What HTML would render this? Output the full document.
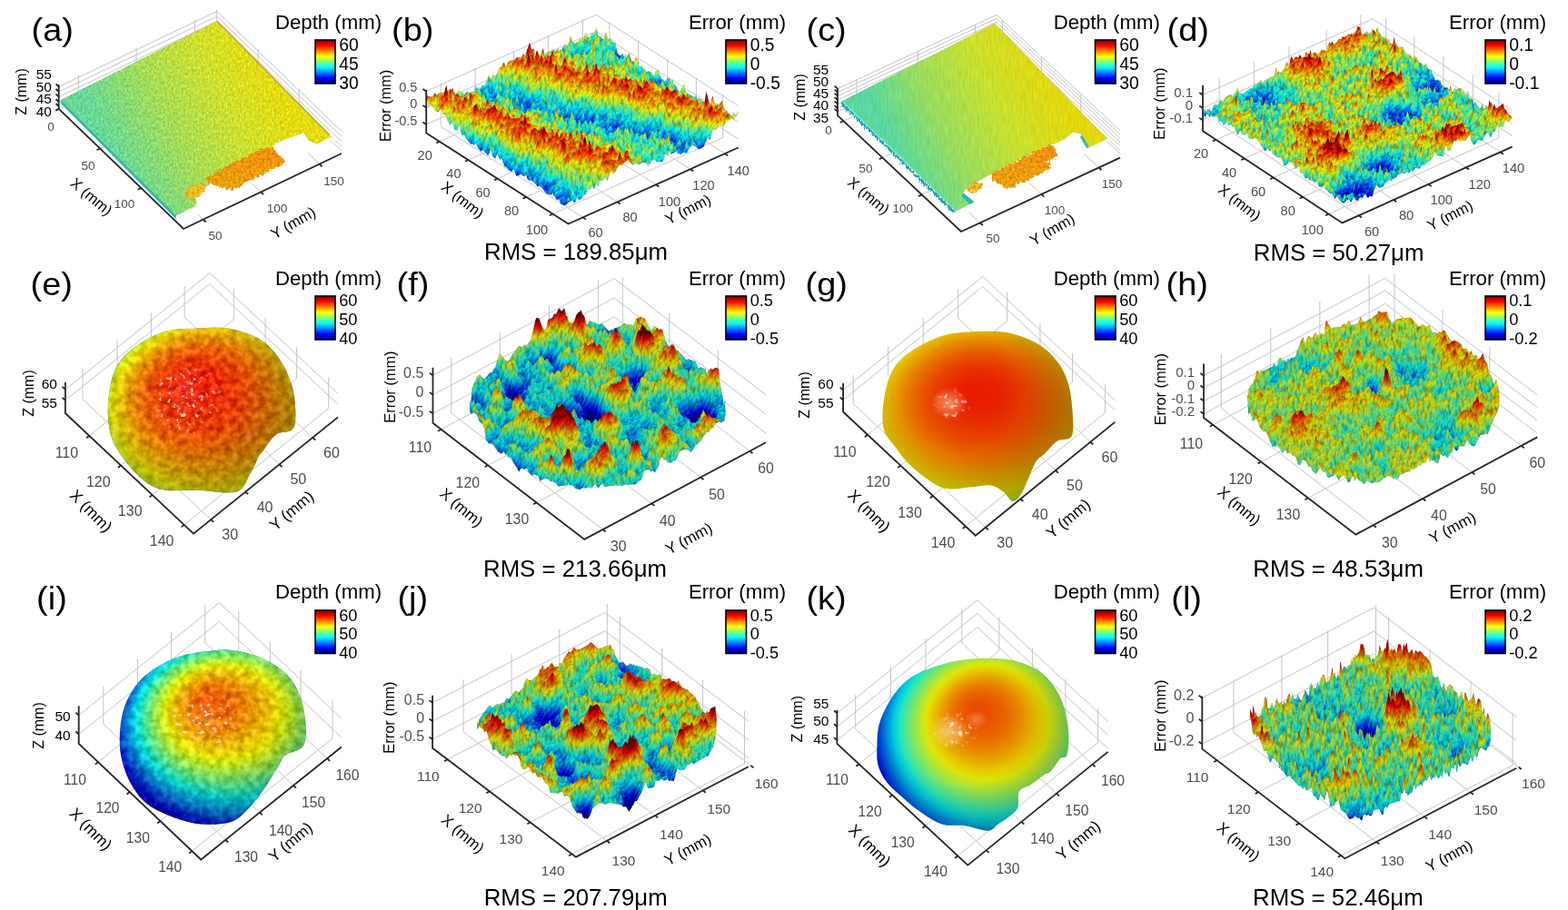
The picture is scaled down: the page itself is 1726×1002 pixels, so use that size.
<!DOCTYPE html><html><head><meta charset="utf-8"><style>html,body{margin:0;padding:0;background:#fff;overflow:hidden}svg{display:block}text{font-family:'Liberation Sans', Arial, Helvetica, sans-serif}</style></head><body>
<svg width="1726" height="1002" viewBox="0 0 1726 1002">
<defs><linearGradient id="jetv" x1="0" y1="1" x2="0" y2="0"><stop offset="0" stop-color="#000080"/><stop offset="0.125" stop-color="#0000ff"/><stop offset="0.375" stop-color="#00ffff"/><stop offset="0.625" stop-color="#ffff00"/><stop offset="0.875" stop-color="#ff0000"/><stop offset="1" stop-color="#800000"/></linearGradient><filter id="tx" x="0" y="0" width="1" height="1" color-interpolation-filters="sRGB"><feTurbulence type="fractalNoise" baseFrequency="0.35 0.12" numOctaves="2" seed="7"/><feColorMatrix type="matrix" values="1 0 0 0 0 1 0 0 0 0 1 0 0 0 0 0 0 0 0 1"/><feComponentTransfer result="n"><feFuncR type="linear" slope="0.9" intercept="0.5"/><feFuncG type="linear" slope="0.9" intercept="0.5"/><feFuncB type="linear" slope="0.9" intercept="0.5"/></feComponentTransfer><feComposite in="SourceGraphic" in2="n" operator="arithmetic" k1="1"/></filter><linearGradient id="gb" gradientUnits="userSpaceOnUse" x1="938.4" y1="274.0" x2="911.1" y2="213.2"><stop offset="0" stop-color="#000079"/><stop offset="0.125" stop-color="#0000f2"/><stop offset="0.375" stop-color="#00f2f2"/><stop offset="0.625" stop-color="#f2f200"/><stop offset="0.875" stop-color="#f20000"/><stop offset="1" stop-color="#790000"/></linearGradient><linearGradient id="gd" gradientUnits="userSpaceOnUse" x1="2648.0" y1="268.4" x2="2625.5" y2="218.1"><stop offset="0" stop-color="#000077"/><stop offset="0.125" stop-color="#0000ed"/><stop offset="0.375" stop-color="#00eded"/><stop offset="0.625" stop-color="#eded00"/><stop offset="0.875" stop-color="#ed0000"/><stop offset="1" stop-color="#770000"/></linearGradient><linearGradient id="gf" gradientUnits="userSpaceOnUse" x1="953.0" y1="907.2" x2="917.5" y2="840.7"><stop offset="0" stop-color="#00006e"/><stop offset="0.125" stop-color="#0000db"/><stop offset="0.375" stop-color="#00dbdb"/><stop offset="0.625" stop-color="#dbdb00"/><stop offset="0.875" stop-color="#db0000"/><stop offset="1" stop-color="#6e0000"/></linearGradient><linearGradient id="gh" gradientUnits="userSpaceOnUse" x1="2650.0" y1="905.6" x2="2613.3" y2="837.2"><stop offset="0" stop-color="#00006e"/><stop offset="0.125" stop-color="#0000db"/><stop offset="0.375" stop-color="#00dbdb"/><stop offset="0.625" stop-color="#dbdb00"/><stop offset="0.875" stop-color="#db0000"/><stop offset="1" stop-color="#6e0000"/></linearGradient><linearGradient id="gj" gradientUnits="userSpaceOnUse" x1="952.2" y1="1624.2" x2="918.9" y2="1560.6"><stop offset="0" stop-color="#00006e"/><stop offset="0.125" stop-color="#0000db"/><stop offset="0.375" stop-color="#00dbdb"/><stop offset="0.625" stop-color="#dbdb00"/><stop offset="0.875" stop-color="#db0000"/><stop offset="1" stop-color="#6e0000"/></linearGradient><linearGradient id="gl" gradientUnits="userSpaceOnUse" x1="2646.6" y1="1637.7" x2="2606.1" y2="1560.8"><stop offset="0" stop-color="#00006e"/><stop offset="0.125" stop-color="#0000db"/><stop offset="0.375" stop-color="#00dbdb"/><stop offset="0.625" stop-color="#dbdb00"/><stop offset="0.875" stop-color="#db0000"/><stop offset="1" stop-color="#6e0000"/></linearGradient><linearGradient id="pa" gradientUnits="userSpaceOnUse" x1="130" y1="175" x2="300" y2="87"><stop offset="0" stop-color="#68d898"/><stop offset="0.35" stop-color="#a4dc58"/><stop offset="0.7" stop-color="#cfe030"/><stop offset="1" stop-color="#e4dc10"/></linearGradient><linearGradient id="ob" x1="0" y1="0" x2="0" y2="1"><stop offset="0" stop-color="#f08a10"/><stop offset="1" stop-color="#e0a010"/></linearGradient><linearGradient id="pc" gradientUnits="userSpaceOnUse" x1="990" y1="173" x2="1157" y2="89"><stop offset="0" stop-color="#58d8a0"/><stop offset="0.3" stop-color="#98dc60"/><stop offset="0.65" stop-color="#c8e030"/><stop offset="1" stop-color="#e2d810"/></linearGradient><filter id="ptex" x="0" y="0" width="1" height="1" color-interpolation-filters="sRGB"><feTurbulence type="fractalNoise" baseFrequency="0.45 0.3" numOctaves="2" seed="4"/><feColorMatrix type="matrix" values="1 0 0 0 0 1 0 0 0 0 1 0 0 0 0 0 0 0 0 1" result="g"/><feComposite in="SourceGraphic" in2="g" operator="arithmetic" k2="1" k3="0.3" k4="-0.15" result="c"/><feComposite in="c" in2="SourceAlpha" operator="in"/></filter><filter id="ptex2" x="0" y="0" width="1" height="1" color-interpolation-filters="sRGB"><feTurbulence type="fractalNoise" baseFrequency="0.5 0.08" numOctaves="1" seed="5"/><feColorMatrix type="matrix" values="1 0 0 0 0 1 0 0 0 0 1 0 0 0 0 0 0 0 0 1" result="g"/><feComposite in="SourceGraphic" in2="g" operator="arithmetic" k2="1" k3="0.12" k4="-0.06" result="c"/><feComposite in="c" in2="SourceAlpha" operator="in"/></filter><filter id="dtex" x="0" y="0" width="1" height="1" color-interpolation-filters="sRGB"><feTurbulence type="fractalNoise" baseFrequency="0.13" numOctaves="2" seed="8"/><feColorMatrix type="matrix" values="1 0 0 0 0 1 0 0 0 0 1 0 0 0 0 0 0 0 0 1" result="g"/><feComposite in="SourceGraphic" in2="g" operator="arithmetic" k2="1" k3="0.5" k4="-0.25" result="c"/><feComposite in="c" in2="SourceAlpha" operator="in"/></filter><filter id="rough2" x="-5%" y="-20%" width="110%" height="140%"><feTurbulence type="fractalNoise" baseFrequency="0.6 0.2" numOctaves="2" seed="6" result="n"/><feDisplacementMap in="SourceGraphic" in2="n" scale="7" xChannelSelector="R" yChannelSelector="G"/></filter><filter id="rough" x="-10%" y="-10%" width="120%" height="120%"><feTurbulence type="fractalNoise" baseFrequency="0.35" numOctaves="2" seed="3" result="n"/><feDisplacementMap in="SourceGraphic" in2="n" scale="6" xChannelSelector="R" yChannelSelector="G" result="d"/><feColorMatrix in="n" type="matrix" values="0 0 0 1 0 0 0 0 1 0 0 0 0 1 0 0 0 0 0 1" result="g"/><feComposite in="d" in2="g" operator="arithmetic" k1="1.2" k2="0.45" result="m"/><feComposite in="m" in2="d" operator="in"/></filter><radialGradient id="spg"><stop offset="0" stop-color="#fff" stop-opacity="1"/><stop offset="0.6" stop-color="#fff" stop-opacity="0.7"/><stop offset="1" stop-color="#fff" stop-opacity="0"/></radialGradient><filter id="spec" x="0" y="0" width="1" height="1" color-interpolation-filters="sRGB"><feTurbulence type="fractalNoise" baseFrequency="0.2" numOctaves="2" seed="11"/><feColorMatrix type="matrix" values="0 0 0 0 1 0 0 0 0 0.97 0 0 0 0 0.9 5 0 0 0 -2.85"/><feComposite in2="SourceAlpha" operator="in"/></filter><radialGradient id="shde" gradientUnits="userSpaceOnUse" cx="200" cy="420" r="125"><stop offset="0" stop-color="#000" stop-opacity="0"/><stop offset="0.55" stop-color="#000" stop-opacity="0.03"/><stop offset="1" stop-color="#000" stop-opacity="0.28"/></radialGradient><radialGradient id="shdg" gradientUnits="userSpaceOnUse" cx="1055" cy="430" r="130"><stop offset="0" stop-color="#000" stop-opacity="0"/><stop offset="0.55" stop-color="#000" stop-opacity="0.03"/><stop offset="1" stop-color="#000" stop-opacity="0.28"/></radialGradient><radialGradient id="shdi" gradientUnits="userSpaceOnUse" cx="225" cy="770" r="135"><stop offset="0" stop-color="#000" stop-opacity="0"/><stop offset="0.55" stop-color="#000" stop-opacity="0.03"/><stop offset="1" stop-color="#000" stop-opacity="0.28"/></radialGradient><radialGradient id="shdk" gradientUnits="userSpaceOnUse" cx="1060" cy="790" r="135"><stop offset="0" stop-color="#000" stop-opacity="0"/><stop offset="0.55" stop-color="#000" stop-opacity="0.03"/><stop offset="1" stop-color="#000" stop-opacity="0.28"/></radialGradient><radialGradient id="hl"><stop offset="0" stop-color="#fff8e0" stop-opacity="0.9"/><stop offset="0.6" stop-color="#fff0c0" stop-opacity="0.45"/><stop offset="1" stop-color="#fff0c0" stop-opacity="0"/></radialGradient><radialGradient id="de" gradientUnits="userSpaceOnUse" gradientTransform="matrix(1 0 0 0.8541 0 0)" cx="242.4" cy="538.8" r="153.8" fx="208.6" fy="493.7"><stop offset="0.00" stop-color="#eb1700"/><stop offset="0.05" stop-color="#eb1900"/><stop offset="0.10" stop-color="#eb1d00"/><stop offset="0.15" stop-color="#eb2300"/><stop offset="0.20" stop-color="#eb2b00"/><stop offset="0.25" stop-color="#eb3600"/><stop offset="0.30" stop-color="#eb4200"/><stop offset="0.35" stop-color="#eb5000"/><stop offset="0.40" stop-color="#eb6000"/><stop offset="0.45" stop-color="#eb7200"/><stop offset="0.50" stop-color="#eb8600"/><stop offset="0.55" stop-color="#eb9c00"/><stop offset="0.60" stop-color="#ebb300"/><stop offset="0.65" stop-color="#ebcc00"/><stop offset="0.70" stop-color="#ebe700"/><stop offset="0.75" stop-color="#d2eb19"/><stop offset="0.80" stop-color="#b3eb37"/><stop offset="0.85" stop-color="#93eb57"/><stop offset="0.90" stop-color="#72eb79"/><stop offset="0.95" stop-color="#4feb9c"/><stop offset="1.00" stop-color="#2aebc1"/></radialGradient><radialGradient id="dg" gradientUnits="userSpaceOnUse" gradientTransform="matrix(1 0 0 0.7857 0 0)" cx="1086.8" cy="579.3" r="158.6" fx="1075.5" fy="549.4"><stop offset="0.00" stop-color="#eb1a00"/><stop offset="0.05" stop-color="#eb1b00"/><stop offset="0.10" stop-color="#eb1e00"/><stop offset="0.15" stop-color="#eb2200"/><stop offset="0.20" stop-color="#eb2900"/><stop offset="0.25" stop-color="#eb3100"/><stop offset="0.30" stop-color="#eb3b00"/><stop offset="0.35" stop-color="#eb4600"/><stop offset="0.40" stop-color="#eb5400"/><stop offset="0.45" stop-color="#eb6300"/><stop offset="0.50" stop-color="#eb7400"/><stop offset="0.55" stop-color="#eb8600"/><stop offset="0.60" stop-color="#eb9b00"/><stop offset="0.65" stop-color="#ebb100"/><stop offset="0.70" stop-color="#ebc900"/><stop offset="0.75" stop-color="#ebe200"/><stop offset="0.80" stop-color="#d7eb13"/><stop offset="0.85" stop-color="#baeb30"/><stop offset="0.90" stop-color="#9ceb4f"/><stop offset="0.95" stop-color="#7beb6f"/><stop offset="1.00" stop-color="#59eb92"/></radialGradient><radialGradient id="di" gradientUnits="userSpaceOnUse" gradientTransform="matrix(1 0 0 0.7974 0 0)" cx="277.0" cy="1013.0" r="178.5" fx="229.1" fy="967.2"><stop offset="0.00" stop-color="#eb5700"/><stop offset="0.05" stop-color="#eb5b00"/><stop offset="0.10" stop-color="#eb6700"/><stop offset="0.15" stop-color="#eb7800"/><stop offset="0.20" stop-color="#eb8e00"/><stop offset="0.25" stop-color="#eba800"/><stop offset="0.30" stop-color="#ebc700"/><stop offset="0.35" stop-color="#ebe900"/><stop offset="0.40" stop-color="#c6eb25"/><stop offset="0.45" stop-color="#9ceb4f"/><stop offset="0.50" stop-color="#6eeb7d"/><stop offset="0.55" stop-color="#3debae"/><stop offset="0.60" stop-color="#08ebe2"/><stop offset="0.65" stop-color="#00bbeb"/><stop offset="0.70" stop-color="#0080eb"/><stop offset="0.75" stop-color="#0041eb"/><stop offset="0.80" stop-color="#0000ea"/><stop offset="0.85" stop-color="#0000a6"/><stop offset="0.90" stop-color="#000075"/><stop offset="0.95" stop-color="#000075"/><stop offset="1.00" stop-color="#000075"/></radialGradient><radialGradient id="dk" gradientUnits="userSpaceOnUse" gradientTransform="matrix(1 0 0 0.9267 0 0)" cx="1103.8" cy="879.4" r="170.6" fx="1075.7" fy="843.3"><stop offset="0.00" stop-color="#eb4a00"/><stop offset="0.05" stop-color="#eb4d00"/><stop offset="0.10" stop-color="#eb5700"/><stop offset="0.15" stop-color="#eb6500"/><stop offset="0.20" stop-color="#eb7800"/><stop offset="0.25" stop-color="#eb9100"/><stop offset="0.30" stop-color="#ebad00"/><stop offset="0.35" stop-color="#ebce00"/><stop offset="0.40" stop-color="#e1eb09"/><stop offset="0.45" stop-color="#b8eb33"/><stop offset="0.50" stop-color="#89eb61"/><stop offset="0.55" stop-color="#57eb93"/><stop offset="0.60" stop-color="#21ebca"/><stop offset="0.65" stop-color="#00d1eb"/><stop offset="0.70" stop-color="#0093eb"/><stop offset="0.75" stop-color="#0051eb"/><stop offset="0.80" stop-color="#000aeb"/><stop offset="0.85" stop-color="#0000ab"/><stop offset="0.90" stop-color="#000075"/><stop offset="0.95" stop-color="#000075"/><stop offset="1.00" stop-color="#000075"/></radialGradient></defs>
<rect width="100%" height="100%" fill="#fff"/>
<path d="M64.7 119.9L238.7 36.9L238.7 10.2M110.0 163.5L284.0 80.5L284.0 53.8M155.3 207.1L329.3 124.1L329.3 97.4M223.6 241.7L86.3 109.6L86.3 82.9M287.3 211.3L150.0 79.2L150.0 52.5M351.6 180.6L214.3 48.5L214.3 21.8M64.7 117.1L238.7 34.1L376.0 166.2M64.7 112.3L238.7 29.3L376.0 161.4M64.7 106.7L238.7 23.7L376.0 155.8M64.7 101.1L238.7 18.1L376.0 150.2M64.7 95.5L238.7 12.5L376.0 144.6" fill="none" stroke="#c0c0c0" stroke-width="0.9"/>
<path d="M483.8 155.9L670.9 71.8L670.9 24.3M515.5 176.1L702.6 92.0L702.6 44.5M547.7 196.8L734.8 112.7L734.8 65.2M579.3 216.9L766.4 132.8L766.4 85.3M608.5 235.6L795.6 151.5L795.6 104.0M641.6 239.4L485.2 139.3L485.2 91.8M679.5 222.4L523.1 122.3L523.1 74.8M722.0 203.3L565.6 103.2L565.6 55.7M759.8 186.3L603.4 86.2L603.4 38.7M797.9 169.2L641.5 69.1L641.5 21.6M469.2 137.0L656.3 52.9L812.7 153.0M469.2 118.5L656.3 34.4L812.7 134.5M469.2 100.4L656.3 16.3L812.7 116.4" fill="none" stroke="#c0c0c0" stroke-width="0.9"/>
<path d="M928.5 133.3L1103.5 51.9L1103.5 21.9M971.4 173.6L1146.4 92.2L1146.4 62.2M1014.8 214.4L1189.8 133.0L1189.8 103.0M1078.8 245.3L942.8 117.5L942.8 87.5M1146.4 213.9L1010.4 86.1L1010.4 56.1M1209.5 184.5L1073.5 56.7L1073.5 26.7M922.0 122.9L1097.0 41.5L1233.0 169.3M922.0 119.3L1097.0 37.9L1233.0 165.7M922.0 114.5L1097.0 33.1L1233.0 160.9M922.0 110.1L1097.0 28.7L1233.0 156.5M922.0 105.7L1097.0 24.3L1233.0 152.1M922.0 101.7L1097.0 20.3L1233.0 148.1M922.0 97.7L1097.0 16.3L1233.0 144.1" fill="none" stroke="#c0c0c0" stroke-width="0.9"/>
<path d="M1338.6 153.9L1525.7 70.1L1525.7 19.7M1369.8 174.5L1556.9 90.7L1556.9 40.3M1401.8 195.5L1588.9 111.7L1588.9 61.3M1434.2 216.9L1621.3 133.1L1621.3 82.7M1462.7 235.6L1649.8 151.8L1649.8 101.4M1495.6 237.3L1342.1 136.2L1342.1 85.8M1533.9 220.1L1380.4 119.0L1380.4 68.6M1572.4 202.9L1418.9 101.8L1418.9 51.4M1613.6 184.4L1460.1 83.3L1460.1 32.9M1651.4 167.5L1497.9 66.4L1497.9 16.0M1324.0 132.2L1511.1 48.4L1664.6 149.5M1324.0 119.1L1511.1 35.3L1664.6 136.4M1324.0 104.5L1511.1 20.7L1664.6 121.8" fill="none" stroke="#c0c0c0" stroke-width="0.9"/>
<path d="M98.3 479.8L257.3 351.6L257.3 317.3M133.0 512.5L292.0 384.3L292.0 350.0M167.6 544.9L326.6 416.7L326.6 382.4M202.7 577.9L361.7 449.7L361.7 415.4M232.1 572.2L91.0 439.6L91.0 405.3M270.2 541.5L129.1 408.9L129.1 374.6M307.5 511.4L166.4 378.8L166.4 344.5M344.2 481.8L203.1 349.2L203.1 314.9M71.9 440.9L230.9 312.7L372.0 445.3M71.9 428.9L230.9 300.7L372.0 433.3" fill="none" stroke="#c0c0c0" stroke-width="0.9"/>
<path d="M485.6 472.8L685.3 366.2L685.3 305.2M537.1 512.3L736.8 405.7L736.8 344.7M590.6 553.4L790.3 446.8L790.3 385.8M663.5 583.1L496.7 455.0L496.7 394.0M717.2 554.5L550.4 426.4L550.4 365.4M771.3 525.6L604.5 397.5L604.5 336.5M825.4 496.7L658.6 368.6L658.6 307.6M476.5 455.4L676.2 348.8L843.0 476.9M476.5 434.7L676.2 328.1L843.0 456.2M476.5 413.3L676.2 306.7L843.0 434.8" fill="none" stroke="#c0c0c0" stroke-width="0.9"/>
<path d="M955.0 478.7L1108.6 353.6L1108.6 322.1M991.3 512.6L1144.9 387.5L1144.9 356.0M1026.9 545.8L1180.5 420.7L1180.5 389.2M1062.9 579.5L1216.5 454.4L1216.5 422.9M1084.9 580.7L939.2 444.5L939.2 413.0M1123.4 549.3L977.7 413.1L977.7 381.6M1161.9 518.0L1016.2 381.8L1016.2 350.3M1200.4 486.6L1054.7 350.4L1054.7 318.9M928.1 440.6L1081.7 315.5L1227.4 451.7M928.1 429.6L1081.7 304.5L1227.4 440.7" fill="none" stroke="#c0c0c0" stroke-width="0.9"/>
<path d="M1335.2 467.8L1535.0 360.6L1535.0 301.1M1388.2 508.5L1588.0 401.3L1588.0 341.8M1440.0 548.3L1639.8 441.1L1639.8 381.6M1511.7 578.2L1344.3 449.6L1344.3 390.1M1566.2 549.0L1398.8 420.4L1398.8 360.9M1620.2 520.0L1452.8 391.4L1452.8 331.9M1674.5 490.9L1507.1 362.3L1507.1 302.8M1325.0 455.8L1524.8 348.6L1692.2 477.2M1325.0 441.6L1524.8 334.4L1692.2 463.0M1325.0 427.3L1524.8 320.1L1692.2 448.7M1325.0 413.6L1524.8 306.4L1692.2 435.0" fill="none" stroke="#c0c0c0" stroke-width="0.9"/>
<path d="M108.0 839.1L262.7 715.1L262.7 673.5M142.7 872.0L297.4 748.0L297.4 706.4M176.4 904.0L331.1 780.0L331.1 738.4M211.3 937.1L366.0 813.1L366.0 771.5M248.3 924.8L113.8 797.2L113.8 755.6M285.9 894.7L151.4 767.1L151.4 725.5M323.0 864.9L188.5 737.3L188.5 695.7M360.2 835.1L225.7 707.5L225.7 665.9M86.7 808.5L241.4 684.5L375.9 812.1M86.7 787.7L241.4 663.7L375.9 791.3" fill="none" stroke="#c0c0c0" stroke-width="0.9"/>
<path d="M492.6 836.2L682.4 736.8L682.4 678.9M538.9 871.4L728.7 772.0L728.7 714.1M583.8 905.5L773.6 806.1L773.6 748.2M629.7 940.3L819.5 840.9L819.5 783.0M668.0 925.8L510.1 805.9L510.1 748.0M721.0 898.0L563.1 778.1L563.1 720.2M773.7 870.4L615.8 750.5L615.8 692.6M826.3 842.9L668.4 723.0L668.4 665.1M476.1 814.1L665.9 714.7L823.8 834.6M476.1 794.2L665.9 694.8L823.8 814.7M476.1 773.8L665.9 674.4L823.8 794.3" fill="none" stroke="#c0c0c0" stroke-width="0.9"/>
<path d="M945.5 841.3L1099.8 716.6L1099.8 679.4M982.1 875.3L1136.4 750.6L1136.4 713.4M1018.6 909.2L1172.9 784.5L1172.9 747.3M1054.2 942.3L1208.5 817.6L1208.5 780.4M1085.6 936.2L941.7 802.5L941.7 765.3M1124.4 904.8L980.5 771.1L980.5 733.9M1162.9 873.7L1019.0 740.0L1019.0 702.8M1202.7 841.6L1058.8 707.9L1058.8 670.7M921.4 815.2L1075.7 690.5L1219.6 824.2M921.4 800.3L1075.7 675.6L1219.6 809.3M921.4 785.4L1075.7 660.7L1219.6 794.4" fill="none" stroke="#c0c0c0" stroke-width="0.9"/>
<path d="M1339.7 837.2L1528.6 737.8L1528.6 680.0M1385.2 872.1L1574.1 772.7L1574.1 714.9M1430.1 906.6L1619.0 807.2L1619.0 749.4M1476.2 942.0L1665.1 842.6L1665.1 784.8M1515.0 927.0L1357.9 806.4L1357.9 748.6M1568.0 899.1L1410.9 778.5L1410.9 720.7M1618.7 872.4L1461.6 751.8L1461.6 694.0M1671.6 844.6L1514.5 724.0L1514.5 666.2M1323.3 819.4L1512.2 720.0L1669.3 840.6M1323.3 794.5L1512.2 695.1L1669.3 815.7M1323.3 768.5L1512.2 669.1L1669.3 789.7" fill="none" stroke="#c0c0c0" stroke-width="0.9"/>
<polygon points="67.0,110.0 194.0,237.5 194.0,241.5 67.0,114.0" fill="#2bb8a8"/><polygon points="67.0,110.0 238.7,23.0 364.6,150.5 194.0,237.5" fill="url(#pa)" filter="url(#ptex)"/><polyline points="238.7,23.0 362.6,148.5" fill="none" stroke="#c8a020" stroke-width="1.5"/><polygon points="193.0,239.0 201.0,234.6 212.0,230.4 216.6,223.4 215.0,216.4 222.0,209.4 240.0,196.0 262.0,186.0 282.0,176.0 300.0,163.0 303.0,158.0 318.0,152.0 330.0,148.0 334.0,146.0 340.0,155.0 350.0,159.0 364.0,151.0 368.0,153.0 200.0,245.0" fill="#fff"/><polygon points="226.0,196.0 243.0,187.0 264.0,176.0 286.0,165.0 299.0,162.0 306.0,169.0 310.0,175.0 314.0,178.0 309.0,183.0 300.0,186.0 290.0,192.0 280.0,197.0 270.0,200.0 262.0,207.0 254.0,209.0 245.0,207.0 236.0,203.0 228.0,201.0" fill="url(#ob)" filter="url(#rough)"/><polygon points="204.0,212.0 208.0,206.0 216.0,203.0 226.0,202.0 226.0,210.0 218.0,217.0 210.0,220.0 206.0,217.0" fill="#e8b820" filter="url(#rough)"/><polygon points="926.0,111.4 1053.0,234.0 1053.0,238.0 926.0,115.4" fill="#2a9cb4" filter="url(#rough2)"/><polygon points="926.0,111.4 1095.0,25.5 1219.0,152.8 1053.0,234.0" fill="url(#pc)" filter="url(#ptex2)"/><polyline points="927.5,111.7 1053.5,233.5" fill="none" stroke="#7ff0d8" stroke-width="1.2" opacity="0.8"/><polygon points="1046.0,236.0 1072.3,222.2 1060.4,212.6 1064.0,206.6 1090.0,192.3 1117.8,177.9 1153.8,160.0 1159.8,158.7 1171.7,153.4 1181.3,145.6 1186.0,146.8 1191.0,148.0 1199.3,162.3 1202.9,161.7 1218.4,152.8 1222.0,155.0 1050.0,242.0" fill="#fff"/><polygon points="1060.4,212.6 1072.3,222.2 1068.0,225.0 1058.0,216.0" fill="#30b8b0"/><polygon points="1191.0,148.0 1199.3,162.3 1196.0,163.0 1189.0,151.0" fill="#40b8a0"/><polygon points="1091.5,191.0 1117.8,177.9 1152.6,160.0 1159.8,161.1 1164.6,170.7 1153.8,177.9 1157.4,185.0 1147.8,189.9 1138.2,194.7 1131.0,199.5 1119.0,201.9 1116.6,206.6 1107.0,207.8 1099.9,201.9 1092.7,198.3" fill="url(#ob)" filter="url(#rough)"/><polygon points="1064.0,206.6 1073.5,199.5 1081.9,201.9 1080.7,206.6 1073.5,211.4 1066.3,211.4" fill="#e8b020" filter="url(#rough)"/><path d="M216.6 361.6C204.9 362.2 192.7 361.8 181.6 365.0C170.5 368.2 158.9 374.7 150.2 380.8C141.5 386.9 134.1 393.7 129.2 401.8C124.2 409.9 122.2 420.4 120.5 429.7C118.8 439.0 118.2 448.4 118.8 457.7C119.4 467.0 120.5 476.9 124.0 485.6C127.5 494.3 133.6 502.4 139.7 510.0C145.8 517.6 153.7 526.0 160.7 531.0C167.7 536.0 172.3 538.2 181.6 539.7C190.9 541.2 203.5 539.4 216.6 539.7C229.7 540.0 250.3 544.7 260.2 541.5C270.1 538.3 271.9 526.9 276.0 520.5C280.1 514.1 282.4 507.1 284.7 503.0C287.0 498.9 286.8 500.1 290.0 496.0C293.2 491.9 298.4 482.7 303.9 478.6C309.4 474.5 319.6 477.4 323.1 471.6C326.6 465.8 325.4 452.4 324.8 443.7C324.2 435.0 322.5 427.3 319.6 419.2C316.7 411.1 312.9 402.4 307.4 394.8C301.9 387.2 295.7 379.3 286.4 373.8C277.1 368.3 263.1 363.6 251.5 361.6C239.9 359.6 228.2 361.0 216.6 361.6Z" fill="url(#de)" filter="url(#dtex)"/><path d="M216.6 361.6C204.9 362.2 192.7 361.8 181.6 365.0C170.5 368.2 158.9 374.7 150.2 380.8C141.5 386.9 134.1 393.7 129.2 401.8C124.2 409.9 122.2 420.4 120.5 429.7C118.8 439.0 118.2 448.4 118.8 457.7C119.4 467.0 120.5 476.9 124.0 485.6C127.5 494.3 133.6 502.4 139.7 510.0C145.8 517.6 153.7 526.0 160.7 531.0C167.7 536.0 172.3 538.2 181.6 539.7C190.9 541.2 203.5 539.4 216.6 539.7C229.7 540.0 250.3 544.7 260.2 541.5C270.1 538.3 271.9 526.9 276.0 520.5C280.1 514.1 282.4 507.1 284.7 503.0C287.0 498.9 286.8 500.1 290.0 496.0C293.2 491.9 298.4 482.7 303.9 478.6C309.4 474.5 319.6 477.4 323.1 471.6C326.6 465.8 325.4 452.4 324.8 443.7C324.2 435.0 322.5 427.3 319.6 419.2C316.7 411.1 312.9 402.4 307.4 394.8C301.9 387.2 295.7 379.3 286.4 373.8C277.1 368.3 263.1 363.6 251.5 361.6C239.9 359.6 228.2 361.0 216.6 361.6Z" fill="url(#shde)"/><ellipse cx="205" cy="430" rx="25" ry="28" fill="url(#hl)" opacity="0.15"/><ellipse cx="205" cy="440" rx="45" ry="45" fill="url(#spg)" filter="url(#spec)" opacity="1"/><path d="M1080.0 365.0C1068.3 365.3 1053.8 365.4 1041.6 368.6C1029.4 371.8 1016.3 378.2 1006.7 384.3C997.1 390.4 989.5 396.6 984.0 405.3C978.5 414.0 975.4 425.6 973.5 436.7C971.6 447.8 970.5 462.3 972.5 471.6C974.5 480.9 981.2 486.2 985.7 492.6C990.2 499.0 993.9 504.2 999.7 510.0C1005.5 515.8 1013.7 522.8 1020.7 527.5C1027.7 532.2 1033.4 536.5 1041.6 538.0C1049.8 539.5 1061.4 536.8 1069.6 536.2C1077.8 535.6 1084.7 533.6 1090.5 534.5C1096.3 535.4 1100.4 538.6 1104.5 541.5C1108.6 544.4 1111.5 552.0 1115.0 552.0C1118.5 552.0 1121.4 548.5 1125.5 541.5C1129.6 534.5 1135.3 517.0 1139.4 510.0C1143.5 503.0 1145.9 503.7 1150.0 499.6C1154.1 495.5 1159.0 488.8 1163.9 485.6C1168.8 482.4 1176.8 485.6 1179.6 480.4C1182.4 475.2 1181.2 463.8 1180.6 454.2C1180.0 444.6 1178.8 432.0 1176.0 422.7C1173.2 413.4 1169.4 405.6 1163.9 398.3C1158.4 391.0 1151.7 384.2 1143.0 379.0C1134.3 373.8 1122.0 369.1 1111.5 366.8C1101.0 364.5 1091.7 364.7 1080.0 365.0Z" fill="url(#dg)"/><path d="M1080.0 365.0C1068.3 365.3 1053.8 365.4 1041.6 368.6C1029.4 371.8 1016.3 378.2 1006.7 384.3C997.1 390.4 989.5 396.6 984.0 405.3C978.5 414.0 975.4 425.6 973.5 436.7C971.6 447.8 970.5 462.3 972.5 471.6C974.5 480.9 981.2 486.2 985.7 492.6C990.2 499.0 993.9 504.2 999.7 510.0C1005.5 515.8 1013.7 522.8 1020.7 527.5C1027.7 532.2 1033.4 536.5 1041.6 538.0C1049.8 539.5 1061.4 536.8 1069.6 536.2C1077.8 535.6 1084.7 533.6 1090.5 534.5C1096.3 535.4 1100.4 538.6 1104.5 541.5C1108.6 544.4 1111.5 552.0 1115.0 552.0C1118.5 552.0 1121.4 548.5 1125.5 541.5C1129.6 534.5 1135.3 517.0 1139.4 510.0C1143.5 503.0 1145.9 503.7 1150.0 499.6C1154.1 495.5 1159.0 488.8 1163.9 485.6C1168.8 482.4 1176.8 485.6 1179.6 480.4C1182.4 475.2 1181.2 463.8 1180.6 454.2C1180.0 444.6 1178.8 432.0 1176.0 422.7C1173.2 413.4 1169.4 405.6 1163.9 398.3C1158.4 391.0 1151.7 384.2 1143.0 379.0C1134.3 373.8 1122.0 369.1 1111.5 366.8C1101.0 364.5 1091.7 364.7 1080.0 365.0Z" fill="url(#shdg)"/><ellipse cx="1045" cy="444" rx="20" ry="17" fill="url(#hl)" opacity="0.5"/><ellipse cx="1048" cy="446" rx="22" ry="20" fill="url(#spg)" filter="url(#spec)" opacity="0.9"/><path d="M238.5 715.9C228.9 716.7 213.2 718.3 202.4 721.3C191.6 724.3 181.9 728.9 173.5 734.0C165.1 739.1 157.8 744.8 151.8 752.0C145.8 759.2 140.6 768.3 137.3 777.3C134.0 786.3 132.5 796.6 131.9 806.2C131.3 815.9 131.6 825.6 133.7 835.2C135.8 844.8 139.8 855.6 144.6 864.0C149.4 872.4 154.8 879.8 162.6 885.8C170.4 891.8 181.8 896.6 191.5 900.2C201.2 903.8 210.2 906.5 220.5 907.4C230.8 908.3 244.6 908.0 253.0 905.6C261.4 903.2 265.0 898.7 271.0 893.0C277.0 887.3 283.0 879.7 289.0 871.3C295.0 862.9 303.0 849.0 307.2 842.4C311.4 835.8 309.9 835.1 314.4 831.5C318.9 827.9 330.7 827.3 334.3 820.7C337.9 814.1 336.9 801.4 336.0 791.8C335.1 782.2 332.5 771.3 328.9 762.9C325.3 754.5 321.0 747.5 314.4 741.2C307.8 734.9 298.1 729.1 289.1 725.0C280.1 720.9 268.6 718.1 260.2 716.6C251.8 715.1 248.1 715.1 238.5 715.9Z" fill="url(#di)" filter="url(#dtex)"/><path d="M238.5 715.9C228.9 716.7 213.2 718.3 202.4 721.3C191.6 724.3 181.9 728.9 173.5 734.0C165.1 739.1 157.8 744.8 151.8 752.0C145.8 759.2 140.6 768.3 137.3 777.3C134.0 786.3 132.5 796.6 131.9 806.2C131.3 815.9 131.6 825.6 133.7 835.2C135.8 844.8 139.8 855.6 144.6 864.0C149.4 872.4 154.8 879.8 162.6 885.8C170.4 891.8 181.8 896.6 191.5 900.2C201.2 903.8 210.2 906.5 220.5 907.4C230.8 908.3 244.6 908.0 253.0 905.6C261.4 903.2 265.0 898.7 271.0 893.0C277.0 887.3 283.0 879.7 289.0 871.3C295.0 862.9 303.0 849.0 307.2 842.4C311.4 835.8 309.9 835.1 314.4 831.5C318.9 827.9 330.7 827.3 334.3 820.7C337.9 814.1 336.9 801.4 336.0 791.8C335.1 782.2 332.5 771.3 328.9 762.9C325.3 754.5 321.0 747.5 314.4 741.2C307.8 734.9 298.1 729.1 289.1 725.0C280.1 720.9 268.6 718.1 260.2 716.6C251.8 715.1 248.1 715.1 238.5 715.9Z" fill="url(#shdi)"/><ellipse cx="225" cy="790" rx="22" ry="22" fill="url(#hl)" opacity="0.15"/><ellipse cx="225" cy="795" rx="45" ry="40" fill="url(#spg)" filter="url(#spec)" opacity="0.9"/><path d="M1076.8 724.9C1064.8 725.5 1052.7 727.1 1040.7 730.4C1028.7 733.7 1014.2 738.8 1004.6 744.8C995.0 750.8 988.9 758.1 982.9 766.5C976.9 774.9 971.3 786.4 968.4 795.4C965.5 804.4 965.8 812.9 965.5 820.7C965.2 828.5 964.9 835.8 966.6 842.4C968.3 849.0 971.7 855.1 975.6 860.5C979.5 865.9 984.1 869.5 990.1 874.9C996.1 880.3 1004.0 887.6 1011.8 893.0C1019.6 898.4 1028.7 904.7 1037.1 907.4C1045.5 910.1 1054.0 908.0 1062.4 909.2C1070.8 910.4 1081.7 915.0 1087.7 914.7C1093.7 914.4 1094.9 909.8 1098.5 907.4C1102.1 905.0 1105.8 903.2 1109.4 900.2C1113.0 897.2 1118.1 894.2 1120.2 889.4C1122.3 884.6 1119.6 875.5 1122.0 871.3C1124.4 867.1 1130.2 867.0 1134.7 864.0C1139.2 861.0 1145.5 855.6 1149.1 853.2C1152.7 850.8 1153.3 852.6 1156.3 849.6C1159.3 846.6 1164.2 838.2 1167.2 835.2C1170.2 832.2 1172.9 836.3 1174.4 831.5C1175.9 826.7 1176.8 815.2 1176.2 806.2C1175.6 797.2 1173.5 785.7 1170.8 777.3C1168.1 768.9 1164.8 762.2 1160.0 755.6C1155.2 749.0 1149.7 742.4 1141.9 737.6C1134.1 732.8 1123.8 728.8 1113.0 726.7C1102.2 724.6 1088.8 724.3 1076.8 724.9Z" fill="url(#dk)"/><path d="M1076.8 724.9C1064.8 725.5 1052.7 727.1 1040.7 730.4C1028.7 733.7 1014.2 738.8 1004.6 744.8C995.0 750.8 988.9 758.1 982.9 766.5C976.9 774.9 971.3 786.4 968.4 795.4C965.5 804.4 965.8 812.9 965.5 820.7C965.2 828.5 964.9 835.8 966.6 842.4C968.3 849.0 971.7 855.1 975.6 860.5C979.5 865.9 984.1 869.5 990.1 874.9C996.1 880.3 1004.0 887.6 1011.8 893.0C1019.6 898.4 1028.7 904.7 1037.1 907.4C1045.5 910.1 1054.0 908.0 1062.4 909.2C1070.8 910.4 1081.7 915.0 1087.7 914.7C1093.7 914.4 1094.9 909.8 1098.5 907.4C1102.1 905.0 1105.8 903.2 1109.4 900.2C1113.0 897.2 1118.1 894.2 1120.2 889.4C1122.3 884.6 1119.6 875.5 1122.0 871.3C1124.4 867.1 1130.2 867.0 1134.7 864.0C1139.2 861.0 1145.5 855.6 1149.1 853.2C1152.7 850.8 1153.3 852.6 1156.3 849.6C1159.3 846.6 1164.2 838.2 1167.2 835.2C1170.2 832.2 1172.9 836.3 1174.4 831.5C1175.9 826.7 1176.8 815.2 1176.2 806.2C1175.6 797.2 1173.5 785.7 1170.8 777.3C1168.1 768.9 1164.8 762.2 1160.0 755.6C1155.2 749.0 1149.7 742.4 1141.9 737.6C1134.1 732.8 1123.8 728.8 1113.0 726.7C1102.2 724.6 1088.8 724.3 1076.8 724.9Z" fill="url(#shdk)"/><ellipse cx="1045" cy="805" rx="22" ry="19" fill="url(#hl)" opacity="0.55"/><ellipse cx="1075" cy="792" rx="12" ry="10" fill="url(#hl)" opacity="0.3"/><ellipse cx="1050" cy="805" rx="28" ry="24" fill="url(#spg)" filter="url(#spec)" opacity="0.9"/><g filter="url(#tx)"><g transform="scale(0.5)" fill="url(#gb)" stroke="#201000" stroke-opacity="0.16" stroke-width="1.1" stroke-linejoin="round"><path transform="translate(0.0 0.0)" d="M938 209l5 3 5 1 5 0 4-8 5 5 5-5 5-1 4 1 5-6 5 1 5-3 4 8 5-2 5 8 4-12 5 3 5 2 5 6 4-4 5-1 5-2 5 4 4-17 5 5 5 1 5-9 4 3 5-11 5-13 5 10 4-12 5 4 5-6 4-12 5-2 5-11 5 10 4-10 5-3 5-1 5-1 4-5 5-1 5 1 5-9 4 5 5-14 5-15 4 15 5-2 5 18 5 4 4-7 5-1 5 4 5-10 4-1 5-2 5-4 5 6 4-4 5 3 5-4 5-10 4 0 5 3 5-23 4 12 5 5 5-2 5-1 4-6 5 2 5-5 5 3 4-3 5-10 5 0 5-13 5 25-5-9-5 7-4 1-5-3-5 2-5-10-4 14-5-2-5 3-5 9-4 8-5-3-5 3-5-4-4 5-5 6-5 4-4 1-5-10-5 9-5-1-4 3-5-4-5 15-5-5-4 0-5 2-5-2-5 7-4-6-5-10-5-3-4-3-5 21-5-3-5 7-4 4-5-9-5 5-5 10-4 1-5-1-5 9-5 7-4-13-5 19-5 9-5 2-4-11-5 15-5 12-4 6-5 3-5 4-5-9-4 12-5-12-5 7-5 2-4 3-5-9-5 12-5-2-4-4-5-5-5 5-5 7-4-11-5-6-5 11-4-2-5 4-5 3-5-1-4 7-5 5-5-3-5-1-4 16z"/><path transform="translate(5.2 3.3)" d="M938 230l5-15 5 0 5 4 4-5 5-7 5 1 5-4 4-3 5 1 5-10 5 6 4 11 5-8 5-4 4 5 5 4 5 2 5-12 4 9 5-3 5-2 5-7 4 12 5-12 5 9 5-4 4-3 5-6 5-12 5-15 4 11 5-2 5-9 4-19 5 13 5-7 5-9 4 1 5-1 5-11 5-4 4 9 5-4 5-7 5 3 4-22 5 4 5 3 4 10 5 6 5-8 5 3 4-3 5 1 5 5 5-15 4 4 5-3 5 1 5-9 4 9 5 0 5-4 5-6 4-5 5 3 5-2 4 3 5-8 5-9 5-3 4 2 5-14 5 10 5-2 4 3 5-1 5-7 5 9 5-1-5-1-5-5-4 7-5 3-5 6-5-10-4 2-5 10-5-3-5 7-4-6-5 16-5-2-5 2-4-10-5 9-5 11-4-8-5 1-5 3-5 7-4 5-5-5-5-6-5 13-4 0-5-21-5 15-5 2-4 5-5-5-5-5-4 7-5 2-5 8-5-4-4 1-5-1-5 7-5-4-4 4-5 11-5 9-5-4-4 9-5 9-5 1-5 7-4 7-5 1-5 9-4 0-5-4-5 4-5 6-4-1-5-10-5 13-5-2-4 10-5-7-5 5-5 1-4 2-5 3-5 4-5-14-4 6-5-20-5 13-4 4-5 1-5 5-5-7-4 7-5 10-5 6-5 1-4-6z"/><path transform="translate(10.4 6.7)" d="M938 221l5 5 5-1 5-5 4-10 5-7 5 7 5-5 4-1 5-4 5-13 5 20 4-6 5 13 5-3 4-4 5-1 5-1 5-5 4 7 5-10 5 2 5-13 4 9 5 2 5-7 5-3 4 4 5 0 5-9 5-1 4-7 5-7 5-1 4-9 5-9 5 4 5-9 4-11 5-4 5 3 5-6 4 1 5-2 5 4 5-7 4-2 5-7 5 5 4 5 5-5 5-2 5-15 4 20 5 1 5-13 5 5 4 6 5-5 5-8 5-2 4-1 5 8 5-11 5-10 4 11 5-2 5 2 4-16 5 6 5-7 5 3 4-11 5-1 5 10 5-6 4-4 5-6 5 5 5 0 5 7-5 4-5 0-4-13-5 16-5-6-5 7-4 6-5 4-5 3-5-2-4 1-5 8-5 3-5-3-4 3-5 2-5-9-4 7-5-3-5-1-5 12-4-6-5 0-5 6-5-5-4 3-5 5-5-3-5 5-4-5-5 0-5 8-4-1-5-4-5 8-5 6-4-3-5-10-5 9-5 2-4 15-5 10-5 1-5 4-4 9-5-7-5 8-5 11-4 6-5 4-5 2-4 5-5-3-5-6-5 7-4 3-5-6-5 2-5-3-4 10-5 1-5-5-5 6-4 3-5 6-5-5-5 2-4-5-5-6-5 7-4-20-5 22-5-30-5 23-4 5-5 2-5 17-5-2-4 4z"/><path transform="translate(15.6 10.0)" d="M938 226l5-3 5 2 5-17 4-2 5-5 5-23 5 30 4-22 5 20 5-7 5 6 4 5 5-2 5 5 4-6 5-3 5-6 5 5 4-1 5-11 5 3 5-1 4 6 5-3 5-7 5 6 4 3 5-5 5-3 5-3 4-6 5-11 5-8 4 7 5-9 5-4 5-1 4-10 5-15 5-2 5-9 4 10 5 3 5-6 5-8 4 4 5 1 5-8 4 0 5 5 5-5 5 3 4-5 5-3 5 5 5-6 4 0 5 6 5-13 5 2 4 3 5-7 5 9 5-2 4-3 5 3 5-3 4-8 5-1 5 2 5-3 4-4 5-6 5-7 5 6 4-16 5 13 5 0 5-4 5 4-5-2-5 6-4-12-5 3-5 7-5-2-4 14-5-2-5 6-5 7-4-3-5 9-5-2-5 3-4 3-5-3-5 1-4-1-5 6-5 2-5-11-4-3-5-3-5 13-5 4-4 6-5-10-5 11-5-3-4-2-5-7-5-12-4 21-5-8-5 19-5-10-4 9-5 4-5-2-5 10-4-4-5 7-5 11-5 0-4 13-5 1-5 5-5 2-4 4-5-7-5 3-4 11-5 9-5-3-5-2-4 14-5-4-5 7-5-8-4-5-5-6-5-1-5 8-4-1-5 11-5-7-5 1-4 4-5 4-5-2-4 5-5-13-5 11-5 1-4-3-5 1-5 8-5 1-4 13z"/><path transform="translate(20.9 13.3)" d="M938 230l5-13 5-2 5-7 4-2 5 4 5-1 5-11 4 12 5-5 5 2 5-3 4-4 5-1 5 7 4-11 5 1 5-8 5 1 4 6 5 5 5 8 5-7 4 4 5-15 5 3 5 3 4-9 5-11 5-3 5 7 4-4 5-2 5-5 4-1 5-13 5 0 5-11 4-7 5 4 5-10 5 1 4-3 5-9 5 10 5-19 4 8 5-22 5 13 4 7 5 2 5 3 5-11 4 10 5-6 5-4 5-13 4 3 5 3 5 11 5-2 4-6 5 1 5-1 5 3 4-4 5-2 5 2 4-9 5 3 5-7 5-6 4 2 5-15 5 3 5-7 4-3 5 12 5-6 5 1 5 3-5-17-5 18-4 2-5 2-5-4-5 0-4 14-5 4-5 13-5 1-4 2-5-2-5 4-5-9-4 1-5 11-5-4-4-3-5 6-5-14-5 14-4-2-5-1-5 3-5 0-4-1-5-5-5 10-5-6-4 3-5 5-5 1-4-9-5 9-5 1-5-1-4-17-5 21-5 14-5 5-4 6-5 10-5-17-5 15-4 16-5-8-5-9-5 22-4 13-5-22-5 11-4 22-5-2-5 4-5-4-4-2-5 10-5-11-5 2-4-5-5-8-5 7-5 1-4-2-5 5-5-9-5 12-4-3-5 1-5-7-4 6-5 11-5-3-5 4-4-11-5 10-5 7-5 9-4 7z"/><path transform="translate(26.1 16.7)" d="M938 229l5-7 5-9 5-7 4-10 5 11 5-4 5 3 4-11 5-6 5 7 5-1 4 3 5-12 5 9 4-5 5 1 5 0 5-7 4 8 5 5 5-2 5 10 4-9 5 2 5 4 5-4 4 1 5-21 5-11 5 22 4-13 5-22 5 9 4 8 5-16 5-15 5 17 4-10 5-6 5-6 5-13 4-21 5 17 5 1 5-1 4-9 5 9 5-2 4-4 5-4 5 7 5-10 4 5 5 1 5 0 5-3 4 1 5 1 5-13 5 14 4-6 5 3 5 4 5-11 4-1 5 9 5-5 4 3 5-2 5-1 5-13 4-4 5-14 5 0 5 4 4-2 5-2 5-18 5 16 5-2-5 12-5-3-4 3-5 7-5 0-5 6-4-3-5-6-5 10-5 5-4 10-5-16-5 15-5-2-4-6-5 12-5-11-4 17-5-24-5 20-5 8-4-11-5 8-5-4-5-9-4 3-5-13-5 14-5-3-4 9-5 5-5-15-4 12-5 6-5 10-5 1-4 5-5-15-5 15-5 18-4-6-5 0-5 6-5 13-4 5-5-5-5 6-5 3-4 3-5 6-5 9-4 1-5 4-5 0-5-2-4-1-5 5-5-4-5-11-4 11-5-5-5-10-5 9-4 6-5-6-5 9-5-7-4 3-5 6-5 2-4-4-5-4-5 15-5-7-4 12-5 2-5 4-5-15-4 8z"/><path transform="translate(31.3 20.0)" d="M938 215l5-8 5 14 5-3 4-2 5-12 5 6 5-15 4 5 5 4 5-2 5-6 4-3 5 7 5-10 4 7 5-7 5-8 5 10 4 5 5-11 5 11 5 4 4-5 5 0 5 2 5 1 4-4 5-2 5-8 5-6 4-3 5-3 5-6 4 5 5-5 5-13 5-6 4 0 5 6 5-18 5-15 4 15 5-5 5-1 5-11 4-5 5-13 5 16 4-5 5-10 5 4 5-14 4 13 5-3 5 9 5 4 4-8 5 11 5-8 5-20 4 24 5-17 5 11 5-12 4 6 5 2 5-15 4 15 5-9 5-5 5-10 4 5 5 4 5-6 5 0 4-7 5-3 5 3 5-12 5 12-5 1-5-5-4 10-5-2-5 6-5 8-4-2-5 3-5-28-5 28-4 2-5 10-5-9-5 5-4-4-5 10-5-10-4 14-5-3-5-3-5 4-4 3-5 4-5-20-5 18-4 3-5-7-5-2-5 15-4-9-5 6-5 2-4-9-5 14-5-2-5 3-4 0-5 10-5 3-5 16-4 4-5-10-5 9-5 13-4-4-5 10-5 1-5-8-4 12-5 2-5 5-4-1-5 6-5 0-5 6-4 3-5-2-5-2-5 4-4-2-5-9-5-7-5 10-4-9-5 0-5 16-5-1-4-11-5 10-5 1-4-7-5 9-5 4-5 4-4 5-5 11-5 2-5-2-4 1z"/><path transform="translate(36.5 23.4)" d="M938 227l5-1 5 2 5-3 4-11 5-4 5-4 5-4 4-9 5 7 5-1 5-10 4 11 5 1 5-16 4 0 5 9 5-10 5 7 4 9 5 2 5-4 5 2 4 2 5-3 5-6 5-1 4-5 5 1 5-5 5-2 4-12 5 8 5-1 4-10 5 4 5-13 5-9 4 10 5-4 5-16 5-3 4-10 5 0 5-3 5 2 4-14 5 8 5-1 4-7 5 10 5-15 5 2 4 6 5-2 5-18 5 20 4-4 5-3 5-4 5 3 4 3 5-14 5 10 5-10 4 3 5-4 5 9 4-10 5-2 5-28 5 28 4-3 5 2 5-8 5-6 4 2 5-11 5 6 5-1 5 0-5 19-5-4-4 5-5 7-5-14-5 8-4-4-5 3-5 6-5-8-4-3-5 8-5 5-5-2-4 10-5 0-5 2-4-6-5 4-5 2-5-1-4 4-5-9-5 14-5-6-4 10-5-3-5 3-5 5-4-5-5-6-5-5-4 6-5 15-5-3-5 2-4-1-5 12-5 3-5 8-4 6-5-3-5 6-5 13-4 4-5 6-5-2-5-4-4 5-5-9-5 16-4 3-5-3-5-7-5 6-4 11-5 6-5 1-5-1-4 1-5 0-5-3-5 1-4-10-5 13-5-15-5-9-4 14-5 1-5-6-4 14-5-5-5 2-5 13-4 8-5-1-5 6-5-1-4-1z"/><path transform="translate(41.7 26.7)" d="M938 223l5 1 5 1 5-6 4 1 5-8 5-13 5-2 4 5 5-14 5 5 5 0 4-14 5 9 5 14 4-13 5 11 5-1 5 3 4 0 5-1 5 1 5-1 4-6 5-11 5-6 5 7 4 3 5-4 5-15 5 9 4-5 5 4 5 2 4-6 5-4 5-13 5-6 4 3 5-6 5-8 5-3 4-12 5 0 5-1 5 3 4-15 5-7 5 6 4 6 5 4 5-4 5-3 4 3 5-10 5 6 5-14 4 9 5-4 5 1 5-3 4-3 5 6 5-2 5 0 4-10 5 2 5-5 4-8 5 3 5 7 5-5 4-3 5 4 5-8 5 14 4-7 5-6 5 5 5-19 5 27-5 1-5-3-4-9-5 2-5 3-5 7-4-5-5 6-5-3-5 7-4-7-5 2-5 5-5 6-4-1-5 1-5 3-4 1-5 0-5 6-5 0-4-3-5 5-5-3-5 1-4 9-5-6-5 3-5 6-4-4-5-25-5 20-4 3-5 9-5-1-5 3-4 4-5 6-5 3-5 4-4 4-5-9-5 15-5 13-4 13-5-2-5 1-5 0-4 0-5 9-5-8-4 8-5-2-5-2-5 4-4 3-5 12-5-1-5-11-4 11-5-8-5-6-5 8-4-7-5 7-5 8-5-1-4-11-5 11-5 2-4-1-5 5-5-3-5-2-4 8-5-8-5 23-5 6-4 1z"/><path transform="translate(46.9 30.0)" d="M938 234l5-1 5-6 5-23 4 8 5-8 5 2 5 3 4-5 5 0 5-1 5-11 4 11 5 1 5-8 4-7 5 7 5-8 5 6 4 8 5-11 5 11 5 1 4-12 5-3 5-4 5 2 4 2 5-8 5 8 5-9 4 0 5 0 5-2 4 3 5-13 5-14 5-14 4 9 5-4 5-4 5-3 4-7 5-3 5-3 5 1 4-9 5-3 5-20 4 25 5 4 5-6 5-3 4 6 5-9 5-1 5 3 4-5 5 3 5-1 5-5 4 0 5-1 5-3 5-1 4 1 5-6 5-5 4-2 5 7 5-7 5 2 4-5 5 5 5-7 5-3 4-2 5 8 5 4 5-2 5 7-5 1-5 2-4-4-5-1-5-5-5-1-4 8-5 3-5-5-5 5-4 9-5-2-5 0-5 0-4 3-5-3-5 0-4-15-5 25-5-5-5-8-4 15-5 0-5-5-5 4-4-3-5 4-5 1-5-1-4 3-5-8-5 9-4-4-5 19-5-6-5 6-4 6-5 4-5-17-5 18-4 10-5-2-5 13-5 8-4-2-5 4-5 17-5 0-4-1-5-1-5-4-4 1-5 7-5 2-5-2-4 1-5 7-5-3-5-2-4 2-5 0-5-1-5 3-4-3-5 5-5 2-5-2-4 6-5-4-5-10-4 15-5-7-5-6-5 19-4-5-5 8-5 10-5 2-4 13z"/><path transform="translate(52.1 33.4)" d="M938 241l5-13 5-2 5-10 4-8 5 4 5-18 5 6 4 7 5-15 5 9 5 5 4-6 5 2 5-3 4-4 5 3 5-4 5 2 4 0 5-2 5 2 5 3 4-7 5-1 5 1 5-1 4-7 5-1 5 4 5 1 4 1 5 0 5-17 4-4 5 2 5-8 5-13 4 2 5-10 5-18 5 16 4-3 5-7 5-5 5 6 4-19 5 4 5-9 4 8 5-3 5 1 5-1 4-4 5 3 5-4 5 5 4 0 5-15 5 8 5 5 4-25 5 15 5 0 5 3 4-3 5 0 5 0 4 2 5-9 5-5 5 5 4-3 5-8 5 1 5 4 4 1 5 5 5-2 5-1 5-3-5 11-5 0-4-7-5 4-5-14-5 13-4-14-5 21-5 0-5 1-4 0-5-2-5 3-5-6-4 12-5 4-5-8-4 8-5 5-5-5-5 0-4 6-5-3-5-12-5 16-4-19-5-3-5 17-5 3-4 2-5-6-5 13-4-1-5-2-5 14-5 5-4 5-5-10-5 2-5 11-4 9-5-3-5 5-5 2-4 17-5 8-5 4-5 2-4-2-5-3-5 6-4-2-5-1-5 5-5-17-4 14-5 5-5-5-5 6-4-10-5 8-5-3-5 9-4-12-5 3-5 14-5-12-4 10-5-5-5 6-4 3-5 1-5 8-5-6-4 4-5 10-5-4-5 12-4 0z"/><path transform="translate(57.3 36.7)" d="M938 231l5 0 5-12 5 4 4-10 5-4 5 6 5-8 4-1 5-3 5-7 5 6 4-10 5 12 5-15 4-2 5 12 5-10 5 4 4-8 5 9 5-5 5 5 4-5 5-14 5 17 5-5 4 1 5 2 5-7 5 4 4 2 5-2 5-4 4-8 5-17 5-2 5-5 4 3 5-10 5-10 5-3 4 11 5-5 5-6 5-14 4 3 5 1 5-13 4 6 5-2 5-3 5-17 4 3 5 19 5-16 5 11 4 4 5-7 5 1 5 5 4-5 5-8 5 7 5-3 4-12 5 6 5-3 4 2 5 0 5-1 5 0 4-21 5 14 5-13 5 14 4-4 5 7 5 0 5-11 5 13-5-11-5 11-4 4-5-3-5-20-5 5-4 7-5 1-5 10-5-12-4 13-5 2-5 14-5-27-4 22-5-8-5 6-4 4-5 3-5-17-5 17-4 0-5-7-5-9-5 15-4-4-5-1-5 3-5 0-4 6-5 2-5 3-4 8-5-5-5 4-5 15-4 0-5 5-5-3-5 8-4-2-5 4-5-1-5 10-4 13-5 5-5-4-5 19-4-3-5-22-5 17-4 5-5-1-5-15-5 5-4 2-5 10-5 3-5-10-4 9-5-2-5 3-5 0-4 3-5-11-5 5-5 10-4-3-5 2-5 0-4-3-5 12-5 2-5-3-4 11-5-2-5 1-5 13-4 13z"/><path transform="translate(62.6 40.0)" d="M938 245l5-13 5-14 5 0 4 2 5-11 5 3 5-2 4-12 5 3 5 0 5-2 4 3 5-10 5-5 4 11 5-3 5-1 5-2 4 2 5-9 5 10 5-3 4-10 5-2 5-5 5 15 4 1 5-5 5-17 5 22 4 3 5-19 5 4 4-6 5-13 5-9 5 0 4-4 5 3 5-8 5 2 4-4 5 0 5-15 5-4 4 5 5-8 5-4 4-1 5-6 5 0 5-3 4 1 5 4 5-15 5 9 4 7 5 0 5-17 5 17 4-4 5-3 5-6 5 7 4-21 5 27 5-14 4-2 5-13 5 12 5-10 4-1 5-7 5-5 5 19 4 4 5-4 5-11 5 11 5-3-5 6-5 2-4 0-5-5-5-5-5 6-4-11-5 14-5-1-5 14-4-10-5 9-5-3-5 4-4-1-5 7-5-12-4 18-5-8-5-6-5 5-4 7-5-1-5 2-5-5-4-1-5 0-5 2-5 3-4 2-5 2-5 5-4-23-5 27-5 9-5-1-4 2-5 9-5 0-5 10-4 8-5 3-5 5-5 3-4 9-5 6-5-2-5 5-4-7-5 8-5 1-4-5-5 4-5-16-5 7-4 8-5-7-5 11-5-5-4 1-5-15-5 18-5 6-4-18-5-3-5 19-5-3-4 2-5 4-5-14-4 5-5 14-5-1-5 16-4-7-5 12-5 1-5 2-4 14z"/><path transform="translate(67.8 43.4)" d="M938 242l5-14 5-2 5-1 4-12 5 7 5-16 5 1 4-15 5-5 5 15 5-4 4-2 5 3 5-20 4 4 5 18 5-6 5-18 4 15 5-1 5 5 5-11 4 7 5-8 5-7 5 16 4-4 5 5 5-1 5-8 4 6 5-5 5 3 4-7 5-9 5-2 5-6 4-3 5-7 5-10 5 0 4-9 5-2 5 1 5-9 4-27 5 23 5-5 4-2 5-2 5-3 5-2 4-1 5 2 5 5 5-2 4 1 5-7 5-5 5 5 4 8 5-17 5 12 5-7 4 1 5-4 5 3 4-9 5 10 5-14 5 1 4-14 5 11 5-6 5 5 4 5 5 0 5-2 5-6 5-6-5 19-5-9-4 9-5-11-5 11-5-6-4 8-5 2-5-6-5 12-4-5-5 5-5 4-5-2-4-8-5 9-5-2-4-2-5 3-5 2-5 8-4 3-5-6-5-6-5 13-4-1-5-6-5 1-5-7-4-4-5 11-5 14-4-8-5 11-5 4-5-2-4 7-5 11-5-3-5 11-4 12-5 2-5 2-5 5-4 0-5 11-5 8-5-5-4 3-5-1-5 0-4-8-5 10-5 7-5-16-4 7-5 0-5-17-5 22-4-15-5 5-5-5-5 11-4-2-5-6-5 13-5-6-4 11-5-6-5 1-4-4-5-8-5 20-5 9-4 10-5 0-5 5-5 4-4-7z"/><path transform="translate(73.0 46.7)" d="M938 226l5 7 5-4 5-5 4 0 5-10 5-9 5-20 4 8 5 4 5-1 5 6 4-11 5 6 5-13 4 6 5 2 5-11 5 5 4-5 5 15 5-22 5 17 4 0 5-7 5 16 5-7 4-10 5 8 5 0 5 0 4-2 5 4 5-7 4-11 5 0 5-5 5-2 4-2 5-12 5-11 5 3 4-11 5-7 5 2 5-5 4-10 5 7 5-13 4-11 5 4 5 7 5-1 4 6 5 1 5-13 5 6 4 6 5-3 5-8 5-2 4-3 5 2 5 2 5-9 4 8 5 1 5-3 4-5 5 5 5-12 5 6 4-3 5-7 5 6 5-12 4 12 5-9 5 9 5-19 5 25-5 0-5 0-4-21-5 11-5-1-5 14-4-6-5 0-5 1-5 8-4-5-5 4-5 5-5 1-4-6-5 4-5 3-4-5-5 10-5-9-5 6-4 2-5 6-5-18-5 13-4 5-5-13-5 8-5-5-4 15-5 1-5-6-4-1-5 0-5 16-5 1-4 13-5 10-5-1-5-5-4 24-5 7-5-1-5 0-4 3-5 1-5 5-5 4-4 2-5 1-5-16-4 24-5-16-5 8-5-8-4 0-5 9-5 0-5 1-4 6-5-8-5-4-5 15-4-13-5-3-5 6-5 1-4 8-5-4-5-4-4 6-5 4-5-12-5 32-4 0-5 7-5 3-5 0-4 14z"/><path transform="translate(78.2 50.0)" d="M938 247l5-14 5-1 5-2 4-7 5 0 5-32 5 12 4-5 5-5 5 4 5 4 4-8 5-1 5-6 4 3 5 13 5-15 5 3 4 9 5-6 5-1 5 0 4-9 5 0 5 8 5-8 4 15 5-23 5 16 5-1 4-2 5-5 5-4 4-1 5-3 5 0 5 0 4-6 5-24 5 5 5 1 4-10 5-13 5-2 5-15 4 0 5 1 5 6 4-2 5-14 5 5 5-8 4 13 5-5 5-13 5 18 4-6 5-2 5-6 5 9 4-10 5 5 5-3 5-4 4 5 5 0 5-5 4-4 5 5 5-9 5 0 4 0 5 6 5-14 5 1 4-11 5 20 5 1 5 0 5-3-5-1-5 0-4 3-5 1-5 5-5-7-4-5-5 13-5-13-5 19-4-8-5 8-5 5-5-3-4 7-5-8-5-9-4 6-5 11-5 1-5-6-4 4-5 0-5 3-5-3-4 0-5 0-5 1-5 3-4 2-5 1-5 8-4 5-5 2-5 8-5 1-4 7-5 9-5 4-5-2-4 20-5-19-5 5-5 13-4 2-5-1-5-6-5 18-4 4-5 3-5-3-4 6-5 2-5-9-5 3-4 1-5-1-5 0-5-11-4 14-5-3-5 0-5 0-4-3-5 1-5-7-5 6-4-4-5 8-5 5-4 0-5 3-5 13-5-7-4 9-5 5-5 14-5-5-4 13z"/><path transform="translate(83.4 53.4)" d="M938 243l5-13 5 5 5-14 4-5 5-9 5 6 5-13 4-3 5 0 5-4 5-8 4 3 5-5 5 7 4-1 5 3 5-1 5 1 4 3 5-14 5 11 5 0 4 1 5-1 5-3 5 8 4-2 5-5 5 3 5-3 4-4 5-18 5 5 4 2 5-2 5-13 5-5 4 19 5-20 5 2 5-4 4-9 5-7 5-1 5-8 4-2 5-5 5-8 4-1 5-3 5-2 5-1 4-1 5 0 5 4 5-3 4 0 5-4 5 5 5 0 4-11 5-7 5 10 5 8 4-7 5 3 5-5 4-8 5 8 5-19 5 13 4-13 5 4 5 8 5-5 4-1 5-3 5 0 5 1 5 11-5-4-5 2-4-8-5-15-5 18-5 2-4 6-5-3-5-3-5 5-4 5-5-11-5 14-5 0-4-1-5-7-5 17-4-1-5-3-5-16-5 15-4 5-5-21-5 11-5 7-4 4-5-4-5 6-5-2-4-4-5 7-5 7-4 3-5 4-5 14-5-4-4 14-5 5-5 11-5-3-4-11-5 13-5-6-5 18-4 4-5 1-5 4-5 3-4 0-5-4-5 4-4 7-5-5-5-3-5 6-4-6-5-2-5 5-5 2-4 2-5-8-5-5-5 9-4 0-5-3-5-10-5 5-4 2-5 2-5 7-4 8-5 6-5 1-5 6-4 1-5 11-5 10-5-4-4 18z"/><path transform="translate(88.6 56.7)" d="M938 248l5-18 5 4 5-10 4-11 5-2 5-6 5 0 4-6 5-8 5-7 5-2 4-2 5-5 5 10 4 3 5 0 5-9 5 5 4 8 5-3 5-1 5-5 4 2 5 6 5-6 5 3 4 5 5-7 5-4 5 4 4 0 5-3 5-4 4-1 5-4 5-18 5 6 4-13 5 11 5 2 5-10 4-6 5-13 5 4 5-14 4-4 5-3 5-7 4-7 5 4 5 2 5-7 4 5 5-4 5-7 5-11 4 20 5-4 5-15 5 16 4 3 5 1 5-17 5 7 4 1 5 0 5-14 4 11 5-5 5-5 5 3 4 3 5-6 5-2 5-19 4 16 5 8 5-2 5 4 5 9-5-6-5-2-4-5-5-7-5 18-5-15-4 4-5 7-5-4-5 3-4 4-5-6-5 12-5-2-4 5-5-18-5 5-4 16-5 0-5-3-5-6-4 4-5 6-5 3-5-3-4 3-5 8-5 2-5-16-4 25-5-2-5-5-4 10-5 4-5 4-5 7-4 11-5-3-5 9-5 3-4 1-5-4-5 13-5-6-4 14-5 3-5-9-5 14-4-8-5 3-5 2-4 4-5 1-5 4-5-9-4-5-5 0-5 6-5 0-4 11-5-5-5-2-5 0-4-11-5 14-5-9-5-13-4 12-5 6-5 5-4 12-5 4-5 4-5-2-4 1-5 0-5 23-5 12-4 4z"/><path transform="translate(93.8 60.1)" d="M938 252l5-4 5-12 5-23 4 0 5-2 5 3 5-4 4-4 5-12 5-5 5-6 4-12 5 13 5 9 4-14 5 11 5-1 5 3 4 5 5-11 5 0 5-6 4 0 5 5 5 9 5-4 4-1 5-4 5-2 5-3 4 8 5-14 5 9 4-3 5-15 5 7 5-13 4 3 5 0 5-3 5-10 4 4 5-11 5-7 5-4 4-4 5-10 5 4 4 3 5-25 5 15 5-2 4-7 5-4 5 4 5-3 4-6 5-4 5 6 5 3 4 0 5-17 5-4 5 18 4-5 5 1 5-11 4 6 5-4 5-3 5 4 4-8 5-3 5 15 5-18 4 7 5 5 5 2 5 6 5 3-5-1-5-1-4 0-5-11-5 0-5-6-4 13-5-3-5-2-5 11-4-13-5 7-5 9-5-2-4 0-5-1-5-5-4 12-5 6-5-11-5-16-4 25-5-2-5-3-5-2-4 10-5 5-5 2-5-1-4 2-5 7-5-4-4 7-5 5-5 11-5 3-4-1-5 7-5 11-5 7-4-8-5 10-5 7-5-1-4 4-5-1-5 6-5-6-4 3-5-2-5-3-4 8-5-2-5 13-5-11-4 4-5 4-5-5-5-16-4 23-5-5-5-4-5 12-4-3-5-7-5 0-5 7-4-6-5 9-5 2-4 1-5 18-5 1-5-3-4 5-5 6-5 5-5 15-4 8z"/><path transform="translate(99.1 63.4)" d="M938 252l5-8 5-14 5-6 4-5 5-5 5 3 5-1 4-18 5-2 5-1 5-9 4 5 5-6 5 0 4 7 5 3 5-12 5 4 4 4 5-23 5 17 5 5 4-4 5-4 5 11 5-13 4 2 5-8 5 3 5 2 4-3 5 6 5-6 4 1 5-5 5 2 5-7 4-10 5 8 5-8 5-10 4-7 5 1 5-3 5-11 4-5 5-8 5 5 4-8 5-2 5 2 5-2 4-6 5-9 5 2 5 3 4 2 5-25 5 16 5 11 4-6 5-12 5 5 5 1 4 0 5 1 5-8 4-7 5 12 5-10 5 2 4 3 5-13 5 6 5 0 4 10 5 1 5 1 5 1 5 4-5-2-5-4-4-21-5 1-5 28-5-29-4 23-5-15-5 15-5-3-4-3-5 10-5 7-5-8-4-6-5 1-5 12-4 2-5 1-5-8-5 0-4-6-5 9-5 8-5 1-4-16-5 17-5 0-5 9-4 6-5 4-5 2-4-4-5 1-5 18-5 1-4 5-5 8-5 9-5 1-4 10-5-6-5 1-5-11-4 24-5-9-5 12-5-6-4-7-5 6-5 1-4-1-5 17-5-5-5 9-4-12-5 5-5 3-5-2-4 8-5 1-5-4-5-7-4 2-5 4-5-17-5 6-4 6-5 1-5 5-4 11-5 5-5 1-5 9-4-13-5 16-5 2-5 9-4 14z"/><path transform="translate(104.3 66.7)" d="M938 251l5-14 5-9 5-2 4-16 5 13 5-9 5-1 4-5 5-11 5-5 5-1 4-6 5-7 5 18 4-4 5-2 5 7 5 4 4-1 5-8 5 2 5-3 4-5 5 12 5-9 5 5 4-17 5 1 5-1 5-6 4 7 5 6 5-12 4 9 5-24 5 11 5-1 4 6 5-10 5-1 5-9 4-8 5-5 5-1 5-18 4-1 5 4 5-2 4-4 5-7 5-8 5 0 4-17 5 16 5-1 5-8 4-9 5 6 5 0 5 8 4-1 5-3 5-11 5-2 4 6 5 8 5-6 4-10 5 3 5 3 5-16 4 16 5-23 5 29 5-29 4 0 5 21 5 4 5 2 5 7-5-8-5-7-4 0-5 8-5 3-5-4-4-7-5 12-5 3-5-3-4 3-5 4-5-3-5-5-4 4-5 4-5 2-4 6-5-10-5-1-5 5-4-14-5 17-5-11-5 14-4-5-5 9-5-2-5 5-4-2-5 12-5 8-4 2-5-1-5 0-5 12-4 4-5 1-5 12-5 9-4 0-5-10-5 2-5 15-4 5-5-10-5 17-5-10-4-3-5 5-5 2-4 3-5-5-5-4-5-1-4 8-5-2-5 5-5 4-4-3-5 0-5-3-5 14-4-17-5 5-5 5-5-4-4 0-5 3-5 13-4 10-5-2-5 7-5-8-4 14-5 9-5-4-5 17-4 0z"/><path transform="translate(109.5 70.1)" d="M938 244l5-1 5-16 5 3 4-8 5-14 5 8 5-7 4 2 5-10 5-13 5-3 4 0 5 4 5-5 4-6 5 18 5-14 5 3 4 0 5 3 5-4 5-5 4 2 5-8 5 1 5 4 4 5 5-3 5-2 5-5 4 3 5 10 5-17 4 9 5-5 5-14 5-2 4 10 5 0 5-9 5-13 4 0 5-5 5-11 5 0 4 1 5-2 5-8 4-13 5 3 5-5 5 2 4-9 5 5 5-15 5 12 4-17 5 14 5-5 5 0 4 11 5-6 5-2 5-4 4-5 5 6 5 3 4-4 5-4 5 4 5-3 4-12 5 7 5 4 5-3 4-8 5 0 5 7 5 8 5 6-5-7-5 5-4-6-5 4-5 1-5-8-4 10-5 0-5-8-5 12-4-18-5 0-5 15-5 4-4-5-5 4-5 5-4-5-5-8-5 11-5-4-4 6-5-6-5 3-5 3-4 4-5-2-5-1-5 9-4 10-5-2-5 9-4 2-5 6-5 9-5-7-4 12-5 8-5 9-5 1-4 2-5 6-5-5-5 6-4 5-5-10-5 16-5-10-4 4-5-6-5-5-4 8-5 8-5-7-5-5-4 12-5-1-5 7-5-3-4-3-5 7-5-5-5 3-4-1-5-3-5-3-5 2-4 11-5 2-5-10-4 12-5 10-5-11-5 15-4 10-5 3-5 15-5 4-4 6z"/><path transform="translate(114.7 73.4)" d="M938 253l5-6 5-4 5-15 4-4 5-9 5-15 5 11 4-10 5-12 5 10 5-2 4-12 5-1 5 3 4 3 5 1 5-3 5 4 4-6 5 3 5 3 5-7 4 1 5-12 5 5 5 7 4-8 5-9 5 6 5 6 4-4 5 10 5-16 4 10 5-6 5-5 5 5 4-6 5-2 5-2 5-8 4-8 5-12 5 7 5-9 4-6 5-2 5-9 4 1 5-9 5-9 5 0 4 3 5-4 5-3 5-4 4 7 5-6 5 4 5-11 4 8 5 5 5-5 5-4 4 5 5-4 5-15 4-1 5 19 5-12 5 8 4-1 5-9 5 8 5-1 4-4 5 6 5-5 5 6 5 3-5-4-5-1-4 3-5 4-5-3-5-1-4-15-5 13-5-3-5 4-4 6-5-2-5-4-5 7-4 1-5-2-5 5-4 0-5-8-5 12-5-7-4-1-5 12-5-11-5 4-4 2-5 4-5 12-5-3-4 6-5 2-5 9-4-2-5 2-5-10-5 32-4 2-5-13-5 17-5 11-4-5-5 4-5-6-5 14-4 3-5 1-5 0-5 4-4-7-5-1-5 6-4-4-5 2-5 2-5 4-4-6-5 2-5-6-5 0-4 13-5 2-5-1-5 0-4-5-5-1-5-7-5 17-4 4-5-1-5 6-4 7-5 11-5 5-5 4-4 1-5-7-5 9-5 15-4 7z"/><path transform="translate(119.9 76.7)" d="M938 255l5-7 5-15 5-9 4 7 5-1 5-4 5-5 4-12 5-6 5-6 5 1 4-4 5-17 5 7 4 1 5 5 5 0 5 1 4-2 5-13 5 0 5 6 4-2 5 5 5-3 5-2 4-2 5 4 5-6 5 1 4 7 5-4 5 0 4-1 5-3 5-14 5 6 4-5 5 6 5-11 5-17 4 13 5-3 5-32 5 11 4-2 5 2 5-9 4-2 5-7 5 4 5-13 4-3 5-2 5-4 5 11 4-13 5 2 5 7 5-12 4 8 5 0 5-5 5 1 4 0 5-7 5 3 4 3 5-7 5-3 5 3 4-13 5 15 5 1 5 3 4-4 5-3 5 1 5 3 5 5-5-5-5-7-4 3-5-8-5 10-5 5-4 4-5-2-5 3-5 2-4-2-5-7-5 7-5-1-4 4-5-9-5 0-4-1-5 15-5-2-5 6-4-9-5 1-5 8-5 5-4-2-5 2-5 4-5 8-4-4-5 8-5 12-4 6-5 4-5 9-5-5-4 4-5 4-5 8-5-16-4 25-5-12-5 9-5 13-4-2-5-8-5-8-5 14-4-9-5-10-5 15-4-6-5 7-5-9-5-2-4 7-5 9-5-5-5 3-4 0-5-12-5 12-5-2-4 3-5-1-5 6-5 3-4-2-5 12-5-8-4 5-5 11-5 11-5 11-4 3-5-1-5 19-5-8-4 6z"/><path transform="translate(125.1 80.1)" d="M938 249l5-6 5 8 5-19 4 1 5-3 5-11 5-11 4-11 5-5 5 7 5-11 4 1 5-2 5-7 4 2 5-3 5 2 5-12 4 12 5 0 5-3 5 5 4-9 5-7 5 2 5 9 4-7 5 6 5-15 5 10 4 9 5-14 5 7 4 9 5 2 5-13 5-9 4 12 5-25 5 16 5-8 4-4 5-4 5 5 5-9 4-4 5-6 5-12 4-8 5 4 5-8 5-4 4-2 5 2 5-5 5-8 4-1 5 9 5-6 5 2 4-15 5 1 5 0 5 8 4-3 5 0 5-6 4 7 5 2 5-2 5-3 4 2 5-4 5-5 5-10 4 8 5-3 5 7 5 5 5 4-5-2-5-11-4 3-5 3-5 2-5 2-4-3-5 6-5-3-5 1-4 7-5-6-5-8-5 10-4 3-5 0-5 1-4 4-5-7-5 8-5 4-4-19-5 27-5-10-5 7-4-14-5 25-5 1-5-2-4 6-5 7-5 9-4 4-5 0-5 6-5 9-4 0-5 4-5 1-5 4-4 10-5 4-5-7-5 3-4-2-5-12-5 9-5 11-4 5-5-7-5 2-4 1-5-4-5-6-5 13-4-10-5 5-5 1-5 5-4-13-5 14-5-6-5-6-4 7-5-5-5 6-5 3-4 4-5 4-5 8-4 6-5 5-5 6-5 4-4 3-5 9-5 12-5 1-4 3z"/><path transform="translate(130.3 83.4)" d="M938 252l5-3 5-1 5-12 4-9 5-3 5-4 5-6 4-5 5-6 5-8 5-4 4-4 5-3 5-6 4 5 5-7 5 6 5 6 4-14 5 13 5-5 5-1 4-5 5 9 5-12 5 5 4 5 5-1 5-2 5 7 4-5 5-11 5-9 4 12 5 2 5-3 5 7 4-4 5-10 5-4 5-1 4-4 5 0 5-9 5-6 4 0 5-5 5-8 4-7 5-6 5 2 5-1 4-25 5 14 5-7 5 10 4-27 5 18 5-3 5-8 4 7 5-4 5-1 5 0 4-3 5-10 5 8 4 5 5-6 5-1 5 3 4-6 5 3 5-2 5-2 4-3 5-3 5 10 5 3 5 3-5-1-5-2-4-2-5-3-5 5-5-14-4 22-5 1-5-6-5-5-4 12-5-2-5 5-5-3-4-9-5 9-5-5-4 4-5-5-5 2-5 0-4 15-5 1-5-3-5 0-4 9-5-3-5 7-5-8-4 20-5-1-5 19-4-11-5 12-5 0-5 13-4 3-5-5-5 8-5 2-4 10-5-6-5 7-5-1-4-3-5-3-5 6-5 5-4-14-5 12-5 5-4-8-5 3-5 8-5-1-4 1-5-8-5 5-5 2-4-16-5 4-5 7-5 1-4 0-5 4-5-3-5 13-4-1-5 2-5-1-4 12-5-6-5-1-5 27-4 6-5 2-5-6-5 16-4 8z"/><path transform="translate(135.5 86.8)" d="M938 253l5-7 5-16 5 6 4-2 5-6 5-27 5 1 4 6 5-12 5 1 5-2 4 1 5-13 5 3 4-4 5 0 5-1 5-7 4-4 5 16 5-3 5-4 4 8 5-1 5 1 5-8 4-3 5 7 5-4 5-12 4 14 5-6 5-6 4 4 5 2 5 2 5-7 4 6 5-10 5-2 5-8 4 5 5-3 5-13 5 0 4-12 5 11 5-19 4 1 5-20 5 8 5-7 4 3 5-9 5 0 5 3 4-1 5-15 5 0 5-2 4 5 5-4 5 5 5-9 4 8 5 4 5-6 4 3 5-12 5 5 5 6 4-1 5-23 5 15 5-5 4 3 5 2 5 2 5 1 5-1-5-14-5 1-4 14-5 12-5 0-5-9-4-6-5-8-5 20-5-3-4-4-5 6-5 0-5-1-4 1-5 0-5-6-4 2-5 2-5 6-5-11-4 3-5 13-5 3-5 3-4-4-5 10-5 5-5-5-4 8-5 13-5 2-4 12-5 9-5-12-5 9-4 7-5 7-5 5-5-4-4 9-5-4-5-1-5 0-4 5-5-4-5 4-5-27-4 18-5 14-5 9-4-2-5-5-5-2-5 2-4 1-5-4-5 15-5-8-4 1-5 4-5-6-5-8-4 2-5-1-5 12-5 2-4-2-5 5-5 11-4-12-5 14-5 7-5 7-4 13-5 3-5 6-5-13-4 3z"/><path transform="translate(140.8 90.1)" d="M938 233l5-3 5 13 5-6 4-3 5-13 5-7 5-7 4-15 5 13 5-11 5-5 4 2 5-2 5-12 4 0 5-1 5 8 5 6 4-4 5-1 5 8 5-16 4 5 5-1 5-2 5 2 4 4 5 3 5-10 5-13 4-18 5 27 5-4 4 4 5-5 5 0 5 1 4 4 5-9 5 4 5-5 4-8 5-6 5-9 5 11 4-8 5-12 5-2 4-14 5-7 5 5 5-5 4-10 5 4 5-3 5-3 4-13 5-3 5 11 5-6 4-2 5-2 5 6 5-1 4 0 5 1 5 0 4-6 5 4 5 3 5-20 4 8 5 6 5 9 5 0 4-12 5-14 5-1 5 14 5 8-5 4-5 5-4-1-5-8-5 14-5-7-4-8-5-6-5 2-5 6-4 9-5-5-5 6-5-7-4 3-5-5-5-9-4 15-5 1-5-2-5 7-4-17-5 19-5 4-5 2-4-6-5 11-5-7-5 19-4-1-5 12-5 5-4 6-5 6-5 7-5 8-4 2-5 1-5 5-5 1-4-2-5 0-5-5-5 10-4 2-5 4-5-8-5-1-4 3-5 5-5-2-4-3-5 8-5-5-5 3-4-10-5 12-5 0-5 3-4 2-5-11-5 4-5-5-4-17-5 27-5-1-5 1-4 3-5-1-5 5-4 12-5-5-5 9-5 14-4 8-5 4-5 10-5 2-4 2z"/><path transform="translate(146.0 93.4)" d="M938 250l5-2 5-2 5-10 4-5 5-7 5-14 5-9 4 4 5-11 5-5 5 1 4-3 5-1 5 1 4-27 5 17 5 5 5-4 4 11 5-2 5-4 5 1 4-13 5 11 5-4 5 5 4-7 5 3 5 2 5-5 4-3 5 1 5 7 4-3 5-2 5-10 5 5 4-1 5 3 5-1 5-5 4-1 5-2 5-8 5-8 4-5 5-6 5-5 4-12 5 1 5-19 5 7 4-11 5 6 5-2 5-4 4-19 5 17 5-7 5 2 4-1 5-15 5 9 5 5 4-3 5 7 5-6 4 5 5-10 5-5 5-2 4 6 5 8 5 7 5-14 4 8 5 1 5-5 5-5 5 8-5-5-5 10-4-4-5 9-5-6-5 0-4-12-5 13-5-3-5 1-4 2-5-1-5-5-5-5-4 4-5-6-5 3-4-2-5 11-5-10-5 12-4 7-5 3-5 2-5 0-4 3-5-1-5 10-5 14-4-8-5 13-5-1-4 14-5 0-5 4-5 12-4 5-5-19-5 21-5 12-4-9-5-4-5-18-5 13-4 16-5-5-5-5-5-19-4 17-5 6-5 7-4 6-5-11-5-4-5 13-4 5-5-4-5 1-5-5-4-2-5 0-5 3-5-6-4-1-5 15-5-5-5-4-4 7-5 5-5 0-4 10-5 7-5-2-5 14-4 8-5 8-5-3-5 6-4 10z"/><path transform="translate(151.2 96.8)" d="M938 251l5-10 5-6 5 3 4-8 5-8 5-14 5 2 4-7 5-10 5-1 5-4 4-7 5 4 5 5 4-15 5 1 5 6 5-3 4 0 5 2 5 5 5-1 4 4 5-6 5-12 5 4 4 10 5-5 5-7 5-6 4-17 5 19 5 5 4 4 5-15 5-13 5 18 4 4 5 9 5-13 5-20 4 19 5-5 5-12 5-5 4 1 5-14 5 1 4-13 5 7 5-13 5-10 4 0 5-2 5 0 5-2 4-3 5-8 5-11 5 10 4-11 5 2 5-3 5 6 4-4 5 4 5 6 4 0 5-2 5 0 5 3 4-13 5 11 5 1 5 6 4-9 5 4 5-10 5 4 5-5-5 8-5-4-4 11-5 3-5 3-5-1-4 1-5-1-5-9-5-12-4 19-5-15-5 5-5 0-4 1-5 4-5-2-4 1-5 3-5-2-5 4-4 8-5-2-5 2-5 14-4 4-5 2-5 5-5 5-4 4-5 1-5 12-4-3-5 14-5 10-5-3-4-1-5 15-5 3-5-1-4-12-5 7-5-5-5 7-4 1-5 1-5-4-5-2-4 6-5 2-5 2-4-25-5 21-5 1-5-6-4 20-5-14-5 0-5 10-4 0-5-1-5-6-5 3-4 3-5 5-5-14-5 6-4 4-5 2-5 3-4 12-5-2-5 8-5 7-4 7-5 11-5-1-5 10-4-10z"/><path transform="translate(156.4 100.1)" d="M938 236l5 10 5-10 5 1 4-11 5-7 5-7 5-8 4 2 5-12 5-3 5-2 4-4 5-6 5 13 4-4 5-3 5-3 5 6 4 1 5 0 5-10 5 0 4 14 5-21 5 7 5-1 4-22 5 26 5-2 5-2 4-6 5 2 5 4 4-1 5-1 5-7 5 5 4-7 5 12 5 1 5-3 4-15 5 1 5 3 5-10 4-14 5 3 5-12 4-1 5-4 5-6 5-4 4-2 5-4 5-14 5-2 4 2 5-8 5-4 5 2 4-3 5-1 5 2 5-4 4-1 5-1 5-5 4 16 5-19 5 12 5 8 4 2 5-1 5 1 5-3 4-3 5-11 5 4 5-9 5 2-5 13-5 4-4-2-5 0-5 2-5 2-4-2-5 5-5-2-5-6-4 3-5-9-5 10-5-8-4 8-5-2-5-2-4 8-5-7-5 2-5-4-4 15-5 4-5 0-5 13-4 1-5 1-5 8-5 6-4 12-5 3-5-5-4 14-5-6-5 13-5 11-4-9-5 6-5-6-5 5-4 3-5-11-5 10-5-10-4 0-5 2-5 18-5-19-4 12-5 7-5-1-4-2-5-7-5 9-5-5-4 17-5-17-5 1-5 12-4-11-5 16-5-7-5-4-4 1-5 8-5-1-5-6-4 9-5 9-5 3-4-15-5 20-5-8-5 19-4 18-5 0-5 2-5 3-4 3z"/><path transform="translate(161.6 103.4)" d="M938 246l5-3 5-3 5-2 4 0 5-18 5-19 5 8 4-20 5 15 5-3 5-9 4-9 5 6 5 1 4-8 5-1 5 4 5 6 4-15 5 10 5-11 5-1 4 17 5-17 5 4 5-9 4 8 5 2 5 1 5-7 4-12 5 18 5-17 4-2 5 0 5 10 5-11 4 11 5-2 5-5 5 6 4-6 5 8 5-10 5-14 4 7 5-14 5 5 4-4 5-11 5-6 5-8 4-1 5-1 5-13 5 0 4-4 5-15 5 4 5-2 4 7 5-8 5 2 5 2 4-8 5 8 5-10 4 9 5-3 5 5 5 3 4-5 5 1 5-1 5-2 4-1 5 3 5-4 5-13 5 19-5 1-5-2-4 0-5-7-5-1-5 20-4-9-5 1-5-8-5-12-4 14-5 5-5-15-5 21-4-2-5-14-5 15-4 2-5-5-5 8-5-21-4 21-5 3-5 0-5 15-4 6-5-5-5 19-5 1-4 9-5 8-5 2-4 0-5-8-5-1-5 18-4 2-5-2-5 3-5-1-4 9-5-8-5 10-5-4-4 2-5-5-5 9-5 0-4-4-5-3-5 8-4 1-5-2-5-5-5 17-4-3-5-9-5 1-5 0-4-4-5 11-5-1-5-7-4-2-5 9-5 5-5 10-4 0-5 6-5 4-4-27-5 29-5 4-5 3-4 10-5 9-5-4-5 16-4-8z"/><path transform="translate(166.8 106.8)" d="M938 241l5 8 5-16 5 3 4-8 5-10 5-3 5-4 4-29 5 27 5-4 5-6 4 0 5-10 5-5 4-9 5 2 5 6 5 2 4-11 5 4 5 0 5-2 4 9 5 4 5-17 5 5 4 2 5-1 5-8 5 3 4 4 5 0 5-9 4 5 5-3 5 5 5-11 4 8 5-8 5 1 5-3 4 2 5-2 5-18 5 1 4 8 5-1 5-1 4-8 5-9 5-1 5-19 4 5 5-6 5-15 5 0 4-3 5-21 5 21 5-8 4 5 5-2 5-15 5 14 4 2 5-22 5 16 4-5 5-14 5 12 5 8 4-1 5 9 5-20 5 1 4 7 5 0 5 1 5 0 5 5-5-19-5 8-4 5-5 9-5-9-5 10-4-5-5-3-5-9-5 0-4 1-5 7-5 5-5-5-4 10-5-2-5 3-4-6-5 12-5 1-5 2-4-4-5 15-5 0-5 11-4-5-5 15-5-3-5 10-4 2-5-1-5 13-4 2-5 2-5 3-5 9-4-3-5 0-5-10-5 12-4-11-5 2-5 11-5-9-4 8-5 5-5-7-5 5-4 11-5-10-5 7-4-2-5 0-5-5-5 4-4 3-5-1-5-3-5 8-4-3-5-9-5 9-5-3-4 8-5 3-5-11-5 15-4 14-5-10-5 12-4 2-5-2-5 12-5-3-4 21-5 5-5 1-5 8-4 4z"/><path transform="translate(172.0 110.1)" d="M938 255l5-5 5-7 5-1 4-5 5-21 5 3 5-12 4 2 5-2 5-12 5 10 4-14 5-15 5 11 4-3 5-8 5 3 5-9 4 9 5 3 5-8 5 3 4 1 5-4 5-3 5 5 4 0 5 2 5-7 5 10 4-11 5-6 5 8 4-6 5-7 5 9 5-11 4-3 5 12 5-12 5 10 4 0 5 3 5-9 5-3 4-2 5-2 5-13 4 1 5-2 5-10 5 3 4-15 5 5 5-12 5 1 4-15 5 3 5-1 5-1 4-12 5 6 5-3 5 1 4-9 5 5 5-5 4-7 5-1 5 0 5 9 4 3 5 4 5-9 5 9 4-9 5-5 5-8 5 19 5 8-5 2-5-5-4-13-5 9-5 2-5-11-4 12-5-6-5 3-5-3-4-2-5 3-5-5-5-8-4 9-5 9-5-1-4 1-5 7-5-2-5 10-4-9-5 16-5 10-5 10-4 2-5 6-5 0-5 3-4 9-5-17-5 21-4 6-5-1-5-3-5 6-4-6-5 2-5 7-5 8-4-5-5 1-5 10-5-5-4 1-5-2-5 10-5 6-4-2-5-2-5-6-4 3-5-3-5-2-5 0-4 7-5 4-5 2-5-8-4 3-5 2-5-1-5 3-4 2-5 2-5-10-5 22-4-9-5 14-5-6-4 15-5-5-5 8-5 13-4 7-5 3-5 1-5 6-4 8z"/><path transform="translate(177.3 113.4)" d="M938 254l5-8 5-6 5-1 4-3 5-8 5-12 5-8 4 5 5-15 5 6 5-15 4 10 5-22 5 10 4-2 5-3 5-2 5 1 4-2 5-3 5 7 5-1 4-4 5-7 5 0 5 2 4 3 5-3 5 6 5 2 4 2 5-6 5-10 4 2 5-2 5 6 5-10 4-1 5 5 5-8 5-7 4-2 5 6 5-6 5 3 4 1 5-6 5-21 4 17 5-9 5-3 5 0 4-6 5-3 5-9 5-10 4-16 5 9 5-10 5 1 4-6 5-1 5 1 5-9 4-9 5 8 5 5 4-3 5 2 5 3 5-3 4 6 5-12 5 11 5-2 4-9 5 13 5 5 5-2 5 8-5-13-5-8-4 9-5-12-5 11-5-4-4 11-5 0-5-16-5 12-4-2-5 8-5-10-5 5-4-7-5-1-5 8-4-6-5-4-5 23-5-10-4 19-5-14-5 26-5 6-4 4-5 15-5 2-5 1-4-4-5 10-5 1-4-14-5 23-5-7-5 7-4 1-5 2-5 4-5-1-4-10-5 7-5 11-5-10-4 9-5 5-5-7-5 16-4-10-5-1-5 7-4-5-5-2-5 2-5 6-4-15-5 10-5 0-5 1-4-3-5 6-5 6-5-8-4-14-5 20-5 7-5-2-4 13-5 10-5-5-4 8-5-7-5 3-5 5-4 2-5 17-5 1-5 4-4 16z"/><path transform="translate(182.5 116.8)" d="M938 257l5-16 5-4 5-1 4-18 5-1 5-5 5-3 4 7 5-8 5 5 5-10 4-13 5 1 5-7 4-19 5 14 5 8 5-6 4-6 5 3 5-1 5-1 4-9 5 15 5-6 5-3 4 3 5 5 5-7 5 1 4 10 5-16 5 7 4-6 5-8 5 9 5-10 4-7 5 10 5 1 5-4 4-2 5-2 5-7 5 7 4-22 5 14 5-1 4-10 5 4 5-1 5-3 4-14 5-4 5-6 5-26 4 14 5-20 5 11 5-23 4 4 5 5 5-7 5 1 4 7 5-5 5 10 4-8 5 2 5-12 5 16 4 0 5-11 5 4 5-11 4 12 5-9 5 8 5 12 5 0-5 2-5-4-4-7-5 11-5-9-5 9-4-15-5 7-5 7-5-4-4 8-5 0-5-16-5 5-4-1-5 1-5 6-4-4-5-10-5 25-5 2-4-10-5 18-5 19-5 5-4-10-5 10-5 15-5-12-4 21-5-5-5 2-4 11-5-7-5 7-5 5-4-6-5 0-5 3-5-9-4 5-5-3-5 20-5-1-4-5-5 6-5 2-5-13-4-2-5 6-5 5-4 2-5 3-5 3-5-14-4 14-5-2-5-3-5 1-4-13-5 21-5-7-5-9-4-11-5 21-5 13-5 8-4-10-5 23-5-13-4 16-5-9-5 14-5 9-4 0-5-9-5 19-5 3-4 13z"/><path transform="translate(187.7 120.1)" d="M938 256l5-13 5-3 5-19 4 8 5 1 5-9 5-14 4 9 5-16 5 13 5-23 4 10 5-8 5-13 4-21 5 11 5 9 5 7 4-21 5 13 5-1 5 3 4 2 5-14 5 14 5-4 4-2 5-2 5-5 5-6 4 2 5 13 5-2 4-6 5 4 5 2 5-21 4 4 5-5 5 9 5-3 4 0 5 6 5-6 5-6 4 7 5-11 5-2 4 5 5-21 5 12 5-15 4-10 5 10 5-5 5-19 4-18 5 10 5-2 5-25 4 10 5 4 5-6 5-1 4 1 5-5 5 16 4 0 5-8 5 4 5-7 4-7 5 14 5-9 5 10 4-11 5 7 5 4 5-2 5-1-5 3-5 7-4-2-5-3-5-5-5-11-4 11-5 7-5-4-5-1-4 3-5-8-5 4-5 1-4 2-5 4-5-3-4-2-5 10-5 0-5-3-4 12-5 8-5 5-5 15-4 8-5-4-5 6-5-2-4 13-5 11-5 0-4 3-5-5-5 4-5 4-4-8-5 4-5-6-5 1-4 4-5 0-5 6-5 7-4-6-5 3-5 1-5 1-4 6-5-6-5 7-4-17-5 11-5-3-5-3-4 2-5 4-5 9-5 6-4-10-5-5-5 10-5 0-4 8-5-2-5 8-5-15-4 23-5 1-5 10-4-11-5 17-5 12-5 0-4 8-5 3-5 2-5-10-4 11z"/><path transform="translate(192.9 123.5)" d="M938 248l5-11 5 9 5-1 4-3 5-9 5 1 5-12 4-17 5 11 5-10 5-1 4-23 5 15 5-8 4 2 5-8 5-1 5-9 4 5 5 10 5-6 5-9 4-4 5-2 5 3 5 3 4-11 5 17 5-7 5 5 4-5 5-1 5-1 4-3 5 6 5-7 5-6 4 0 5-5 5 0 5 6 4-4 5 8 5-4 5-4 4 5 5-3 5-1 4-10 5-13 5 2 5-6 4 4 5-8 5-15 5-5 4-9 5-11 5 3 5 0 4-10 5 2 5 2 5-3 4-2 5-1 5-4 4 8 5-3 5 1 5 4 4-7 5-11 5 11 5 4 4 3 5 3 5-8 5-2 5 10-5-23-5 8-4 17-5-3-5-1-5-4-4 4-5-10-5 12-5-12-4 0-5 8-5 0-5 2-4 2-5 10-5-7-4 0-5 9-5-11-5 12-4 12-5 5-5 2-5 11-4 1-5 6-5 9-5 0-4 14-5 0-5 6-4-7-5 7-5-11-5 4-4 8-5-5-5 2-5-7-4 1-5 1-5 12-5 5-4-1-5 0-5-9-5 12-4-8-5 10-5-4-4 3-5-1-5 0-5 1-4-1-5 4-5 0-5-1-4-12-5 9-5-1-5 7-4 4-5 4-5-9-5 19-4-1-5-14-5 21-4 5-5 11-5 9-5 4-4 0-5 8-5 7-5 8-4 4z"/><path transform="translate(198.1 126.8)" d="M938 259l5-4 5-9 5-6 4-8 5 0 5-4 5-9 4-11 5-6 5-20 5 14 4 1 5-19 5 9 4-4 5-4 5-7 5 1 4-9 5 12 5 1 5 0 4-4 5 1 5-1 5 0 4 1 5-4 5 5 5-10 4 8 5-13 5 10 4 0 5 1 5-5 5-12 4-1 5-2 5 8 5-3 4 6 5-8 5-4 5 10 4-6 5 7 5-6 4 0 5-14 5 0 5-9 4-6 5-1 5-11 5-2 4-6 5-11 5-12 5 11 4-9 5-1 5 8 5-10 4-2 5-2 5 0 4-8 5 0 5 11 5-12 4 11 5-4 5 3 5 2 4 2 5-16 5-9 5 24 5 1-5-1-5-2-4 3-5-10-5 9-5 4-4 2-5-10-5 4-5-14-4 10-5-3-5 11-5-4-4 12-5 4-5-11-4 10-5 4-5 2-5 2-4-2-5 9-5 14-5 4-4 0-5 10-5-2-5 1-4 10-5 1-5 4-4 4-5 8-5-1-5 1-4 0-5 5-5-6-5-1-4-3-5 12-5-2-5-6-4 8-5 6-5-5-5-5-4-4-5 8-5 1-4 3-5 2-5-2-5-11-4 17-5-16-5 12-5-11-4 11-5-4-5 7-5 5-4-6-5-1-5 19-5-3-4 2-5 15-5-7-4 12-5 4-5 4-5 14-4 1-5 0-5 4-5 9-4 6z"/><path transform="translate(203.3 130.1)" d="M938 254l5-5 5-9 5-4 4 0 5-1 5-14 5-4 4-4 5-12 5 7 5-15 4-3 5 4 5-19 4 1 5 6 5-5 5-7 4 4 5-11 5 10 5-11 4 16 5-17 5 11 5 2 4-2 5-3 5-1 5-8 4 4 5 5 5 5 4-7 5-7 5 6 5 2 4-13 5 4 5 1 5 6 4-5 5 0 5-1 5 1 4-8 5-4 5-4 4-1 5-11 5 0 5 2 4-10 5 0 5-5 5-13 4-9 5 2 5-2 5-2 4-4 5-10 5 11 5-4 4-13 5 4 5-10 4 3 5-10 5 14 5-4 4 10 5-3 5-3 5-9 4 10 5-3 5 1 5 2 5 3-5-2-5-3-4-4-5 7-5 10-5-6-4-1-5 6-5-14-5-3-4-9-5 8-5 7-5 5-4 10-5 0-5-1-4 1-5 1-5 6-5 11-4-5-5 12-5 7-5 4-4 1-5 1-5 10-5 5-4-1-5 14-5 3-4-7-5 2-5 6-5 8-4-5-5 10-5-8-5 4-4-8-5 6-5 3-5 1-4-5-5 5-5-8-5 6-4 7-5-10-5 11-4-10-5-11-5 23-5-4-4 6-5 0-5-4-5 2-4 1-5 6-5 1-5-5-4 7-5-1-5 12-5 2-4 4-5 8-5 2-4 7-5-8-5 6-5 10-4 18-5-6-5-9-5 19-4-1z"/><path transform="translate(208.5 133.5)" d="M938 248l5 2 5-19 5 9 4 5 5-18 5-9 5-6 4 8 5-7 5-2 5-8 4-4 5-2 5-12 4 1 5-7 5 5 5-1 4-6 5-1 5-2 5 4 4 0 5-6 5 4 5-23 4 11 5 10 5-11 5 10 4-7 5-6 5 8 4-6 5 6 5-1 5-3 4-6 5 8 5-4 5 8 4-10 5 5 5-8 5-6 4-2 5 6 5-2 4-14 5 0 5-4 5-10 4-1 5-1 5-4 5-8 4-11 5 5 5-11 5-6 4-2 5 0 5 1 5 0 4-10 5-6 5-7 4-7 5 9 5 2 5 15 4-7 5 2 5 5 5-9 4-8 5 5 5 3 5 2 5 5-5 1-5-5-4-2-5-6-5 16-5-3-4-11-5 2-5-1-5 0-4 1-5-2-5 1-5 17-4-5-5 14-5 9-4-14-5 1-5 10-5 0-4 3-5 12-5 6-5-9-4 17-5 9-5-1-5 10-4-4-5 11-5-2-4 2-5-1-5-4-5 13-4-1-5-6-5 3-5 6-4-6-5 7-5-3-5 2-4 1-5-2-5 1-5 1-4 10-5-22-5 19-4-21-5 25-5-1-5-8-4 5-5-17-5 16-5 2-4-6-5 4-5 3-5 16-4-10-5 6-5 15-5 4-4 1-5 9-5-8-4 18-5 0-5 1-5 15-4 1-5 4-5-1-5 4-4 2z"/><path transform="translate(213.7 136.8)" d="M938 250l5-2 5-4 5 0 4-3 5-1 5-15 5-1 4 0 5-18 5 8 5-9 4-2 5-3 5-15 4-6 5 10 5-17 5-2 4-4 5 6 5-2 5-16 4 17 5-5 5 8 5 1 4-25 5 21 5-19 5 22 4-10 5-1 5-1 4 1 5 0 5-2 5 3 4-8 5 7 5-6 5-3 4 6 5 1 5-13 5 4 4 1 5-2 5 2 4-12 5 5 5-11 5 2 4-9 5-17 5 9 5-6 4-13 5-2 5 0 5-10 4-1 5 14 5-10 5-13 4 5 5-17 5-1 4 2 5-1 5 0 5 1 4-2 5 11 5 3 5-16 4 6 5 2 5 5 5-1 5 0-5 9-5-7-4 3-5-8-5 7-5-12-4 10-5 3-5-17-5-1-4 4-5 7-5 6-5 5-4-2-5 10-5-3-4 13-5-9-5 2-5 20-4 2-5-7-5 15-5-3-4 18-5-6-5 9-5 11-4-9-5 11-5-11-4 15-5-13-5 6-5-11-4 9-5 4-5 4-5 4-4-1-5 10-5-12-5 12-4-14-5 7-5 6-5-2-4 11-5-5-5-1-4 2-5-4-5 7-5-3-4-2-5-3-5 8-5 1-4 0-5 0-5 6-5 5-4-12-5 17-5 7-5 6-4-5-5 19-5 0-4 3-5 5-5-4-5 6-4 9-5 8-5 10-5-3-4-13z"/><path transform="translate(219.0 140.1)" d="M938 240l5 13 5 3 5-10 4-8 5-9 5-6 5 4 4-6 5-2 5 0 5-19 4 5 5-6 5-7 4-17 5 12 5-5 5-6 4 0 5 0 5-1 5-8 4 3 5 2 5 3 5-7 4 4 5-2 5 1 5 5 4-11 5 2 5-6 4-7 5 14 5-12 5 12 4-10 5 1 5-4 5-4 4-4 5-9 5 11 5-7 4 14 5-15 5 11 4-11 5 9 5-11 5-9 4 6 5-18 5 3 5-16 4 7 5-1 5-20 5-2 4 9 5-13 5 2 5-9 4 2 5-5 5-6 4-7 5-4 5 1 5 17 4-4 5-9 5 12 5-7 4 8 5-3 5 7 5-9 5 12-5 2-5-12-4 7-5 1-5 0-5-10-4 0-5 3-5 0-5 3-4-3-5-2-5 12-5 7-4-2-5 9-5 4-4 0-5-2-5 6-5 10-4 8-5 4-5 3-5 4-4 6-5-2-5 6-5 10-4 0-5 1-5-1-4 1-5-7-5 6-5-1-4-7-5 7-5 4-5 4-4 8-5-1-5 2-5-5-4-8-5 12-5-4-5-16-4 27-5-2-5 4-4-8-5 2-5-15-5 18-4-4-5 3-5 6-5-8-4 9-5 11-5-17-5-6-4 23-5 1-5 6-5 5-4-1-5 14-5 1-4 14-5 3-5-6-5 16-4-3-5 10-5 6-5-12-4 9z"/><path transform="translate(224.2 143.5)" d="M938 251l5-9 5 12 5-6 4-10 5 3 5-16 5 5 4-2 5-14 5-1 5-14 4 1 5-5 5-6 4-1 5-24 5 7 5 17 4-12 5-9 5 9 5-7 4-2 5 4 5-18 5 15 4-2 5 7 5-3 5 2 4-27 5 16 5 4 4-12 5 8 5 5 5-2 4 0 5-7 5-4 5-4 4-7 5 7 5 1 5-6 4 6 5 0 5 1 4-1 5 0 5-11 5-5 4 2 5-6 5-5 5-2 4-5 5-8 5-9 5-6 4 2 5 0 5-4 5-10 4 3 5-7 5-12 4 2 5 3 5-4 5 1 4-3 5-1 5 11 5-1 4 0 5-7 5 12 5-2 5-1-5 2-5 3-4-4-5-4-5-1-5-5-4 6-5-1-5 0-5 1-4 1-5 6-5 0-5 2-4 13-5 1-5 4-4 11-5 0-5 5-5 10-4-2-5 7-5 6-5 3-4 7-5-17-5 21-5 3-4 0-5-3-5-12-4 6-5 2-5-9-5 13-4 2-5 0-5 0-5 16-4-6-5 4-5 1-5 2-4-3-5 7-5-8-5-6-4 11-5 2-5 3-4-8-5 3-5-9-5 8-4 5-5 3-5 4-5-13-4 16-5 3-5-4-5-14-4 15-5 2-5 12-5-1-4 6-5 6-5 4-4 3-5 14-5 2-5 10-4 2-5 6-5-7-5 9-4-1z"/><path transform="translate(229.4 146.8)" d="M938 247l5 2 5-9 5 7 4-6 5-2 5-10 5-2 4-15 5-2 5-4 5-6 4-6 5 1 5-12 4-3 5-14 5 14 5 4 4-4 5-15 5 13 5-4 4-3 5-5 5-8 5 9 4-3 5 8 5-4 5-1 4-11 5 5 5 9 4-7 5 3 5-2 5-1 4-4 5 6 5-17 5 0 4 1 5-2 5-13 5 9 4-2 5-6 5 12 4 3 5 0 5-3 5-21 4 17 5-7 5-3 5-6 4-7 5 2 5-10 5-5 4 0 5-11 5-4 5-1 4-13 5-2 5 0 4-6 5-2 5 0 5 0 4 1 5-7 5 6 5 1 4 4 5 4 5-4 5-1 5 6-5-5-5 2-4 4-5-3-5-3-5-6-4 5-5 3-5 4-5-2-4-10-5 4-5 19-5-6-4-1-5-1-5 10-4 18-5 4-5 4-5 11-4-3-5 3-5 10-5 5-4 0-5 5-5 4-5-4-4-3-5 15-5 1-4-4-5-5-5-17-5 17-4-5-5 6-5 3-5 5-4 5-5 4-5-6-5 3-4-3-5 5-5-3-5 9-4 2-5-4-5 5-4-2-5-8-5 8-5-5-4 3-5-8-5 13-5 0-4-2-5-1-5 3-5 14-4-13-5 14-5 11-5 3-4 1-5-2-5 12-4-6-5 11-5 6-5 5-4 4-5 10-5 7-5-12-4 8z"/><path transform="translate(234.6 150.1)" d="M938 248l5-8 5 12 5-7 4-10 5-4 5-6 5-5 4-11 5 6 5-12 5 2 4-1 5-3 5-12 4-14 5 14 5-14 5-3 4 1 5 2 5 0 5-13 4 8 5-3 5 4 5-7 4 8 5 2 5-5 5 3 4-1 5-9 5 3 4-5 5 3 5-3 5 6 4-4 5-5 5-5 5-3 4-6 5 5 5-17 5 17 4 5 5 4 5-1 4-15 5 3 5 4 5-4 4-5 5 0 5-6 5-10 4-2 5 3 5-11 5-4 4-4 5-18 5-11 5 2 4 1 5 6 5-19 4-4 5 9 5 3 5-5 4-2 5-5 5 6 5 3 4 3 5-4 5-2 5 5 5 4-5 6-5-6-4-5-5 7-5-9-5 1-4 2-5-8-5 2-5-9-4 13-5 0-5 19-5 5-4-17-5 24-5 7-4-15-5 15-5 15-5 4-4 5-5 0-5 6-5 2-4-2-5 19-5-4-5-10-4 14-5-9-5-7-4 13-5-10-5 0-5 0-4 11-5-4-5 6-5-3-4 12-5 5-5-9-5 10-4 2-5-5-5 5-5 1-4-9-5 8-5 0-4-8-5 3-5 11-5-8-4-1-5 5-5 3-5 1-4 1-5 5-5 4-5-5-4 10-5 2-5 7-5 9-4-4-5-1-5 12-4 6-5 4-5-3-5 15-4-14-5 14-5 4-5 7-4 1z"/><path transform="translate(239.8 153.5)" d="M938 250l5-1 5-7 5-4 4-14 5 14 5-15 5 3 4-4 5-6 5-12 5 1 4 4 5-9 5-8 4-1 5-10 5 5 5-4 4-5 5-1 5-1 5-3 4-5 5 1 5 8 5-12 4-2 5 8 5-1 5-7 4 8 5 0 5-5 4 5 5-3 5-9 5 9 4-5 5-12 5 3 5-6 4 4 5-11 5 0 5 0 4 10 5-13 5 7 4 9 5-14 5 10 5 4 4-19 5 1 5-1 5-6 4 0 5-5 5-4 5-15 4-15 5 15 5-7 5-24 4 16 5-5 5-18 4 0 5-13 5 9 5-2 4 8 5-2 5-1 5 9 4-7 5 5 5 6 5-6 5 12-5-8-5 6-4-6-5-12-5 7-5 0-4-3-5 0-5 8-5-4-4 2-5-4-5 16-5-2-4 1-5-2-5 16-4 4-5-4-5 16-5 9-4 7-5 10-5 5-5-12-4 12-5 2-5 5-5-7-4 6-5-3-5-1-4-6-5 13-5-1-5-1-4 4-5-9-5 8-5 6-4 7-5 6-5 1-5-11-4 4-5 3-5 2-5-13-4 13-5-5-5 6-4-3-5 3-5 1-5-4-4-2-5-22-5 22-5-8-4 21-5-4-5 6-5-1-4 12-5 7-5-5-5-1-4 12-5-5-5 21-4-5-5 10-5-3-5 12-4 2-5 12-5 6-5-4-4 3z"/><path transform="translate(245.0 156.8)" d="M938 253l5-3 5 4 5-6 4-12 5-2 5-12 5 3 4-10 5 5 5-21 5 5 4-13 5 2 5 5 4-7 5-12 5 1 5-6 4 3 5-20 5 8 5-22 4 22 5 2 5 4 5-2 4-2 5 3 5-7 5 6 4-13 5 13 5-3 4-2 5-4 5 10 5-1 4-5 5-7 5-6 5-8 4 9 5-4 5 0 5 2 4-14 5 7 5 1 4 3 5-6 5 6 5-4 4-3 5-11 5 12 5-5 4-10 5-7 5-9 5-16 4 4 5-4 5-16 5 2 4-1 5 2 5-16 4 4 5-2 5 4 5-8 4 0 5 3 5 0 5-7 4 12 5 6 5-6 5 8 5-1-5-2-5 2-4-6-5 6-5-4-5-8-4 3-5 0-5-1-5 5-4 2-5 14-5-9-5 9-4 13-5-6-5 8-4 0-5-12-5 23-5 1-4 7-5 17-5 2-5 2-4 2-5 1-5 3-5 0-4 7-5-17-5 2-4 8-5 8-5 0-5-5-4 2-5-2-5 4-5 9-4-18-5 13-5 5-5-19-4 17-5-5-5 4-5 0-4 1-5-1-5 8-4 0-5-1-5 7-5-8-4-15-5 22-5 0-5-3-4 7-5-3-5 6-5-3-4 12-5 2-5-10-5 8-4 23-5-5-5 9-4-4-5 1-5 18-5 3-4 3-5 19-5-2-5-5-4-4z"/><path transform="translate(250.2 160.2)" d="M938 243l5 4 5 5 5 2 4-20 5-2 5-3 5-18 4-2 5 5 5-9 5 5 4-23 5-9 5 11 4-2 5-12 5 3 5-6 4 3 5-7 5 3 5 0 4-22 5 15 5 8 5-7 4 1 5 0 5-8 5 0 4 0 5-1 5-4 4 5 5-16 5 19 5-5 4-13 5 17 5-8 5-4 4 2 5-2 5 5 5-1 4-7 5-8 5-2 4 17 5-7 5-1 5-2 4-1 5-2 5-2 5-2 4-17 5-7 5-1 5-23 4 12 5 0 5-9 5 6 4-12 5-9 5 9 4-14 5-2 5-5 5 0 4 1 5-3 5 8 5 4 4-6 5 6 5-2 5 2 5 7-5-9-5-8-4 3-5 1-5 1-5 1-4 0-5 1-5 9-5-1-4 3-5 8-5 6-5-10-4 7-5 3-5 2-4 12-5 5-5-1-5 13-4 14-5 3-5-16-5 5-4-3-5 6-5-5-5 15-4 8-5-21-5 7-4 3-5 7-5 7-5-3-4 0-5 0-5 7-5-3-4-4-5 23-5-6-5-3-4-11-5 9-5 9-5-4-4 3-5-6-5-1-4 4-5-4-5 1-5 5-4 3-5 2-5-4-5-5-4 12-5 0-5-9-5 16-4 11-5 5-5 1-5 8-4 4-5 1-5 5-4 3-5 9-5 9-5 9-4-4-5 4-5 9-5-3-4-3z"/><path transform="translate(255.5 163.5)" d="M938 250l5 3 5 3 5-9 4-4 5 4 5-9 5-9 4-9 5-3 5-5 5-1 4-4 5-8 5-1 4-5 5-11 5-17 5 10 4 0 5-12 5 5 5 3 4-2 5-2 5-5 5-1 4 3 5-3 5 1 5 6 4-3 5 4 5-9 4-10 5 12 5 2 5 7 4-23 5 4 5 2 5-6 4 0 5 0 5 3 5-7 4-7 5-3 5-7 4 21 5-8 5-16 5 6 4-6 5 3 5-5 5 16 4-3 5-14 5-13 5 1 4-5 5-12 5-3 5-2 4-7 5 9 5-5 4-8 5-3 5 1 5-9 4-1 5 0 5-1 5-1 4-1 5-3 5 8 5 9 5-3-5-23-5 21-4-8-5-5-5 8-5 6-4 5-5-16-5 21-5-6-4 10-5 1-5 1-5 14-4-7-5 9-5 10-4-3-5 12-5 6-5 5-4 9-5-10-5 11-5-7-4 5-5 7-5 3-5-7-4-2-5 4-5 1-4 4-5-9-5 11-5-4-4 7-5 5-5 1-5 1-4-7-5 13-5 0-5 3-4-13-5 3-5 9-5-8-4 5-5-1-5-6-4 5-5 4-5-11-5 5-4 13-5-10-5 0-5 4-4 5-5 6-5 0-5 16-4 2-5 3-5 0-5 7-4 4-5-1-5 11-4 1-5 14-5-1-5 6-4 3-5 9-5 8-5-7-4 2z"/><path transform="translate(260.7 166.8)" d="M938 254l5-2 5 7 5-8 4-9 5-3 5-6 5 1 4-14 5-1 5-11 5 1 4-5 5-6 5 0 4-3 5-2 5-16 5 0 4-6 5-5 5-4 5 0 4 10 5-13 5-5 5 11 4-5 5-4 5 6 5 1 4-5 5 7 5-8 4-3 5 12 5-2 5 0 4-13 5 7 5-1 5-1 4-5 5-7 5 4 5-11 4 9 5-5 5 0 4-4 5 2 5 7 5-4 4-6 5-5 5 7 5-11 4 10 5-9 5-5 5-6 4-13 5 4 5-10 5-9 4 7 5-14 5-1 4-2 5-9 5 6 5-21 4 16 5-5 5-6 5-8 4 5 5 8 5-21 5 23 5 8-5-15-5 9-4-2-5-10-5-19-5 35-4 2-5-1-5 3-5 0-4-5-5 11-5 6-5-2-4 6-5 13-5 0-4 6-5-9-5 27-5 8-4-11-5 0-5 14-5 5-4-2-5-10-5 16-5-5-4 3-5-12-5 15-4 2-5 1-5 0-5 6-4-2-5-10-5 9-5 0-4-8-5 25-5-4-5-3-4-6-5 0-5 8-5-1-4 4-5-12-5 12-4-4-5 6-5-4-5 4-4 2-5 0-5-1-5-19-4 28-5 1-5 12-5-3-4-2-5 12-5 2-5-4-4 16-5-8-5 12-4-5-5 12-5 1-5 7-4 4-5 1-5 5-5 6-4 8z"/><path transform="translate(265.9 170.2)" d="M938 256l5-8 5-6 5-5 4-1 5-4 5-7 5-1 4-12 5 5 5-12 5 8 4-16 5 4 5-2 4-12 5 1 5 4 5-12 4-2 5-27 5 19 5 1 4 0 5-2 5-4 5 4 4-6 5 4 5-12 5 12 4-4 5 0 5-7 4 0 5 6 5 3 5 4 4-25 5 8 5-1 5-8 4 10 5 2 5-7 5 0 4-1 5-1 5-16 4 13 5-4 5 6 5-16 4 10 5 2 5-5 5-14 4-1 5 12 5-8 5-28 4 10 5-6 5 0 5-14 4-5 5 2 5-6 4-11 5 5 5 0 5-3 4 1 5-2 5-36 5 20 4 10 5 2 5-9 5 15 5-1-5-9-5 14-4-5-5-9-5 8-5-18-4 17-5 8-5-5-5 0-4 13-5 9-5-15-5 16-4 12-5 3-5 1-4 12-5 6-5 0-5 10-4 4-5 3-5-9-5 14-4-1-5-4-5 8-5-10-4-13-5 6-5 7-4 4-5 10-5-8-5 4-4-2-5 6-5-1-5 1-4 0-5 14-5-19-5 16-4-2-5-5-5 5-5-1-4-6-5 9-5-6-4 6-5 1-5-4-5 13-4 2-5-8-5 0-5 3-4 7-5 11-5 2-5 7-4 3-5 2-5 8-5 6-4 1-5-6-5 0-4 12-5 6-5 4-5 3-4-7-5 8-5 9-5 9-4-1z"/><path transform="translate(271.1 173.5)" d="M938 252l5 2 5-10 5-8 4-9 5 8 5-3 5-5 4-5 5-12 5 0 5 6 4-1 5-6 5-8 4-2 5-3 5-7 5-2 4-11 5-7 5-3 5 0 4 8 5-2 5-13 5 3 4 0 5-6 5 6 5-9 4 6 5 0 5-4 4 5 5 2 5-16 5 19 4-15 5 1 5-1 5 1 4-6 5 2 5-5 5 9 4-10 5-4 5-7 4-6 5 13 5 10 5-8 4 4 5 1 5-14 5 8 4-2 5-4 5-11 5 1 4-7 5-11 5-2 5-2 4-12 5-16 5 15 4-9 5-13 5 0 5 5 4-8 5-17 5 18 5-8 4 9 5 4 5-14 5 10 5-14-5 7-5 6-4 6-5-7-5-1-5 3-4 5-5-1-5 4-5 5-4 0-5 6-5 12-5 4-4 5-5 1-5-2-4-1-5 15-5 8-5 10-4 9-5-6-5-1-5 10-4-10-5-4-5 8-5 0-4-12-5 16-5-4-4 16-5-5-5-12-5 21-4 3-5-6-5 6-5 0-4 1-5-13-5 4-5 1-4 13-5 0-5 9-5-6-4-10-5-4-5-1-4-7-5 15-5 0-5-1-4 7-5-2-5 7-5 12-4-8-5 12-5-2-5 5-4 7-5 5-5-9-5 14-4 6-5-9-5 12-4 4-5 12-5-5-5 11-4-1-5 4-5 5-5 5-4-12z"/><path transform="translate(276.3 176.8)" d="M938 239l5 13 5-5 5-5 4-4 5 1 5-11 5 5 4-12 5-4 5-13 5 10 4-6 5-15 5 10 4-5 5-7 5-5 5 2 4-12 5 8 5-12 5-7 4 2 5-7 5 1 5 0 4-15 5 7 5 1 5 4 4 10 5 5 5-8 4 0 5-13 5-1 5-4 4 13 5-1 5 0 5-6 4 6 5-4 5-20 5 12 4 5 5-16 5 4 4-16 5 12 5 0 5-8 4 4 5 10 5-10 5 1 4 6 5-9 5-10 5-8 4-15 5 1 5 2 5-1 4-5 5-4 5-12 4-6 5 0 5-5 5-4 4 1 5-5 5-3 5 1 4 7 5-6 5-6 5-7 5 20-5-11-5 16-4-11-5-1-5 9-5-3-4 0-5 5-5-1-5 14-4 4-5-2-5 5-5 5-4-2-5 15-5 5-4 10-5-6-5 7-5 16-4-1-5 1-5-1-5 2-4-1-5 3-5-11-5-1-4 6-5 3-5 6-4 2-5 0-5 7-5-7-4 2-5 5-5 8-5 3-4 1-5 4-5 0-5-10-4 7-5-10-5 0-5 10-4-11-5 11-5-12-4-12-5 21-5-3-5 0-4 4-5 14-5 9-5-5-4 11-5-1-5 1-5-3-4 10-5 2-5 11-5-12-4 13-5 9-5-11-4 9-5 8-5 9-5 5-4 3-5-7-5 6-5 1-4 8z"/><path transform="translate(281.5 180.2)" d="M938 250l5-9 5 0 5-6 4 7 5-4 5-5 5-8 4-8 5-9 5 11 5-9 4-13 5 12 5-11 4-2 5-10 5 3 5-1 4 1 5-11 5 5 5-9 4-15 5-3 5 0 5 3 4-21 5 12 5 12 5-11 4 11 5-10 5 0 4 10 5-7 5 10 5 0 4-4 5-1 5-3 5-8 4-5 5-2 5 7 5-7 4 0 5-2 5-6 4-3 5-7 5 2 5 11 4-3 5 1 5-2 5 1 4-1 5 1 5-16 5-7 4 6 5-10 5-5 5-15 4 2 5-5 5-5 4 2 5-4 5-14 5 1 4-6 5 1 5 2 5-9 4 2 5 10 5-15 5 11 5 6-5-5-5-5-4 4-5 6-5 2-5-5-4-7-5 9-5 7-5 0-4 15-5 6-5 8-5-24-4 13-5 19-5 3-4 5-5 5-5 1-5 9-4 1-5 3-5 9-5-4-4 1-5-15-5-2-5 15-4-1-5 2-5 3-4-6-5 17-5-11-5 7-4 0-5-6-5 8-5 8-4-2-5 4-5 0-5-4-4 7-5 4-5 0-5-11-4 6-5 5-5-12-4 1-5 16-5-9-5 9-4-10-5 1-5 14-5 12-4 0-5-6-5 3-5 6-4 11-5 1-5 13-5-4-4-4-5 5-5 10-4-6-5 5-5 11-5 6-4 8-5 2-5 3-5 2-4 2z"/><path transform="translate(286.7 183.5)" d="M938 255l5-2 5-2 5-3 4-2 5-8 5-6 5-11 4-5 5 6 5-11 5-4 4 4 5 4 5-13 4-2 5-10 5-6 5-3 4 6 5 0 5-13 5-13 4-1 5 10 5-10 5 10 4-16 5-1 5 11 5-4 4-6 5 11 5 0 4-4 5-7 5 4 5 0 4-4 5 2 5-8 5-8 4 6 5-1 5-6 5 11 4-18 5 7 5-4 4-1 5 1 5-16 5 3 4 15 5-1 5 4 5-9 4-3 5-1 5-9 5-1 4-5 5-5 5-3 5-20 4-12 5 24 5-8 4-7 5-14 5 0 5-7 4-9 5 7 5 4 5-1 4-6 5-4 5 5 5 5 5 9-5-5-5 2-4-2-5-9-5 3-5 11-4 2-5-20-5 10-5 21-4-2-5 11-5 9-5 5-4 6-5 2-5 1-4 6-5 1-5 12-5 4-4 0-5-14-5 10-5 10-4-12-5 6-5-24-5 22-4 0-5-16-5 27-4 2-5 6-5-14-5 2-4 7-5 1-5 10-5 1-4 8-5-2-5-10-5 7-4-1-5-1-5 8-5-11-4 5-5 2-5 1-4 3-5 0-5 0-5-1-4 3-5-2-5 3-5 3-4 11-5 5-5 8-5 0-4 8-5 7-5-9-5 6-4 5-5 4-5 2-4 10-5-4-5 15-5-4-4 13-5 0-5-4-5 3-4 3z"/><path transform="translate(291.9 186.9)" d="M938 250l5-2 5-3 5 4 4 0 5-13 5 4 5-16 4 5 5-10 5-2 5-4 4-5 5-6 5 9 4-7 5-8 5-1 5-7 4-6 5-11 5-2 5-4 4 3 5-3 5 1 5 0 4 0 5-3 5-2 5-1 4-6 5 12 5-8 4 0 5 2 5-7 5 10 4 2 5-8 5-1 5-10 4-1 5-7 5-2 5 14 4-6 5-2 5-27 4 16 5 0 5-22 5 24 4-6 5 12 5-10 5-11 4 15 5 0 5-4 5-12 4-2 5-5 5-1 5-2 4-6 5-5 5-9 4-11 5 1 5-21 5-9 4 20 5-2 5-11 5-3 4 9 5 2 5-3 5 6 5 3-5 5-5-14-4 3-5 1-5 3-5-4-4 0-5-2-5 14-5 9-4 10-5 12-5 3-5 1-4 4-5-6-5 20-4-15-5 20-5 6-5-4-4 8-5-5-5 5-5 2-4-3-5-1-5-8-5 12-4 3-5-4-5 6-4-3-5 9-5 0-5-6-4 8-5-2-5 9-5 2-4-3-5-7-5 0-5 5-4 4-5 4-5 2-5-24-4 0-5 15-5 5-4-1-5 1-5 3-5-3-4-1-5 9-5-5-5 3-4 19-5-9-5 13-5 4-4 3-5 4-5 12-5-7-4 2-5 3-5 17-4-5-5 10-5 2-5 2-4 7-5-1-5 8-5-5-4 12z"/><path transform="translate(297.2 190.2)" d="M938 258l5-11 5 4 5-7 4 0 5-6 5-2 5-2 4-10 5 5 5-17 5-3 4-2 5 7 5-12 4-4 5-3 5-4 5-13 4 9 5-19 5-4 5 6 4-9 5 1 5 3 5-3 4-1 5 1 5-6 5-14 4 0 5 24 5-2 4-4 5-4 5-5 5 0 4 7 5 3 5-2 5-9 4 2 5-8 5 6 5 0 4-9 5 3 5-7 4 5 5-4 5-11 5 8 4 1 5 3 5-2 5-6 4 6 5-8 5 4 5-6 4-21 5 16 5-20 5 6 4-4 5-1 5-3 4-12 5-10 5-9 5-14 4 2 5 0 5 4 5-3 4-1 5-3 5 14 5-5 5 11-5-6-5-5-4 3-5-4-5 3-5 5-4 10-5-6-5 3-5 9-4 7-5 5-5 7-5-2-4 10-5 8-5-2-4 14-5-15-5 12-5 4-4 7-5-4-5 7-5-4-4 1-5 3-5 3-5 2-4-7-5-2-5 7-4 2-5-1-5 3-5-2-4 7-5 6-5 0-5 5-4-2-5 0-5 6-5-13-4 11-5 2-5 3-5-15-4 5-5-3-5 4-4-5-5-14-5 27-5-9-4 7-5 1-5 7-5 8-4-4-5 11-5 7-5 9-4-5-5 2-5 7-5 5-4 4-5-4-5 12-4-2-5 10-5 5-5-6-4-12-5 25-5 6-5 3-4 2z"/><path transform="translate(302.4 193.5)" d="M938 257l5-2 5-3 5-6 4-25 5 11 5 7 5-5 4-10 5 2 5-12 5 4 4-4 5-5 5-7 4-2 5 5 5-9 5-7 4-11 5 4 5-8 5-7 4-2 5-6 5 9 5-27 4 13 5 6 5-4 5 3 4-5 5 15 5-3 4-2 5-11 5 12 5-5 4 0 5 2 5-5 5 0 4-6 5-7 5 2 5-3 4 0 5-2 5-6 4 2 5 7 5-3 5-3 4-2 5-1 5 4 5-7 4 4 5-7 5-4 5-12 4 15 5-14 5 2 5-8 4-10 5 2 5-7 4-5 5-7 5-9 5-3 4 6 5-10 5-5 5-3 4 4 5-3 5 5 5 6 5-7-5-4-5 9-4-8-5 1-5 6-5 7-4-4-5 7-5 0-5 11-4 5-5 15-5-1-5 10-4 2-5 1-5 0-4 10-5-6-5-2-5 10-4-2-5-11-5 20-5 5-4-2-5 5-5-21-5 13-4-2-5 2-5 4-4 4-5 1-5 9-5 0-4 0-5 2-5-4-5 15-4-11-5 8-5-3-5 2-4 3-5-1-5-9-5 8-4 0-5-9-5-7-4 13-5-1-5 3-5 10-4-2-5-4-5 11-5 1-4-5-5 22-5 6-5 0-4-3-5 10-5 7-5-10-4-4-5 9-5 11-4 2-5 11-5-1-5 4-4 1-5 4-5 6-5-2-4 9z"/><path transform="translate(307.6 196.9)" d="M938 253l5-9 5 2 5-6 4-4 5-2 5-4 5 2 4-11 5-2 5-11 5-9 4 4 5 9 5-6 4-10 5 3 5 0 5-6 4-22 5 5 5-1 5-11 4 4 5 2 5-10 5-3 4 1 5-13 5 7 5 9 4 0 5-9 5 10 4 1 5-3 5-2 5 3 4-8 5 11 5-15 5 4 4-2 5 0 5 0 5-9 4-1 5-4 5-4 4-2 5 1 5-12 5 21 4-5 5 2 5-5 5-20 4 11 5 2 5-11 5 3 4 5 5-9 5 0 5-1 4-2 5-10 5 1 4-15 5-5 5-11 5 0 4-8 5 4 5-6 5-7 4 0 5 8 5-9 5 4 5-9-5 13-5-10-4 11-5 6-5 1-5 5-4 7-5 0-5-1-5 7-4 2-5 0-5 22-5-5-4 8-5 11-5 4-4 2-5-1-5-6-5 0-4-3-5 10-5 9-5-1-4 1-5 4-5-7-5-18-4 17-5-18-5 13-4 15-5-6-5 18-5 2-4-1-5 0-5-4-5 1-4 1-5 12-5-11-5 3-4-12-5 17-5-3-5-2-4-7-5 0-5-9-4 12-5 4-5 6-5-1-4 4-5 10-5 6-5-6-4 9-5 12-5-9-5 4-4-2-5 20-5-6-5 11-4-6-5 7-5-1-4 12-5 1-5 9-5 2-4-6-5 13-5-5-5-1-4-8z"/></g></g><g filter="url(#tx)"><g transform="scale(0.5)" fill="url(#gd)" stroke="#201000" stroke-opacity="0.16" stroke-width="1.1" stroke-linejoin="round"><path transform="translate(0.0 0.0)" d="M2648 249l5-9 4 12 5-13 5 11 5-19 4-1 5 2 5-11 5 3 4-4 5-9 5 5 5-6 4 4 5-9 5-12 5 13 4 0 5 1 5-6 4-2 5-5 5 1 5-10 4 0 5-2 5-7 5 8 4-6 5-2 5-3 5-4 4 2 5-21 5 17 5-6 4-5 5-6 5-14 4 10 5-9 5-4 5-8 4 1 5 1 5 4 5 2 4-19 5 5 5 6 5-8 4-2 5 5 5-4 5 4 4-7 5 1 5-12 4-10 5 11 5-6 5 1 4-11 5-1 5 2 5-8 4-1 5-5 5 5 5-6 4 1 5-16 5 2 5 19 4 0 5-10 5 4 4 0 5-11 5 14-4-3-5 4-5 8-5-7-4 7-5-7-5 0-5 3-4-12-5 15-5-9-5 9-4 4-5-3-5-3-4 11-5-1-5 3-5 6-4-8-5 9-5 11-5 5-4 3-5-11-5 14-5-4-4 4-5 9-5-20-5 17-4-1-5 0-5 0-4-7-5 12-5 5-5-5-4-8-5 24-5 6-5-4-4 15-5-4-5-4-5 15-4 6-5-4-5-4-5 19-4-10-5 3-5 13-4 1-5 10-5-3-5-3-4 6-5 1-5-5-5 9-4-2-5-5-5 10-5 4-4-3-5-5-5 12-5-2-4 1-5 7-5 0-4 3-5 6-5 8-5 0-4 4-5-10-5 17z"/><path transform="translate(5.1 3.4)" d="M2648 253l5-18 4 10 5-3 5 0 5-9 4-5 5-3 5 0 5-7 4-1 5 2 5-13 5 6 4 3 5-4 5-10 5 5 4 1 5-8 5 5 4-1 5-7 5 4 5 3 4-10 5-2 5-12 5-3 4 10 5-19 5 3 5 5 4-6 5-16 5 5 5 3 4-14 5 4 5-6 4-24 5 8 5 5 5-5 4-12 5 7 5-1 5 1 4 1 5-18 5 21 5-9 4-5 5 4 5-13 5 11 4-3 5-5 5-11 4-9 5 8 5-6 5-3 4 1 5-11 5 3 5 3 4-4 5-9 5 9 5-15 4 11 5-2 5-1 5 8 4-8 5 8 5-8 4-4 5 3 5-12-4 16-5 4-5 4-5-5-4-1-5-5-5 4-5-7-4 4-5 1-5 4-5 10-4-7-5 9-5 3-4-1-5 1-5 4-5 5-4-3-5 9-5 0-5 4-4 1-5-5-5 5-5 8-4 1-5-8-5 16-5-3-4-2-5-1-5 0-4 12-5-5-5 2-5 2-4 2-5 7-5 3-5 5-4 0-5 13-5 7-5 5-4-10-5 3-5 13-5-1-4 9-5 3-5-2-4 4-5 12-5-2-5-8-4 16-5-3-5 5-5 2-4-6-5 0-5 7-5-8-4 6-5-3-5-5-5-1-4 7-5 8-5-2-4 16-5-3-5 13-5-8-4 4-5 11-5-8z"/><path transform="translate(10.2 6.7)" d="M2648 241l5 8 4-11 5-4 5 8 5-13 4 3 5-16 5 2 5-8 4-7 5 0 5 6 5 3 4-6 5 8 5-7 5 0 4 6 5-2 5-5 4 3 5-17 5 9 5 2 4-12 5-4 5 2 5-4 4-8 5 1 5-13 5-3 4 10 5-5 5-8 5-13 4 1 5-5 5-3 4-7 5-2 5-2 5-2 4 4 5-11 5 0 5 0 4 3 5 2 5-15 5 8 4-1 5-8 5-5 5 4 4 0 5-5 5 0 4-8 5 3 5-5 5-4 4-1 5 1 5-3 5-9 4 7 5-11 5-3 5-1 4-4 5 7 5-4 5 4 4 2 5 5 5-4 4-4 5-16 5 14-4 2-5-1-5 5-5 7-4 1-5-8-5-5-5 10-4 0-5 0-5 1-5 4-4 4-5 5-5-9-4 2-5 7-5 14-5-2-4 2-5-5-5 14-5-5-4 7-5 2-5 2-5 0-4 2-5 1-5 3-5 2-4-5-5-2-5 0-4-2-5 18-5 1-5-5-4 9-5-10-5 9-5 15-4 0-5 0-5 10-5 13-4-4-5 7-5 2-5 11-4-9-5 1-5 9-4-2-5 17-5-7-5 1-4 4-5-2-5 8-5 4-4-2-5 5-5 0-5-9-4 1-5-5-5 7-5-7-4 7-5 10-5 1-4 0-5 0-5 11-5 6-4 3-5-1-5-11z"/><path transform="translate(15.4 10.1)" d="M2648 231l5 12 4 1 5-3 5-6 5-11 4-1 5 1 5-1 5-10 4-7 5 7 5-8 5 6 4-1 5 9 5 0 5-5 4 2 5-4 5-9 4 3 5-4 5-1 5 7 4-17 5 2 5-9 5-1 4 9 5-11 5-2 5-7 4 4 5-13 5-10 5 0 4 0 5-16 5-8 4 10 5-9 5 4 5-1 4-17 5 2 5-1 5 3 4 5 5-2 5-3 5-1 4-2 5 0 5-2 5-2 4-7 5 5 5-14 4 4 5-1 5 2 5-14 4-7 5-2 5 9 5-5 4-4 5-4 5-1 5 0 4-1 5-9 5 4 5 9 4-2 5-6 5-5 4 1 5-2 5 10-4-7-5 8-5-10-5-7-4 22-5-3-5 2-5 7-4-2-5 4-5-12-5 11-4 10-5-9-5 10-4-1-5-4-5 8-5 3-4 13-5-1-5 7-5-1-4-5-5 5-5-6-5 5-4 10-5-4-5-12-5 8-4-4-5 0-5-9-4 20-5 11-5-12-5 10-4 6-5-1-5 1-5 9-4-6-5 19-5 10-5 3-4-6-5 19-5-9-5-4-4 13-5 8-5 5-4 0-5 6-5 4-5-15-4 13-5 9-5-7-5 10-4-14-5 16-5-10-5-7-4 8-5-1-5-11-5 9-4 4-5 6-5-4-4 1-5-4-5 21-5-2-4 9-5-1-5 2z"/><path transform="translate(20.5 13.5)" d="M2648 242l5-2 4 0 5-8 5 2 5-21 4 4 5-1 5 4 5-7 4-3 5-9 5 11 5 1 4-8 5 7 5 10 5-16 4 13 5-9 5 7 4-9 5-13 5 15 5-4 4-6 5-1 5-4 5-8 4-13 5 4 5 9 5-19 4 6 5-3 5-10 5-19 4 6 5-9 5-2 4 2 5-6 5-11 5 13 4-11 5-20 5 9 5 0 4 4 5-8 5 12 5 4 4-10 5-5 5 6 5-5 4 5 5 1 5-7 4 1 5-13 5-3 5-8 4 4 5 1 5-10 5 9 4-10 5-11 5 12 5-4 4 1 5-7 5-1 5 3 4-22 5 7 5 10 4-8 5 7 5 0-4 11-5-11-5 15-5 2-4-1-5 5-5-13-5 4-4 5-5 8-5-1-5-6-4 5-5-1-5-3-4 11-5-4-5 2-5 15-4 10-5-4-5 2-5-2-4 5-5-1-5 4-5-3-4-5-5 11-5-10-5-1-4-1-5 12-5-4-4-1-5 11-5 4-5-12-4 17-5 5-5 2-5-5-4 12-5 2-5 13-5-5-4 21-5 0-5-11-5 10-4-3-5 14-5-4-4 6-5 12-5 8-5-19-4 1-5 22-5-7-5-6-4 7-5-10-5 0-5 2-4 11-5-2-5-9-5 7-4 3-5-8-5 3-4 10-5 3-5 1-5 8-4 2-5 1-5 4z"/><path transform="translate(25.6 16.8)" d="M2648 239l5-5 4 0 5-2 5-9 5 0 4-3 5-10 5-3 5 8 4-3 5-8 5 10 5 2 4-11 5-2 5 0 5 10 4-7 5 5 5 8 4-22 5-1 5 19 5-8 4-12 5-6 5 4 5-14 4 2 5-9 5 11 5-1 4-20 5 5 5-13 5-2 4-12 5 5 5-3 4-4 5-17 5 12 5-4 4-11 5 1 5 3 5-11 4 1 5 1 5 9 5-10 4 4 5 4 5-4 5 1 4-5 5 2 5-2 4 4 5-10 5-15 5-2 4 4 5-12 5 3 5 2 4-5 5 6 5 1 5-9 4-4 5-4 5 12 5-4 4 1 5-2 5-16 4 11 5-10 5 10-4 2-5-2-5 8-5-6-4 1-5-1-5 1-5 12-4 4-5 7-5 3-5 1-4-2-5 3-5-8-4 1-5-2-5 5-5 8-4 6-5-4-5 13-5 0-4 3-5-14-5 12-5 0-4 1-5-8-5 7-5-15-4 11-5 8-5 1-4-6-5 9-5 4-5 2-4 11-5 3-5 5-5 5-4-5-5-1-5 11-5-1-4 12-5 6-5-2-5 6-4 9-5-8-5 12-4 3-5 0-5 12-5-2-4 6-5-15-5 5-5 1-4-1-5-15-5 17-5 1-4 0-5 6-5 4-5-4-4-24-5 30-5-5-4 4-5 3-5 2-5 5-4 8-5-6-5 2z"/><path transform="translate(30.7 20.2)" d="M2648 233l5-3 4 7 5-8 5-5 5-2 4-3 5-4 5 4 5-29 4 24 5 4 5-4 5-6 4 0 5-1 5-18 5 16 4 1 5-1 5-5 4 14 5-5 5 2 5-12 4 0 5-3 5-13 5 8 4-8 5-6 5 1 5-5 4-12 5 1 5-11 5 1 4 4 5-4 5-6 4-2 5-12 5-1 5-4 4-9 5 6 5-1 5-8 4-11 5 15 5-7 5 8 4-1 5 0 5-12 5 14 4-4 5 1 5-13 4 3 5-5 5-8 5-5 4 2 5-1 5 8 5-4 4 2 5 0 5-3 5-8 4-3 5-12 5-1 5 1 4-1 5 6 5-8 4 2 5-2 5 11-4-14-5 15-5 0-5-15-4 10-5-1-5 9-5 2-4 3-5 0-5 11-5 2-4-13-5 5-5 11-4 1-5 0-5 10-5-3-4 3-5 1-5-2-5 8-4-4-5 10-5-4-5-5-4 7-5 4-5-10-5 4-4-8-5 3-5 10-4 1-5 6-5 5-5-3-4 8-5 3-5 0-5 5-4 9-5 2-5 6-5 1-4 6-5-5-5 15-5-10-4 6-5 5-5 6-4 1-5 11-5 1-5-9-4 13-5 2-5-9-5 11-4 1-5 3-5 1-5-16-4 12-5 0-5 2-5 0-4-2-5 4-5 9-4-3-5-8-5 12-5-8-4-1-5 15-5 11z"/><path transform="translate(35.8 23.6)" d="M2648 243l5-11 4-15 5 1 5 8 5-12 4 7 5 4 5-9 5-5 4 3 5 0 5-2 5 0 4-12 5 16 5-1 5-3 4-1 5-12 5 10 4-2 5-13 5 9 5-1 4-11 5-2 5-5 5-5 4-6 5 10 5-15 5 5 4-6 5-1 5-6 5-2 4-9 5-6 5 1 4-3 5-8 5 2 5-4 4-6 5-2 5-9 5-3 4 8 5-4 5 10 5-4 4-7 5 5 5 3 5-9 4 4 5-9 5 3 4-1 5-3 5 3 5-11 4 1 5-1 5-12 5-4 4 13 5-2 5-11 5 0 4-3 5-2 5-9 5 1 4-10 5 15 5 0 4-15 5 13 5 10-4-19-5 15-5-4-5-2-4 5-5 3-5-12-5 9-4 22-5 4-5-4-5 9-4-3-5-3-5-6-4 14-5 5-5-7-5 8-4-5-5 8-5-3-5 6-4-8-5 14-5 3-5-7-4 5-5-17-5 12-5 8-4-7-5 4-5 4-4 6-5 1-5 2-5 2-4-7-5 11-5 8-5-2-4 10-5-5-5 16-5 0-4 5-5 3-5-2-5 0-4 7-5 5-5 2-4 11-5-2-5-3-5 10-4 5-5-4-5-1-5-8-4 4-5 4-5 6-5 5-4-16-5 6-5 11-5-5-4 7-5 1-5-6-4 3-5 1-5 3-5 4-4 9-5 4-5-1z"/><path transform="translate(40.9 27.0)" d="M2648 238l5 2 4-4 5-9 5-4 5-4 4 0 5-3 5 6 5-1 4-7 5 5 5-11 5-6 4 15 5-4 5-7 5-3 4-5 5 8 5 1 4 5 5-5 5-11 5 4 4 2 5-12 5-2 5-4 4-8 5 1 5 1 5-2 4-6 5 1 5-16 5 5 4-10 5 2 5-9 4-10 5 7 5-2 5-2 4-2 5-6 5-3 5-4 4 7 5-8 5-13 5 18 4-6 5 7 5-2 5-14 4 8 5-6 5 3 4-8 5 5 5-8 5 6 4-4 5-14 5 6 5 3 4 3 5-9 5 4 5-4 4-22 5-9 5 12 5-3 4-5 5 2 5 4 4-15 5 19 5-1-4-6-5 4-5 0-5-7-4-3-5 16-5 13-5 4-4 1-5 2-5-5-5 3-4-5-5 6-5 6-4 2-5-5-5 8-5 1-4 5-5 4-5-11-5 15-4-4-5 6-5-6-5 13-4 4-5-6-5 1-5-3-4-1-5 10-5-1-4-13-5 9-5 7-5 11-4 2-5-5-5-2-5 10-4 2-5 8-5 5-5 7-4 2-5 6-5-5-5 8-4-3-5 3-5 5-4 2-5-4-5 23-5-2-4-9-5-1-5-3-5 17-4-5-5 6-5 1-5 1-4-6-5-7-5 16-5-5-4 0-5 1-5 1-4-1-5 2-5 9-5 7-4-4-5 8-5 7z"/><path transform="translate(46.0 30.3)" d="M2648 244l5-8 4-7 5 4 5-7 5-9 4-2 5 1 5-1 5-1 4 0 5 5 5-16 5 7 4 6 5-1 5-1 5-7 4 6 5-17 5 3 4 1 5 9 5 2 5-23 4 4 5-2 5-5 5-3 4 2 5-8 5 6 5-6 4-2 5-8 5-4 5-8 4-3 5-9 5 2 4 4 5-1 5-12 5-6 4-9 5 13 5 1 5-10 4 1 5 3 5-1 5 6 4-4 5-13 5 6 5-6 4 4 5-15 5 10 4-3 5-6 5-1 5-8 4 6 5-2 5-6 5-6 4 5 5-3 5 5 5-2 4-2 5-3 5-14 5-15 4 2 5 8 5 0 4-4 5 6 5-6-4 3-5-2-5 2-5 9-4-4-5 7-5 5-5 12-4-9-5 17-5-6-5-3-4 8-5 5-5-1-4 0-5 0-5 10-5-11-4 7-5 5-5 1-5 5-4 4-5 1-5-2-5 7-4-1-5-5-5 7-5-9-4 0-5 11-5-2-4-6-5 5-5 7-5 6-4 0-5 8-5 2-5 3-4 0-5 8-5-12-5 13-4 3-5 8-5-1-5 5-4 5-5-5-5 6-4 8-5 1-5 10-5 4-4 0-5-7-5 6-5-11-4 0-5 9-5-2-5 10-4 2-5-9-5 2-5 0-4 5-5-5-5 12-4-2-5 2-5-6-5 15-4-3-5-4-5 5z"/><path transform="translate(51.2 33.7)" d="M2648 229l5-5 4 4 5 2 5-14 5 6 4-2 5 2 5-12 5 5 4-6 5 1 5-2 5 9 4-2 5-10 5 2 5-9 4-1 5 12 5-6 4 7 5 0 5-4 5-10 4-1 5-8 5-7 5 6 4-5 5-6 5 2 5-9 4-3 5-13 5 12 5-7 4 0 5-4 5-1 4-8 5 0 5-6 5-7 4-5 5 6 5 2 5-11 4 0 5 8 5-6 5 5 4 1 5-7 5 1 5 0 4-4 5-5 5-1 4-5 5-7 5 11 5-10 4 0 5 0 5 1 5-5 4-8 5 3 5 6 5-17 4 9 5-12 5-5 5-7 4 4 5-9 5-2 4 2 5-4 5 16-4 0-5-26-5 29-5-2-4-8-5 17-5 3-5 6-4 2-5-3-5 6-5 2-4 6-5 6-5-3-4-3-5 8-5 4-5-3-4-1-5 2-5-3-5 2-4 0-5 14-5-4-5 2-4 8-5-3-5 5-5 0-4-8-5 3-5 6-4-9-5 19-5-13-5 13-4 3-5 1-5-2-5 2-4-7-5 12-5 8-5 3-4 9-5 0-5-5-5 16-4 0-5-3-5 11-4-2-5-2-5 9-5-5-4 4-5-8-5 13-5 4-4-24-5 24-5-1-5 6-4-7-5 16-5-4-5 1-4-5-5 8-5-6-4 4-5-10-5 6-5 9-4 7-5 5-5 3z"/><path transform="translate(56.3 37.1)" d="M2648 238l5-3 4-5 5-7 5-10 5-5 4 10 5-4 5 5 5-7 4 5 5-1 5 4 5-16 4 7 5-6 5 0 5-23 4 24 5-4 5-14 4 8 5-3 5 5 5-9 4 2 5 2 5-11 5 3 4 0 5-16 5 5 5 0 4-9 5-3 5-8 5-12 4 6 5-1 5 2 4-1 5-3 5-13 5 12 4-19 5 10 5-6 5-3 4 8 5 0 5-5 5 2 4-7 5-2 5 3 5-14 4 1 5-2 5 3 4-2 5 1 5 3 5-4 4-8 5 3 5 3 5-6 4-6 5-2 5-6 5 2 4-1 5-7 5-2 5-17 4 8 5 2 5-29 4 26 5 0 5-2-4 1-5-6-5 0-5-1-4 16-5 10-5-1-5-7-4 1-5-8-5 24-5-14-4 19-5 10-5-1-4 1-5-2-5-1-5 1-4 11-5-2-5-7-5 9-4-3-5 13-5 4-5-3-4-3-5-6-5 16-5 4-4-10-5-4-5 13-4-7-5 4-5 12-5-4-4-2-5 8-5-2-5-1-4 6-5 7-5 13-5-11-4 3-5 10-5 0-5 12-4-8-5 13-5-8-4 6-5 3-5-1-5 6-4 9-5-1-5-15-5 12-4-2-5 5-5 1-5 3-4 1-5 6-5-10-5 17-4-21-5 7-5 3-4 0-5 8-5-8-5 14-4 8-5 3-5-6z"/><path transform="translate(61.4 40.4)" d="M2648 231l5 6 4-3 5-8 5-14 5 8 4-8 5-1 5-3 5-6 4 21 5-17 5 10 5-6 4-1 5-3 5-1 5-5 4 2 5-12 5 15 4 1 5-9 5-7 5 1 4-2 5-6 5 8 5-13 4 8 5-12 5 0 5-11 4-2 5 11 5-13 5-7 4-6 5 1 5 1 4-7 5 2 5 4 5-12 4-4 5 7 5-13 5 3 4 10 5-3 5-17 5 7 4 3 5 3 5-4 5-13 4 2 5-8 5 7 4 1 5-10 5-1 5 1 4 1 5 0 5 1 5-10 4-19 5 13 5-23 5 7 4 0 5 7 5 1 5-10 4-16 5 0 5 1 4 5 5-1 5 2-4 1-5 1-5-3-5 6-4 7-5 7-5-3-5 2-4 9-5-7-5 2-5 5-4 17-5-9-5 5-4-9-5 12-5-4-5 16-4-20-5 9-5-5-5 6-4 13-5-11-5 14-5 5-4 6-5 4-5-13-5 6-4 5-5-9-5 9-4 11-5 3-5 0-5 0-4-12-5 7-5-7-5 17-4 5-5 6-5-4-5-1-4 8-5 13-5-2-5 4-4-2-5 8-5 7-4-1-5-6-5-3-5 0-4-3-5 20-5-2-5-6-4 2-5 6-5 1-5 6-4 8-5 1-5-6-5-3-4 7-5-4-5 8-4 1-5-4-5 8-5-5-4 2-5-5-5 7z"/><path transform="translate(66.5 43.8)" d="M2648 224l5-7 4 5 5-3 5 6 5-8 4 4 5-1 5-8 5 4 4-7 5 3 5 6 5-1 4-8 5-6 5-2 5-5 4-2 5 6 5 2 4-20 5 3 5 0 5 3 4 6 5 1 5-7 5-8 4 2 5-4 5 2 5-13 4-8 5 1 5 4 5-6 4-5 5-17 5 7 4-7 5 11 5 1 5 0 4-3 5-11 5-9 5 9 4-5 5-6 5 12 5-3 4-6 5-5 5-14 5 11 4-14 5-5 5 5 4-9 5 20 5-17 5 5 4-12 5 9 5-5 5 9 4-17 5-5 5-2 5 7 4-10 5-1 5 3 5-7 4-7 5-7 5 4 4-1 5-2 5 13-4 5-5-5-5-2-5 3-4-16-5 19-5 7-5 2-4 7-5 3-5 0-5 1-4 10-5-3-5-3-4 8-5 6-5-5-5-13-4 17-5 4-5-11-5 10-4 5-5 4-5 2-5 0-4-16-5 18-5 0-5 7-4-5-5 6-5 2-4 4-5 11-5 3-5 0-4-12-5 6-5 1-5 13-4-1-5 2-5 11-5-5-4-1-5-1-5 20-5 0-4-5-5 9-5-4-4 6-5-24-5 18-5 4-4 8-5-1-5 1-5 1-4 4-5 0-5 6-5 7-4 2-5 3-5 1-5 3-4-2-5-1-5-4-4 7-5 2-5 6-5-2-4-1-5 1-5 7z"/><path transform="translate(71.6 47.2)" d="M2648 237l5-7 4-2 5 2 5 1 5-5 4-2 5-7 5 4 5 1 4 1 5-2 5-1 5-4 4-1 5-7 5-7 5 1 4-4 5-2 5 0 4 1 5-8 5-4 5-18 4 24 5-6 5 3 5-8 4 5 5 0 5-21 5 2 4 1 5 5 5-11 5-2 4 0 5-12 5-1 4-6 5 12 5 0 5-3 4-11 5-4 5-2 5-6 4 5 5-7 5 0 5-18 4 16 5 0 5-2 5-4 4-5 5-11 5 12 4-4 5-17 5 13 5 5 4-7 5-7 5 3 5 3 4-10 5-1 5 0 5-3 4-7 5-2 5-7 5-19 4 16 5-3 5 2 4 5 5-5 5 15-4-12-5 11-5-12-5 7-4 5-5-5-5 10-5 11-4-7-5-2-5-4-5 7-4 0-5 9-5-4-4 13-5-10-5 8-5-6-4 10-5 2-5-2-5 7-4 9-5 4-5 0-5 7-4 2-5-11-5 5-5 5-4-3-5 5-5-2-4-13-5 20-5-4-5 6-4 10-5-2-5 3-5 7-4-1-5-3-5 11-5-4-4 3-5 0-5 4-5 1-4 2-5 13-5-6-4-6-5-4-5 11-5 6-4 4-5 7-5 5-5 1-4 2-5-11-5 18-5-2-4 5-5 3-5-5-5 1-4 10-5-18-5 5-4 8-5 4-5-1-5-8-4 20-5-1-5 10z"/><path transform="translate(76.8 50.5)" d="M2648 245l5-10 4 1 5-20 5 8 5 1 4-4 5-9 5-5 5 19 4-10 5-1 5 5 5-3 4-5 5 1 5-18 5 12 4-2 5-1 5-6 4-7 5-4 5-6 5-10 4 4 5 6 5 6 5-13 4-3 5 0 5-4 5 0 4-3 5 4 5-11 5 3 4 0 5-6 5-3 4 2 5-10 5-7 5 5 4-20 5 13 5 2 5-5 4 3 5-5 5-5 5 10 4-1 5-7 5-1 5-3 4-9 5-7 5 2 4-2 5-10 5 6 5-8 4 10 5-14 5 5 5-9 4 0 5-8 5 4 5 3 4 7 5-11 5-10 5 5 4-5 5-7 5 12 4-12 5 13 5-5-4-1-5 8-5 1-5 2-4-2-5 11-5-20-5 17-4 8-5 0-5-7-5-1-4-2-5 11-5 9-4-3-5-9-5 18-5-10-4 13-5-3-5 3-5 9-4 2-5 8-5-4-5 2-4 3-5 5-5-6-5 14-4-8-5-2-5-1-4 13-5-2-5 1-5 9-4-7-5 1-5 3-5 12-4 5-5-10-5 7-5 3-4 1-5 0-5 3-5 6-4-6-5 15-5-8-4-1-5 10-5 0-5 2-4 9-5-12-5 6-5 8-4 10-5-3-5 10-5 3-4-1-5-4-5 10-5-5-4-5-5 0-5-11-4 8-5 6-5 13-5-14-4 10-5 6-5-3z"/><path transform="translate(81.9 53.9)" d="M2648 230l5 3 4-6 5-10 5 14 5-14 4-5 5-8 5 11 5 0 4 5 5 5 5-10 5 4 4 0 5-3 5-10 5 4 4-10 5-8 5-6 4 11 5-8 5-3 5 1 4-10 5 1 5 8 5-15 4 6 5-6 5-3 5 0 4-1 5-3 5-7 5 10 4-5 5-12 5-3 4-1 5 7 5-9 5-1 4 2 5-13 5 1 5 2 4 8 5-14 5 6 5-5 4-3 5-3 5 5 5-8 4-3 5-9 5-2 4 3 5-13 5 9 5-17 4 9 5 3 5-10 5-11 4 3 5 1 5 6 5 1 4-8 5-17 5 19 5-10 4 2 5-2 5-1 4-9 5 1 5 12-4-5-5 15-5-5-5 3-4 2-5-3-5 7-5-3-4-1-5 3-5 0-5 7-4-10-5 13-5 5-4-5-5-2-5 4-5 0-4 6-5 4-5 13-5-2-4-6-5 13-5-6-5 2-4 4-5 1-5 4-5 10-4 1-5-10-5 13-4 2-5-6-5-2-5 9-4-3-5 7-5 2-5 4-4 4-5 8-5 2-5 4-4-6-5 7-5-13-5 15-4-2-5-14-5 16-4-11-5 10-5-9-5 16-4 2-5 5-5 7-5 2-4 7-5-3-5 5-5 2-4-12-5 6-5 8-5 8-4-29-5 26-5-2-4-6-5 16-5 0-5 0-4 5-5-10-5 15z"/><path transform="translate(87.0 57.3)" d="M2648 237l5-15 4 10 5-5 5 0 5 0 4-16 5 6 5 1 5-26 4 29 5-7 5-8 5-7 4 13 5-2 5-5 5 2 4-6 5-3 5-6 4-5 5-2 5-17 5 10 4-10 5 11 5-16 5 14 4 1 5-14 5 13 5-7 4 6 5-5 5-1 5-8 4-5 5-4 5-1 4-7 5 3 5-9 5 2 4 6 5-2 5-14 5 10 4 0 5-10 5-4 5-1 4-4 5-2 5 5 5-12 4 6 5 1 5-12 4-4 5-6 5 0 5-4 4 2 5 5 5-6 5-12 4 10 5-7 5 0 5-3 4 1 5 3 5-7 5 3 4-2 5-3 5 5 4-15 5 5 5-6-4 11-5-11-5 19-5-4-4 9-5-3-5 1-5 4-4 1-5-1-5 1-5 1-4-2-5 6-5 4-4-4-5-2-5 14-5-16-4 18-5-10-5 16-5 7-4-4-5-3-5 4-5-1-4 10-5-4-5-2-5 10-4 9-5 0-5-13-4 12-5 8-5 3-5 2-4-9-5 3-5 7-5 9-4 3-5 0-5-11-5 12-4 11-5-12-5 9-5-8-4 9-5 2-5 0-4-6-5 5-5 7-5 9-4-1-5-8-5 11-5-8-4 10-5 3-5 3-5 1-4 5-5 11-5-4-5 5-4-5-5 1-5 7-4 0-5 4-5 0-5 1-4-7-5 10-5 4z"/><path transform="translate(92.1 60.7)" d="M2648 235l5-5 4-9 5 6 5 0 5-1 4-3 5-1 5-6 5-1 4 5 5-6 5 5 5-11 4-5 5-1 5-3 5-3 4-10 5 8 5-11 4 8 5 0 5-8 5-7 4-5 5 6 5-1 5-1 4-9 5 8 5-9 5 12 4-12 5-11 5 10 5 1 4-3 5-9 5-7 4-3 5 9 5-2 5-3 4-8 5-12 5 13 5 0 4-10 5-9 5 2 5 4 4-10 5 1 5-4 5 3 4 4 5-7 5-16 4 10 5-18 5 16 5-15 4 2 5 5 5-4 5-6 4 2 5-1 5-1 5 0 4 0 5-4 5-1 5 3 4-9 5 3 5-18 4 11 5-11 5 6-4 9-5 7-5-1-5 5-4-2-5-4-5-5-5 13-4 7-5-6-5 5-5-3-4-4-5 4-5 8-4-5-5 10-5-6-5-2-4 7-5 9-5 4-5-2-4 7-5-2-5-1-5-6-4 17-5 0-5 4-5 8-4 6-5-4-5 2-4 3-5 2-5 0-5-2-4 2-5-12-5 15-5 4-4 7-5 0-5 10-5-4-4-7-5 13-5-10-5 9-4-3-5-6-5-1-4 2-5 19-5-10-5 24-4 0-5-3-5-4-5 8-4-9-5 17-5 3-5 2-4-1-5 3-5-10-5 15-4 4-5-4-5 6-4 2-5-6-5 5-5 2-4-3-5 6-5-2z"/><path transform="translate(97.2 64.0)" d="M2648 228l5 2 4-7 5 4 5-2 5-5 4 6 5-2 5-6 5 4 4-4 5-15 5 10 5-3 4 1 5-2 5-3 5-17 4 9 5-8 5 4 4 3 5 0 5-25 5 11 4-19 5-2 5 0 5 7 4 3 5-9 5 10 5-13 4 7 5 4 5-10 5 0 4-7 5-4 5-15 4 12 5-2 5 1 5 1 4-2 5-3 5-3 5 5 4-6 5-8 5-4 5 0 4-17 5 6 5 1 5 2 4-7 5 2 5-4 4-9 5-7 5 2 5 6 4-10 5 5 5-8 5-4 4 4 5 2 5-4 5 6 4-7 5-13 5 5 5 4 4 2 5-5 5 1 4-7 5-9 5 12-4 1-5 4-5 4-5 0-4 8-5-16-5 15-5 4-4-13-5 12-5 2-5-3-4 4-5-3-5-13-4 19-5-2-5 5-5 2-4 5-5 7-5 3-5-3-4-3-5 13-5-4-5 7-4-6-5 11-5-4-5 13-4-2-5-4-5 10-4-7-5 3-5 1-5 9-4 1-5-2-5 1-5 4-4-4-5 15-5-2-5-7-4 0-5 13-5 4-5-11-4 6-5 3-5 3-4 1-5 0-5 8-5 5-4 1-5 2-5 4-5-2-4 1-5 0-5 1-5 7-4 10-5 6-5-2-5 1-4-3-5 12-5 2-4 2-5-14-5 9-5 6-4-9-5 8-5 8z"/><path transform="translate(102.3 67.4)" d="M2648 237l5-9 4-7 5 9 5-6 5-9 4 14 5-3 5-2 5-11 4 3 5-1 5 2 5-7 4-9 5-7 5-1 5 0 4-1 5 2 5-4 4-2 5-1 5-5 5-8 4 0 5-1 5-3 5-3 4-6 5 11 5-4 5-13 4-1 5 8 5 2 5-15 4 4 5-4 5-1 4 2 5-1 5-10 5 0 4-3 5 7 5-10 5 4 4 1 5-12 5 4 5-12 4 7 5-7 5 3 5-12 4 3 5 3 5-3 4-7 5-5 5-2 5-6 4 3 5-19 5 13 5 2 4-3 5 3 5-2 5-13 4 14 5-4 5-16 5 17 4-8 5 0 5-4 4-4 5-2 5 4-4 4-5-10-5 1-5 22-4-1-5 8-5-3-5 2-4 0-5 7-5-7-5 2-4-2-5 4-5 3-4-1-5-9-5-3-5-7-4 27-5 9-5-2-5-32-4 37-5 1-5 1-5 1-4 9-5 3-5 4-5-19-4 13-5 13-5-10-4 14-5-6-5 1-5 6-4-4-5 7-5-4-5 12-4-3-5 9-5 2-5-4-4 0-5 8-5 1-5-16-4 13-5-1-5 0-4 10-5-19-5 15-5 10-4 6-5-10-5-9-5 15-4 11-5 8-5-2-5 7-4-3-5 8-5 3-5 1-4-6-5 10-5-8-4 16-5 2-5-24-5 13-4 6-5 5-5 0z"/><path transform="translate(107.4 70.8)" d="M2648 233l5 0 4-6 5-5 5-13 5 24 4-2 5-16 5 8 5-10 4 6 5-1 5-3 5-8 4 3 5-7 5 1 5-7 4-11 5-15 5 9 4 10 5-6 5-10 5-15 4 19 5-10 5-1 5 2 4-13 5 16 5-1 5-8 4 0 5 4 5-2 5-9 4 3 5-13 5 5 4-7 5 4 5-7 5 0 4 6 5-14 5 10 5-13 4-13 5 19 5-4 5-3 4-9 5-1 5-2 5 0 4-37 5 32 5 2 4-10 5-26 5 7 5 2 4 10 5 0 5-2 5-4 4 2 5-2 5 7 5-7 4-1 5-1 5 3 5-9 4 2 5-22 5-1 4 9 5-3 5 8-4 6-5 3-5 9-5-8-4-4-5 12-5-7-5 3-4 5-5 1-5-9-5 8-4 4-5-7-5-3-4 8-5 5-5 3-5 0-4 12-5-3-5 0-5-5-4-1-5 17-5-8-5 7-4 1-5-3-5 18-5 3-4-2-5-1-5-8-4 16-5-6-5 3-5-3-4 5-5 8-5-6-5 11-4 11-5-12-5 5-5 4-4 4-5 3-5-5-5 5-4-7-5 14-5 1-4 6-5 0-5-2-5-8-4 16-5-2-5 2-5 8-4 4-5-5-5 14-5-3-4 1-5 8-5-14-5 3-4 6-5 8-5 2-4 6-5 5-5 0-5 1-4-6-5-6-5 8z"/><path transform="translate(112.6 74.1)" d="M2648 230l5-8 4 6 5 6 5-1 5 0 4-5 5-6 5-2 5-8 4-6 5-3 5 14 5-8 4-1 5 3 5-14 5 5 4-4 5-8 5-2 4 2 5-16 5 8 5 2 4 0 5-6 5-1 5-14 4 6 5-4 5 5 5-4 4-3 5-4 5-5 5 12 4-12 5-10 5 6 4-9 5-5 5 3 5-3 4 6 5-15 5 8 5 1 4 1 5-3 5-17 5 3 4-1 5-7 5 8 5-17 4 1 5 5 5 0 4 3 5-13 5 1 5-3 4-5 5-8 5 3 5 7 4-4 5-8 5 9 5-1 4-5 5-3 5 7 5-13 4 5 5 7 5-8 4-3 5-6 5-4-4 23-5-3-5 11-5-7-4-8-5 7-5 5-5-1-4-4-5 10-5-2-5-11-4 3-5 11-5-2-4-1-5 1-5 0-5 4-4-2-5 11-5-5-5-1-4-5-5 24-5-7-5 2-4 5-5 7-5 6-5 4-4-4-5 0-5 2-4 6-5-3-5-11-5 25-4-3-5 1-5-7-5 3-4 9-5 8-5 6-5-2-4 4-5-7-5 14-5-1-4-19-5 8-5 15-4-3-5 1-5-6-5 6-4 4-5 11-5-4-5 9-4-14-5 19-5-9-5 8-4-5-5 19-5 5-5-12-4 7-5 5-5 3-4 4-5 0-5 5-5-3-4 3-5-11-5 3z"/><path transform="translate(117.7 77.5)" d="M2648 226l5-3 4 11 5-3 5 3 5-5 4 0 5-4 5-3 5-5 4-7 5 12 5-5 5-19 4 5 5-8 5 9 5-19 4 14 5-9 5 4 4-11 5-4 5-6 5 5 4 0 5 3 5-15 5-8 4 19 5 1 5-14 5 7 4-4 5 2 5-7 5-7 4-9 5-3 5 7 4-1 5 3 5-25 5 11 4 3 5-6 5-2 5 0 4 4 5-4 5-6 5-7 4-5 5-2 5 7 5-25 4 6 5 1 5 5 4-11 5 2 5-4 5 0 4-1 5 1 5 2 5-11 4-3 5 11 5 2 5-10 4 4 5 0 5-4 5-8 4 9 5 7 5-12 4 3 5-22 5 15-4 13-5 1-5-4-5 5-4-5-5 2-5 11-5-1-4-10-5 5-5 7-5-13-4-5-5 15-5-7-4-8-5 0-5 1-5 5-4 1-5 13-5-5-5 5-4 1-5 14-5-12-5 16-4-1-5 3-5 11-5 4-4-14-5 7-5 6-4-8-5 6-5 7-5 7-4 9-5-5-5 9-5-9-4 3-5 11-5 5-5 5-4-3-5-6-5 8-5 0-4-3-5 4-5 3-4 8-5 5-5-2-5-1-4 4-5 3-5-5-5 7-4 3-5-4-5 7-5-13-4 20-5-1-5 5-5 5-4 7-5-1-5 11-4-6-5-3-5-21-5 22-4 4-5-7-5 6z"/><path transform="translate(122.8 80.9)" d="M2648 228l5-5 4 7 5-5 5-22 5 22 4 3 5 6 5-12 5 2 4-7 5-5 5-5 5 1 4-21 5 14 5-7 5 4 4-3 5-7 5 5 4-3 5-4 5 1 5 1 4-4 5-8 5-3 5-4 4 3 5 0 5-8 5 6 4 3 5-5 5-5 5-11 4-3 5 8 5-8 4 5 5-9 5-7 5-7 4-6 5 8 5-6 5-7 4 14 5-4 5-11 5-3 4 0 5-15 5 12 5-14 4-2 5-5 5 6 4-13 5-2 5-4 5-2 4 1 5 8 5 6 5-14 4 5 5 13 5-7 5-5 4 10 5 1 5-11 5-3 4 6 5-5 5 4 4-1 5-13 5 1-4 17-5-3-5-3-5 9-4 2-5 1-5 0-5-2-4 6-5-14-5 14-5-6-4 2-5-20-5 19-4-8-5 10-5-4-5 6-4-1-5 1-5-5-5 12-4-5-5 10-5 9-5 3-4 0-5 10-5 2-5 2-4 3-5-13-5 20-4-3-5 6-5-1-5 10-4 1-5-1-5-14-5 13-4 4-5-2-5 4-5 15-4 0-5-5-5 4-5 0-4-13-5 16-5-7-4 12-5-6-5 5-5-7-4 12-5-1-5 3-5 2-4 0-5-6-5 15-5-1-4 7-5-3-5 12-5-3-4 9-5 2-5-2-4 14-5-5-5-4-5 2-4 9-5 3-5-5z"/><path transform="translate(127.9 84.2)" d="M2648 233l5 5 4-3 5-9 5-2 5 4 4 5 5-14 5 2 5-2 4-9 5 3 5-12 5 3 4-7 5 1 5-15 5 6 4 0 5-2 5-4 4 2 5-12 5 7 5-5 4 6 5-13 5 8 5-16 4 13 5 0 5-5 5 6 4 0 5-15 5-4 5 2 4-4 5-14 5 15 4 0 5 0 5-10 5 1 4-6 5 3 5-20 5 13 4-3 5-2 5-3 5-9 4 0 5-3 5-9 5-10 4 5 5-12 5 5 4-1 5 1 5-6 5 4 4-10 5 7 5-18 5 20 4-2 5 6 5-14 5 13 4-5 5 2 5 0 5-1 4-2 5-9 5 3 4 3 5-17 5 14-4 3-5 4-5 6-5 4-4 0-5 2-5 0-5 2-4-4-5 2-5-8-5 0-4 6-5-4-5 1-4-16-5 14-5 6-5-6-4-6-5 14-5-1-5 1-4 8-5 9-5 6-5-7-4 15-5-4-5 6-5 2-4 1-5-8-5 16-4 1-5-3-5 3-5-3-4 15-5-2-5 4-5-4-4-1-5-2-5 7-5 6-4 3-5 14-5-5-5-1-4 5-5-14-5 4-4 16-5-1-5-2-5 2-4-5-5-6-5 19-5-4-4 2-5 11-5-3-5-11-4 16-5 1-5 3-5 13-4 4-5-3-5 10-4-7-5-2-5 7-5-4-4 5-5 15-5-5z"/><path transform="translate(133.0 87.6)" d="M2648 239l5 5 4-15 5-5 5 4 5-7 4 2 5 7 5-10 5 3 4-4 5-13 5-3 5-1 4-16 5 11 5 2 5-10 4-3 5 5 5-20 4 6 5 5 5-1 5 2 4 1 5-16 5-4 5 14 4-5 5 1 5 5 5-14 4-3 5-6 5-7 5 1 4 2 5 4 5-4 4 2 5-15 5 3 5-3 4 3 5-1 5-16 5 8 4-1 5-3 5-5 5 4 4-15 5 7 5-6 5-9 4-8 5-1 5 1 4-14 5 6 5 6 5-6 4-14 5 16 5-1 5 4 4-7 5 1 5 8 5-2 4 4 5-2 5 0 5-2 4 0 5-4 5-6 4-4 5-3 5 14-4 3-5 1-5 1-5-6-4 1-5-3-5 5-5 14-4-1-5-1-5-3-5 0-4 2-5 0-5-9-4-14-5 11-5 6-5 0-4-6-5-2-5 8-5 6-4 5-5-1-5 11-5 6-4 12-5-8-5-3-5-3-4 16-5 2-5 5-4-9-5 7-5-3-5 7-4 7-5 4-5-8-5 7-4-3-5 8-5 8-5-10-4 14-5-1-5 1-5 8-4-4-5 1-5-8-4 15-5-1-5-4-5-4-4 7-5-4-5 13-5-6-4 3-5 6-5-9-5 8-4 7-5 11-5-1-5 8-4-9-5 16-5-1-4-1-5 10-5-9-5 11-4 8-5-9-5 6z"/><path transform="translate(138.2 91.0)" d="M2648 238l5-6 4 9 5-8 5-11 5 8 4-9 5 1 5 1 5-16 4 9 5-8 5 1 5-11 4-7 5-9 5 10 5-6 4-3 5 5 5-12 4 3 5-6 5 3 5 5 4 1 5-15 5 8 5-1 4 3 5-8 5 0 5 1 4-15 5 10 5-7 5-8 4 3 5-8 5 9 4-4 5-7 5-7 5 3 4-7 5 9 5-5 5-2 4-17 5 4 5 3 5 8 4-12 5-6 5-11 5 1 4-5 5-6 5-9 4 2 5 6 5 1 5-6 4-11 5 14 5 9 5 0 4-2 5 0 5 2 5 2 4 1 5-15 5-5 5 4 4-1 5 6 5-2 4 0 5-3 5-1-4 10-5 3-5-3-5-4-4 20-5-7-5-6-5 10-4 6-5-4-5-10-5 7-4-9-5 9-5-3-4-6-5 7-5 0-5 2-4-4-5-3-5 6-5 5-4 2-5 1-5 16-5 3-4 1-5-13-5 13-5 0-4 6-5-2-5 5-4 5-5-6-5 7-5-16-4 22-5-3-5 5-5 8-4-22-5 17-5 10-5 1-4-3-5 12-5 4-5-2-4-7-5-2-5 0-4 7-5-4-5 5-5 2-4 4-5 1-5 5-5 0-4-1-5 7-5-7-5 2-4 10-5 8-5 3-5 8-4 0-5-4-5 4-4 13-5-2-5 2-5 2-4-3-5-4-5 6z"/><path transform="translate(143.3 94.4)" d="M2648 232l5-6 4 4 5 2 5-1 5-2 4 2 5-13 5-4 5 4 4-1 5-7 5-4 5-7 4-11 5-1 5 7 5-7 4 1 5 0 5-5 4-1 5-4 5-3 5-4 4 4 5-7 5 0 5 2 4 7 5 2 5-4 5-13 4 3 5 0 5-10 5-17 4 22 5-8 5-5 4 3 5-22 5 16 5-7 4 6 5-5 5-5 5 1 4-6 5 1 5-14 5 14 4-2 5-2 5-16 5-2 4-1 5-5 5-7 4 4 5 4 5-2 5 0 4-7 5 6 5 3 5-9 4 9 5-7 5 10 5 4 4-6 5-10 5 5 5 8 4-20 5 4 5 3 4-4 5-9 5 5-4 7-5 2-5 12-5-7-4 8-5-5-5 9-5 6-4 0-5-9-5 0-5-6-4 6-5 0-5-10-4 10-5-11-5 5-5 11-4 0-5 3-5 3-5 3-4 1-5 7-5-1-5-11-4 4-5 13-5-2-5 9-4-3-5 12-5-3-4 1-5 6-5-6-5 7-4-3-5 1-5-2-5 7-4-7-5 17-5-4-5 2-4 12-5 2-5 1-5-2-4 0-5-2-5-5-4 8-5-2-5 1-5-6-4 12-5-8-5 0-5 6-4 4-5-8-5 21-5 2-4-2-5 5-5 6-5 4-4 2-5-9-5 16-4 1-5-7-5 11-5 5-4-10-5 10-5-8z"/><path transform="translate(148.4 97.7)" d="M2648 222l5 8 4-10 5 9 5-4 5-11 4 7 5-1 5-16 5 9 4-2 5-5 5-5 5-5 4 2 5-2 5-21 5 7 4-3 5-6 5 0 4 8 5-12 5 6 5-1 4 2 5-8 5 5 5 1 4 1 5 2 5-2 5-1 4-13 5-2 5 5 5-17 4 7 5-8 5 3 4-1 5 3 5-7 5 6 4-6 5-2 5 4 5-12 4 3 5-9 5 2 5-13 4-4 5 11 5 1 5-7 4-2 5-2 5-3 4-3 5-1 5-11 5-4 4 11 5-10 5 10 5 0 4-6 5 6 5 0 5 9 4-1 5-5 5-9 5 4 4-7 5 7 5-13 4-1 5-7 5 15-4-7-5 10-5-4-5 4-4 8-5 0-5-6-5 9-4-8-5 3-5 1-5 1-4-3-5 4-5-2-4 9-5-9-5 6-5 3-4-2-5 11-5 0-5 8-4-6-5 12-5-2-5 2-4-3-5 4-5 0-5 0-4 5-5 4-5 0-4 5-5 9-5-8-5 1-4 11-5-5-5-1-5 5-4-2-5 4-5-2-5 0-4 3-5 6-5 3-5 7-4-4-5-9-5 0-4 6-5 2-5-9-5 7-4 2-5 3-5 8-5 1-4-5-5 8-5 2-5-3-4 1-5 12-5 0-5 19-4 6-5-5-5 3-4-1-5-6-5 5-5 1-4 7-5 2-5 6z"/><path transform="translate(153.5 101.1)" d="M2648 237l5-6 4-2 5-8 5-1 5-4 4 5 5 2 5-4 5 6 4-6 5-19 5-1 5-11 4-1 5 3 5-2 5-8 4 5 5-1 5-8 4-3 5-2 5-7 5 8 4-1 5-6 5-1 5 10 4 4 5-7 5-3 5-6 4-3 5-1 5 3 5-4 4 2 5-5 5 1 4 5 5-11 5-1 5 8 4-9 5-5 5 0 5-4 4-5 5 0 5 0 5-4 4 3 5-2 5 2 5-12 4 6 5-9 5 1 4-11 5 2 5-4 5-5 4 9 5-9 5 2 5-4 4 3 5-1 5-1 5-3 4 8 5-9 5 6 5 0 4-8 5-5 5 5 4-10 5 6 5 5-4 3-5 5-5 2-5 4-4-3-5-5-5 7-5-19-4 22-5-9-5-4-5-3-4 15-5-9-5 9-4-1-5 4-5-6-5-2-4 14-5 8-5-11-5-1-4 19-5 4-5 9-5-2-4-6-5 3-5-10-5 12-4-2-5 5-5-4-4 1-5 9-5 6-5 2-4-1-5 4-5-10-5 7-4 4-5-2-5 2-5 0-4 5-5-9-5 15-5-8-4 10-5-6-5-5-4 16-5-1-5-6-5 2-4 0-5 1-5 4-5 7-4-4-5-2-5 10-5 7-4 2-5 1-5 6-5 9-4 9-5 5-5 7-4-10-5 0-5 3-5 5-4-1-5 4-5 2z"/><path transform="translate(158.6 104.5)" d="M2648 237l5-2 4-4 5 1 5-6 5-2 4 0 5 9 5-6 5-5 4-9 5-9 5-6 5-1 4-2 5-7 5-11 5 3 4 4 5-7 5-4 4-1 5 0 5-2 5 6 4 1 5-16 5 5 5 6 4-10 5 7 5-14 5 9 4-5 5 0 5-3 5 3 4-4 5-8 5 11 4-5 5 1 5-1 5-7 4-8 5-1 5 4 5-5 4 2 5-12 5 10 5-3 4 6 5 1 5-8 5-5 4-18 5 1 5 11 4-8 5-14 5 2 5 6 4-4 5 1 5-9 5 9 4-15 5 3 5 4 5 9 4-23 5 20 5-8 5 6 4 3 5-4 5-2 4-5 5-4 5 1-4 5-5 3-5-7-5 12-4 3-5 2-5-7-5-12-4 9-5-8-5 4-5 3-4 16-5-4-5 3-4-5-5 4-5 5-5 0-4 7-5-5-5 13-5 1-4 10-5-6-5 11-5 13-4-4-5-4-5 0-5-7-4-1-5 0-5-3-4 10-5 1-5-6-5 0-4 17-5-9-5 1-5 2-4 2-5-8-5 13-5 13-4-4-5 1-5-2-5 6-4 7-5-6-5 4-4-5-5-2-5 0-5 2-4 3-5-3-5 9-5 0-4-1-5-7-5 16-5 7-4-8-5 15-5-6-5 12-4 2-5-2-5 8-4 1-5-7-5 13-5 3-4 0-5 10-5-1z"/><path transform="translate(163.7 107.8)" d="M2648 236l5 1 4-10 5 0 5-3 5-13 4 7 5-1 5-8 5 2 4-2 5-12 5 5 5-14 4 8 5-7 5-16 5 7 4 1 5 0 5-9 4 3 5-3 5-2 5-1 4 3 5 5 5-4 5 6 4-7 5-6 5 2 5-1 4 4 5-13 5-14 5 9 4-2 5-2 5-1 4 9 5-18 5 1 5 6 4-1 5-10 5 3 5 0 4 1 5 7 5 0 5 4 4 4 5-13 5-11 5 6 4-10 5-1 5-13 4 5 5-7 5 0 5-5 4-4 5 4 5-2 5 4 4-16 5-3 5-5 5 9 4-9 5 12 5 7 5-3 4-2 5-12 5 6 4-2 5-5 5 8-4-1-5 5-5-16-5 14-4 8-5 0-5-17-5 19-4-1-5 2-5 2-5-3-4 8-5-5-5-3-4 9-5-2-5 3-5-2-4-2-5 8-5 9-5 7-4 3-5 7-5 7-5-4-4 0-5-5-5 10-5-1-4 0-5 2-5-9-4 12-5 0-5-8-5-4-4 6-5 8-5-10-5-2-4 14-5 0-5 4-5 6-4-2-5 8-5 4-5 4-4-22-5 17-5 7-4-4-5-5-5 2-5 3-4-3-5 4-5-4-5 2-4-3-5 20-5-11-5-5-4 12-5 11-5 6-5 2-4 1-5-11-5 6-4 2-5 13-5 5-5 0-4 12-5-3-5 0z"/><path transform="translate(168.9 111.2)" d="M2648 233l5 0 4 3 5-12 5 0 5-5 4-13 5-2 5-6 5 11 4-1 5-3 5-5 5-11 4-12 5 5 5 11 5-21 4 4 5-2 5 4 4-4 5 3 5-3 5-2 4 4 5 5 5-7 5-17 4 22 5-4 5-5 5-7 4 1 5-5 5-4 5 0 4-14 5 2 5 9 4-7 5-6 5 3 5 9 4 0 5-13 5 10 5-3 4 1 5 1 5-10 5 5 4 0 5 4 5-7 5-7 4-3 5-7 5-9 4-9 5 3 5 2 5-4 4 3 5-9 5 3 5 5 4-8 5 3 5-2 5-2 4 1 5-20 5 18 5-1 4-7 5-14 5 15 4-4 5 0 5 6-4-5-5 2-5-2-5 8-4-2-5 2-5-2-5 8-4 5-5 2-5 4-5 0-4-2-5-4-5 3-4 5-5-1-5 7-5 5-4 6-5 0-5 6-5 4-4 8-5-9-5 18-5-16-4 16-5-3-5-13-5 13-4-3-5 5-5-17-4 21-5-4-5-1-5-1-4-1-5-2-5 3-5-3-4 11-5 6-5-2-5-7-4 8-5 1-5 2-5 8-4-1-5 12-5-6-4 5-5-2-5-10-5 0-4 1-5 1-5 7-5 4-4-9-5 24-5 0-5-11-4 6-5 3-5-3-5 12-4-6-5 9-5-9-4 22-5-15-5 20-5-3-4-1-5 4-5 6z"/><path transform="translate(174.0 114.6)" d="M2648 234l5-6 4-5 5 2 5 3 5-20 4 15 5-22 5 8 5-9 4 7 5-12 5 3 5-3 4-7 5 12 5 0 5-24 4 9 5-4 5-8 4 0 5-1 5 0 5 10 4 2 5-5 5 6 5-12 4 1 5-9 5-1 5-1 4-8 5 7 5 2 5-6 4-11 5 3 5-4 4 3 5 1 5 1 5 0 4 5 5-21 5 17 5-5 4 3 5-13 5 12 5 4 4-16 5 16 5-18 5 9 4-8 5-5 5-5 4 0 5-6 5-6 5-6 4 1 5-5 5-3 5 4 4 2 5 0 5-4 5-2 4-5 5-8 5 2 5-2 4 2 5-8 5 2 4-2 5 5 5 5-4 4-5 1-5 1-5-12-4 9-5 7-5 3-5-10-4 9-5 9-5-9-5 0-4 8-5 5-5-5-4 2-5 4-5-7-5-2-4 12-5 14-5 7-5-2-4-7-5 14-5-5-5 2-4 11-5-7-5 2-5 7-4-4-5-4-5-5-4 7-5 1-5 8-5-3-4 0-5 0-5-9-5 7-4 0-5 13-5 2-5-3-4-1-5 5-5 2-5 10-4-9-5 11-5 0-4-3-5-4-5 4-5-7-4 12-5-4-5-6-5 4-4 14-5 0-5 10-5 2-4-11-5 13-5 1-5-4-4 7-5 4-5 5-4 5-5-2-5 5-5 0-4 13-5 6-5 1z"/><path transform="translate(179.1 118.0)" d="M2648 244l5 0 4-6 5-14 5 1 5-5 4 2 5-6 5-4 5-4 4-7 5 4 5-2 5-12 4 11 5-2 5-10 5 0 4-14 5-4 5 6 4 4 5-12 5 7 5-4 4 4 5 3 5 0 5-12 4 10 5-10 5-2 5-5 4 1 5 2 5-2 5-12 4 0 5-7 5 8 4 1 5 0 5 3 5-8 4-1 5-7 5 5 5 4 4 4 5-7 5-2 5 7 4-12 5-1 5 5 5-14 4 7 5 2 5-8 4-13 5-13 5 3 5 7 4-4 5-3 5 6 5-5 4-8 5 0 5 9 5-9 4-9 5 10 5-4 5-6 4-9 5 12 5-1 4-1 5-4 5 0-4-5-5 8-5-2-5-11-4 27-5-11-5 9-5 0-4 7-5 3-5 0-5 4-4-3-5 2-5 4-4-3-5 3-5 4-5-1-4-5-5 21-5 0-5 0-4 4-5-1-5 6-5 6-4-7-5 13-5 3-5-2-4-5-5-1-5-2-4-2-5 6-5 3-5-5-4 8-5-3-5-1-5-4-4 8-5-5-5 13-5-4-4 3-5-3-5 2-5 10-4-6-5 8-5-11-4 11-5 9-5-10-5-5-4 7-5 5-5-14-5 20-4 4-5 2-5-8-5 10-4 4-5-14-5 19-5-3-4 13-5-3-5 4-4 3-5 13-5 6-5-5-4 1-5-2-5 3z"/><path transform="translate(184.2 121.3)" d="M2648 234l5-3 4 2 5-1 5 5 5-6 4-13 5-4 5-3 5 3 4-13 5 3 5-19 5 14 4-4 5-10 5 8 5-2 4-5 5-20 5 15 4-5 5-7 5 5 5 10 4-9 5-11 5 11 5-8 4 6 5-11 5-1 5 3 4-3 5 3 5-12 5 5 4-8 5 3 5 2 4 3 5-8 5 5 5-4 4-5 5 2 5 2 5 0 4 5 5 3 5-4 5-12 4 7 5-6 5-6 5 1 4-5 5 1 5 0 4-21 5 5 5 1 5-4 4-3 5 3 5-4 5-2 4 3 5-4 5 0 5-4 4-6 5 0 5-9 5 10 4-26 5 10 5 3 4-8 5 4 5-6-4 3-5-5-5 16-5 1-4 4-5 1-5 3-5 4-4 0-5 5-5-1-5 3-4 8-5-8-5 7-4-1-5-9-5 11-5 11-4 6-5 3-5-3-5 3-4 2-5-2-5 3-5 12-4-1-5-3-5 0-5 4-4-8-5-1-5 12-4-2-5-10-5 12-5-9-4 12-5 4-5-18-5 19-4-5-5-17-5 16-5 5-4-5-5 11-5 11-5-1-4-8-5 5-5 1-4-5-5 4-5 5-5 4-4 0-5-4-5 7-5 2-4 8-5 7-5-6-5 1-4-6-5-4-5 17-5 14-4 2-5 1-5-4-4 1-5 12-5-4-5 8-4-3-5 3-5-2z"/><path transform="translate(189.3 124.7)" d="M2648 228l5 3 4-3 5 3 5-8 5 4 4-12 5-1 5 4 5-1 4-2 5-15 5-16 5 4 4 5 5 0 5 6 5-7 4-8 5-2 5-7 4 4 5 0 5-4 5-5 4-4 5 5 5-1 5-5 4 8 5 0 5-10 5-12 4 6 5-5 5-16 5 17 4 5 5-19 5 17 4-3 5-12 5 9 5-12 4 10 5 2 5-12 5 0 4 9 5-4 5 0 5 3 4 0 5-11 5-3 5 1 4-1 5-3 5 3 4-3 5-6 5-11 5-11 4 9 5 1 5-7 5 8 4-8 5-4 5 2 5-5 4 0 5-4 5-3 5-1 4-4 5-1 5-16 4 5 5-3 5 1-4 5-5 4-5 2-5 5-4-21-5 23-5 4-5-1-4 2-5 7-5 9-5-1-4-1-5-7-5 3-4 2-5 8-5 1-5 3-4 10-5 6-5 3-5 3-4-6-5 8-5 4-5 3-4 6-5-7-5-2-5 11-4-8-5-2-5-6-4 16-5-14-5 10-5-1-4 6-5-7-5-12-5 18-4-3-5 0-5-2-5 3-4 9-5-4-5 10-5 0-4 12-5-7-5 3-4 4-5-6-5 4-5-5-4 9-5-4-5 3-5 8-4 1-5 2-5-2-5 5-4 4-5 4-5 0-5 9-4-14-5 15-5-2-4 12-5 3-5 3-5 2-4-10-5 10-5-2z"/><path transform="translate(194.4 128.1)" d="M2648 226l5 2 4-10 5 9 5-1 5-3 4-3 5-12 5 2 5-15 4 14 5-9 5 0 5-4 4-4 5-5 5 1 5-1 4-2 5-7 5-3 4 4 5-9 5 5 5-4 4 6 5-5 5-2 5 7 4-12 5 0 5-10 5 4 4-9 5-3 5 2 5 0 4 3 5-18 5 12 4 7 5-7 5 2 5-10 4 13 5-15 5 6 5 2 4 8 5-12 5 3 5 6 4-6 5-2 5-4 5-8 4 6 5-3 5-3 4-7 5-9 5-3 5-1 4-8 5-2 5-3 5 7 4 1 5 1 5-9 5-7 4-2 5 1 5-4 5-23 4 20 5-4 5-3 4-3 5-5 5 7-4-2-5 2-5 8-5 1-4-4-5 6-5 0-5-1-4 6-5 10-5 0-5 11-4 3-5-5-5 3-4-2-5 3-5-2-5 14-4 7-5 1-5-2-5-2-4 7-5 3-5-22-5 25-4 10-5-2-5-4-5 7-4 2-5 1-5 3-4-4-5-2-5 5-5 5-4-12-5-5-5 7-5-4-4-4-5 6-5-3-5 8-4 5-5 6-5-2-5 4-4 9-5 7-5-4-4 2-5-4-5-1-5 2-4-17-5 15-5 10-5 2-4 2-5-3-5 5-5-3-4 7-5-3-5 12-5 10-4-1-5 3-5-18-4 24-5 4-5-3-5 1-4-2-5 4-5 7z"/><path transform="translate(199.6 131.4)" d="M2648 230l5-7 4-4 5 2 5-1 5 3 4-4 5-24 5 18 5-3 4 1 5-11 5-11 5 3 4-7 5 3 5-5 5 3 4-2 5-3 5-9 4-15 5 16 5-1 5 1 4 4 5-2 5 4 5-7 4-10 5-3 5 1 5-5 4-6 5-7 5 3 5-7 4 5 5 4 5-7 4 5 5 11 5-4 5-5 4 2 5 4 5-3 5-1 4-2 5-7 5 4 5 1 4-9 5-25 5 21 5-2 4-7 5 2 5 2 4-1 5-7 5-14 5 2 4-3 5 2 5-3 5 5 4-4 5-11 5 1 5-10 4-6 5 1 5 0 5-7 4 4 5 0 5-9 4-1 5 2 5 15-4-11-5 6-5 5-5-1-4 8-5-3-5-7-5 4-4-1-5 7-5-2-5-9-4 30-5-2-5 3-4 1-5-7-5 14-5-11-4 7-5 11-5 8-5-6-4 6-5 7-5-1-5 1-4-8-5 14-5 5-5 1-4-15-5 10-5 8-4 0-5 5-5 3-5-11-4 2-5 4-5-11-5-10-4 11-5-3-5 3-5 2-4 15-5 0-5-9-5 19-4 5-5-16-5 11-4 4-5-13-5 14-5-4-4 12-5 0-5-7-5 1-4 6-5 4-5-20-5 11-4 12-5-3-5 6-5 6-4 15-5-10-5-2-4 6-5 9-5 9-5-1-4 1-5 4-5 6z"/><path transform="translate(204.7 134.8)" d="M2648 236l5-6 4-4 5-1 5 1 5-9 4-9 5-6 5 2 5 10 4-15 5-6 5-6 5 3 4-12 5-11 5 20 5-4 4-6 5-1 5 7 4-1 5-11 5 3 5-14 4 14 5-4 5-11 5 15 4-4 5-20 5 10 5 0 4-15 5-2 5-4 5 4 4-12 5 11 5 11 4-5 5-1 5 11 5-3 4-5 5 0 5-8 5-10 4 15 5-1 5-5 5-14 4 8 5-1 5 1 5-7 4-6 5 6 5-8 4-12 5-6 5 11 5-14 4 7 5-2 5-2 5 2 4-30 5 9 5 2 5-7 4 1 5-5 5 7 5 4 4-8 5 1 5-5 4-6 5 11 5-11-4 16-5 3-5 3-5-5-4 2-5-1-5 2-5 7-4-7-5 3-5 7-5 10-4-6-5 8-5-13-4 13-5-4-5 8-5 2-4-12-5 20-5 14-5-9-4 4-5-2-5-1-5 2-4 13-5-8-5-2-5 12-4 2-5 5-5-9-4 0-5 5-5 8-5-16-4 5-5 9-5-19-5 9-4 9-5-6-5 2-5 0-4 0-5 10-5 13-5 0-4 1-5 5-5-2-4 0-5 3-5-29-5 12-4 20-5 2-5-4-5-18-4 15-5 3-5-1-5 3-4 6-5 2-5 14-5 3-4 8-5 0-5 0-4 7-5 6-5-5-5 10-4-3-5-8-5 0z"/><path transform="translate(209.8 138.2)" d="M2648 218l5 0 4 7 5 4 5-10 5 5 4-6 5-7 5 0 5 0 4-8 5-3 5-14 5-2 4-6 5-3 5 1 5-3 4-15 5 18 5 4 4-3 5-20 5-11 5 28 4-2 5 0 5 2 5-5 4-1 5 0 5-13 5-10 4 0 5 0 5-2 5 6 4-9 5-9 5 19 4-10 5-4 5 15 5-7 4-6 5 0 5 10 5-5 4-2 5-12 5 2 5 8 4-13 5-2 5 1 5 2 4-4 5 9 5-14 4-20 5 12 5-2 5-8 4 4 5-13 5 12 5-7 4 6 5-10 5-8 5-2 4 7 5-7 5-2 5 1 4-2 5 5 5-3 4-3 5-16 5 27-4-2-5-17-5 19-5-4-4 1-5 6-5 7-5-9-4-4-5 5-5 3-5 2-4-2-5 14-5-7-4 4-5 15-5-15-5 6-4 14-5 0-5 1-5-5-4 10-5-9-5 11-5-10-4 6-5 7-5 7-5-7-4 6-5-1-5 3-4 10-5-5-5-8-5 5-4-2-5 7-5-1-5-4-4 11-5-15-5 18-5 3-4-1-5 4-5 7-5 4-4-2-5 5-5 5-4-5-5 6-5-12-5 3-4 9-5 2-5-3-5 0-4 1-5-4-5 8-5-19-4 21-5 7-5 0-5 9-4-5-5 1-5 17-4 0-5 11-5-11-5-12-4 21-5 4-5 9z"/><path transform="translate(214.9 141.5)" d="M2648 238l5-9 4-4 5-21 5 12 5 11 4-11 5-1 5-16 5-1 4 5 5-10 5 1 5-8 4-20 5 19 5-9 5 5 4-1 5 0 5 3 4-2 5-9 5-3 5 12 4-6 5 5 5-5 5-5 4 2 5-5 5-6 5-4 4 0 5-3 5-17 5 14 4-10 5 4 5 1 4-7 5 2 5-5 5 8 4 4 5-9 5-3 5 1 4-6 5 7 5-7 5-7 4-6 5 10 5-11 5 9 4-11 5 5 5 0 4 0 5-14 5-6 5 15 4-15 5-4 5 7 5-14 4 2 5-2 5-3 5-5 4 4 5 9 5-7 5-6 4-1 5 4 5-19 4 17 5 2 5-4-4-2-5 9-5 3-5-6-4 0-5 8-5 3-5-15-4 9-5-1-5 7-5 3-4-7-5 13-5 2-4 13-5-19-5 12-5 6-4-14-5 14-5 10-5-12-4-5-5 14-5-1-5-4-4 11-5 7-5 3-5 3-4-8-5 0-5-1-4 2-5-7-5 13-5-8-4 11-5 2-5 0-5 6-4-2-5 8-5-4-5 4-4 4-5 11-5-17-5-1-4 16-5 6-5 3-4-1-5 2-5-2-5 4-4 7-5-4-5-12-5 12-4-10-5-4-5 14-5-2-4 1-5-5-5 12-5 4-4 4-5-2-5 11-4 11-5-17-5 16-5 10-4 2-5 4-5 3z"/><path transform="translate(220.0 144.9)" d="M2648 235l5-3 4-4 5-2 5-10 5-16 4 16 5-10 5-12 5 3 4-4 5-4 5-12 5 5 4-1 5 2 5-14 5 4 4 10 5-12 5 11 4 5 5-7 5-4 5 2 4-3 5 1 5-2 5-6 4-16 5 1 5 16 5-10 4-4 5-4 5 3 5-7 4 2 5-7 5 1 4-2 5-11 5 8 5-14 4 8 5-2 5 1 5 0 4 8 5-3 5-3 5-8 4-11 5 4 5 2 5-14 4 5 5 12 5-10 4-14 5 14 5-7 5-12 4 20 5-13 5-2 5-13 4 7 5-3 5-8 5 1 4-8 5 14 5-2 5-8 4 0 5 6 5-3 4-9 5 1 5 16-4 1-5-21-5 14-5 2-4 0-5-1-5 6-5-4-4 4-5-4-5 3-5-6-4 25-5-9-5 18-4-13-5-1-5 12-5-3-4-2-5 9-5 9-5-8-4 5-5-3-5 8-5-4-4 2-5 2-5 12-5-15-4 15-5-3-5 3-4-10-5 16-5-6-5 2-4 2-5 1-5 5-5-5-4-1-5 8-5 2-5 7-4 6-5 5-5 0-5-5-4 10-5-4-5 3-4 3-5 7-5-3-5 6-4 2-5-2-5-3-5-2-4-3-5-3-5-3-5 14-4-2-5 7-5 2-5 4-4 5-5-5-5 19-4-2-5 6-5 6-5 0-4 9-5 6-5 1z"/><path transform="translate(225.1 148.3)" d="M2648 243l5-1 4-6 5-9 5 0 5-6 4-6 5 1 5-18 5 5 4-6 5-3 5-2 5-7 4 1 5-13 5 3 5 3 4 3 5 2 5 2 4 3 5-2 5-6 5 3 4-7 5-3 5-4 5 5 4-10 5 5 5-1 5-4 4-6 5-7 5-2 5-8 4 0 5 6 5-5 4-1 5-2 5-3 5 7 4-16 5 10 5-3 5 3 4-15 5 15 5-12 5-2 4-2 5 4 5-8 5 3 4-5 5 7 5-8 4-9 5 2 5 3 5-12 4 1 5 13 5-19 5 9 4-24 5 6 5-3 5 4 4-5 5 5 5-7 5 1 4 1 5-2 5-14 4 21 5-2 5 3-4-10-5 13-5-9-5-4-4 9-5 3-5-5-5 5-4 6-5 3-5-5-5 7-4 9-5-5-5 12-4-1-5-2-5-8-5 4-4-2-5 10-5-4-5 8-4 1-5 5-5-14-5 2-4 13-5-4-5 4-5 11-4 5-5-5-5-1-4 2-5 7-5 2-5 0-4-7-5 6-5 3-5 3-4 5-5 3-5-9-5 12-4-4-5 14-5-14-5 11-4 7-5-1-5 11-4-3-5 4-5-3-5 6-4-7-5 8-5-7-5-5-4-2-5 4-5-9-5 7-4 14-5 7-5 3-5 6-4-1-5 3-5 7-4-5-5-7-5 16-5 1-4-3-5 22-5-6z"/><path transform="translate(230.2 151.6)" d="M2648 234l5 5 4-21 5 2 5 0 5-16 4 6 5 6 5-7 5-3 4 1 5-6 5-3 5-7 4-14 5-8 5 10 5-4 4 2 5 5 5 7 4-9 5 8 5-6 5 3 4-4 5 3 5-11 5 1 4-7 5-11 5 14 5-14 4 4 5-12 5 8 5-2 4-5 5-3 5-4 4-5 5 7 5 0 5-2 4-7 5-2 5 1 5 5 4-5 5-11 5-4 5 4 4-13 5-2 5 14 5-5 4-1 5-8 5 4 4-10 5 2 5-4 5 8 4 2 5 1 5-12 5 5 4-9 5-7 5 4 5-3 4-6 5-4 5 5 5-3 4-9 5 4 5 8 4-12 5 10 5 8-4-5-5-6-5 6-5 4-4-1-5-6-5 8-5 0-4 4-5-3-5-8-5 14-4 2-5 12-5-5-4 9-5-8-5 4-5-12-4 4-5 3-5 10-5 0-4 2-5 7-5-5-5 0-4 13-5 7-5-5-5 6-4 5-5 0-5-3-4 1-5-3-5 10-5-1-4-5-5 8-5 1-5 8-4-11-5 12-5 4-5-1-4 7-5 0-5-3-5 9-4-2-5 5-5 6-4 10-5-5-5-1-5-4-4 6-5 6-5-16-5 3-4-9-5 1-5 14-5 10-4-11-5 15-5 5-5-1-4-10-5 14-5 4-4-5-5 9-5 10-5 4-4 1-5-9-5 17z"/><path transform="translate(235.4 155.0)" d="M2648 241l5-17 4 8 5-1 5-3 5-10 4-9 5 5 5-4 5-14 4 9 5 1 5-4 5-16 4 11 5-9 5-15 5 0 4 9 5-3 5 15 4-5 5-6 5 4 5 1 4 5 5-10 5-6 5-5 4 2 5-9 5 2 5 1 4-7 5 1 5-4 5-12 4 10 5-7 5-1 4-8 5 5 5 0 5-9 4 3 5-1 5 3 5 0 4-5 5-7 5 6 5-8 4-12 5 0 5 5 5-7 4-2 5-1 5-9 4-3 5-4 5 12 5-4 4 8 5-9 5 4 5-12 4-1 5-14 5 8 5 2 4-3 5 0 5-8 5 6 4 1 5-4 5-6 4 5 5 6 5-3-4 7-5-5-5-3-5 7-4 2-5 1-5 0-5 3-4 7-5-17-5 11-5 3-4 4-5 11-5 6-4-15-5 11-5-5-5 2-4 6-5-5-5 3-5 4-4 7-5 3-5-8-5 1-4 5-5 0-5 7-5 8-4-9-5 8-5 5-4-4-5 1-5 3-5 1-4-7-5 8-5 7-5-9-4 6-5 22-5-5-5-7-4 8-5 9-5 0-5 3-4-2-5 7-5 7-4 1-5 5-5-8-5 11-4-18-5 11-5 0-5 0-4-5-5 7-5 1-5 5-4-3-5 14-5-4-5 2-4-11-5 8-5 5-4 5-5 5-5-3-5 7-4 15-5 0-5-3z"/><path transform="translate(240.5 158.4)" d="M2648 237l5 3 4 0 5-15 5-8 5 3 4-4 5-5 5-5 5-9 4 12 5-2 5 4 5-14 4 3 5-5 5-1 5-7 4 5 5 0 5 0 4-11 5 18 5-12 5 8 4-4 5-2 5-7 5-6 4 2 5-4 5 1 5-9 4-8 5 7 5 5 5-22 4-6 5 9 5-7 4-8 5 7 5-1 5-3 4-2 5 5 5-5 5-8 4 9 5-8 5-7 5 0 4-5 5-1 5 7 5-3 4-6 5-4 5-3 4 5 5-6 5-3 5 6 4-11 5 15 5-6 5-11 4-4 5-3 5-11 5 17 4-7 5-3 5 0 5-1 4-2 5-7 5 3 4 5 5-8 5 9-4-13-5 13-5-9-5 12-4-1-5-3-5 8-5-1-4 10-5-11-5 0-5 6-4 10-5 1-5 1-4-3-5 10-5-6-5 5-4 2-5 8-5 1-5 0-4 5-5-5-5-6-5 6-4 12-5 1-5 6-5-7-4 2-5-1-5-2-4 3-5-5-5 17-5 1-4 7-5 0-5-11-5 8-4 4-5 10-5 0-5 5-4-6-5 8-5 0-5 7-4 3-5 6-5 5-4-2-5-5-5-7-5 19-4-14-5 11-5-3-5 11-4-9-5 11-5-11-5 15-4-1-5 0-5 2-5-8-4 8-5-12-5 8-4 14-5 9-5 2-5 0-4 5-5-5-5 8z"/><path transform="translate(245.6 161.8)" d="M2648 238l5-7 4 5 5-5 5 0 5-2 4-9 5-14 5-8 5 12 4-8 5 8 5-2 5 0 4 1 5-15 5 10 5-10 4 9 5-11 5 3 4-11 5 13 5-18 5 7 4 5 5 1 5-5 5-5 4-4 5-6 5 0 5-9 4 6 5-5 5 1 5-10 4-4 5-8 5 11 4 0 5-8 5 0 5-17 4 5 5-3 5 2 5 0 4-2 5 7 5-6 5 0 4-12 5-6 5 6 5 5 4-5 5 0 5-1 4-8 5-2 5-6 5 7 4-10 5 3 5-2 5 0 4-10 5-6 5-1 5 12 4-10 5 1 5-8 5 3 4 1 5-12 5 9 4-13 5 13 5-9-4 11-5 1-5-3-5 11-4-4-5 0-5-6-5 4-4 6-5 3-5 7-5 1-4-17-5 20-5 2-4-2-5-6-5 15-5-5-4 1-5 1-5 2-5 9-4 7-5 3-5-21-5 10-4 8-5 2-5 2-5 4-4-1-5-12-5 18-4 1-5 5-5 4-5 0-4 1-5 7-5-2-5 3-4 11-5 3-5 0-5 6-4-3-5 12-5-3-5-2-4 11-5 1-5-3-4 11-5-1-5 4-5-2-4-4-5-3-5 6-5 1-4-10-5 9-5-1-5 20-4-6-5 7-5-9-5-2-4 2-5 0-5 0-4 5-5 4-5 5-5 9-4-9-5 4-5 2z"/><path transform="translate(250.7 165.1)" d="M2648 230l5-1 4-4 5 8 5-8 5-6 4-3 5-5 5 0 5 0 4-3 5 3 5 9 5-7 4 6 5-20 5 1 5-9 4 9 5 0 5-7 4 3 5 5 5 1 5-3 4 1 5-11 5 2 5 0 4-12 5 3 5 3 5-12 4 3 5-6 5 0 5-3 4-11 5-3 5 2 4-7 5-1 5-1 5-3 4-5 5-2 5-17 5 12 4 1 5-4 5-3 5-1 4-8 5-10 5 21 5-3 4-8 5-8 5-3 4 0 5-2 5 5 5-14 4 6 5 2 5-2 5-20 4 16 5 0 5-7 5-3 4-6 5-5 5 7 5-1 4 5 5-11 5 3 4-2 5-10 5 11-4-5-5 10-5 3-5-5-4 8-5-4-5 3-5 3-4 2-5 12-5-14-5 14-4-9-5 7-5 0-4 1-5-5-5 7-5-10-4 22-5 2-5 0-5 4-4-5-5-2-5 11-5-9-4-2-5 5-5 12-5-2-4-4-5 9-5 6-4 1-5 4-5 1-5 9-4 6-5 0-5 0-5 0-4-2-5 5-5-6-5 24-4-4-5 14-5 3-5 3-4 3-5 8-5-17-4 19-5-5-5-9-5 12-4-2-5 1-5-3-5 8-4-15-5 10-5-5-5 14-4 11-5-1-5-11-5 8-4-5-5-1-5 5-4 9-5-6-5 6-5-7-4 10-5 8-5 1z"/><path transform="translate(255.8 168.5)" d="M2648 241l5-1 4-8 5-11 5 8 5-7 4 7 5-9 5-5 5 1 4 5 5-8 5 11 5 1 4-11 5-14 5 5 5-10 4 14 5-7 5 3 4-1 5 1 5-11 5 9 4 4 5-18 5 17 5-8 4-3 5-3 5-3 5-14 4 4 5-24 5 6 5-5 4 2 5 0 5 0 4 0 5-6 5-9 5-1 4-4 5-1 5-7 5-8 4 3 5 2 5-11 5-5 4 2 5 8 5-10 5 2 4 5 5-4 5-1 4-1 5-22 5 10 5-7 4 5 5-1 5 0 5-7 4 9 5-14 5 13 5-11 4-3 5-2 5-3 5 4 4-8 5 5 5-3 4-10 5 4 5 4-4 4-5-6-5 1-5 4-4 12-5-6-5 7-5-12-4 12-5 14-5-12-5 11-4-1-5-7-5 4-4-13-5 18-5-2-5 2-4 15-5-14-5 16-5-1-4 1-5-4-5-3-5 15-4 2-5 1-5-3-5 10-4-8-5 6-5 8-4 2-5-8-5 0-5 14-4 7-5-11-5 5-5 19-4-1-5 1-5 3-5 8-4-3-5 7-5 3-5 13-4 4-5-6-5 3-4-4-5 13-5 5-5-6-4 0-5 1-5-5-5-3-4 1-5 9-5 5-5 5-4-5-5 8-5-7-5-4-4 8-5 8-5-11-4 4-5 5-5 5-5-5-4-1-5 9-5 3z"/><path transform="translate(260.9 171.9)" d="M2648 239l5-3 4-9 5 1 5 5 5-6 4-4 5-5 5 12 5-8 4-8 5 4 5 7 5-8 4 5 5-5 5-5 5-10 4 0 5 3 5 4 4 0 5-1 5 7 5-5 4-13 5 4 5-4 5 7 4-5 5-12 5-3 5-7 4 3 5-9 5-2 5-1 4 1 5-19 5-5 4 11 5-7 5-14 5 0 4 8 5-2 5-9 5-5 4 8 5-10 5 3 5-1 4-2 5-16 5 4 5 4 4-1 5 1 5-16 4 14 5-15 5-2 5 2 4-18 5 13 5-4 5 7 4 1 5-11 5 11 5-13 4-13 5 13 5-7 5 6 4-13 5-3 5-2 4 7 5-4 5-1-4-14-5 18-5 8-5-5-4 3-5 9-5 1-5-2-4 2-5 5-5 5-5 2-4 4-5 1-5-7-4-4-5 3-5 4-5 5-4 6-5 0-5-13-5 18-4 1-5-3-5 7-5-4-4 6-5-3-5 11-5-6-4 5-5 6-5-11-4 8-5 5-5 8-5 7-4 2-5-1-5-7-5 21-4 8-5 2-5-1-5-2-4 2-5 16-5 3-5 8-4-9-5 8-5-3-4 14-5-15-5 7-5-3-4 3-5-11-5 11-5-1-4-13-5 15-5 9-5 8-4-1-5 3-5 3-5 2-4-1-5 3-5-4-4-6-5 5-5 5-5 5-4-15-5 8-5 3z"/><path transform="translate(266.1 175.2)" d="M2648 231l5-3 4-8 5 14 5-4 5-5 4-5 5 6 5 4 5-3 4 1 5-2 5-4 5-2 4 1 5-8 5-9 5-15 4 13 5 1 5-11 4 11 5-3 5 3 5-7 4 15 5-14 5 3 5-8 4 9 5-8 5-3 5-17 4-1 5 2 5 1 5-2 4-8 5-21 5 7 4 1 5-2 5-7 5-8 4-5 5-8 5 11 5-6 4-5 5 6 5-11 5 3 4-6 5 3 5-6 5 3 4-2 5-17 5 13 4-1 5-5 5-5 5-4 4-3 5 4 5 7 5-2 4-3 5-2 5-5 5-5 4-3 5 3 5-1 5-9 4-3 5 5 5-8 4-18 5 14 5 0-4 8-5-4-5-21-5 33-4 3-5 3-5-7-5 11-4 4-5 8-5-1-5 8-4 1-5-5-5 3-4-3-5-2-5-1-5 4-4 2-5-7-5-3-5 10-4 2-5-1-5 9-5 1-4-5-5 10-5 8-5-1-4-4-5 0-5-3-4 16-5 8-5-12-5 15-4 1-5 15-5-16-5 11-4 12-5-5-5 12-5-12-4 17-5 0-5 6-5 9-4-8-5 7-5 4-4 2-5 5-5-6-5-9-4 11-5-3-5-2-5-5-4 18-5 2-5 3-5-8-4 22-5-19-5 21-5 0-4-8-5 7-5-17-4 19-5 2-5 2-5 2-4-3-5-5-5 8z"/><path transform="translate(271.2 178.6)" d="M2648 237l5-8 4 5 5 4 5-2 5-2 4-3 5-18 5 17 5-7 4 8 5 0 5-21 5 19 4-22 5 7 5-2 5-2 4-18 5 5 5 2 4 2 5-11 5 10 5 6 4-5 5-2 5-4 5-7 4 8 5-9 5-7 5 0 4-16 5 12 5-12 5 5 4-13 5-11 5 17 4-15 5-1 5-15 5 11 4-7 5-16 5 2 5 1 4 3 5 1 5-7 5-11 4 6 5-2 5-8 5 1 4-2 5-10 5 3 4 7 5-2 5-4 5 1 4 1 5 4 5-3 5 5 4-1 5-8 5 0 5-7 4-4 5-11 5 6 5-3 4-2 5-33 5 21 4 4 5-8 5 1-4 7-5 2-5 2-5 0-4 7-5 3-5 0-5 9-4-3-5 9-5-3-5 6-4 9-5 1-5-16-4 11-5 0-5-3-5 3-4-5-5 2-5 4-5-4-4-5-5 13-5 0-5 11-4-2-5 3-5 5-5 9-4-4-5 6-5 3-4-1-5 2-5 2-5 9-4 5-5 0-5 7-5-3-4 0-5 16-5 1-5 5-4-3-5 4-5 11-5 4-4 6-5 6-5-6-4 0-5-21-5 27-5-5-4 1-5-1-5-6-5 11-4 3-5-9-5 14-5 10-4 11-5-6-5-3-5 13-4-3-5 1-5 3-4 0-5 4-5 2-5-3-4-3-5 3-5-4z"/><path transform="translate(276.3 182.0)" d="M2648 239l5 4 4-3 5 3 5 3 5-2 4-4 5 0 5-3 5-1 4 3 5-13 5 3 5 6 4-11 5-10 5-14 5 9 4-3 5-12 5 7 4 1 5-1 5 5 5-27 4 21 5 0 5 6 5-6 4-7 5-3 5-11 5-4 4 3 5-5 5-1 5-16 4 0 5 3 5-7 4 0 5-5 5-10 5-1 4-2 5 1 5-4 5-5 4 3 5-8 5-5 5-4 4 3 5-12 5 1 5-13 4 5 5 4 5-4 4-2 5 5 5-4 5 4 4 0 5-11 5 16 5-1 4-9 5-6 5 2 5-8 4 3 5-9 5 0 5-3 4-7 5 0 5-2 4-3 5-6 5-3-4 4-5 5-5-12-5 18-4 7-5 0-5 14-5 2-4-6-5 13-5 4-5 1-4 7-5 0-5-4-4 2-5-6-5-7-5-1-4 3-5 0-5 2-5 4-4 2-5 7-5-2-5-11-4 20-5-8-5 11-5 11-4-11-5 15-5 3-4 1-5 7-5-3-5 8-4 11-5-4-5 7-5-2-4 1-5 7-5 2-5 8-4-12-5 20-5-11-5 17-4-3-5 7-5-4-4 10-5-12-5 3-5 1-4 10-5-6-5 9-5 7-4-2-5 2-5 9-5 6-4-8-5 19-5-20-5 28-4-4-5-1-5 2-4 1-5-2-5 9-5-9-4 8-5-9-5-11z"/><path transform="translate(281.4 185.3)" d="M2648 231l5 11 4 9 5-8 5 8 5-8 4 2 5-1 5-2 5 1 4 4 5-29 5 20 5-18 4 8 5-7 5-8 5-2 4 2 5-7 5-9 4 6 5-10 5-2 5-2 4 12 5-10 5 4 5-7 4 3 5-17 5 11 5-20 4 12 5-9 5-1 5-7 4-1 5 2 5-7 4 4 5-11 5-8 5 3 4-7 5-1 5-3 5-15 4 10 5-10 5-11 5 8 4-20 5 11 5 2 5-7 4-3 5-3 5-2 4 0 5-4 5 1 5 8 4 6 5-2 5 4 5 0 4-7 5-1 5-4 5-14 4 7 5-3 5-13 5 0 4-8 5-17 5 11 4-4 5-4 5-3-4 13-5 0-5 16-5-4-4 7-5 4-5 8-5-14-4 20-5 2-5-2-5 1-4 9-5 3-5 2-4-9-5-4-5 1-5-11-4 10-5 2-5 4-5 3-4-10-5 15-5-3-5-11-4 22-5 5-5 4-5-15-4 26-5 2-5 5-4 2-5-1-5 12-5-1-4-8-5 9-5 11-5-6-4 10-5 4-5-14-5-8-4 24-5 11-5 7-5-1-4 8-5-11-5 5-4 8-5 0-5-6-5-4-4 5-5-6-5 4-5 18-4 2-5 7-5-1-5 6-4 5-5 5-5 7-5-8-4 10-5-15-5 21-4-15-5 12-5 0-5-9-4 5-5-7-5-14z"/><path transform="translate(286.5 188.7)" d="M2648 223l5 14 4 7 5-5 5 9 5 0 4-12 5 15 5-21 5 15 4-10 5 8 5-7 5-5 4-6 5-6 5 2 5-7 4-2 5-19 5-4 4 7 5-5 5 3 5 6 4 1 5-9 5-4 5 10 4-8 5 2 5-7 5-12 4-23 5 8 5 14 5-4 4-10 5 6 5-12 4-8 5 8 5 1 5-12 4 1 5-2 5-5 5-2 4-27 5 16 5-5 5-4 4-22 5 11 5 3 5-16 4 11 5-3 5-4 4-2 5-10 5 11 5-1 4 4 5 9 5-2 5-3 4-9 5-1 5 2 5-3 4-19 5 13 5-8 5-3 4-7 5 4 5-16 4 0 5-13 5 15-4 4-5 5-5 7-5-12-4 21-5 6-5 3-5-9-4 18-5 0-5 2-5-3-4 12-5-8-5 4-4-1-5 3-5 2-5-3-4-4-5-1-5-14-5 15-4 7-5-7-5 4-5 8-4-11-5 21-5 5-5-1-4-2-5 9-5 4-4 0-5 14-5 5-5-1-4-19-5 24-5 8-5 2-4-1-5 5-5 0-5 1-4-1-5 9-5 3-5 1-4 4-5-4-5 6-4 15-5-26-5 20-5-2-4 0-5 2-5 5-5 3-4 9-5 0-5 13-5-5-4 9-5 1-5 5-5 9-4-6-5-1-5 1-4 2-5-1-5 2-5-1-4 3-5-8-5-5z"/><path transform="translate(291.6 192.1)" d="M2648 233l5 5 4 8 5-3 5 1 5-2 4 1 5-2 5-1 5 0 4 7 5-9 5-6 5 0 4-9 5 5 5-13 5 0 4-9 5-3 5-5 4-2 5 0 5 2 5-20 4 25 5-14 5-7 5 5 4-5 5 0 5-3 5-9 4 1 5-2 5 1 5-5 4 0 5-1 5-8 4-24 5 18 5 1 5-4 4-14 5 0 5-5 5-8 4 2 5 1 5-5 5-21 4 11 5-8 5-5 5 8 4-8 5-14 5 13 4 2 5 4 5 3 5-2 4-3 5 0 5-3 5 8 4-12 5 2 5-1 5 0 4-18 5 8 5-2 5-6 4-21 5 11 5-6 4-5 5-4 5 9-4-8-5 14-5 8-5-2-4 13-5-5-5 8-5-6-4 14-5-1-5 0-5 3-4 7-5 4-5 2-4-2-5-3-5-1-5-3-4 6-5-7-5 0-5 4-4-8-5 10-5-7-5 16-4 2-5 6-5 5-5 1-4 14-5 1-5-2-4 9-5-1-5 3-5 2-4 7-5 1-5 1-5 10-4-2-5 2-5 1-5-3-4 14-5 5-5-4-5 6-4-1-5 9-5-6-4 1-5-3-5-4-5 1-4 19-5 0-5-4-5 10-4 2-5 7-5 7-5-4-4 8-5 3-5-3-5 3-4 3-5 4-5-11-4 5-5 3-5 9-5 3-4-3-5-13-5 5z"/><path transform="translate(296.8 195.5)" d="M2648 236l5-4 4 12 5 3 5-2 5-10 4-3 5-4 5 11 5-4 4-3 5-3 5 3 5-3 4-8 5 4 5-7 5-7 4-2 5-10 5 4 4 0 5-20 5 0 5 3 4 4 5-2 5 6 5-8 4 1 5-6 5 3 5-4 4-15 5 4 5-1 5-2 4 2 5-10 5-1 4-1 5-7 5-2 5-3 4 1 5-9 5 2 5-2 4-13 5-1 5-5 5-6 4-2 5-16 5 7 5-11 4 8 5-3 5 0 4 7 5-6 5 3 5 1 4 3 5 2 5-2 5-4 4-8 5-2 5-1 5 2 4-14 5 6 5-8 5 5 4-13 5 2 5-8 4-14 5 8 5 6-4 9-5-5-5 14-5 3-4 3-5-4-5 6-5 4-4 1-5 4-5 5-5 5-4-13-5 14-5 0-4-1-5 11-5-7-5-14-4 11-5-15-5 10-5-6-4 16-5-2-5 3-5 1-4 7-5 6-5-1-5 15-4 9-5-1-5-1-4-11-5 11-5 0-5 5-4 2-5 12-5 2-5-4-4 10-5 1-5 5-5-13-4 13-5-1-5-1-5 8-4-11-5 14-5-2-4 13-5-1-5-4-5 4-4 10-5-6-5-1-5 16-4-12-5 15-5 7-5 6-4 8-5-8-5-2-5 8-4 1-5 7-5-6-4-5-5 4-5-7-5 6-4 13-5-1-5-5z"/><path transform="translate(301.9 198.8)" d="M2648 240l5 5 4 2 5-14 5-5 5 7 4-4 5 5 5 6 5-7 4-1 5-8 5 2 5 8 4-8 5-6 5-7 5-16 4 12 5-15 5 0 4 6 5-9 5-4 5 4 4 1 5-13 5 2 5-14 4 11 5-8 5 1 5 1 4-13 5 13 5-5 5-1 4-10 5 4 5-2 4-13 5-1 5-5 5 0 4-11 5 11 5 1 5 1 4-9 5-16 5 2 5-6 4-7 5-1 5-3 5 2 4-16 5 5 5-9 4 15 5-12 5 15 5 7 4-11 5 1 5 0 5-14 4 13 5-5 5-5 5-4 4-2 5-3 5-6 5 4 4-3 5-3 5-14 4 4 5-8 5 5-4 7-5 4-5-5-5 14-4 2-5-2-5-1-5 13-4 0-5 13-5-10-5 1-4 7-5 9-5-2-4 0-5 8-5 3-5-9-4-13-5 8-5 5-5-1-4 4-5-7-5 5-5-1-4 12-5 10-5-2-5-12-4 27-5-2-5 1-4-9-5 2-5 9-5 8-4 1-5 4-5 6-5-2-4 8-5 0-5-9-5 16-4-3-5 6-5-2-5 1-4 1-5 1-5 4-4-8-5 8-5 13-5-5-4 6-5 2-5 9-5 1-4 2-5-7-5 9-5 17-4-1-5 0-5-9-5 10-4 4-5-13-5 14-4-6-5 4-5 10-5-9-4-3-5-7-5 15z"/></g></g><g filter="url(#tx)"><g transform="scale(0.5)" fill="url(#gf)" stroke="#201000" stroke-opacity="0.16" stroke-width="1.1" stroke-linejoin="round"><path transform="translate(5.6 4.3)" d="M1072 817l2-1 1 2 2 0 2-5 2-5 2-2 2-2 2-6 2-8 2-7 2-6 2-3 2 3 2 2 2 2 2 2 2 4 2 2 2 1 2 2 2-1 2-1 1-2 2-4 2-3 2-4 2-3 2-2 2-3 2-3 2-3 2-3 2-2 2-1 2 1 2 1 2 1 2-2 2-3 2 0 2 2 2 0 2-2 1-4 2-2 2-1 2-3 2-8 2-9 2-9 2-9 2-9 2-5 2-1 2 1 2 1 2 4 2 6 2 5 2 5 2 3 2 1 2 0 2-3 2-6 1-9 2-4 2-1 2-1 2 0 2-2 2-3 2-5 2 0 2 0 2-2 2-5 2-4 2-1 28 37-3 2-2-3-3-1-2 2-3-9-2-20-3-7-2 4-3 3-2 0-3 2-2 12-3 7-2 2-3 4-2 5-3 1-2 1-3 6-3 7-2 2-3 0-2-2-3-2-2-1-3-5-2-5-3-5-2 1-3 15-2 12-3 10-2 4-3 5-2 3-3 3-2 3-3 2-2 3-3-1-3-4-2-4-3 5-2 3-3 0-2-1-3-2-2-1-3 3-2 4-3 2-2 3-3 2-2 4-3 6-2 4-3-1-2-1-3-3-2 0-3 5-3 1-2 3-3 7-2 5-3 2-2 2-3 2-2 2-3-2-2 0-3 6-2 3-3-1-2 6-3 5-2 2-3 0-2 0z"/><path transform="translate(11.1 8.5)" d="M1049 833l3 0 2 0 3-2 2-5 3-6 2 0 3-2 2-6 3 0 2 2 3-2 2-2 3-2 2-2 3-5 2-7 3-3 2-1 3-5 2 0 3 3 3 1 2 1 3-4 2-6 3-4 2-2 3-3 2-2 3-4 2-3 3 1 2 2 3 1 2-1 3-2 2-5 3 3 2 5 3 1 2-3 3-2 3-3 2-3 3-3 2-5 3-4 2-10 3-12 2-15 3-1 2 5 3 5 2 5 3 1 2 2 3 2 2 0 3-2 2-7 3-6 2-1 3-1 3-5 2-4 3-2 2-7 3-12 2-2 3 0 2-3 3-4 2 7 3 20 2 9 3-2 2 1 3 3 2-2 22 12-3-7-3-7-3 3-3 1-3 0-3-5-3-2-3 5-3 2-3-4-3-14-2-2-3 5-3 4-3 2-3 0-3 8-3 12-3 6-3 4-3 2-3 1-3 6-2 0-3-7-3-5-3 10-3 2-3 2-3 4-3 3-3 10-3 5-3-1-3 0-3 10-2 4-3-5-3 2-3 5-3 2-3-2-3-4-3 5-3 2-3-8-3-4-3 4-2 4-3 7-3 6-3 7-3 4-3-4-3-9-3 2-3-1-3 5-3 2-3 6-2 5-3 7-3 2-3 1-3-1-3 1-3 4-3 0-3-4-3 5-3 4-3 4-2 0-3-2-3-2-3-5-3-2-3 2-3 3z"/><path transform="translate(16.7 12.8)" d="M1033 817l3-3 3-2 3 2 3 5 3 2 3 2 3 0 3-4 3-5 3-4 3 4 2 0 3-4 3-1 3 1 3-1 3-2 3-7 3-5 3-6 3-2 3-5 3 1 2-2 3 9 3 4 3-4 3-7 3-6 3-7 3-4 3-4 3 4 3 8 3-2 2-5 3 4 3 2 3-2 3-5 3-2 3 5 3-4 3-10 3 0 3 0 3-4 3-10 2-3 3-4 3-2 3-3 3-9 3 4 3 8 3 0 3-6 3-2 3-1 3-4 2-6 3-12 3-8 3 0 3-2 3-4 3-5 3 2 3 14 3 4 3-2 3-5 2 2 3 5 3 0 3-2 3-2 3 7 3 6 18-16-4 13-3 9-3 3-3-3-3-4-4-4-3-5-3-1-3-13-4 4-3 10-3 0-3-4-3 1-4 1-3 4-3 9-3 6-4 5-3-2-3 4-3 11-4 1-3 0-3 7-3 0-3-3-4-1-3 4-3 2-3 2-4 14-3 8-3-2-3-12-3-4-4 15-3 3-3 7-3 5-4 5-3-3-3-5-3 7-3-1-4-6-3 5-3 0-3 3-4 7-3 0-3-9-3-10-3 4-4 3-3 0-3 5-3 4-4-5-3 4-3 14-3 15-4 4-3-3-3-4-3 4-3 3-4 1-3 0-3-2-3-4-4 4-3 0-3-2-3 2-3 7-4 2-3 2-3-3z"/><path transform="translate(22.2 17.1)" d="M1021 827l4 3 3-2 3-3 3-6 3-2 4 2 3 0 3-4 3 4 4 1 3 1 3-2 3-2 3-4 4 4 3 3 3-4 3-15 4-14 3-4 3 5 3-4 3-5 4 0 3-3 3-4 3 10 4 9 3 0 3-7 3-3 4 0 3-5 3 6 3 1 3-7 4 5 3 3 3-5 3-5 4-7 3-3 3-15 3 4 3 12 4 2 3-8 3-14 3-2 4-3 3-3 3 1 3 3 3 0 4-7 3 0 3-1 3-11 4-5 3 3 3-6 3-5 3-9 4-4 3-1 3-1 3 4 4 0 3-10 3-4 3 13 4 1 3 5 3 4 3 4 3 3 4-3 3-9 3-13 16 9-4-3-3-2-4 9-3 7-4 7-3 2-4-6-3-6-4-2-3-6-4-9-3 1-4 1-3-1-4 7-3 7-4 6-3 7-3 4-4 3-3 5-4 1-3 1-4 4-3 8-4 4-3 8-4 4-3 4-4 5-3 9-4 6-3 1-4-1-3-9-4-4-3 6-4 2-3 7-3 7-4-3-3-10-4 5-3 8-4 1-3 1-4-1-3 1-4 3-3-2-4-9-3-7-4-7-3 7-4-2-3 5-4 7-3 9-4 14-3 10-3 5-4-5-3 0-4 8-3-1-4-1-3 7-4-2-3-8-4 1-3 4-4 5-3 5-4 5-3 1-4-3-3-4-4-3-3 5z"/><path transform="translate(27.8 21.3)" d="M1011 835l4-5 3 3 4 3 3 4 4-1 3-5 4-5 3-5 4-4 3-1 4 8 3 2 4-7 3 1 4 1 3-8 3 0 4 5 3-5 4-10 3-14 4-9 3-7 4-5 3 2 4-7 3 7 4 7 3 9 4 2 3-3 4-1 3 1 4-1 3-1 4-8 3-5 3 10 4 3 3-7 4-7 3-2 4-6 3 4 4 9 3 1 4-1 3-6 4-9 3-5 4-4 3-4 4-8 3-4 4-8 3-4 4-1 3-1 3-5 4-3 3-4 4-7 3-6 4-7 3-7 4 1 3-1 4-1 3 9 4 5 3 3 4 6 3 5 4-1 3-7 4-8 3-8 4 2 3 3 14 3-4-4-3 8-4 4-4-3-4 2-3 3-4 0-4 6-3-5-4-4-4-1-3-10-4-12-4-12-3 2-4 6-4 11-3 10-4 15-4 11-4 4-3 2-4 0-4 4-3-4-4 9-4 7-3 7-4 4-4 9-3 12-4 7-4 4-3-1-4-1-4-2-4-3-3 1-4 4-4 2-3-1-4-1-4-4-3-5-4-3-4 9-3 9-4-1-4 4-3 1-4-3-4-4-4-5-3 1-4-3-4 13-3 9-4 5-4 9-3-2-4 10-4 10-3 1-4-8-4 6-3-2-4-7-4 6-4 1-3 0-4 6-4 1-3-4-4 7-4 9-3 4-4 2-4 3-3 9z"/><path transform="translate(33.4 25.6)" d="M1003 862l4-8 3-3 4-2 4-4 3-9 4-7 4 4 4-1 3-7 4 1 4-1 3-6 4 7 4 2 3-6 4 7 4 0 3-10 4-10 4 2 3-9 4-5 4-9 4-13 3 3 4-1 4 5 3 4 4 3 4-1 3-4 4 1 4-9 3-9 4 3 4 5 3 4 4 1 4 1 4-2 3-5 4 0 4 3 3 2 4 1 4 1 3-4 4-7 4-12 3-9 4-4 4-7 3-7 4-9 4 4 4-4 3 0 4-2 4-5 3-10 4-15 4-10 3-11 4-6 4-2 3 12 4 12 4 10 3 1 4 4 4 4 4-5 3 0 4-3 4-2 3 3 4-4 4-8 3 4 13 15-4 7-4 0-4 1-3-4-4-4-4 1-4 2-4-6-4-4-4 2-3 0-4-6-4-4-4-17-4-4-4-10-4 12-4 19-3 16-4 17-4 8-4 5-4-5-4 2-4 5-4 5-3 3-4 7-4 6-4 7-4 3-4 5-4 4-3 2-4 7-4-6-4-3-4-1-4 5-4-4-4-4-3 2-4 6-4 4-4 2-4 0-4 8-4 6-3 1-4 0-4 0-4-3-4-5-4-2-4 0-4 2-3 20-4 14-4-1-4-6-4 11-4-3-4-7-4-2-3-6-4 2-4 5-4 6-4 3-4 7-4-2-3 6-4 7-4 4-4 8-4 7-4 1-4-2-4-4z"/><path transform="translate(38.9 29.9)" d="M996 856l4 4 4 2 3-1 4-7 4-8 4-4 4-7 4-6 4 2 4-7 3-3 4-6 4-5 4-2 4 6 4 2 4 7 4 3 3-11 4 6 4 1 4-14 4-20 4-2 4 0 3 2 4 5 4 3 4 0 4 0 4-1 4-6 4-8 3 0 4-2 4-4 4-6 4-2 4 4 4 4 4-5 3 0 4 4 4 5 4-6 4-2 4-4 4-5 3-3 4-7 4-6 4-7 4-4 4-4 4-5 4-2 3 5 4-5 4-8 4-17 4-16 4-19 4-12 3 10 4 4 4 17 4 4 4 6 4 0 4-2 4 4 3 6 4-2 4-1 4 4 4 4 4-1 4 0 4-7 11-3-4 4-4 9-4 9-4-4-4-7-4 6-4-5-4 0-4-4-4-3-4-11-4 1-4 8-4 4-4 3-4-7-4-11-4 1-4 12-4 11-4 15-4 6-4 8-4 3-4 5-4 3-4 2-4 0-4 4-4 4-5 2-4 6-4 3-4 4-4-5-4-7-4-2-4 4-4-7-4-4-4 3-4 12-4 7-4-1-4 10-4 8-4-3-4 10-4 3-4-7-4 8-4-2-4-7-4-3-4 10-4 14-4 14-4 6-4-5-4-2-4-5-4-13-4-8-4 4-4 8-4 19-4 3-5 0-4 1-4 1-4 2-4 10-4 6-4 9-4 3-4 1-4-5-4-10-4-1z"/><path transform="translate(44.5 34.2)" d="M990 849l4 1 4 10 4 5 4-1 4-3 4-9 4-6 4-10 4-2 4-1 4-1 4 0 4-3 4-19 4-8 4-4 4 8 4 12 4 6 4 2 4 5 4-6 4-14 4-14 4-10 4 3 4 7 4 1 4-7 4 7 4-3 5-10 4 3 4-8 4-10 4 1 4-7 4-12 4-3 4 4 4 7 4-4 4 2 4 7 4 5 4-4 4-3 4-6 4-2 4-5 4-3 4 0 4-2 4-4 4-5 4-2 4-8 4-6 4-15 4-11 4-12 4-1 4 11 4 6 4-2 4-4 4-8 4-1 5 11 4 3 4 4 4 0 4 4 4-5 4 7 4 4 4-9 4-9 4-4 11-3-4 8-5 4-4 3-4 5-4 2-4 2-4-1-5-8-4-1-4-8-4 10-4 3-4 6-5 4-4 6-4-4-4-10-4-6-4-4-5 8-4 9-4 7-4 9-4 9-4 4-4 4-5-6-4 2-4 4-4-7-4 0-4 9-5 11-4 16-4-1-4-3-4-8-4-5-5 4-4 2-4-5-4 4-4 14-4 3-5 5-4 6-4-5-4 8-4 8-4 9-5-2-4-7-4 3-4 12-4 8-4 5-5 8-4 6-4 2-4-7-4-18-4-6-5 6-4 9-4 1-4 5-4 9-4-8-5-12-4 6-4 6-4 20-4 7-4 3-5-4-4-6-4-10-4 8-4 10z"/><path transform="translate(50.0 38.4)" d="M984 860l4-10 4-8 5 10 4 6 4 4 4-3 4-7 4-20 5-7 4-5 4 12 4 8 4-9 4-5 5-1 4-9 4-6 4 6 4 18 4 7 5-2 4-6 4-8 4-5 4-8 4-12 5-3 4 6 4 3 4-9 4-9 4-7 5 5 4-6 4-5 4-3 4-14 4-4 5 5 4-2 4-5 4 6 4 8 4 3 5 1 4-16 4-11 4-9 4 0 4 7 5-4 4-2 4 6 4-4 4-4 4-9 5-10 4-6 4-9 4-8 4 4 4 6 5 10 4 4 4-6 4-4 4-6 4-3 5-10 4 8 4 1 4 8 4 1 4-2 5-2 4-5 4-3 4-4 4-8 11 0-5 0-4 5-4 2-5 1-4 14-4 6-4-3-5-4-4-10-4-2-5 7-4 8-4 1-4 6-5 3-4 4-4-2-5-8-4-2-4 0-4 5-5 9-4 11-4 4-5-1-4 6-4 1-4-18-5 5-4 6-4 0-5 16-4 14-4 13-4 1-5-6-4-3-4 1-5 4-4-1-4 1-4-4-5 3-4 8-4 8-5 9-4 1-4 1-4 9-5 5-4-3-4 10-5 1-4 1-4 9-4 10-5 4-4-2-4 3-5-5-4-9-4 1-4 4-5 5-4-3-4 6-5-2-4-11-4 5-5 9-4 6-4 4-4 2-5-7-4-3-4 4-5 6-4 7-4 4z"/><path transform="translate(55.6 42.7)" d="M979 864l5-4 4-7 4-6 4-4 5 3 4 7 4-2 5-4 4-6 4-9 5-5 4 11 4 2 4-6 5 3 4-5 4-4 5-1 4 9 4 5 4-3 5 2 4-4 4-10 5-9 4-1 4-1 4-10 5 3 4-5 4-9 5-1 4-1 4-9 4-8 5-8 4-3 4 4 5-1 4 1 4-4 4-1 5 3 4 6 4-1 5-13 4-14 4-16 4 0 5-6 4-5 4 18 5-1 4-6 4 1 4-4 5-11 4-10 4-4 5 0 4 2 4 8 4 1 5-3 4-3 4-6 5-1 4-8 4-7 4 2 5 10 4 4 4 3 5-6 4-14 4-1 4-2 5-5 4 0 10-1-5 1-4-3-4 3-5 5-4 9-4 5-5-1-4 7-5 3-4-3-4 8-5-8-4-1-5 12-4 5-4 7-5-1-4-7-5-6-4-2-4 0-5 12-4-1-5 8-4 4-4-3-5 2-4 7-5 6-4 2-4-9-5 22-4 13-5 0-4 8-4 2-5 2-4-3-5 1-4 3-4-2-5-10-4 1-5 11-4-1-4 2-5 12-4-5-4 10-5 9-4 2-5 12-4 3-4 6-5-3-4 4-5 14-4 3-4-3-5-5-4-8-5 0-4 12-4-6-5 3-4-8-5-19-4 8-4 14-5 3-4 12-5 7-4-2-4 1-5 7-4-2-5-4-4 8-4 1z"/><path transform="translate(61.2 47.0)" d="M975 863l4-1 5-8 4 4 5 2 4-7 4-1 5 2 4-7 5-12 4-3 4-14 5-8 4 19 5 8 4-3 4 6 5-12 4-1 5 9 4 5 4 3 5-4 4-13 5-4 4 3 4-6 5-3 4-12 5-2 4-9 4-10 5 5 4-12 5-2 4 1 4-11 5-1 4 10 5 2 4-3 4-1 5 3 4-2 4-2 5-8 4 0 5-13 4-22 4 9 5-2 4-6 5-7 4-3 4 4 5-4 4-8 5 0 4-11 4 0 5 2 4 6 5 7 4 1 4-7 5-5 4-12 5 1 4 8 4-8 5 2 4-2 5-7 4 1 4-5 5-9 4-5 5-3 4 3 4-1 10 8-5 6-4-3-5-1-4-1-5 8-4 7-5 6-4-2-5 0-4 0-5-13-4 15-5 0-4 6-5 4-4-2-5 8-4 3-5-11-4-9-5 2-4 9-5 5-4 2-5 4-4 2-5 4-4 14-5 4-4 10-5 11-4 3-5 14-4 0-5-1-4-4-5 2-4 2-4-2-5 3-4-6-5-5-4 4-5 3-4 15-5 5-4 3-5-1-4-4-5 7-4 4-5 7-4 1-5 6-4 7-5 6-4 12-5 6-4-4-5-9-4-8-5 4-4-2-5 3-4-8-5-18-4-3-5 12-4 14-5 18-4 6-5 7-4-1-5 4-4-5-5-2-4-3-5 2-4 3z"/><path transform="translate(66.7 51.2)" d="M971 854l5-3 4-2 5 3 4 2 5 5 4-4 5 1 4-7 5-6 4-18 5-14 4-12 5 3 4 18 5 8 4-3 5 2 4-4 5 8 4 9 5 4 4-6 5-12 4-6 5-7 4-6 5-1 4-7 5-4 4-7 5 4 4 1 5-3 4-5 4-15 5-3 4-4 5 5 4 6 5-3 4 2 5-2 4-2 5 4 4 1 5 0 4-14 5-3 4-11 5-10 4-4 5-14 4-4 5-2 4-5 5-2 4-4 5-9 4-2 5 9 4 10 5-2 4-9 5 3 4-4 5-6 4 0 5-15 4 13 5 0 4 0 5 2 4-6 5-7 4-8 5 0 4 2 5 3 4-6 9-18-5 11-4 7-5-5-4 14-5 4-4 7-5-2-5 1-4 7-5-1-4-7-5 0-4 6-5 0-5 10-4 8-5 3-4-3-5 0-5-7-4 1-5 3-4 6-5 6-4 1-5 1-5-3-4 0-5 23-4 13-5 6-4 0-5 16-5-1-4-2-5-1-4 2-5 10-4-7-5-1-5-5-4 3-5-5-4 6-5 10-4 6-5 2-5 0-4-3-5 7-4 3-5 1-5 18-4 1-5 6-4 3-5 10-4-2-5-5-5-1-4-4-5 0-4-6-5 8-4-14-5-6-5 0-4 7-5 13-4 11-5 9-4-7-5 12-5 1-4-4-5 9-4-3-5-15-4 8z"/><path transform="translate(72.3 55.5)" d="M968 845l5-8 4 15 5 3 4-9 5 4 4-1 5-12 5 7 4-9 5-11 4-13 5-7 4 0 5 6 5 14 4-8 5 6 4 0 5 4 4 1 5 5 5 2 4-10 5-3 4-6 5-1 5-18 4-1 5-3 4-7 5 3 4 0 5-2 5-6 4-10 5-6 4 5 5-3 4 5 5 1 5 7 4-10 5-2 4 1 5 2 4 1 5-16 5 0 4-6 5-13 4-23 5 0 4 3 5-1 5-1 4-7 5-5 4-3 5-1 5 6 4 1 5 3 4-4 5-7 4-10 5 0 5-6 4 0 5 7 4 1 5-7 4-1 5 1 5-6 4-4 5-14 4 5 5-7 4-11 9-2-5 15-4 12-5 2-5 8-4 5-5 10-5-1-4 3-5 2-5 0-4-4-5-8-4-3-5 2-5 7-4 9-5-1-5 13-4 0-5-4-5 1-4-5-5-5-5 4-4 3-5-8-5 15-4 10-5 8-5 13-4 12-5 9-5 5-4 4-5-1-4-2-5 2-5 1-4-4-5 1-5-1-4-5-5 5-5 10-4 8-5-4-5 0-4 8-5 4-5 3-4 2-5-1-5 10-4 6-5 7-4 4-5-1-5 1-4 5-5 0-5-2-4 8-5-2-5 2-4-6-5-7-5 0-4 6-5 3-5 1-4 2-5 1-5 15-4 4-5 3-4 1-5-2-5-5-4-2z"/><path transform="translate(77.8 59.8)" d="M965 848l5 2 4 5 5 2 5-1 4-3 5-4 5-16 4 0 5-2 5-1 4-4 5-5 4 0 5 7 5 6 4-2 5 2 5-8 4 2 5 0 5-5 4-1 5 1 5-4 4-7 5-6 5-10 4 1 5-2 5-3 4-4 5-8 4 0 5 3 5-7 4-10 5-5 5 5 4 1 5-1 5 4 4-1 5-2 5 1 4 2 5-5 5-4 4-9 5-12 5-13 4-8 5-10 4-15 5 8 5-3 4-4 5 4 5 6 4-1 5 4 5-1 4-13 5 2 5-9 4-7 5-2 5 3 4 8 5 4 5 0 4-2 5-3 5 1 4-10 5-5 4-8 5-2 5-12 4-15 9 5-5 13-5 1-5-13-4 30-5 3-5 10-4 6-5 4-5 5-5 2-4-11-5-7-5-10-4-6-5 10-5 12-5 8-4 8-5 2-5 1-4-4-5 4-5-8-5-2-4 1-5 1-5 6-4 8-5 8-5 7-5 5-4 23-5 11-5 2-5-2-4-6-5-10-5 2-4 5-5-3-5 1-5 8-4-8-5 14-5 9-4 4-5 10-5-6-5 9-4-5-5 0-5 8-4 6-5 1-5 5-5 13-4 5-5 1-5-4-4 5-5 3-5 5-5-2-4 8-5-2-5-9-4-1-5 5-5-3-5-1-4 2-5 4-5 6-4 10-5 13-5 0-5-5-4-12-5-6z"/><path transform="translate(83.4 64.0)" d="M962 843l5 6 5 12 5 5 4-1 5-12 5-10 4-6 5-4 5-2 5 1 4 3 5-5 5 1 4 9 5 2 5-8 5 2 4-5 5-3 5-5 4 4 5-1 5-5 5-13 4-5 5-1 5-6 4-8 5 0 5 5 5-9 4 6 5-10 5-4 4-9 5-14 5 8 5-8 4-1 5 3 5-5 4-2 5 10 5 5 5 3 4-2 5-11 5-23 5-5 4-7 5-8 5-9 4-5 5-1 5-2 5 3 4 8 5-4 5 4 4-1 5-2 5-9 5-7 4-12 5-10 5 6 4 10 5 7 5 11 5-3 4-4 5-4 5-7 4-9 5-3 5-30 5 13 4-1 5-13 8 16-5 12-5 2-4-7-5-1-5 3-5 13-5 7-4 7-5 7-5 0-5 0-4-4-5-18-5-9-5-4-5 24-4 9-5 8-5 0-5 7-4 1-5-4-5-5-5-3-4-7-5 16-5 9-5 5-5 3-4 5-5 13-5 16-5 5-4 9-5-8-5-10-5-7-5-6-4 10-5 7-5 3-5 4-4 12-5 11-5 8-5 0-5-3-4 1-5 12-5 1-5 3-4-3-5 0-5 8-5 2-5-2-4 8-5 6-5-5-5 9-4 1-5 0-5 5-5 12-5 2-4-6-5-8-5-5-5 3-4 1-5 0-5 9-5 14-4 8-5 6-5-4-5-3-5-12-4-8z"/><path transform="translate(89.0 68.3)" d="M960 841l5 8 5 12 4 3 5 4 5-6 5-8 5-14 4-10 5 1 5-1 5-3 4 5 5 7 5 7 5-2 4-12 5-6 5 1 5-1 5-9 4 5 5-6 5-8 5 2 4-2 5-8 5 0 5 3 5-3 4-1 5-13 5 0 5 3 4 0 5-8 5-11 5-12 5-4 4-3 5-7 5-10 5 6 4 7 5 10 5 8 5-9 5-5 4-16 5-13 5-5 5-3 4-6 5-8 5-16 5 7 4 3 5 5 5 4 5-1 5-7 4-1 5-7 5-9 5-24 4 4 5 9 5 18 5 4 5 0 4 0 5-7 5-7 5-7 4-13 5-3 5 1 5 7 5-2 4-12 8 14-5 8-5 2-5-2-4-8-5 1-5-2-5 8-5 12-5 7-4 6-5 0-5-3-5-10-5-5-4-1-5-2-5 6-5 16-5 5-5 10-4 5-5-8-5-11-5-3-5 9-5 12-4 17-5 4-5 3-5 2-5 7-5 15-4-6-5 7-5-3-5-11-5-12-4-2-5 17-5 3-5 12-5 3-5 4-4 8-5 9-5 4-5 0-5-4-5 10-4-1-5 3-5 2-5-6-5 10-5 11-4 7-5-2-5 0-5-10-5 9-5 4-4-3-5-2-5 13-5 6-5-1-4 1-5-5-5-2-5 11-5 6-5 9-4 13-5 4-5-2-5-3-5-8-5-9-4-11z"/><path transform="translate(94.5 72.6)" d="M958 837l5 11 5 9 5 7 4 4 5 2 5-4 5-13 5-9 5-6 4-11 5 2 5 4 5 0 5 0 4-5 5-13 5 2 5 3 5-4 5-9 4 10 5 0 5 2 5-7 5-11 5-10 4 6 5-2 5-3 5 1 5-10 5 4 4 0 5-4 5-9 5-8 5-4 4-3 5-12 5-3 5-17 5 2 5 11 4 12 5 3 5-7 5 6 5-15 5-8 4-2 5-2 5-5 5-16 5-12 5-9 4 3 5 11 5 8 5-5 5-10 4-5 5-16 5-6 5 2 5 1 5 5 4 10 5 3 5 0 5-6 5-7 5-12 4-8 5 2 5-1 5 7 5 3 5-2 4-8 8-7-5 19-5 3-5-4-5 3-5-3-5-6-4 0-5 8-5 11-5 8-5 7-5 5-5-3-5-4-4-4-5 5-5-6-5 6-5 10-5 9-5 6-4-6-5-1-5-8-5-2-5 17-5 6-5 6-5 21-4 5-5-3-5 3-5-1-5 5-5-7-5-9-5-9-4 8-5 14-5 2-5 6-5 3-5 1-5 3-5 14-4 1-5-2-5 6-5 4-5 6-5 1-5-4-4 10-5 2-5 6-5 9-5-1-5-7-5 3-5-8-4-1-5-1-5-7-5 10-5 21-5 5-5 3-5 4-4 4-5 2-5 6-5-1-5 10-5 1-5 5-5-9-4-11-5-8-5-3z"/><path transform="translate(100.1 76.9)" d="M956 835l5 3 5 8 5 11 5 9 5-5 5-1 4-10 5 1 5-6 5-2 5-4 5-4 5-3 5-5 4-21 5-10 5 6 5 2 5 1 5 8 5-3 4 7 5 1 5-9 5-6 5-2 5-11 5 5 5-1 4-6 5-5 5-5 5 2 5-1 5-14 5-3 5-1 4-3 5-6 5-2 5-14 5-8 5 9 5 9 4 7 5-5 5 1 5-3 5 3 5-5 5-21 5-6 4-6 5-17 5 2 5 8 5 1 5 6 5-6 5-9 4-10 5-7 5 7 5-5 5 4 5 4 5 3 5-5 4-7 5-8 5-11 5-8 5 0 5 6 5 2 4-2 5 4 5-3 5-19 7 7-5 3-5 4-5 5-4 7-5-4-5-7-5 0-5 2-5 7-5 15-5 6-5 9-5 1-5 10-4-6-5 1-5-3-5 5-5 10-5 2-5 9-5-1-5 1-5-13-5-2-4 16-5 7-5 2-5 10-5 10-5 2-5-2-5 2-5-8-5-3-5-6-4 2-5 4-5 9-5 2-5-3-5 1-5 5-5 15-5 9-5 9-5 2-4 1-5 4-5 1-5-3-5 10-5 9-5-3-5 9-5-1-5-5-5 6-4-3-5-6-5-9-5-15-5 14-5 13-5 18-5 6-5 14-5 4-5-2-4-9-5 17-5-3-5-8-5 7-5-11-5-4-5 3-5 5-5-3z"/><path transform="translate(105.6 81.1)" d="M955 844l5 3 5-5 5-3 4 4 5 11 5-7 5 8 5 3 5-17 5 9 5 2 5-4 5-14 5-6 4-18 5-13 5-14 5 15 5 8 5 6 5 4 5-6 5 5 5 1 5-9 4 3 5-9 5-10 5 3 5-1 5-4 5-1 5-2 5-9 5-9 5-15 4-5 5-1 5 3 5-2 5-9 5-4 5-2 5 6 5 3 5 8 5-2 4 2 5-2 5-10 5-10 5-2 5-7 5-16 5 2 5 12 5 0 5 1 4-9 5-2 5-10 5-5 5 3 5-1 5 6 5-10 5-1 5-10 5-5 4-15 5-7 5-2 5 0 5 7 5 4 5-7 5-5 5-4 5-3 6 8-4 2-5-3-5-1-5 9-5 2-5-1-5-8-5 3-5 1-5 0-5 8-5 20-5 15-5 8-5-2-5 1-5 2-4 1-5 10-5 2-5 10-5 0-5-2-5-3-5-4-5 3-5 2-5 1-5 8-5 6-5 15-5-8-5-7-5 2-4 6-5 3-5 6-5 2-5 7-5 8-5-12-5-8-5 6-5 7-5 14-5 9-5 3-5-2-5 11-5-1-5-3-5 7-4 15-5 0-5-6-5 10-5 4-5-5-5 3-5-11-5-7-5-3-5 10-5 9-5 15-5 8-5 0-5 8-5 7-4 4-5-1-5-5-5-4-5-1-5-4-5 9-5 3-5-9-5 7z"/><path transform="translate(111.2 85.4)" d="M954 855l4-7 5 9 5-3 5-9 5 4 5 1 5 4 5 5 5 1 5-4 5-7 5-8 5 0 5-8 5-15 5-9 5-10 4 3 5 7 5 11 5-3 5 5 5-4 5-10 5 6 5 0 5-15 5-7 5 3 5 1 5-11 5 2 5-3 5-9 4-14 5-7 5-6 5 8 5 12 5-8 5-7 5-2 5-6 5-3 5-6 5-2 5 7 5 7 5-14 5-6 5-8 4-1 5-2 5-3 5 4 5 3 5 2 5 0 5-10 5-2 5-10 5-1 5-2 5-1 5 2 5-8 5-16 5-20 4-7 5-1 5-1 5-2 5 8 5 1 5-2 5-9 5 1 5 3 5-2 7 14-5-8-5-5-5-7-5 9-5 6-5 4-5-4-5-7-5 2-5-2-5-3-5 9-5 29-5 17-5 4-5-4-5 0-5 6-5 10-5 11-5-2-5-2-5 3-5-4-4 4-5 5-5 0-5-3-5 11-5 7-5-2-5 0-5 5-5 7-5 3-5 1-5 0-5 7-5 19-5-7-5 1-5 4-5-8-5 3-5 7-5 2-5 6-5 2-5 5-5 1-5-1-4 10-5 5-5 2-5-10-5 12-5 11-5-1-5-5-5 0-5 0-5-11-5 5-5 3-5 14-5 10-5 7-5-4-5 8-5-1-5 5-5 0-5 2-5 6-5 7-5 2-5 1-4-2-5 9z"/><path transform="translate(116.8 89.7)" d="M953 878l5-9 5 2 5-1 5-2 5-7 5-6 5-2 5-1 5-4 5 1 5-8 5 4 5-7 4-10 5-14 5-3 5-5 5 11 5 0 5 0 5 5 5 1 5-12 5-11 5 10 5-2 5-5 5-11 5 2 5-1 5-6 5-1 5-6 5-2 5-7 5-3 5 8 5-4 5-1 4 7 5-19 5-7 5 0 5-1 5-3 5-7 5-5 5 0 5 2 5-8 5-10 5 3 5 0 5-5 5-4 5 4 5-3 5 2 5 2 5-12 5-9 5-6 5 0 5 4 5-4 4-17 5-29 5-9 5 3 5 2 5-2 5 7 5 3 5-3 5-6 5-9 5 7 5 5 5 8 6 17-5-9-4-21-5-3-5 12-5 3-5 3-5-5-5-8-5-2-5-8-5-5-5 18-5 28-5 23-5 3-5 6-5-1-5 3-5-5-5 18-5 3-5-3-5 5-5 1-5-4-5 11-5-4-5 11-5-8-5-2-5 3-5 5-5 6-5 9-5-8-5 5-5 16-5 9-4 12-5 5-5 1-5-3-5-7-5-6-5 10-5 6-5 9-5 4-5-1-5-3-5-2-5 7-5 15-5-5-5-4-5-3-5 6-5 3-5-3-5 2-5-7-5 12-5-3-5 1-5 3-5 12-5 1-5 6-5-5-5 7-5 1-5 4-5 6-5 12-5 10-5 3-4-2-5 8-5 1z"/><path transform="translate(122.3 93.9)" d="M953 881l5-1 5-8 5 2 5-3 5-10 5-12 5-6 5-4 5-1 5-7 5 5 5-6 5-1 5-12 5-3 5-1 5 3 5-12 4 7 5-2 5 3 5-3 5-6 5 3 5 4 5 5 5-15 5-7 5 2 5 3 5 1 5-4 5-9 5-6 5-10 5 6 5 7 5 2 5 0 5-5 5-12 5-9 5-16 5-5 5 8 5-9 5-6 5-5 5-3 5 2 5 8 5-11 5 4 5-11 5 4 5-1 4-5 5 3 5-3 5-18 5 5 5-3 5 1 5-6 5-3 5-23 5-28 5-18 5 5 5 8 5 2 5 8 5 5 5-3 5-3 5-12 5 3 5 21 5 9 6 10-5-3-5-8-5-4-5-2-5-2-5 5-5-7-5-10-5-5-5-1-5-1-5 13-5 28-5 21-5 10-5 3-5 5-4-1-5 7-5 2-5-2-5 3-5 3-5 2-5 6-5-2-5-10-5 10-5 0-5-2-5 5-5 5-5 0-5 2-5 1-5 10-5 2-5 17-5 13-5 7-5 1-5-3-5-11-5 7-5 3-5 6-5 6-5 5-5-3-5 0-5-3-5 10-5 4-5 5-5 1-5-3-5-3-5 3-5 0-5-6-5 3-5 3-5-8-5 4-5 2-5 6-5-1-5 4-5 10-5 1-5 1-5 7-5 0-5 4-5 21-4 2-5 7-5-3-5 8z"/><path transform="translate(127.9 98.2)" d="M953 877l5-8 5 3 5-7 5-2 5-21 5-4 5 0 5-7 5-2 5 0 5-10 5-4 5 1 5-6 5-2 5-4 5 8 5-3 5-3 5 6 5 0 5-3 5 3 5 3 5-1 5-5 5-4 5-10 5 3 4 0 5 3 5-5 5-6 5-6 5-3 5-8 5 11 5 4 5-1 5-8 5-12 5-17 5-2 5-10 5-1 5-2 5 0 5-5 5-5 5 1 5 0 5-9 5 10 5 2 5-6 5-2 5-3 5-4 5 3 5-2 5-7 5 1 5-5 5-3 5-10 5-21 5-28 5-13 5 1 5 1 5 5 5 10 5 7 5-5 5 2 5 2 5 4 5 8 5 3 6 7-5-1-5-1-5-4-5 3-5-12-5 10-5-1-5-11-5 1-5 1-5 6-5 4-5 22-5 10-5 1-5 20-5 7-5-3-5 4-5 2-5 3-5 0-5-5-5 5-5 3-5-4-5-12-5 1-5 6-5 6-5 9-5 4-5 1-5 7-5-7-5 2-5 7-5 6-5 18-5 12-5 6-5-5-5-8-5 3-5 9-5 5-5 0-5 3-5 2-5 3-5 4-5 3-5 0-5 0-5-1-5 0-5-1-5 3-5 1-5-9-5 0-5 0-5-5-5 3-5 3-5-8-5 8-5 9-5 3-5 6-5 14-5 4-4-4-5 10-5 8-5 9-5-3-5 0-5 13z"/><path transform="translate(133.4 102.5)" d="M953 876l5-13 5 0 5 3 5-9 5-8 5-10 5 4 5-4 5-14 5-6 5-3 5-9 5-8 5 8 5-3 5-3 5 5 5 0 5 0 5 9 5-1 5-3 5 1 5 0 5 1 5 0 5 0 5-3 5-4 5-3 5-2 5-3 5 0 5-5 5-9 5-3 5 8 5 5 5-6 5-12 5-19 5-5 5-7 5-2 5 6 5-6 5-2 5-4 5-8 5-6 5-6 4-1 5 12 5 4 5-3 5-5 5 4 5 1 5-3 5-2 5-4 5 3 5-7 5-20 5-1 5-10 5-22 5-5 5-5 5-1 5-1 5 11 5 1 5-10 5 12 5-3 5 4 5 1 5 0 6 4-5 6-5 0-5-9-5 0-5 3-5-3-5-2-5 0-5 2-5 7-5 3-5 9-5 7-5 15-5 12-5-3-5 22-5-1-5 1-5-3-5-5-5 2-5 4-5-2-5-6-5-6-5-12-5-1-5 5-5 23-5 8-5 9-5 3-5-5-5 3-5-4-5 9-5 12-5 12-5 7-5 4-5-8-5-4-5 12-5 2-5 8-5 2-5-6-5 3-5-2-5 2-5 4-5 6-5-2-5 5-5 4-5-5-5 1-5 3-5-10-5-6-5 2-5-2-5-5-4 6-5 11-5 9-5 3-5 2-5 7-5 13-5 4-5 10-5 9-5-3-5-5-5 10-5 4-5 6z"/><path transform="translate(139.0 106.7)" d="M953 881l5-6 5-4 5-10 5 5 5 3 5-9 5-10 5-4 5-13 5-7 5-2 5-3 5-9 5-11 5-6 5 5 5 2 5-2 5 6 5 10 5-3 5-1 5 5 5-4 5-5 5 2 5-6 5-4 5-2 5 2 5-3 5 6 5-2 5-8 5-2 5-12 5 4 5 8 5-4 5-7 5-12 5-12 5-9 5 3 5-2 5 5 5-3 5-9 5-8 5-23 5-6 5 2 5 12 5 6 5 6 5 2 5-4 5-2 5 5 5 3 5-1 5 1 5-22 5 3 5-12 5-15 5-8 5-8 5-4 5-6 5-2 5 0 5 2 5 3 5-3 5 0 5 9 5-1 5-5 6 6-5-4-5 4-5-5-5 0-5 3-5-6-5 2-5 3-5 0-5 13-5 2-5 4-5 10-5 11-5 16-5 10-5 11-5 4-5-2-5-6-5-1-5-2-5 2-5-4-5-7-5-8-5 3-5 1-5 4-5 4-5 12-5 1-5 4-5-5-5 4-5-3-5 19-5 19-5 7-5 6-5 1-5-1-5-7-5 13-5 2-5 4-5-1-5-2-5-2-5 2-5-9-5-5-5 0-5 2-5 12-5 7-5 1-5 3-5 2-5-3-5-1-5-7-5 0-5 6-5 4-5-1-5 17-5 8-5-1-5-1-5 15-5-2-5 13-5 8-5 2-5-2-5-1-5 7-5 10z"/><path transform="translate(144.6 111.0)" d="M953 884l5-11 5-6 5 1 5 2 5-3 5-7 5-13 5 2 5-15 5 1 5 1 5-8 5-17 5 1 5-4 5-6 5 0 5 7 5 1 5 3 5-2 5-3 5-2 5-6 5-12 5-2 5 0 5 5 5 9 5-2 5 2 5 2 5 1 5-4 5-2 5-13 5 7 5 1 5-1 5-6 5-7 5-19 5-19 5 3 5-5 5 6 5-4 5-1 5-12 5-4 5-4 5-1 5-3 5 8 5 7 5 4 5-2 5 2 5 0 5 7 5 2 5-4 5-11 5-10 5-16 5-11 5-10 5-4 5-2 5-13 5 0 5-3 5-2 5 5 5-2 5 0 5 5 5-4 5 4 6 6-5-8-5-1-5-5-5 3-5-4-5-4-5 1-5 8-5 5-5 8-5 6-5 4-5 5-5 12-5 14-5 13-5 7-5 13-5 0-5-4-5-9-5 0-5 3-5 0-5 3-5-9-5-1-5 7-5-5-5-9-5-2-5 10-5 3-5-3-5 6-5 8-5 27-5 15-5 13-5 8-5-7-5-2-5-2-5 5-5 6-5 4-5-2-5 6-5-8-5-14-5-2-5-6-5-7-5 5-5 14-5 10-5 12-5 3-5-1-5-7-5 2-5-5-5 1-5-2-5 6-5 4-5 9-5 1-5 8-5 5-5 12-5 2-5 10-5-1-5-1-5 3-5 3-5 9-5 7z"/><path transform="translate(150.1 115.3)" d="M953 883l5-7 5-9 5-3 5-3 5 1 5 1 5-10 5-2 5-12 5-5 5-8 5-2 5-8 5-4 5-6 5 2 5-1 5 5 5-2 5 6 5 2 5-3 5-12 5-10 5-14 5-5 5 7 5 6 5 1 5 15 5 8 5-6 5 2 5-4 5-6 5-5 5 2 5 2 5 7 5-8 5-13 5-15 5-27 5-8 5-6 5 3 5-4 5-9 5 2 5 9 5 5 5-7 5 1 5 9 5-3 5 0 5-3 5 0 5 9 5 4 5 0 5-13 5-7 5-13 5-14 5-12 5-5 5-4 5-6 5-8 5-5 5-9 5 0 5 4 5 3 5-2 5 5 5 0 5 9 6 5-5-3-5-6-5-2-5-13-5-1-5 5-5 2-5 9-5 1-5 10-5 2-5 6-5 1-5 9-5 11-5 14-5 22-5-7-5 1-5-3-5 12-5 0-5 6-5-13-5 12-5 2-5-13-5 1-5-2-5-2-5 0-5 8-5-1-5-1-5 5-5 14-5 15-5 20-5 10-5 7-5 4-5 4-5-1-5 0-5 1-5-8-5 1-5 0-5 1-5-15-5-4-5-1-5-10-5 13-5 5-5 13-5 10-5 7-5-7-5-9-5 2-5-1-5-12-5 6-5-1-5 5-5 14-5 4-5 8-5 13-5 9-5 13-5-22-5 19-5-6-5 8-5 2-5 13-5-7z"/><path transform="translate(155.7 119.6)" d="M953 873l5 7 5-13 5-2 5-8 5 6 5-19 5 22 5-13 5-9 5-13 5-8 5-4 5-14 5-5 5 1 5-6 5 12 5 0 5-1 5 9 5 7 5-7 5-10 5-13 5-5 5-13 5 9 5 2 5 4 5 15 5-1 5 0 5-1 5 8 5-1 5 0 5 1 5-4 5-4 5-7 5-10 5-20 5-15 5-14 5-5 5 1 5 1 5-8 5 0 5 2 5 2 5-1 5 13 5-2 5-12 5 13 5-6 5 0 5-12 5 3 5-1 5 7 5-22 5-14 5-11 5-9 5-2 5-5 5-2 5-10 5-1 5-9 5-2 5-5 5 1 5 13 5 2 5 6 5 3 6 10-5-1-5-13-5 5-5-9-5-6-5 2-5 4-5 2-5-4-5 2-5 12-5 9-5 7-5 6-5 4-5 4-5 2-5 5-5 10-5 2-5 20-5 6-5-1-5 3-5 0-5-10-5-14-5 2-5-6-5 11-5-2-5 2-5 5-5 8-5-2-5 18-5 12-5 10-5 17-5 14-5 6-5 6-5 4-5-5-5 1-5-3-5-13-5-11-5-14-5 9-5 8-5-9-5 6-5 3-5 5-5 3-5 7-5 0-5 4-5-5-5-10-5 0-5-1-5 2-5 6-5 11-5 6-5 6-5 9-5 3-5 21-5 3-5 1-5-2-5 1-5 0-5-10-5 18-5 3z"/><path transform="translate(161.2 123.8)" d="M953 873l5-3 5-18 5 10 5-1 5 0 5 2 5-1 5-3 5-21 5-3 5-9 5-6 5-7 5-10 5-6 5-2 5 1 5 0 5 10 5 5 5-4 5 0 5-7 5-3 5-5 5-3 5-6 5 8 5-7 5-9 5 14 5 11 5 13 5 3 5-1 5 5 5-4 5-6 5-6 5-14 5-17 5-10 5-12 5-18 5 2 5-8 5-5 5-2 5 2 5-11 5 6 5-2 5 14 5 10 5 0 5-3 5 1 5-6 5-20 5-2 5-10 5-5 5-2 5-4 5-4 5-6 5-7 5-9 5-12 5-2 5 3 5-1 5-4 5-2 5 6 5 9 5-5 5 13 5 1 6 0-5 5-5-4-5 5-5-8-5-11-5-12-5-3-5 13-5 9-5-5-5 18-5 2-5 2-5 14-5 6-5-7-5 10-5-3-5 13-5 2-5 5-5 9-5 12-5 1-5-5-5-17-5-18-5 2-5 7-5 12-5 8-5-9-5 2-5 10-5-5-5 8-5 17-5 24-5 19-5 6-5 10-5 3-5 5-5 6-5-11-5-4-5-7-5-5-5 1-5-10-5 0-5 9-5 0-5 3-5-1-5-2-5 2-5-1-5-4-5-2-5 4-5 1-5 6-5 1-5 0-5 11-5 17-5 10-5 4-5 3-5 13-5-4-5 11-5-7-5-1-5-6-5-5-5 9-5 22z"/><path transform="translate(166.8 128.1)" d="M953 877l5-22 5-9 5 5 5 6 5 1 5 7 5-11 5 4 5-13 5-3 5-5 5-9 5-17 5-11 5 0 5-1 5-6 5-1 5-4 5 2 5 4 5 1 5-2 5 2 5 1 5-3 5 0 5-9 5 0 5 10 5-1 5 4 5 8 5 4 5 11 5-6 5-5 5-3 5-10 5-6 5-19 5-24 5-17 5-8 5 4 5-9 5-2 5 9 5-8 5-12 5-7 5-2 5 18 5 17 5 5 5-1 5-12 5-9 5-5 5-2 5-13 5 3 5-10 5 7 5-6 5-14 5-3 5-1 5-18 5 5 5-10 5-12 5 3 5 12 5 11 5 8 5-6 5 5 5-5 6 3-5 13-5 2-5 1-5-9-5-6-5-9-5-13-5 10-5 11-5 3-5 11-5 9-5 0-5 10-5 5-5 2-5 8-5 5-5 4-5-7-5-13-5 5-5 17-5 11-5 3-5-12-5-5-5-9-5-5-5 7-5 8-5 2-5-6-5 5-5-5-5 14-5 20-5 24-5 16-5 9-5 8-5 4-5 10-5-5-5-6-5-8-5-6-5-8-5 10-5 1-5 0-5 0-5-5-5-3-5-4-5-3-5-3-5-9-5-9-5 14-5 5-5 25-5 11-5-5-5-7-5 13-5 10-5 20-5 3-5 3-5 5-5 4-5 4-5-5-5-9-5 4-5 5-5 4-5 12z"/><path transform="translate(172.4 132.4)" d="M953 875l5-12 5-4 5-5 5-4 5 9 5 5 5-4 5-4 5-5 5-3 5-3 5-20 5-10 5-13 5 7 5 5 5-11 5-25 5-5 5-15 5 10 5 9 5 3 5 3 5 4 5 2 5 6 5 0 5 0 5-1 5-10 5 8 5 6 5 8 5 6 5 5 5-10 5-4 5-8 5-9 5-16 5-24 5-20 5-14 5 5 5-5 5 6 5-2 5-8 5-7 5 5 5 9 5 5 5 12 5-3 5-11 5-17 5-5 5 13 5 7 5-4 5-5 5-8 5-2 5-5 5-10 5 0 5-9 5-11 5-4 5-10 5-10 5 13 5 9 5 6 5 9 5-1 5-2 5-13 6 4-5 16-5 8-5 1-5-9-5-11-5-10-5 4-5 8-5 0-5 1-5 2-5 17-5 3-5 3-5 7-5 5-5 5-5 5-5 5-5-15-5-11-5 5-5 16-5 13-5 4-5-1-5-10-5-6-5 3-5-12-5-6-5 9-5-3-5 7-5 1-5 22-5 20-5 15-5 18-5 11-5 3-5 3-5 5-5-9-5 2-5-10-5-4-5 8-5 4-5 2-5-4-5-2-5-14-5 5-5-4-5-13-5-15-5 1-5 4-5 7-5 16-5 12-5 8-5-1-5 5-5 11-5 16-5 14-5 5-5 2-5 4-5-6-5 8-5-2-5 6-5 1-5-2-5 9-5 11z"/><path transform="translate(177.9 136.6)" d="M953 883l5-11 5-9 5 1 5-1 5-5 5 2 5-8 5 6 5-4 5-2 5-5 5-14 5-16 5-11 5-5 5 1 5-8 5-12 5-16 5-7 5-4 5-1 5 15 5 13 5 4 5-5 5 14 5 2 5 4 5-2 5-4 5-8 5 4 5 10 5-2 5 9 5-5 5-3 5-4 5-10 5-18 5-16 5-19 5-22 5-1 5-7 5 3 5-9 5 6 5 12 5-3 5 6 5 10 5 1 5-4 5-13 5-16 5-5 5 11 5 15 5-5 5-5 5-5 5-6 5-6 5-3 5-3 5-17 5-2 5-2 5 1 5-8 5-4 5 10 5 11 5 9 5-1 5-8 5-16 6 3-5 9-5 11-5 1-5 1-5-6-5 0-5 5-5-1-5 2-5-2-5-2-5 11-5-1-5-2-5 6-5 11-5 8-5 4-5-5-5-3-5-4-5 8-5 9-5 8-5 7-5-5-5 9-5-14-5 2-5-4-5-4-5 7-5-2-5-1-5 8-5 7-5 18-5 15-5 9-5 12-5 8-5-3-5 1-5-1-5 0-5 0-5-6-5 1-5 9-5 1-5 5-5-2-5 3-5-11-5-14-5-13-5-5-5 4-5 8-5 2-5 2-5-2-5 7-5 15-5 2-5 18-5 13-5 13-5 8-5 2-5-2-5 3-5 2-5 10-5 4-5-10-5 7-5 10-5 11z"/><path transform="translate(183.5 140.9)" d="M953 886l5-11 5-10 5-7 5 10 5-4 5-10 5-2 5-3 5 2 5-2 5-8 5-13 5-13 5-18 5-2 5-15 5-7 5 2 5-2 5-2 5-8 5-4 5 5 5 13 5 14 5 11 5-3 5 2 5-6 5 0 5-9 5-2 5 7 5 0 5 0 5 1 5-1 5 3 5-8 5-12 5-10 5-14 5-18 5-7 5-8 5 1 5 2 5-7 5 4 5 4 5-2 5 14 5-9 5 5 5-7 5-8 5-9 5-8 5 4 5 3 5 5 5-5 5-7 5-11 5-6 5 2 5 1 5-11 5 2 5 2 5-2 5 1 5-5 5 0 5 6 5-1 5-1 5-11 5-9 6 19-5-5-5 9-5-5-5 9-5-7-5 7-5 2-5 2-5-4-5-3-5 5-5 4-5-4-5-9-5 5-5 11-5 10-5 4-5-2-5-3-5 4-5 16-5 4-5 4-5-5-5-4-5 13-5 6-5 2-5-10-5-10-5 0-5 1-5 6-5 9-5 12-5 6-5 8-5 3-5 18-5 6-5-3-5 8-5 1-5-11-5 5-5 7-5-4-5 3-5 6-5 7-5 4-5-2-5-6-5-14-5-15-5-9-5 8-5 1-5 3-5-2-5 11-5 8-5 8-5 18-5 8-5 6-5 4-5 1-5 2-5 2-5 0-5 11-5 9-5-2-5-7-5 16-5 15-5 13z"/><path transform="translate(189.0 145.2)" d="M953 892l5-13 5-15 5-16 5 6 5 3 5-9 5-11 5 0 5-2 5-2 5-1 5-4 5-6 5-8 5-19 5-7 5-8 5-11 5 2 5-3 5-1 5-8 5 9 5 15 5 14 5 6 5 2 5-4 5-7 5-6 5-3 5 4 5-7 5-5 5 11 5-1 5-8 5 3 5-6 5-18 5-3 5-8 5-6 5-12 5-9 5-6 5-1 5 0 5 10 5 10 5-2 5-6 5-13 5 4 5 5 5-4 5-4 5-16 5-5 5 3 5 3 5-4 5-10 5-11 5-5 5 9 5 4 5-4 5-5 5 3 5 4 5-2 5-3 5-6 5 7 5-9 5 5 5-9 5 5 5-1-5 1-5 3-5 0-5 7-5 3-5-7-5 13-5-4-5-1-5 5-5 3-5-5-5-2-5-8-5 7-5 0-5 13-5 0-5 1-5 5-5 1-5 8-5 6-5 2-5-6-5 11-5 16-5-3-5 11-5-5-5-10-5 3-5 1-5-3-5 9-5 8-5 3-5 5-5 12-5-2-5 13-5 7-5 0-5 6-5 1-5-2-5-2-5 1-5 6-5 7-5 0-5 5-5 0-5-5-5-9-5-15-5-13-5 2-5 11-5 5-5 10-5 5-5 11-5 0-4 11-5 1-5 1-5 2-5 2-5 4-5 0-5 11-5-3-5 11-5 3-5 2-5 15-5 8-5 7z"/><path transform="translate(194.6 149.4)" d="M953 880l5-7 5-8 5-15 5-2 5-3 5-11 5 3 5-11 5 0 5-4 5-2 5-2 5-1 5-1 5-11 5 0 5-11 5-5 5-10 5-5 5-11 5-3 5 14 5 15 5 9 5 5 5 0 5-5 5-1 5-6 5-6 5-1 5 2 5 2 5-1 5-6 5 0 5-8 5-12 5 2 5-12 5-5 5-3 5-8 5-9 5 3 5-1 5-3 5 10 5 5 5-11 5 3 5-16 5-11 5 6 5-2 5-6 5-8 5-1 5-5 5-1 5 0 5-13 5 0 5-7 5 8 5 2 5 5 5-3 5-5 5 1 5 4 5-13 5 7 5-3 5-7 5 0 5-3 5-1 5 3-5-1-5 9-5 2-5 1-5-7-5 6-5 6-5 7-5-7-5 12-5 0-5-4-5-6-5-6-5-17-5 22-5 18-5 3-5 6-5-2-5-8-5 15-5 5-5 2-5 2-5 0-5 8-5 7-5-6-5 9-5-3-5 7-5-2-5 5-5-3-5 9-5 5-5 8-5-5-5 14-5 7-5 2-5-5-5 8-5-4-5 1-5-4-5 8-5 8-5 5-5 7-5-2-5 5-5 3-5-11-5-14-5-15-5-5-5 10-5 15-5 11-5 11-5 5-5 5-5 3-5-7-5 3-5-7-5 1-5 17-5 6-5-1-4 3-5 0-5 12-5 11-5 11-5 5-5 2z"/><path transform="translate(200.2 153.7)" d="M953 878l5-2 5-5 5-11 5-11 5-12 5 0 5-3 5 1 5-6 5-17 5-2 5 8 5-3 5 7 5-3 5-5 5-5 5-11 5-11 5-16 5-9 5 5 5 15 5 14 5 11 5-3 5-5 5 2 5-7 5-5 5-8 5-8 5 4 5-1 5 4 5-8 5 5 5-2 5-7 5-14 5 5 5-8 5-5 5-9 5 3 5-5 5 2 5-7 5 3 5-9 5 6 4-8 5-7 5 0 5-2 5-2 5-5 5-15 5 8 5 2 5-6 5-3 5-18 5-22 5 17 5 6 5 6 5 4 5 0 5-12 5 7 5-7 5-7 5-5 5 7 5-1 5-3 5-9 5 2 5 2-5 7-5 7-5 6-5-7-5-10-5 15-5 3-5 7-5 4-5-1-5-6-5-9-5-1-5-3-5 6-5 8-5 16-4 6-5 8-5-4-5 7-5 8-5 9-5-5-5 1-5-3-5 2-5-1-5 2-5 3-5-2-5 6-5 11-5 3-5-5-5 9-5 7-5 0-5 1-5 11-5 0-5 2-5 0-5 4-5 0-5 1-5-7-5 3-5 7-5 15-5 12-5-1-5 8-5-3-5-13-5-9-5-12-5-3-5 10-5 9-5 8-5 6-5 12-5 3-5 8-5-8-5-4-5-3-5 17-5 7-5 0-5-2-5 0-5 9-5 12-4 10-5 4-5 1-5 0z"/><path transform="translate(205.7 158.0)" d="M953 872l5 0 5-1 5-4 5-10 5-12 5-9 5 0 5 2 5 0 5-7 5-17 5 3 5 4 5 8 5-8 5-3 5-12 5-6 5-9 5-8 5-10 5 3 5 12 5 9 5 13 5 3 5-8 5 1 5-12 4-15 5-7 5-3 5 7 5-1 5 0 5-4 5 0 5-2 5 0 5-11 5-1 5-1 5-6 5-9 5 5 5-3 5-11 5-6 5 2 5-3 5-3 5 2 5-2 5 3 5-1 5 5 5-9 5-8 5-7 5 4 5-8 5-6 5-16 5-8 5-6 5 3 5 1 5 9 5 6 5 1 5-4 5-8 5-2 5-15 5 9 5 8 5-6 5-7 5-7 4 17-5 0-4 2-5 0-5-9-5 8-5 10-5 4-5-6-5 9-5-6-5 4-5-6-5-6-5 3-5 11-5 3-5 18-5 0-5 9-5 5-5 11-5 0-5-6-5 7-5 2-5-10-5 4-5 4-5-1-5-6-5-1-5 23-5 8-5 6-5-4-5 4-5 6-5 2-4 1-5-1-5-2-5 0-5 4-5-2-5-2-5-6-5 0-5 3-5 14-5 11-5 10-5 13-5 4-5-12-5 10-5-2-5-16-5 1-5 4-5-1-5 3-5 1-5 10-5 14-5 7-5-7-5-8-5 9-5 8-5 7-5 5-5 4-5-3-5-18-5 37-5 6-4 3-5 3-5-1z"/><path transform="translate(211.3 162.3)" d="M953 877l5 1 5-3 5-3 5-6 5-37 5 18 5 3 5-4 5-5 5-7 5-8 5-9 5 8 5 7 5-7 5-14 5-10 5-1 4-3 5 0 5-3 5-1 5 16 5 2 5-10 5 12 5-4 5-13 5-10 5-11 5-14 5-3 5 0 5 6 5 2 5 2 5-4 5 0 5 2 5 0 5 0 5-2 5-6 5-4 5 4 5-6 5-8 5-23 5 1 5 6 5 1 5-4 5-4 5 10 5-2 5-7 4 6 5 0 5-11 5-5 5-9 5 0 5-18 5-3 5-11 5-3 5 5 5 6 5-3 5 6 5-9 5 6 5-4 5-10 5-8 5 9 5 0 5-2 5 0 5 9-5 2-5-5-5 2-5-3-5 0-5-6-5 18-5 6-5 0-5 3-5-4-5-15-5-2-5 4-5 19-5-5-5 9-5 15-5 12-5 4-5-2-5 4-5 6-5 9-4 1-5 1-5-4-5-8-5 0-5 5-5 0-5 16-5 3-5 8-5 0-5-2-5 8-5-2-5 6-5-5-5-4-5-14-5 1-5 4-5-7-5 1-5-5-5 9-5 21-5 12-5 8-4 17-5 5-5 4-5 1-5-10-5-1-5-4-5 5-5-8-5 0-5-4-5 13-5 7-5 10-5-2-5-5-5 12-5 12-5 2-5 5-5 6-5 1-5-2-5 8-5-2-5 1-4 10-5 7z"/><path transform="translate(216.8 166.5)" d="M953 879l5-7 5-10 5-1 5 2 5-9 5 3 5-1 5-6 5-5 5-2 5-12 5-12 5 5 4 2 5-10 5-7 5-13 5 4 5 0 5 8 5-5 5 3 5 2 5 9 5 0 5-4 5-5 5-17 5-8 5-12 5-21 5-9 5 5 5-1 5 6 5-3 5-1 5 14 5 4 4 5 5-6 5 2 5-8 5 2 5 0 5-8 5-3 5-16 5 0 5-5 5 0 5 8 5 4 5-1 5-1 5-9 5-6 5-4 5 1 5-3 5-12 5-15 5-9 5 5 5-19 4-4 5 2 5 15 5 4 5-3 5 0 5-6 5-18 5 6 5 0 5 3 5-2 5 5 5-2 4-1-4-5-5 2-5-5-5 0-5 2-5 11-5 5-5 4-5 8-5-3-5 5-5-23-5 10-5 11-5 7-5 7-5 7-4 10-5 2-5-2-5 1-5 3-5 13-5 4-5 2-5 3-5 2-5-4-5-5-5 2-5 11-5 5-5 3-5 0-4 4-5 9-5-2-5 1-5 0-5-2-5-9-5-6-5-2-5-5-5-5-5 2-5 12-5 14-5 9-5 8-5 22-5 12-4-11-5 11-5 6-5-7-5-5-5-4-5-5-5 1-5 2-5 7-5 0-5 3-5 0-5 6-5 11-5 8-5 8-4 6-5 8-5-3-5 0-5-5-5-6-5-3-5 8-5 16-5 6z"/><path transform="translate(222.4 170.8)" d="M954 873l4-6 5-16 5-8 5 3 5 6 5 5 5 0 5 3 5-8 5-6 5-8 5-8 5-11 5-6 5 0 5-3 5 0 4-7 5-2 5-1 5 5 5 3 5 6 5 7 5-6 5-11 5 11 5-12 5-22 5-8 5-9 5-14 5-12 5-2 4 5 5 5 5 1 5 7 5 9 5 2 5 0 5-1 5 2 5-9 5-4 5 0 5-3 5-5 5-11 5-2 5 5 4 4 5-2 5-3 5-2 5-4 5-13 5-4 5 0 5 2 5-2 5-10 5-7 5-7 5-7 5-11 5-10 5 23 4-5 5 3 5-8 5-4 5-5 5-11 5-2 5 0 5 5 5-2 5 5 4-1-5-3-5-12-5 12-4 3-5 3-5 2-5 7-5 17-5-2-5 3-5 0-5 4-5 2-5 9-4-6-5 11-5 4-5 2-5-1-5-10-5 8-5 10-5 17-5 1-5 4-4 3-5 1-5-17-5 3-5 2-5 11-5 2-5 9-5 5-5 3-5 2-4-3-5 1-5 6-5 0-5-3-5 0-5-14-5-2-5 7-5 0-5-2-4 14-5 15-5-1-5 17-5 13-5 2-5-1-5-1-5 0-5 0-5-3-4-6-5 2-5 6-5 12-5-5-5 1-5-3-5 11-5 6-5 13-5 4-4 2-5 9-5-2-5-6-5-4-5-3-5-3-5 6-5 9-5 15z"/><path transform="translate(228.0 175.1)" d="M955 870l5-14 5-9 5-6 4 3 5 3 5 4 5 6 5 2 5-9 5-2 5-4 5-13 5-6 5-11 4 3 5-1 5 5 5-12 5-6 5-2 5 5 5 4 5 0 5 0 5 1 4 1 5-2 5-13 5-17 5 0 5-14 5-14 5 2 5 0 5-7 5 2 4 14 5 0 5 2 5 1 5-7 5-1 5 4 5-2 5-4 5-5 5-8 4-3 5-10 5-2 5-3 5 17 5-1 5-3 5-4 5-1 5-17 5-10 4-8 5 9 5 2 5-2 5-4 5-11 5 6 5-9 5-2 5-4 5 0 4-3 5 2 5-17 5-7 5-2 5-3 5-3 5-12 5 12 5 3 4-7-5-3-5-6-5 15-5 3-5 12-5 9-4 3-5 7-5-1-5 0-5 14-5 4-5 5-5 4-4 3-5 6-5-1-5-7-5 1-5-5-5 9-4 14-5 7-5-13-5 8-5 4-5-4-5 2-5 7-4 8-5 6-5 3-5 3-5-3-5 1-5 4-5 10-4 0-5 5-5 5-5-6-5-7-5-3-5-1-5 6-4-5-5 2-5 7-5 9-5 0-5 20-5 7-4-8-5 3-5-5-5 9-5 6-5-2-5 0-5-1-4 11-5 9-5-4-5-1-5-3-5 0-5 13-5 2-4 11-5 1-5 4-5 2-5-6-5-10-5-7-5-1-4 17-5 17-5 14z"/><path transform="translate(233.5 179.3)" d="M956 879l5-14 5-17 5-17 5 1 5 7 5 10 4 5 5-1 5-4 5-1 5-12 5-1 5-13 5 0 4 3 5 1 5 4 5-9 5-11 5 1 5 0 4 2 5-6 5-9 5 5 5-4 5 9 5-7 5-20 4 0 5-9 5-7 5-2 5 5 5-6 5 1 5 3 4 7 5 6 5-5 5-5 5 0 5-10 5-4 4-1 5 3 5-4 5-2 5-6 5-8 5-7 5-2 4 4 5-4 5-8 5 13 5-7 5-14 5-9 5 5 4-1 5 7 5 1 5-6 5-4 5-4 5-4 5-4 4-14 5 0 5 1 5-7 5-4 5-8 5-12 4-3 5-15 5 6 5 3 4-8-5 1-5 3-5 10-4 8-5 18-5 11-5 4-5 4-5 3-4 0-5 9-5 5-5 6-5 6-4 3-5 2-5 2-5-6-5-2-5-8-4 5-5 10-5 10-5-2-5 8-5-1-4-6-5-4-5 10-5 6-5 16-5 3-4 2-5-2-5-2-5 5-5 8-4 4-5 1-5 1-5-2-5-2-5 3-4-2-5-1-5 6-5-10-5 6-5 2-4 6-5 15-5 7-5 8-5 1-5-7-4 3-5 5-5 8-5-10-5-9-5 20-4 7-5 3-5 4-5-1-5-2-4-5-5 2-5 18-5 5-5-1-5 3-4-5-5-7-5-22-5-6-5 24-5 21-4 7z"/><path transform="translate(239.1 183.6)" d="M958 869l5-7 5-21 5-24 4 6 5 22 5 7 5 5 5-3 5 0 4-4 5-18 5-2 5 4 5 3 4 1 5-4 5-3 5-7 5-20 5 9 4 10 5-8 5-5 5-3 5 7 5-1 4-8 5-7 5-16 5-5 5-2 5-6 4 10 5-6 5 1 5 2 5-3 4 2 5 2 5-1 5-1 5-4 5-8 4-5 5 2 5 2 5-2 5-3 5-16 4-6 5-10 5 4 5 6 5 1 5-8 4 2 5-10 5-10 5-5 5 8 4 2 5 6 5-2 5-2 5-3 5-6 4-6 5-5 5-9 5 0 5-3 5-4 4-5 5-10 5-18 5-8 5-10 5-3 4-1 4 4-5 12-5 5-4 14-5 15-5 8-5 2-5 14-4 3-5 3-5-2-5 7-4 15-5 1-5-7-5 11-5 0-4 3-5-8-5-2-5-5-4-6-5 4-5 10-5 7-4 5-5 0-5-7-5 9-5 4-4 9-5-1-5-1-5 12-4-2-5-4-5 8-5 4-5 7-4 2-5 3-5 3-5 1-4 3-5 4-5-7-5-1-5-5-4 1-5-2-5-3-5 13-4-7-5 19-5 10-5 9-5 2-4-7-5-1-5 9-5 8-4 4-5 5-5 1-5 5-5 3-4-9-5-11-5 3-5 4-4 5-5-4-5 6-5 2-4 2-5-4-5-5-5 15-5 10-4 8z"/><path transform="translate(244.6 187.9)" d="M960 865l5-8 5-10 4-15 5 5 5 4 5-2 5-2 4-6 5 3 5-4 5-4 4-3 5 11 5 9 5-3 4-6 5 0 5-5 5-4 5-8 4-9 5 1 5 7 5-2 4-9 5-10 5-19 5 7 5-13 4 3 5 2 5-2 5 6 4 1 5 7 5-4 5-3 5-1 4-3 5-3 5-2 5-7 4-4 5-8 5 4 5 2 5-12 4 1 5 1 5-9 5-4 4-9 5 7 5 0 5-5 4-7 5-10 5-4 5 6 5 5 4 2 5 8 5-3 5 0 4-11 5 7 5-1 5-15 5-7 4 2 5-3 5-3 5-14 4-2 5-8 5-15 5-14 5-5 4-12 4 35-5 1-5 4-5 14-4 4-5 6-5 6-4 10-5 11-5 6-5 4-4 13-5 2-5-4-4-2-5-1-5-3-5 3-4-4-5-5-5-10-4-3-5 5-5 8-5 11-4 8-5-4-5 1-4-4-5 4-5 8-5 15-4 2-5-3-5 2-5 0-4-7-5 7-5 11-4 2-5 6-5 0-5 1-4 9-5 1-5-3-4 1-5-8-5-5-5-5-4-2-5 8-5-1-4 23-5 2-5 11-5 8-4 0-5-3-5-2-4 11-5 4-5 11-5-6-4-5-5 12-5 5-4-4-5 0-5-2-5-7-4-11-5-11-5 4-4 11-5 15-5 11-5 2-4 10-5 5z"/><path transform="translate(250.2 192.1)" d="M962 867l5-6 5-9 5-2 4-11 5-15 5-11 4-4 5 11 5 11 5 7 4 2 5 0 5 4 4-5 5-12 5 5 5 6 4-11 5-4 5-11 4 2 5 3 5 0 5-8 4-12 5-2 5-22 4 1 5-9 5 3 5 5 4 5 5 8 5-1 4 3 5-1 5-9 5-1 4 0 5-6 5-2 4-11 5-7 5 7 5 0 4-2 5 3 5-2 5-15 4-8 5-4 5 4 4-2 5 5 5-8 5-11 4-8 5-5 5 3 4 10 5 5 5 4 5-3 4 3 5 1 5 2 4 4 5-2 5-13 5-4 4-6 5-11 5-10 4-6 5-6 5-4 5-14 4-4 5-1 3 14-5 4-4 12-5 0-5-2-4 9-5 14-5 14-4 8-5 5-5 11-4 0-5 2-4-3-5-4-5-4-4 1-5 3-5-10-4-3-5-7-5-11-4 10-5 11-5 0-4-2-5 8-5 4-4-4-5-3-5 5-4 19-5-1-5-3-4 9-5-4-4-1-5 15-5 2-4 3-5 1-5 5-4 13-5 4-5-3-4-8-5-4-5-4-4 2-5 0-5-1-4 10-5 7-5 4-4 6-5 3-4 2-5 2-5-2-4-5-5 10-5-4-4 9-5 9-5-5-4 8-5 12-5-1-4 6-5 0-5-14-4-17-5-20-5-1-4 28-5 24-4 10-5 11-5 0-4-1z"/><path transform="translate(255.8 196.4)" d="M965 864l5 1 4-1 5-10 5-10 4-24 5-28 5 1 4 20 5 16 5 15 4 0 5-6 4 1 5-12 5-8 4 5 5-9 5-9 4 4 5-10 5 5 4 2 5-2 5-2 4-3 5-6 5-4 4-7 5-10 5 1 4 0 5-2 4 3 5 5 5 8 4 3 5-4 5-13 4-5 5-1 5-3 4-2 5-15 5 1 4 4 5-9 5 3 4 1 5-19 5-6 4 4 5 4 4-4 5-8 5 2 4 0 5-11 5-10 4 11 5 7 5 3 4 10 5-3 5-1 4 4 5 4 5 3 4-2 5 0 5-11 4-5 5-8 5-14 4-14 5-9 4 2 5 0 5-12 4-4 3 16-5 5-4 7-5 4-4-1-5 10-4 10-5 9-5 4-4 13-5 4-4-4-5-4-4 2-5-1-5 1-4 1-5-11-4-1-5 2-5-2-4 9-5-4-4-1-5 4-4-1-5 3-5 5-4 4-5-5-4-1-5 6-4 9-5 0-5-3-4 3-5-2-4 11-5 7-4 4-5 7-5 2-4 4-5 6-4-5-5-7-4-9-5 3-5 5-4 6-5 6-4 8-5 4-5 2-4-2-5 1-4-1-5-2-4-3-5 3-5-2-4 5-5 13-4 5-5-5-4 2-5 9-5 5-4 0-5 13-4-6-5 1-4-15-5-11-5 12-4 24-5 14-4 6-5 2-4 2z"/><path transform="translate(261.3 200.7)" d="M968 869l5-2 4-3 5-5 4-15 5-24 4-11 5 11 5 15 4-1 5 6 4-13 5 0 4-5 5-9 5-2 4 5 5-6 4-12 5-5 4 2 5-3 5 3 4 2 5 1 4-1 5 2 5-2 4-4 5-8 4-6 5-6 4-5 5-4 5 10 4 7 5 5 4-6 5-4 4-2 5-7 5-4 4-7 5-11 4 2 5-3 4 3 5 0 5-9 4-6 5 1 4 5 5-4 4-5 5-3 5 1 4-4 5 1 4 4 5-9 5 2 4-2 5 1 4 11 5-2 4 0 5 1 5-2 4 3 5 5 4-4 5-13 4-4 5-9 5-11 4-9 5 1 4-4 5-7 4-5 3 21-5 1-4 0-5-1-4 5-5 3-4 5-5 22-4 6-5 0-4-3-5-6-4-5-5 8-4 4-5 1-4 1-5-10-4 2-5 4-4 1-5 4-4 8-5-3-4-3-5 0-4-5-5 14-4 3-5-3-4 2-5 2-4-5-5 2-4 4-5-1-4 5-5 4-4 12-4-3-5 9-4 5-5 4-4 1-5-5-4 5-5-2-4-9-5 5-4 7-5 8-4 3-5 12-4 1-5-2-4-2-5-9-4-8-5-6-4-1-5-2-4 9-5 7-4 7-5 3-4 2-5 5-4 8-5 7-4 5-5 7-4-3-5-2-4 2-5 1-4 16-5 7-4-7-5 2-4 13z"/><path transform="translate(266.9 205.0)" d="M971 864l5-13 4-2 5 7 4-7 5-16 4-1 5-3 4 3 5 3 4-7 5-5 4-7 5-8 4-5 5-2 4-3 5-7 4-7 5-9 4 2 5 1 4 6 5 8 4 9 5 2 4 2 5-1 4-12 5-3 4-8 5-7 4-5 5 8 4 3 4-5 5 5 4-1 5-4 4-5 5-9 4 3 5-12 4-4 5-5 4 1 5-5 4-1 5 5 4-2 5-2 4 3 5-3 4-14 5 5 4 0 5 3 4 3 5-8 4-4 5-1 4-4 5-2 4 9 5 0 4-1 5-4 4-8 5 4 4 7 5 3 4 0 5-6 4-22 5-5 4-3 5-5 4 1 5 0 4-1 2 2-5 1-4-1-4-1-5 12-4 15-4 7-5 0-4 1-5 1-4-1-4-5-5 7-4 0-5 4-4 1-4 0-5 3-4 2-5-1-4 4-4-1-5 2-4-3-5-1-4 7-4 5-5 3-4 0-5 4-4-8-4 8-5-4-4-4-5 4-4 9-4-3-5 4-4 0-5 2-4 10-4 2-5 6-4-2-5 9-4-1-4-2-5-1-4 6-4 2-5 0-4 9-5-2-4 1-4 7-5 4-4 0-5-13-4-15-4-5-5-7-4 8-5 11-4 1-4 10-5 7-4 4-5 2-4 4-4 6-5 12-4-1-5 7-4-3-4 13-5 8-4 1-5 5-4-6-4 6z"/><path transform="translate(272.4 209.2)" d="M975 858l4-6 5 6 4-5 5-2 4-7 4-13 5 3 4-7 5 1 4-12 4-6 5-4 4-2 5-5 4-6 4-10 5-1 4-11 5-8 4 7 4 5 5 15 4 13 5 0 4-4 4-7 5-1 4 1 5-9 4 1 4-3 5-5 4 1 5 2 4 1 4-9 5 2 4-6 5-2 4-10 4-2 5 0 4-4 4 3 5-9 4-4 5 4 4 4 4-8 5 8 4-4 5 0 4-3 4-5 5-7 4 1 5 3 4-2 4 1 5-4 4 1 5-2 4-3 4 0 5-1 4-5 5 1 4-7 4 5 5 1 4-1 5-1 4 0 4-7 5-15 4-12 5 1 4 1 4-1 2-7-5 7-4 10-4-1-5 17-4 6-4 7-4-3-5-11-4 9-4-3-5 6-4 3-4-8-4 6-5 5-4-2-4 1-5-4-4-2-4 7-4 5-5 4-4-2-4 9-5-1-4 11-4 7-4 0-5-1-4-10-4-4-5-6-4 5-4 7-4 3-5 5-4-8-4 6-5 5-4 6-4 5-4 6-5-1-4 10-4-3-5 2-4 12-4-1-4 4-5-4-4 5-4-1-5-2-4 6-4 6-4-8-5-3-4-7-4-2-5-10-4-1-4 11-4 0-5 4-4 10-4-5-5 1-4 7-4 1-5 12-4 15-4 4-4 10-5 8-4 4-4 4-5-5-4 1-4-3z"/><path transform="translate(278.0 213.5)" d="M979 852l5 3 4-1 4 5 4-4 5-4 4-8 4-10 5-5 4-14 4-12 5-1 4-7 4-1 4 5 5-10 4-4 4 0 5-11 4 1 4 10 4 2 5 7 4 3 4 8 5-6 4-6 4 2 4 1 5-5 4 4 4-4 5 1 4-12 4-2 4 3 5-10 4 1 4-6 5-5 4-6 4-5 4-6 5 7 4-4 4-3 5-7 4-5 4 6 4 4 5 10 4 1 4 0 5-7 4-11 4 1 4-9 5 2 4-4 4-5 5-7 4 2 4 4 4-1 5 2 4-5 4-6 5 8 4-3 4-6 4 2 5-8 4 10 4 4 5-7 4-6 4-17 4 0 5-9 4-7 1 25-4-1-5 1-4 0-4 5-4 10-4 0-4 2-5-6-4 7-4 0-4-1-4-12-4 4-5 13-4 1-4 3-4 0-4 8-4-4-5 0-4 8-4-3-4 0-4 9-4 8-4 5-5 1-4-2-4-3-4-1-4-9-4-16-5 3-4 9-4 14-4-1-4 1-4 6-5 8-4 5-4 9-4 1-4 2-4 5-5 7-4 8-4 2-4-2-4 4-4-10-5 2-4 1-4 0-4 3-4 9-4-2-5 1-4-5-4-4-4 4-4 0-4-8-5-4-4 4-4 0-4 10-4 2-4-4-5 7-4 7-4 8-4 12-4 3-4 12-5 10-4 2-4 3-4-2-4 0z"/><path transform="translate(283.6 217.8)" d="M984 857l4 0 4 2 5-3 4-2 4-10 4-12 4-3 4-12 5-8 4-7 4-7 4 4 4-2 4-10 5-1 4-3 4 4 4 8 4 0 4-4 5 4 4 5 4-1 4 2 4-9 4-3 5 0 4-1 4-2 4 10 4-4 4 2 5-2 4-8 4-7 4-5 4-2 4-1 5-9 4-5 4-8 4-6 4-1 4 1 5-14 4-9 4-3 4 16 4 9 4 1 5 3 4 2 4-1 4-6 4-7 4-9 5 0 4 3 4-8 4 0 4 4 4-8 5 0 4-3 4-1 4-13 4-4 4 11 5 2 4 0 4-7 4 5 4-1 4 0 5-10 4-5 4 0 4-1 4 0 0 10-4-6-4-1-4 7-4 3-4 9-4 1-4 5-4-3-4-4-4-1-4-13-4-9-4 12-4 10-4 12-4 6-4 6-4-2-4-4-4 8-4 4-4-10-4 6-4 6-4 6-4 7-4 2-4-3-4-9-4-6-5-7-4-6-4-2-4 7-4-1-4 10-4 8-4 10-4 10-4 1-4-2-4 15-4 9-4 3-4 1-4 6-4 1-4-8-4 3-4-2-4-8-4 1-4-1-4 9-4 14-4 3-4-2-4 1-4 2-4-8-4 3-4-4-4-10-4 15-4 4-4-2-4-5-5 0-4 0-4 10-4 3-4 5-4 13-4 6-4 2-4-2-4 8-4 8-4-1z"/><path transform="translate(289.1 222.0)" d="M990 850l4 1 4-9 4-7 4 2 4-2 4-7 4-12 4-5 4-3 4-10 4 0 4 0 4 5 4 2 4-4 4-15 4 10 4 4 4-3 4 8 4-2 4-1 4 2 4-3 4-14 4-9 4 1 4-1 4 8 4 2 4-3 5 8 4-1 4-6 4-1 4-3 4-9 4-15 4 2 4-1 4-10 4-10 4-8 4-10 4 1 4-7 4 2 4 6 4 7 4 6 4 9 4 3 4-2 4-7 4-6 4-6 4-6 4 10 4-4 4-8 4 4 4 2 4-6 4-6 4-12 4-10 4-12 4 9 5 13 4 1 4 4 4 3 4-5 4-1 4-9 4-3 4-7 4 0 4 7-1 2-4 5-4 4-4-1-3 4-4 5-4 0-4-6-4-7-4 3-4-2-3-6-4 4-4 7-4 15-4 6-4 7-4-7-4 2-3 4-4 6-4-1-4-6-4 2-4 10-4 5-4-11-3-1-4 2-4-5-4-4-4-3-4 4-4-7-3-3-4 6-4 10-4 6-4 13-4 10-4 5-4 2-3-1-4 7-4 9-4 5-4 1-4 2-4-4-3-4-4-8-4-13-4-14-4 9-4 15-4 18-4 12-3 5-4 3-4 9-4-7-4 2-4 4-4-8-4 0-3 6-4 3-4 4-4-1-4-4-4-2-4 0-3 12-4 10-4 1-4-5-4 2-4 8-4 1-4 7z"/><path transform="translate(294.7 226.3)" d="M996 847l4-6 4-1 3-8 4-2 4 5 4-1 4-10 4-12 4 0 4 2 3 4 4 1 4-4 4-3 4-6 4 0 4 8 4-4 3-2 4 7 4-9 4-3 4-5 4-12 4-18 3-15 4-9 4 14 4 13 4 8 4 4 4 4 4-2 3-1 4-5 4-9 4-7 4 1 4-2 4-5 4-11 3-12 4-6 4-10 4-6 4 3 4 7 4-5 3 4 4 4 4 5 4-2 4 1 4 11 4-5 4-10 3-2 4 6 4 1 4-6 4-4 4-2 4 7 3-7 4-6 4-15 4-7 4-4 4 6 4 2 4-3 3 7 4 6 4 0 4-5 4-4 4 1 4-4 4-5-2 13-4 2-3 2-4-2-4-3-4 3-3 3-4-3-4-3-3-4-4-2-4-5-3 5-4 9-4 7-3 11-4 2-4 0-3 6-4 0-4-3-4-2-3 1-4 6-4 13-3 4-4-6-4-5-3 3-4-4-4-1-3-1-4-6-4 3-3 0-4 0-4 4-4 7-3 0-4 6-4 13-3 6-4 0-4-6-3 8-4 3-4 12-3 6-4-2-4-9-3-12-4-12-4-8-4-1-3 15-4 20-4 19-3 5-4 5-4 5-3 4-4 4-4-2-3-5-4 2-4 1-3 8-4 1-4-1-4 3-3 3-4 2-4 3-3 0-4 5-4 6-3-3-4-6-4 4-3 4z"/><path transform="translate(300.2 230.6)" d="M1003 840l4-3 3-4 4 6 4 3 3-6 4-5 4 0 4-3 3-2 4-3 4-3 3 1 4-1 4-8 3-1 4-2 4 5 3 2 4-4 4-4 3-5 4-5 4-5 4-19 3-20 4-15 4 1 3 8 4 12 4 12 3 9 4 2 4-6 3-12 4-4 4-7 3 6 4 0 4-6 4-13 3-6 4 0 4-7 3-4 4 0 4 0 3-3 4 6 4 1 3 1 4 4 4-3 3 5 4 6 4-4 4-13 3-6 4-2 4 3 3 3 4 0 4-6 3 0 4-2 4-11 3-7 4-9 4-5 3 5 4 2 4 4 4 3 3 3 4-3 4-3 3 3 4 2 4-2 3-3-2 5-4-1-3-3-4 5-3 2-4-4-3-3-4 2-3-3-4-4-3-2-4-1-3 3-4 7-3 7-4 3-3 6-4 2-3 0-3 1-4 5-3 14-4 9-3 6-4 0-3-9-4 3-3-3-4-1-3 0-4-3-3-1-4 5-3 0-4-2-3-4-4-2-3-1-4 8-3 8-3 5-4 5-3 5-4 2-3 3-4 10-3 7-4 2-3 0-4-2-3-1-4-8-3-4-4 3-3 5-4 8-3 4-4 7-3 5-4 3-3 3-3 9-4 3-3 0-4-4-3-8-4 6-3 3-4 5-3 1-4 4-3 5-4-3-3 6-4 1-3 0-4-3-3 2-4-3-3-3z"/><path transform="translate(305.8 234.8)" d="M1011 824l4 3 3 3 4-2 3 3 4 0 3-1 4-6 3 3 4-5 3-4 4-1 3-5 4-4 3-5 4 8 3 4 3 0 4-3 3-9 4-3 3-3 4-5 3-7 4-4 3-8 4-5 3-3 4 4 3 8 4 1 3 2 4 0 3-2 4-7 3-10 4-3 3-2 3-5 4-5 3-5 4-8 3-8 4 1 3 2 4 4 3 2 4 0 3-5 4 1 3 3 4 0 3 1 4 3 3-3 4 9 3 0 4-6 3-9 3-14 4-5 3-1 4 0 3-2 4-6 3-3 4-7 3-7 4-3 3 1 4 2 3 4 4 3 3-2 4 3 3 4 4-2 3-5 4 3 3 1-4 0-4-2-3 5-3-3-3-5-3-1-4 1-3 1-3-10-3-2-4 15-3 1-3 7-3 5-3-3-4-1-3-1-3 7-3 5-4 12-3 12-3 6-3 10-4 1-3-6-3 1-3 2-3-7-4-2-3 1-3 1-3 1-4 5-3 0-3-7-3-5-3 1-4 10-3 11-3 3-3-4-4 3-3 4-3 5-3 6-3 5-4 5-3 8-3 6-3 1-4-7-3 7-3-2-3-4-3 2-4 1-3 2-3 6-3 0-4-1-3-8-3-2-3 10-4 7-3 1-3-1-3-2-3 3-4 4-3 4-3-2-3-4-4 5-3 6-3 3-3 3-3 3-4-4-3 4-3 4z"/><path transform="translate(311.4 239.1)" d="M1021 832l4-4 3-4 3 4 3-3 3-3 4-3 3-6 3-5 3 4 4 2 3-4 3-4 3-3 3 2 4 1 3-1 3-7 3-10 4 1 3 9 3 1 3 0 3-6 4-2 3-1 3-2 3 4 4 2 3-7 3 6 3 0 4-6 3-8 3-5 3-5 3-6 4-5 3-4 3-3 3 4 4-3 3-11 3-10 3-1 3 5 4 7 3-1 3-4 3-1 4-1 3-1 3 2 3 7 3-2 4-1 3 6 3-1 3-10 4-6 3-12 3-12 3-5 3-7 4 1 3 1 3 3 3-5 4-7 3-1 3-15 3 2 4 10 3-1 3-1 3 1 3 5 4 3 3-5 3 2-6-3-3 2-3 2-3 4-3 1-3 0-3 5-3 6-3-2-3 1-3-2-3-2-2 6-3 6-3 1-3 0-3-5-3 22-3 14-3 1-3 4-3 3-3-4-3-1-2-3-3 3-3 6-3-1-3-4-3-1-3 6-3 6-3-2-3 1-3 0-3 1-3 0-2 0-3 4-3 2-3-1-3-2-3 5-3 5-3 1-3-1-3 5-3 10-3 7-2 0-3-2-3 0-3 5-3 0-3 0-3 3-3-2-3 2-3 6-3-1-3 6-2 3-3-3-3-1-3-5-3-4-3 0-3-2-3 0-3 8-3 5-3 2-3 6-2 3-3-5-3 4-3 5-3 1-3 0-3 5z"/><path transform="translate(316.9 243.4)" d="M1033 825l3-5 3 0 3-1 3-5 3-4 3 5 3-3 3-6 3-2 3-5 3-8 2 0 3 2 3 0 3 4 3 5 3 1 3 3 3-3 3-6 3 0 3-5 3-2 2 2 3-3 3 0 3 0 3-5 3-1 3 3 3 0 3-7 3-10 3-5 3 1 2-1 3-5 3-5 3 2 3 0 3-1 3-4 3 0 3 0 3-1 3 0 3-1 3 2 2-6 3-6 3 1 3 4 3 1 3-6 3-3 3 3 3 1 3 4 3-3 3-4 2-1 3-14 3-22 3 5 3 0 3-1 3-6 3-6 3 2 3 2 3-1 3 2 2-6 3-5 3 0 3-1 3-4 3-2 3-2-10 22-3-2-2 0-3 6-2 6-3-1-2-1-3 6-2 2-3 1-2 7-3 5-2 2-3 1-2 4-3 0-2 2-3 5-2 4-3 4-3 2-2-3-3-3-2 1-3 0-2 0-3-3-2 4-3 2-2-2-3-1-2 2-3 1-2 3-3 5-2 4-3 2-2 0-3 1-2 5-3 0-3-1-2 0-3 0-2-3-3-6-2-1-3 5-2 8-3 8-2 6-3 8-2 1-3-3-2 2-3 1-2-4-3-8-2-2-3 3-2 4-3 4-3 5-2 2-3 6-2 1-3-6-2 0-3 1-2-4-3 0-2 2-3 4-2 7-3 5-2 3-3 3-2-2-3 0-2 7z"/><path transform="translate(322.5 247.7)" d="M1049 820l3-7 2 0 3 2 2-3 3-3 2-5 3-7 2-4 3-2 2 0 3 4 2-1 3 0 2 6 3-1 2-6 3-2 2-5 3-4 2-4 3-3 3 2 2 7 3 5 2-1 3-3 2 4 3-1 2-8 3-6 2-8 3-8 2-5 3 1 2 6 3 3 2 0 3 0 2 1 3 0 2-5 3-1 3-1 2-1 3-4 2-5 3-3 2-1 3-2 2 1 3 2 2-2 3-4 2 3 3 0 2 0 3-1 2 3 3 3 2-2 3-4 2-5 3-5 3-1 2-1 3-3 2-1 3-2 2-5 3-7 2-1 3-2 2-6 3 1 2 1 3-6 2-6 3-1 2 3-17 11-2 1-1 5-2 3-2 2-2-1-2 0-2 0-2 3-2 5-2 5-2 3-2 3-2 0-2-1-2 2-2 4-2 2-2-1-2-3-2-3-2-3-2-1-2-2-1-2-2 0-2 2-2 5-2 7-2 7-2 4-2 3-2 4-2 5-2 4-2 1-2 0-2 1-2 2-2 1-2 1-2-1-2 0-2-1-2-3-1-7-2-9-2-5-2 1-2 4-2 7-2 3-2 5-2 10-2 7-2 2-2 3-2 4-2 1-2-4-2-8-2-7-2-5-2-5-2-2-2 1-1 3-2 6-2 9-2 8-2 4-2 7-2 5-2 4-2 2-2 0-2 1-2 2-2 3-2 2z"/></g></g><g filter="url(#tx)"><g transform="scale(0.5)" fill="url(#gh)" stroke="#201000" stroke-opacity="0.16" stroke-width="1.1" stroke-linejoin="round"><path transform="translate(16.7 12.9)" d="M2785 794l2-5 1-2 2 2 2 4 1 1 2-3 2-5 1-7 2-4 1 0 2 0 2 3 1 3 2 1 2-3 1-1 2 4 2 3 1-3 2-6 2 1 1 3 2-1 1-2 2-2 2 0 1-1 2 0 2 0 1-1 2-2 2-5 1-6 2-4 1-4 2-6 2-4 1-3 2-3 2-5 1-1 2 7 2 5 1 1 2-4 1-4 2-5 2-3 1-1 2 3 2 3 1 0 2-1 2-2 1-3 2-3 1-2 2 0 2 3 1 1 2 0 2-1 1-2 2-1 2 0 1 1 2 1 1 1 2-1 2-7 1-13 2-10 2 2 1 4 2 3 2 1 1 2 2 3 1 1 35-4-3 0-2-3-2-1-3 7-2 3-2-2-3 3-2 4-3-1-2-4-2 2-3 3-2 1-2-2-3 3-2 1-2 0-3 3-2 4-3 4-2-1-2 0-3 3-2 3-2-1-3 3-2 7-2 3-3-2-2-6-3 2-2 6-2-3-3-1-2 3-2 0-3 1-2 4-2 3-3-3-2 3-3 4-2-4-2 1-3 9-2 4-2 4-3 6-2 3-2 2-3 0-2-3-3 0-2 5-2 4-3 1-2 2-2 2-3-3-2-1-2 5-3 1-2 1-2 5-3 3-2 2-3 3-2-1-2-1-3 3-2 0-2-4-3-7-2 4-2 5-3-2-2 2-3 0-2-4z"/><path transform="translate(22.3 17.1)" d="M2756 799l3 4 2 0 3-2 2 2 2-5 3-4 2 7 2 4 3 0 2-4 2 2 3 1 2-3 3-2 2-3 2-5 3-1 2-1 2-5 3 0 2 4 2-2 3-2 2-1 3-4 2-5 2 0 3 3 2 0 2-2 3-3 2-6 2-4 3-4 2-9 3-1 2 4 2-4 3-3 2 3 2-3 3-4 2-1 2 0 3-3 2 1 3 3 2-6 2-2 3 6 2 2 2-3 3-7 2-3 2 0 3-2 2-3 2 0 3 1 2-5 3-3 2-3 2 0 3-1 2-3 2 2 3-1 2-3 2-2 3 4 2 1 3-4 2-3 2 2 3-3 2-7 2 1 3 3 2 0 24-1-3 4-3-2-3 1-3 6-2-4-3-9-3-3-3 6-3 6-3 3-2-5-3-2-3 16-3 3-3-3-2-3-3 2-3 5-3 4-3-1-3 3-2 2-3-1-3 5-3 6-3 2-2 1-3 0-3 5-3-1-3 0-3-2-2-2-3 8-3 3-3-2-3-3-2 4-3 6-3 2-3-2-3 5-2 3-3 1-3 7-3 10-3 7-3 0-2-6-3-1-3 3-3 1-3-2-2 0-3 0-3 4-3 9-3 3-3 4-2-1-3 4-3-2-3-9-3 1-2 5-3 1-3 7-3 5-3-7-3-7-2-2-3 6-3 3-3-3-3-3-2 2-3 1-3 4-3-2z"/><path transform="translate(27.9 21.4)" d="M2739 801l2 2 3-4 3-1 3-2 3 3 2 3 3-3 3-6 3 2 3 7 3 7 2-5 3-7 3-1 3-5 3-1 2 9 3 2 3-4 3 1 3-4 3-3 2-9 3-4 3 0 3 0 3 1 2 0 3-3 3 1 3 6 3 0 2-7 3-11 3-6 3-1 3-3 3-5 2 1 3-1 3-6 3-4 3 3 2 2 3-3 3-8 3 2 3 1 3 1 2 1 3-5 3 0 3-1 3-3 2-5 3-5 3 1 3-2 3-3 3 1 2-4 3-5 3-2 3 3 3 3 2-3 3-16 3 2 3 5 3-3 3-6 2-6 3 3 3 9 3 4 3-6 2-1 3 2 3-4 19-4-3 2-3-2-3-2-4-8-3 10-3 4-3 2-3 12-3 4-4-2-3-6-3 4-3 3-3 2-3 7-3 3-4 2-3-5-3-2-3-2-3 2-3 8-4 2-3-1-3-6-3 9-3 10-3 2-3-3-4 3-3-5-3 0-3 5-3 2-3 8-4 0-3 1-3 4-3 1-3 2-3-6-4-1-3 14-3 6-3 5-3 1-3 1-3-2-4-1-3-2-3 5-3 1-3 3-3 0-4 12-3 8-3 3-3-6-3 1-3-2-3-1-4 9-3 4-3 3-3 1-3-6-3 0-4-10-3-4-3 12-3 5-3 1-3 0-4 0-3-2-3-15-3 13-3 9-3 7z"/><path transform="translate(33.5 25.7)" d="M2725 818l3-7 3-9 4-13 3 14 3 3 3 0 3 0 3-1 4-5 3-12 3 4 3 10 3 0 3 6 3-1 4-3 3-4 3-9 3 1 3 2 3-1 4 6 3-3 3-8 3-12 3 0 3-3 4-1 3-5 3 2 3 1 3 2 3-1 3-2 4-4 3-6 3-15 3 2 3 6 3-2 4-1 3-4 3-1 3 0 3-8 3-3 3-4 4 0 3 4 3-2 3 3 3-2 3-10 4-9 3 6 3 1 3-2 3-8 3-2 3 2 4 2 3 5 3-2 3-3 3-7 3-3 4-2 3-4 3 6 3 2 3-5 3-11 4-2 3-4 3-10 3 8 3 2 3 2 3-2 17-10-4 8-3 7-3-6-4 6-3 0-4 0-3 2-4-2-3-4-3 15-4 3-3 6-4 3-3 2-4 3-3 1-3 6-4 5-3 3-4-3-3-10-4-4-3 5-3 7-4 1-3 2-4-4-3 1-4 5-3 3-3 2-4-1-3 0-4 0-3 4-4 15-3 4-3-7-4 5-3 4-4 3-3-5-4 10-3 3-3 9-4 1-3-6-4 10-3-14-4-3-3 13-3 8-4 3-3-4-4 2-3-9-4 14-3-1-3-4-4 6-3 12-4 4-3 7-4 2-3-2-3-1-4 1-3-3-4-3-3-1-4 3-3 0-3 5-4-2-3-3-4 6-3 3-4 3-3-2z"/><path transform="translate(39.1 30.0)" d="M2714 818l4 2 3-3 4-3 3-6 4 3 3 2 3-5 4 0 3-3 4 1 3 3 4 3 3-1 3 1 4 2 3-2 4-7 3-4 4-12 3-6 3 4 4 1 3-14 4 8 3-1 4 4 3-3 3-8 4-13 3 3 4 14 3-10 4 5 3 0 3-9 4-3 3-10 4 5 3-3 4-4 3-5 3 7 4-5 3-14 4-4 3 0 4 0 3 0 3-1 4-3 3-5 4-1 3 4 4-2 3-2 3-6 4-5 3 3 4 11 3 3 4-3 3-5 3-6 4-1 3-3 4-2 3-3 4-6 3-3 3-15 4 4 3 2 4-3 3 1 4 0 3-6 3 6 4-7 3-8 15-7-4-3-4 9-3 3-4 6-3 13-4 6-4-1-3-14-4 9-4-1-3-4-4 11-4 6-3-1-4 2-4-6-3 9-4 10-4 7-3 2-4 2-4 0-3-6-4-5-4 10-3 9-4-2-4-5-3 9-4 2-4 0-3-7-4 5-4 0-3 7-4 14-3 4-4 2-4-7-3 20-4-1-4 3-3 4-4-1-4 4-3 3-4 0-4-2-3-1-4-5-4 1-3 3-4-10-4 19-3 2-4-7-4 3-3 1-4 6-4 0-3 10-4 6-4 3-3 0-4-1-4 2-3-1-4 4-3 2-4-9-4 7-3 4-4-3-4 2-3 6-4 0-4-4-3 13-4-10z"/><path transform="translate(44.6 34.3)" d="M2705 821l4 10 4-13 3 4 4 0 4-6 3-2 4 2 4-3 3-7 4 8 4-1 3-4 4 1 4-2 3 0 4 1 4-3 3-6 4-10 4 0 3-6 4-1 3-3 4 7 4-2 3-19 4 10 4-3 3-1 4 5 4 1 3 2 4 0 4-3 3-4 4 1 4-4 3-3 4 0 4-20 3 7 4-2 4-3 3-14 4-7 4 0 3-5 4 7 4 0 3-2 4-9 4 5 3 2 4-9 3-10 4 4 4 6 3 0 4-1 4-2 3-7 4-10 4-9 3 5 4-1 4 1 3-6 4-11 4 3 3 2 4-9 4 14 3 1 4-6 4-13 3-6 4-3 4-9 3 3 13 0-3 3-4 3-4-1-4 7-4 2-4 7-4 9-3 3-4-1-4-4-4 4-4 17-4 3-3 0-4-7-4 6-4 6-4 2-4 0-4 8-3-6-4 0-4-1-4 3-4 3-4-5-3 1-4 10-4 8-4 4-4-3-4-1-4-1-3-12-4 21-4-2-4 6-4 12-4 2-4 6-3 6-4 0-4 8-4 5-4-4-4-1-3 2-4 7-4-5-4 1-4 0-4 5-4 6-3-2-4 6-4-8-4 11-4 1-4 1-4 7-3 5-4-4-4 2-4-1-4 2-4 0-3-1-4-1-4 8-4 7-4-3-4 0-4 5-3 2-4-3-4 10-4-5-4-5-4 3z"/><path transform="translate(50.2 38.6)" d="M2698 826l4-3 3 5 4 4 4-9 4 3 4-2 4-6 4 1 3 3 4-8 4-7 4 1 4 1 4 0 3-3 4 2 4-2 4 4 4-5 4-7 4-1 3-2 4-10 4 8 4-6 4 2 4-6 4-5 3 0 4-1 4 5 4-7 4-2 4 1 3 4 4-5 4-8 4 0 4-6 4-7 4-1 3-12 4-6 4 2 4-21 4 12 4 1 4 1 3 3 4-5 4-7 4-10 4-1 4 5 3-3 4-3 4 1 4 0 4 6 4-8 4 0 3-2 4-6 4-6 4 7 4 0 4-4 4-16 3-4 4 4 4 1 4-4 4-8 4-7 3-2 4-7 4 1 4-3 4-3 12 29-4-7-4-3-4-9-4-3-4 9-4 3-4 15-4 6-4 1-4 5-4 0-4 3-4 10-4 1-4-1-4 6-4 4-4 1-4 13-4-6-4-8-4-10-4-2-4 3-4 14-4-9-4 9-4 6-4-3-4 0-4 7-4 11-5 2-4 3-4 1-4 0-4 6-4 0-4 5-4 8-4 4-4 6-4 3-4-3-4-4-4 8-4 8-4 3-4-11-4 6-4-11-4 6-4 7-4-10-4 14-4-1-4 12-4 5-4-3-4 1-4-8-4 4-4 4-4 5-4 2-4-1-4 4-4 7-4-5-4 2-4 1-4-8-4 13-4 2-4-1-4-1-4 1-4 9-4-3z"/><path transform="translate(55.8 42.9)" d="M2691 828l4 3 4-9 4-1 4 0 4 2 4-2 4-13 4 8 4-1 4-2 4 5 4-7 4-4 4 1 4-2 4-5 4-4 4-4 4 8 4-1 4 3 5-5 4-12 4 0 4-13 4 10 4-7 4-6 4 11 4-7 4 12 4-3 4-8 4-9 4 5 4 3 4-3 4-6 4-5 4-7 4-5 4 0 4-6 4 0 4-1 4-4 4-1 4-11 4-7 4 0 4 3 4-6 4-9 4 9 4-14 4-3 4 2 4 10 4 8 4 6 4-13 4-2 4-4 4-5 4 1 4-1 4-10 4-3 4 0 4-5 4-1 4-7 4-14 4-3 4-9 4 3 4 9 4 3 4 7 12-9-4 10-5 3-4 1-4-8-4-5-4 5-4 5-5 9-4-2-4 11-4 8-4-4-4-1-4-14-5 14-4 15-4 8-4 2-4-7-4-3-5 8-4 5-4-8-4-2-4 7-4 6-5 1-4 5-4-17-4 13-4 6-4 13-5 9-4-4-4-1-4 7-4 8-4 5-5-9-4 13-4 1-4 1-4-1-4-1-5-4-4 6-4 13-4 1-4-8-4-4-4-8-5 9-4 6-4 0-4 7-4 11-4 4-5-3-4-4-4-4-4 6-4 1-4 12-5 5-4-2-4-1-4 3-4 5-4-6-5-3-4 2-4-3-4 4-4-2-4 8-5 10-4 5-4-5-4-2z"/><path transform="translate(61.4 47.2)" d="M2685 826l5 2 4 4 4-4 4-10 4-8 4 2 5-4 4 3 4-2 4 3 4 6 4-5 5-3 4 0 4 3 4-5 4-12 4-1 4-6 5 4 4 4 4 3 4-4 4-11 4-7 5 0 4-6 4-9 4 8 4 4 4 8 5-1 4-13 4-6 4 4 4 1 4 1 5-1 4-1 4-13 4 9 4-5 4-8 5-7 4 1 4 4 4-9 4-13 4-6 5-13 4 17 4-5 4-1 4-6 4-7 4 2 5 8 4-5 4-8 4 3 4 7 4-2 5-8 4-15 4-15 4 15 4 1 4 4 5-8 4-11 4 1 4-8 4-5 4-6 5 6 4 8 4-1 4-3 4-10 11 0-4 5-5-1-4 0-4 12-5 2-4 1-4 7-4-10-5 12-4 2-4 4-5 0-4-1-4 3-5-3-4 3-4 13-4 12-5-7-4-9-4 1-5 8-4 5-4 7-4 2-5-1-4 2-4 0-5 2-4-4-4 14-4 8-5 8-4-2-4-8-5 7-4 0-4 10-4 5-5-2-4 12-4 2-5-8-4-7-4 2-5-3-4 16-4 7-4 2-5-13-4 7-4 6-5 7-4-3-4 6-4 3-5-9-4 0-4 11-5 7-4-2-4-11-4 20-5 5-4-5-4-7-5 3-4 4-4-3-4 10-5 3-4 0-4-2-5 1-4 5-4 6-4 7-5 8-4-2z"/><path transform="translate(67.0 51.4)" d="M2680 841l5 2 4-8 4-7 5-7 4-4 4-1 4 2 5 0 4-4 4-9 5 3 4-4 4-3 4 7 5 5 4-5 4-20 5 11 4 2 4-7 4-11 5 0 4 8 4-2 5-6 4 3 4-7 4-6 5-7 4 13 4-2 5-7 4-16 4 3 4-2 5 7 4 8 4-2 5-12 4 2 4-5 5-10 4-1 4-6 4 8 5 2 4-8 4-8 5-14 4 4 4-2 4 0 5-2 4 1 4-2 5-7 4-5 4-8 4-1 5 8 4 8 4-12 5-13 4-3 4 3 4-3 5 1 4 0 4-4 5-2 4-12 4 10 5-7 4-1 4-2 4-12 5 0 4 1 4-6 10 2-4 5-5 6-4 4-4 2-5 2-4 1-5 0-4 11-4 3-5 7-4-1-5 1-4-1-4-9-5-2-4 5-5 13-4 11-4 6-5 3-4-2-5-4-4 5-4 5-5-10-4 16-5 9-4-3-4 1-5-10-4 8-5-6-4 12-4-5-5-7-4 4-5 14-4 9-4 0-5 4-4 11-5 8-4-10-4-10-5 3-4-1-5 11-4 9-4-3-5-2-4 7-5 4-4 4-4 8-5 1-4 1-5-6-4 2-4 10-5 10-4-3-5 0-4 2-4 2-5-2-4 2-5-1-4 5-4 9-5-3-4-1-5-1-4-12-4 15-5 10-4-2-5 12-4 5-4 10z"/><path transform="translate(72.5 55.7)" d="M2676 855l4-10 5-5 4-13 5 3 4-10 4-15 5 12 4 0 5 2 4 3 4-9 5-5 4 1 5-2 4 2 4-2 5-2 4 0 5 3 4-11 4-9 5-2 4 6 5-1 4-1 4-8 5-4 4-4 5-7 4 2 4 3 5-9 4-12 5 2 4-3 4 10 5 10 4-8 5-11 4-5 4 1 5-10 4-13 5-4 4 7 4 5 5-12 4 6 5-8 4 10 4-1 5 3 4-9 5-16 4 10 4-6 5-4 4 4 5 2 4-3 4-6 5-11 4-13 5-5 4 2 4 9 5 1 4-1 5 1 4-7 4-3 5-11 4 0 5-1 4-2 4-2 5-5 4-5 5-5 9 1-4 4-5 9-4 12-5 8-4-7-5-4-4 5-5 0-4 7-5 3-4 7-5 4-4 6-5-5-4-9-5-2-4 11-5 10-4 7-5 8-4 6-5-3-4 4-5-1-4-12-5 6-4 8-5 3-4 10-5 0-4 0-5-2-4-7-5-6-4-11-5 13-4 7-5 13-4 4-5 1-4 13-5 10-4-2-5-7-4 2-5 9-4-11-5 0-4 2-5 7-4 6-5 5-4 1-5-4-4 16-5-6-4-5-5-3-4 14-5 2-4 2-5 7-4 0-5 0-4 4-5 8-4-1-5-3-4 2-5 0-4 0-5 9-4-1-5 2-4 11-5 8-4 4-5-1-4-10z"/><path transform="translate(78.1 60.0)" d="M2672 836l5 10 4 1 5-4 4-8 5-11 4-2 5 1 4-9 5 0 4-1 5-1 4 3 5 1 4-8 5-4 4-1 5 1 4-7 5-2 4-2 5-15 4 3 5 6 4 5 5-15 4 3 5-1 4-4 5-6 4-8 5-1 4-1 5 11 4-8 5-2 4 7 5 1 4-9 5-13 4-1 5-4 4-13 5-7 4-14 5 12 4 6 5 7 4 2 5 0 4 0 5-10 4-3 5-8 4-6 5 12 4 0 5-3 4 3 5-6 4-8 5-7 4-10 5-11 4 2 5 9 4 5 5-7 4-3 5-7 4-3 5-7 4 0 5-5 4 3 5 8 4-8 5-12 4-9 5-4 9 12-5 2-5 0-4 12-5 2-4 0-5-1-5 7-4 5-5-1-4-10-5 13-4 2-5 3-5 1-4 6-5 2-4 2-5 6-5 10-4-3-5 6-4 7-5-1-5 2-4-8-5 7-4 0-5 7-4-3-5 1-5 13-4-8-5 12-4-6-5-4-5-4-4 8-5 10-4 3-5-1-5 2-4 7-5 4-4-10-5 10-4-1-5-2-5 3-4 2-5 4-4 9-5-3-5 5-4 6-5 7-4 1-5-3-4 2-5 6-5 9-4 2-5-8-4 11-5 7-5 3-4-10-5 1-4 4-5-3-5 4-4 13-5 5-4 0-5-5-4 11-5 5-5-2-4-13-5 18z"/><path transform="translate(83.7 64.3)" d="M2669 845l4-18 5 13 4 2 5-5 5-11 4 5 5 0 4-5 5-13 4-4 5 3 5-4 4-2 5 11 4-3 5-7 5-11 4 8 5-2 4-9 5-6 5-2 4 3 5-1 4-8 5-5 4-5 5 3 5-9 4-4 5-2 4-3 5 1 5 2 4-10 5 10 4-4 5-7 5-2 4 1 5-3 4-10 5-8 4 4 5 4 5 6 4-12 5 8 4-13 5-1 5 2 4-6 5 0 4-7 5 8 5-3 4 2 5-7 4-6 5 3 4-10 5-6 5-2 4-3 5-5 4-1 5-3 5-2 4-13 5 10 4 0 5-4 5-7 4 1 5 0 4-2 5-13 4 1 5-2 9 13-5-8-5 6-4 6-5 2-5 0-4-2-5 9-5 9-4 1-5-5-5 1-4 6-5 3-5-3-4 3-5 1-5 6-4 5-5 12-5 4-4-11-5 3-5 2-4 3-5 7-5 8-4-11-5-5-5-2-4 10-5 7-5 7-4 8-5 1-5 3-4-7-5-1-5 14-4 12-5-12-5-1-4 17-5-9-5 8-4 4-5-6-5 0-4 2-5 5-5 10-4-3-5 3-5 3-4 7-5 4-5-12-4 6-5 15-5 4-4 1-5 5-5 0-4-1-5 1-5-2-4 6-5-1-5 2-4 3-5-4-5 7-4 6-5 12-5 0-4-2-5-2-5 1-4 11-5 2z"/><path transform="translate(89.3 68.6)" d="M2666 846l4-2 5-11 5-1 4 2 5 2 5-1 4-11 5-6 5-7 4 4 5-3 5-2 4 1 5-6 5 2 4-1 5 1 5 0 4-5 5-1 5-5 4-14 5-6 4 12 5-4 5-7 4-3 5-3 5 3 4-10 5-5 5-2 4 0 5 6 5-4 4-8 5 9 5-17 4 0 5 13 5-12 4-14 5 1 5 7 4-3 5-1 5-8 4-7 5-7 5-10 4 2 5 4 5 12 4-8 5-8 5-2 4-2 5-3 5 11 4-4 5-12 5-5 4-6 5-1 5-3 4 3 5-3 5-6 4-1 5 4 5 0 4-9 5-9 5 2 4 0 5-2 5-6 4-6 5 7 8-4-4 9-5 4-5-4-5 4-4 5-5 2-5 4-5 6-4 2-5-1-5-6-4 15-5 1-5-14-5 19-4-11-5 13-5 4-5 7-4 2-5 6-5-2-5 2-4 2-5-8-5 10-4 1-5-2-5-8-5-3-4 13-5 11-5 9-5 10-4-10-5 1-5-5-5 4-4 13-5 8-5-3-4 4-5 10-5 1-5-10-4 12-5-2-5-5-5 11-4 0-5-3-5 0-5 3-4 8-5 5-5 3-4 9-5 0-5-2-5 2-4 5-5 3-5-7-5 10-4 5-5 0-5 6-4-2-5 4-5 3-5 0-4 2-5 2-5 9-5 4-4 0-5-9-5 18-5 3z"/><path transform="translate(94.9 72.9)" d="M2663 853l5-3 4-18 5 9 5 0 5-4 4-9 5-2 5-2 4 0 5-3 5-4 5 2 4-6 5 0 5-5 5-10 4 7 5-3 5-6 5-1 4 2 5 0 5-9 4-4 5-5 5-7 5-3 4 0 5 3 5 0 5-11 4 5 5 2 5-12 5 10 4-1 5-10 5-4 4 3 5-9 5-12 5-5 4 6 5-1 5 10 5-10 4-9 5-12 5-12 4 3 5 8 5 2 5-1 4-10 5 7 5-1 5-2 4 2 5-6 5-2 5-7 4-4 5-13 5 11 4-19 5 14 5-1 5-15 4 6 5 1 5-2 5-6 4-4 5-2 5-5 5-4 4 4 5-4 5-10 8 8-5-1-5 9-5-7-5 8-4 10-5 3-5 3-5 0-4-2-5-2-5 4-5 10-5-4-4 3-5 7-5-2-5 5-5 6-4 14-5 3-5 0-5 2-5-11-4 10-5 1-5-4-5 6-5-4-4 4-5-3-5 7-5 3-4 10-5 8-5 2-5-10-5 0-4 3-5 3-5 10-5 8-5 4-4 10-5-4-5-3-5 2-5 6-4 1-5-5-5 11-5-7-5 8-4-5-5 12-5 6-5-1-4 0-5 8-5 3-5-2-5 0-4-6-5 8-5-1-5 10-5 5-4-3-5 7-5 14-5-3-5-1-4-5-5 7-5-3-5 8-4-1-5 12-5-2-5-1z"/><path transform="translate(100.4 77.2)" d="M2661 842l4 2 5 2 5-12 5 0 5-7 4 3 5-7 5 5 5 0 4 4 5-14 5-7 5 3 5-5 4-10 5 1 5-8 5 6 5 0 4 2 5-3 5-8 5 0 5 1 4-6 5-12 5 5 5-8 4 7 5-11 5 5 5-1 5-6 4-2 5 3 5 4 5-10 5-4 4-8 5-10 5-3 5-3 5 0 4 10 5-2 5-8 5-10 5-3 4-8 5 4 5-5 5 5 4-6 5 4 5-1 5-10 5 11 4-3 5 1 5-3 5-14 5-6 4-5 5 2 5-7 5-4 5 5 4-10 5-4 5 2 5 2 5 0 4-3 5-3 5-10 5-8 4 7 5-9 5 1 8-2-5 10-5 7-5-4-5 6-5 6-4 7-5 4-5 5-5 1-5 3-5-2-4-3-5 1-5 0-5 7-5 17-5-1-5 2-4 11-5 1-5 12-5-12-5-9-5 1-4 0-5-6-5 7-5 11-5 6-5 3-4 4-5 10-5-2-5 1-5-17-5 10-5-5-4 9-5 4-5 7-5 11-5 4-5 4-4 4-5-9-5-2-5 7-5-3-5 2-4 12-5 6-5-7-5 5-5 9-5 0-5-2-4 4-5-5-5 5-5 15-5 1-5-2-4-2-5 9-5 2-5-1-5 7-5 12-4 4-5 2-5-4-5 6-5-1-5-7-5-4-4 11-5-2-5-3-5-6z"/><path transform="translate(106.0 81.4)" d="M2659 828l4 6 5 3 5 2 5-11 5 4 5 7 4 1 5-6 5 4 5-2 5-4 5-12 4-7 5 1 5-2 5-9 5 2 5 2 5-1 4-15 5-5 5 5 5-4 5 1 5 1 4-9 5-5 5 7 5-6 5-12 5-2 4 3 5-7 5 2 5 8 5-3 5-4 5-5 4-10 5-7 5-4 5-9 5 5 5-10 4 17 5-1 5 2 5-10 5-5 5-2 4-6 5-11 5-7 5 6 5 0 5-1 5 9 4 12 5-12 5-1 5-11 5-2 5 1 4-17 5-7 5 0 5-1 5 3 5 2 4-3 5-1 5-5 5-4 5-7 5-6 5-6 4 4 5-8 5-9 7 19-4 3-5-3-5 2-5 7-5 2-5 2-5 2-5-1-5 5-4 4-5 14-5 3-5 3-5-13-5 17-5 6-5-1-5 0-4 10-5 0-5-6-5 8-5 2-5-6-5-4-5 9-5-2-4 1-5 10-5 8-5-5-5 15-5-3-5 1-5 0-5-7-4 5-5 0-5 3-5 16-5 9-5-2-5-10-5-3-4 13-5-3-5 4-5-2-5 10-5-9-5 20-5-5-5 0-4 10-5-8-5 14-5-6-5-4-5 11-5 9-5 8-5-1-4 6-5-3-5 2-5 8-5 7-5 7-5-5-5 0-5 4-4 6-5 3-5-6-5 10-5-3-5-3-5-2-5 0z"/><path transform="translate(111.6 85.7)" d="M2657 840l5-1 5 3 4 3 5 2 5-9 5 5 5-3 5-5 5-4 5 0 5 4 4-6 5-7 5-8 5-2 5 3 5-7 5 2 5-8 5-9 4-11 5 4 5 6 5-14 5 8 5-10 5 0 5 5 4-20 5 9 5-10 5 2 5-4 5 2 5-12 5 3 5 10 4 2 5-10 5-15 5-4 5 1 5-6 5 8 5 0 5-1 4 3 5-15 5 5 5-8 5-10 5-1 5 2 5-9 5 4 4 6 5-2 5-8 5 5 5 0 5-9 5 0 5 1 5-6 4-17 5 12 5-2 5-3 5-14 5-4 5-5 5 1 5-2 4-2 5-2 5-7 5-2 5 3 5-3 7 0-5 3-5 6-5 10-5-3-5-12-5 5-5 3-4 9-5 8-5 4-5 6-5-3-5 10-5 7-5-7-5 6-5 1-5-1-5 10-5 2-5-13-4-1-5 6-5 9-5 3-5-4-5 2-5 7-5 3-5 12-5 1-5 3-5 4-5-2-4 8-5-4-5 5-5 7-5-3-5 3-5 5-5-6-5-1-5 8-5 3-5 6-5 0-4-1-5 1-5 4-5-2-5 9-5 5-5-4-5-2-5 7-5 9-5 0-5-1-5 6-4-3-5 12-5 6-5 3-5 5-5 2-5 3-5-1-5-1-5-5-5 12-5 0-5 4-5-3-4 5-5 3-5 5-5 2-5 3z"/><path transform="translate(117.2 90.0)" d="M2655 849l5-3 5-2 5-5 5-3 5-5 5 3 5-4 5 0 5-12 5 5 4 1 5 1 5-3 5-2 5-5 5-3 5-6 5-12 5 3 5-7 5 2 5 0 5-9 4-7 5 2 5 4 5-5 5-9 5 2 5-4 5-2 5 2 5 0 5-6 5-3 5-8 4 1 5 6 5-5 5-3 5 3 5-7 5-5 5 3 5-7 5 2 5-5 5-2 5-1 5-12 4-3 5-7 5-2 5 4 5-3 5-9 5-6 5 1 5 13 5-2 5-10 5 1 5-1 4-6 5 7 5-7 5-10 5 3 5-6 5-4 5-8 5-9 5-3 5-5 5 12 5 3 4-10 5-6 5-3 7 11-5-6-5 8-5 1-5 0-5-4-5 2-5 9-4 8-5 3-5 12-5 8-5-10-5 4-5 7-5-1-5 3-5 3-5 4-5 13-5-7-5-2-5-14-5 14-5-5-5 5-5-6-5-1-5 17-5 7-5 7-4 0-5 5-5 5-5-4-5 5-5 5-5 4-5 2-5-7-5-4-5 16-5 9-5 0-5-12-5 2-5 10-5 1-5-1-5-3-5 0-5 3-5 11-5 14-4 1-5-3-5-4-5 11-5 4-5 4-5 3-5-9-5 6-5 6-5 4-5 7-5-1-5-2-5 5-5 6-5-4-5 10-5-16-5 5-5 13-5 4-5 5-4 13-5-5-5 1z"/><path transform="translate(122.8 94.3)" d="M2654 850l5-1 5 5 5-13 5-5 5-4 5-13 5-5 5 16 5-10 5 3 5-5 4-5 5 2 5 1 5-7 5-4 5-6 5-6 5 9 5-3 5-4 5-4 5-11 5 4 5 3 5-1 5-14 5-11 5-3 5 0 5 3 5 1 5-1 5-10 4-2 5 12 5 0 5-9 5-16 5 4 5 7 5-2 5-4 5-5 5-5 5 3 5-4 5-5 5 0 5-7 5-7 5-17 5 1 5 6 5-5 5 5 5-14 4 14 5 2 5 7 5-13 5-4 5-3 5-3 5 1 5-7 5-4 5 9 5-7 5-12 5-3 5-8 5-9 5-2 5 4 5 0 5-1 5-8 5 6 6-2-5-5-5 3-5 3-5 9-5 7-5 7-5 4-5-3-5 1-5 12-5 6-5-4-5 1-5 2-5 6-5 7-4-1-5 9-5 15-5-8-5-4-5 4-5-7-5-1-5-5-5 9-5 7-5 9-5-17-5 30-5 13-5-2-5 8-5-16-5-11-5 11-5 2-5 5-5 0-5 10-5 0-5-3-5 3-5-23-5 13-5 3-5 3-5 10-5-4-5 3-5 2-5 22-5 2-5-16-5 13-5 10-5 13-5-4-5 0-5 3-5 4-5 8-5-3-5 2-5-1-5-7-5 9-5 10-5 5-5-3-5-5-5-7-5 0-5 10-5 13-5 4-4 9-5-7-5 5z"/><path transform="translate(128.3 98.6)" d="M2653 850l5-5 5 6 5-8 5-4 5-13 5-10 5 0 5 7 5 5 5 3 5-5 5-10 5-9 5 7 5 1 5-2 5 3 5-8 5-5 5-2 5 0 5 4 5-14 5-9 5-13 5 16 5-2 4-22 5-2 5-3 5 4 5-10 5-3 5-3 5-13 5 23 5-3 5 3 5 0 5-10 5 0 5-5 5-2 5-11 5 11 5 16 5-8 5 2 5-13 5-30 5 17 5-9 5-7 5-9 5 5 5 1 5 7 5-4 5 4 5 8 5-15 5-9 5 1 5-7 5-6 5-2 5-1 5 4 5-6 5-12 5-1 5 3 5-4 5-7 5-7 5-9 5-3 5-4 5 6 6-7-5 0-5 9-5 1-5 9-5 11-5 5-5 12-5-5-5 4-5 7-5-5-5 3-5 6-5-2-5 6-5 8-5-1-5 13-5 14-5 0-5-5-5 4-5-17-5 0-5-6-5 15-5 5-5 0-5 6-5 9-5 17-5 14-5 8-5-8-5-13-5-8-5 4-5-11-5 16-5 8-5-2-5-4-5-4-5-16-5-7-5 16-5 8-5-2-5 0-5 7-5 18-5 6-5 8-5-9-5 4-5 17-5 6-5-2-5-4-5 7-5 2-5 4-5 1-5-4-5-6-5 0-5 16-5 8-5 4-5 2-5-5-5-6-5 7-5-8-5 11-5 0-5 8-5 13-5-6z"/><path transform="translate(133.9 102.9)" d="M2652 845l5 7 5-13 5-8 5 0 5-11 5 8 5-7 5 6 5 5 5-2 5-4 5-8 5-16 5 0 5 6 5 3 5 0 5-4 5-3 5-6 5 4 5 2 5-6 5-17 5-5 5 10 5-8 5-6 5-18 5-7 5 0 5 2 5-9 5-15 5 7 5 16 5 4 5 4 5 2 5-8 5-16 5 11 5-4 5 8 5 13 5 8 5-8 5-14 5-18 5-8 5-6 5 0 5-5 5-15 5 6 5 0 5 17 5-4 5 5 5 0 5-14 5-13 5 1 5-8 5-6 5 2 5-6 5-3 5 5 5-7 5-4 5 5 5-13 5-4 5-11 5-9 5-1 5-9 5 0 7 13-5 0-5 5-5-2-5 11-5 6-5 6-5 8-5 13-5-11-5-9-5 2-6 11-5 12-5 1-5 1-5 9-5 8-5 8-5 5-5 6-5-7-5-1-5-4-5-1-5-7-5 0-5 7-5 15-5 3-5 4-5 16-5 16-5 8-5-4-5 0-5-4-5-8-5 0-5 2-5 7-5-4-5-7-5-12-5-9-5 8-5 7-5-3-5 1-5 4-5 8-5 9-5 1-5 6-5 11-5 11-5 1-6 4-5 0-5-7-5 9-5 5-5-4-5 8-5-2-5 2-5 3-5-4-5 1-5 6-5 7-5 7-5-3-5 10-5-4-5-5-5 8-5 4-5-1-5 10z"/><path transform="translate(139.5 107.2)" d="M2651 850l5-10 5 1 5-4 6-8 5 5 5 4 5-10 5 3 5-7 5-7 5-6 5-1 5 4 5-3 5-3 5 3 5-8 5 4 5-5 5-9 5 7 5 0 5-4 5-1 5-11 5-11 5-6 5-1 5-9 5-8 5-4 5-1 5 3 5-7 5-8 5 9 5 11 5 8 5 4 5-7 5-3 5 1 5 8 5 4 5 0 5 4 5-8 5-16 6-16 5-4 5-3 5-15 5-7 5 0 5 7 5 1 5 4 5 0 5 8 5-6 5-6 5-7 5-8 5-9 5-1 5-1 5-12 5-11 5-2 5 9 5 11 5-13 5-8 5-6 5-6 5-11 5 1 5-4 5 0 6 11-5 4-5-2-5 0-5-1-5 8-5-1-5 12-5 10-5 1-5 4-5 1-5 5-5-1-5 15-5-1-5 12-5 0-5 7-5 0-5 2-5 10-5-4-6-3-5-4-5-2-5 8-5 14-5 5-5-10-5-2-5 9-5 17-5 13-5 0-5-3-5-2-5-4-5-6-5 3-5 3-5 0-5 5-5-6-5-3-5 2-5-3-5 1-5 4-5 2-5 3-6 14-5 3-5-6-5 15-5 0-5 12-5-2-5-2-5 18-5-8-5-10-5 10-5 8-5-3-5-1-5 0-5-2-5-7-5 4-5 10-5 18-5 16-5-7-5-3-5 3-5 8-5 4-5 9-6-2z"/><path transform="translate(145.1 111.5)" d="M2651 858l5 2 5-9 5-4 5-8 5-3 5 3 5 7 5-16 5-18 5-10 5-4 5 7 5 2 5-1 5 2 5 3 6-8 5-10 5 10 5 8 5-18 5 2 5 2 5-12 5 0 5-15 5 6 5-3 5-14 5-3 5-2 5-4 5-1 5 3 5-2 5 3 5 6 5-5 5-1 5-2 5-3 5 6 5 4 5 2 5 2 6 1 5-13 5-17 5-9 5 2 5 10 5-5 5-14 5-8 5 2 5 4 5 3 5 4 5-10 5-2 5 0 5-7 5 0 5-12 5 1 5-15 5 1 5-5 5-1 5-5 5 0 5-10 5-13 6 1 5-7 5 1 5 0 5 1 5-3 6 14-5-1-5-1-5-11-6-10-5 13-5 10-5 11-5 9-5 6-5 4-5-4-5 15-5 6-5 5-5-5-5 14-5 10-5 0-5-10-5-14-5 24-5 3-5-2-5 4-5-6-6 2-5-8-5 13-5 8-5-2-5-13-5 24-5 16-5-2-5-1-5-10-5-8-5 6-5 4-5-4-5 11-5 2-5 1-5-2-5 4-5 3-5 2-6-4-5-1-5 2-5 5-5 5-5 10-5-3-5 4-5 8-5 5-5-7-5 12-5 11-5-5-5-3-5-5-5 6-5-1-5-11-5 1-5 9-5-4-5 10-6 17-5 5-5 0-5 13-5-7-5 10-5 9-5 13-5 1z"/><path transform="translate(150.7 115.7)" d="M2651 866l5-1 5-13 5-9 5-10 5 7 5-13 5-1 5-4 5-17 5-10 5 4 5-9 5-1 5 11 5 1 5-6 5 5 5 3 5 5 5-12 5-11 6 7 5-5 5-8 5-5 5 4 5-10 5-5 5-5 5-2 5 1 5 4 5-2 5-3 5-4 5 2 5-1 5-3 5-10 5 4 5-4 5-6 5 8 6 10 5 1 5 2 5-17 5-23 5 12 5 3 5-8 5-13 5 8 5-2 5 6 5-4 5 2 5-3 5-24 5 13 5 11 5 0 5-10 5-14 5 5 5-5 6-6 5-15 5 4 5-4 5-6 5-9 5-11 5-10 5-13 5 9 5 12 5 1 5 0 6 5-5 7-5-6-5-5-5-3-5 7-5 7-5 2-5 11-6 6-5 9-5-7-5 4-5 21-5 3-5 2-5 1-5 0-5 10-5 2-5-7-5 13-5-1-5-16-5 13-5-8-5-2-5 7-6 4-5 9-5-5-5-8-5 4-5 23-5 12-5-4-5-7-5 5-5-7-5 2-5-3-5 5-5 3-5-5-5 12-5 8-5-5-6 2-5-1-5 2-5 1-5-2-5 11-5 1-5-5-5 22-5 0-5-8-5 8-5 3-5 6-5 2-5 5-5-13-5 5-5 5-5-6-6-2-5 5-5 9-5 3-5-7-5 16-5 9-5-3-5 17-5 5-5 3-5 8-5 5z"/><path transform="translate(156.2 120.0)" d="M2650 862l5-5 5-8 5-3 5-5 6-17 5 3 5-9 5-16 5 7 5-3 5-9 5-5 5 2 5 6 5-5 5-5 5 13 5-5 5-2 5-6 5-3 5-8 5 8 5 0 6-22 5 5 5-1 5-11 5 2 5-1 5-2 5 1 5-2 5 5 5-8 5-12 5 5 5-4 5-5 5 4 5-2 5 7 5-5 6 7 5 4 5-12 5-23 5-4 5 8 5 5 5-9 5-4 5-7 5 2 5 8 5-13 5 16 5 1 5-13 5 7 5-2 5-10 6 0 5-1 5-2 5-3 5-21 5-4 5 7 5-9 5-6 5-11 5-2 5-7 5-7 5 3 5 5 5 6 5-7 6-7-5-3-5 0-5 1-5 3-5 8-5 10-5 5-5 11-5 9-5 0-6-6-5 4-5 9-5 9-5 9-5 0-5 8-5 1-5-2-5 8-5 3-5-4-5 2-5 0-5 4-5-5-5 3-5-1-6 1-5-5-5 0-5-3-5 6-5 20-5-2-5 14-5 2-5-6-5-5-5 2-5 6-5 0-5 5-5-13-5 16-5-4-6 5-5 8-5 7-5 2-5-6-5 6-5 12-5 7-5 6-5-7-5-3-5 9-5-3-5 5-5 0-5-6-5 14-5-4-6-3-5 4-5 6-5-5-5 4-5 4-5 6-5 7-5 6-5 4-5 10-5 0-5 4-5 8-5-2z"/><path transform="translate(161.8 124.3)" d="M2650 855l5 2 5-8 5-4 5 0 5-10 5-4 5-6 6-7 5-6 5-4 5-4 5 5 5-7 5-3 5 3 5 4 5-14 5 6 5 0 5-5 5 3 5-9 5 3 5 6 5-5 6-7 5-12 5-6 5 6 5-2 5-7 5-8 5-5 5 4 5-16 5 13 5-5 5 0 5-6 5-2 5 5 5 6 5-2 6-14 5 2 5-21 5-5 5 3 5 0 5 5 5-1 5 1 5-3 5 5 5-4 5 0 5-2 5 4 5-3 5-8 5 1 6 0 5-8 5 0 5-10 5-8 5-9 5-4 5 6 5 0 5-9 5-11 5-5 5-10 5-8 5-3 5-1 5 0 6 3 5 6-5-2-5-4-5-2-5 2-5 8-5-4-5 19-5 2-5 13-5 7-5 6-6 0-5-2-5 13-5 7-5 6-5 6-5-1-5 2-5-1-5 7-5 7-5 0-5 4-5-4-5-1-5 0-5 0-6 9-5-1-5-6-5-33-5-6-5 44-5 13-5 0-5 2-5 4-5-3-5 2-5 4-5 5-5 7-5 0-5-11-5 0-6 8-5 7-5 3-5 2-5 6-5 3-5 17-5 3-5-2-5-6-5 5-5 10-5-2-5-9-5-6-5 19-5 10-6-7-5-1-5 3-5 6-5-5-5-9-5 12-5 6-5 2-5 0-5-3-5 17-5 11-5-4-5-4-5 17z"/><path transform="translate(167.4 128.6)" d="M2650 857l5-17 5 4 5 4 5-11 5-17 5 3 5 0 5-2 6-6 5-13 5 10 5 5 5-6 5-3 5 1 5 7 5-10 5-19 5 6 5 9 5 2 5-10 5-5 5 6 5 2 6-3 5-17 5-3 5-6 5-2 5-3 5-7 5-8 5 0 5 11 5 0 5-7 5-5 5-4 5-2 5 3 5-4 6-2 5-1 5-12 5-44 5 6 5 33 5 6 5 1 5-9 5 0 5 0 5 1 5 4 5-4 5 0 5-7 5-7 5 1 6-2 5 1 5-6 5-6 5-7 5-13 5 2 5 0 5-6 5-7 5-13 5-2 5-19 5 4 5-8 5-3 5 3 6 3 5 3 5 15-5-5-5-8-5 3-5 10-5 5-5 2-5 2-5 3-5 2-5 10-5 5-6 8-5 16-5 5-5-3-5 2-5 9-5-4-5 3-5-3-5 14-5 8-5-5-5-5-5 2-5 0-5-4-5 14-6 5-5 3-5 1-5-28-5 10-5 13-5 18-5-6-5 4-5-4-5-8-5 3-5 11-5 1-5-2-5-2-5 13-5-3-6 5-5-1-5 5-5 3-5 9-5 17-5 5-5-7-5-1-5-7-5 11-5 6-5 2-5-6-5 9-5 2-5 6-6-4-5-5-5 8-5 2-5-1-5-5-5 5-5 6-5-4-5 13-5 4-5 13-5-5-5 7-5 5-5 13z"/><path transform="translate(173.0 132.9)" d="M2650 864l5-13 5-5 5-8 5 6 5-13 5-4 5-13 5 4 6-6 5-5 5 5 5 1 5-2 5-9 5 6 5 4 5-6 5-3 5-8 5 6 5-2 5-6 5-11 5 7 5 1 6 6 5-4 5-17 5-9 5-3 5-5 5 1 5-5 5 3 5-13 5 1 5 3 5-1 5-11 5-3 5 8 5 4 6-4 5 6 5-18 5-13 5-10 5 28 5-1 5-3 5-5 5-14 5 3 5 1 5-2 5 5 5 5 5-8 5-14 5 3 6-3 5 4 5-9 5-3 5 4 5-5 5-16 5-8 5-5 5-10 5-2 5-3 5-2 5-2 5-5 5-10 5-3 6 8 5 5 5-3-5 2-5 0-5 11-5-5-5-6-5 3-5 14-5 1-5 10-5-5-5 9-6 8-5 13-5 6-5-14-5 6-5 4-5 14-5-4-5 0-5 10-5 15-5 2-5 2-5-7-5-11-5 3-5 10-6-1-5 0-5-1-5-3-5 9-5 13-5 7-5-4-5 1-5-9-5-3-5 5-5 18-5 2-5-2-5 8-5-5-5 11-6-6-5-1-5 6-5 9-5 2-5 13-5-3-5 0-5 6-5 5-5-5-5 2-5 1-5 5-5 9-5-6-5-3-6 3-5 6-5 1-5-4-5 5-5 8-5 1-5-3-5 5-5 7-5 12-5 5-5 0-5-6-5 9-5 2z"/><path transform="translate(178.6 137.2)" d="M2650 851l5-1 5-9 5 6 5 0 5-5 5-12 5-7 5-6 6 4 5-1 5-8 5-5 5 4 5-1 5-6 5-3 5 3 5 6 5-9 5-5 5-1 5-2 5 5 5-5 5-6 6 0 5 3 5-13 5-2 5-9 5-6 5 1 5 6 5-11 5 5 5-8 5 2 5-2 5-18 5-5 5 3 5 9 6-1 5 4 5-7 5-13 5-9 5 3 5 1 5 0 5 1 5-11 5-2 5 11 5 6 5-1 5-2 5-15 5-10 5 0 6 4 5-14 5-4 5-6 5 14 5-6 5-13 5-9 5-8 5 5 5-10 5-1 5-14 5-3 5 6 5 5 5-11 6-1 5-1 5 11-5-4-5 3-5 7-5 0-5-1-5-9-5 9-5 13-5 5-5-1-6 0-5 10-5 8-5 8-5-5-5-1-5 15-5 6-5 0-5 2-5 5-5 4-5-4-5 4-5 2-5-8-5 5-5 7-6 0-5 7-5-5-5 3-5 3-5 9-5-2-5 7-5 3-5-10-5-1-5 18-5 11-5 7-5-3-5-5-5-10-5 22-6-2-5-11-5 11-5 11-5 14-5-2-5-10-5 4-5 12-5-7-5 9-5 3-5 3-5-4-5 0-5 6-5-2-6-2-5 5-5 4-5-8-5 14-5-1-5 10-5 2-5 2-5 15-5-3-5-4-5 1-5 4-5 8-5 5z"/><path transform="translate(184.1 141.5)" d="M2650 856l5-5 5-8 5-4 5-1 5 4 5 3 5-15 6-2 5-2 5-10 5 1 5-14 5 8 5-4 5-5 5 2 5 2 5-7 5 1 5 4 5-3 5-3 5-9 5 7 5-12 6-4 5 10 5 2 5-14 5-11 5-11 5 11 5 2 5-22 5 10 5 5 5 3 5-7 5-11 5-19 5 2 5 10 5-3 6-7 5 2 5-9 5-3 5-3 5 5 5-7 5 0 5-7 5-5 5 8 5-2 5-4 5 4 5-4 5-6 5-1 6 0 5-6 5-15 5 0 5 5 5-7 5-8 5-10 5 0 5 0 5-4 5-13 5-9 5 9 5 1 5 0 5-7 5-3 6 4 5-2-5 9-5 9-5 5-5 0-5-5-5-4-5 7-5 10-5 6-6 2-5-1-5 11-5 4-5 5-5-4-5 6-5 8-5 1-5-4-5 6-5 6-5 0-5 1-5 2-5 4-5 5-5 0-6-2-5 2-5-10-5 7-5 3-5 15-5 2-5 7-5-10-5 10-5-10-5 1-5 8-5 12-5 10-5-5-5 6-5-4-5 9-6 9-5-1-5 4-5 3-5 1-5 5-5-2-5 9-5 9-5-4-5 0-5-6-5 13-5-8-5 4-5-3-5 5-5 4-5-1-6-1-5 10-5-1-5 8-5 3-5-4-5 4-5 11-5 4-5 0-5-7-5 8-5 3-5 4z"/><path transform="translate(189.7 145.7)" d="M2650 850l5-4 5-3 5-8 5 7 5 0 6-5 5-10 5-4 5 4 5-3 5-8 5 1 5-10 5 1 5 1 5-4 5-5 5 3 5-4 5 8 5-13 5 5 5 1 5 4 6-9 5-9 5 1 5-4 5-1 5-3 5-5 5 2 5-10 5-8 5 4 5-6 5 5 5-10 5-12 5-8 5-1 5 9 5-9 6 9 5-6 5-2 5-15 5-4 5-6 5 10 5-2 5 2 5 0 5-5 5-4 5-2 5-1 5 0 5-6 5-6 5 4 6-1 5-8 5-7 5 5 5-5 5-4 5-11 5 1 5-2 5-6 5-10 5-7 5 4 5 5 5 0 5-6 5-8 5-9 6 12-5 1-5 11-5 3-5-3-5-1-6-2-5 10-5-2-5 2-5 15-5 6-5 13-5-3-5 1-5 6-5 4-5 6-5-7-5-8-5 8-5 6-5 10-5 3-5 3-5 4-5 0-6 5-5-1-5-1-5-20-5 22-5 8-5 4-5 7-5-12-5 4-5-8-5 11-5-9-5 14-5 5-5 11-5 2-5 12-5-4-5 4-5-2-6 8-5-6-5-3-5 5-5 4-5 4-5 7-5 10-5 5-5-1-5-2-5-1-5 12-5-1-5-2-5-2-5-5-5 7-5 9-5 5-5 7-6-3-5-2-5 5-5-3-5 8-5 4-5 2-5 0-5-2-5 9-5 3z"/><path transform="translate(195.3 150.0)" d="M2650 852l5-3 5-10 6 3 5 0 5-2 5-4 5-8 5 3 5-5 5 1 5 4 5-7 5-5 5-9 5-7 5 5 5 2 5 2 5 1 5-12 5 1 5 2 6 1 5-5 5-10 5-7 5-4 5-4 5-5 5 3 5 6 5-8 5 2 5-5 5 4 5-11 5-2 5-11 5-5 5-14 5 9 5-11 5 8 6-4 5 12 5-7 5-4 5-8 5-22 5 20 5 1 5 1 5-5 5 0 5-5 5-2 5-3 5-10 5-6 5-9 5 9 5 7 5-6 5-4 6-6 5-1 5 3 5-13 5-6 5-15 5-2 5 2 5-10 5 2 5 0 5 4 5-3 5-11 5-1 5 0-5 12-5 3-5-5-5-18-5 15-5 5-5 4-5 14-5 6-5 2-5 14-5 6-5 4-5-8-5 8-5 3-5-1-5-12-5 8-5 1-5 2-5 1-5 19-6-3-5 1-5 9-5 7-5 7-5-2-5-2-5-11-5 18-5 3-5 7-5 10-5-7-5-3-5 7-5 0-5 3-5-3-5 10-5 1-5 7-5 7-5-13-5 8-5 5-5 7-6-5-5-3-5 9-5 4-5 9-5-5-5 8-5 7-5-11-5 12-5 2-5 1-5-2-5-5-5 5-5-3-5-4-5 31-5-5-5-3-5-19-5 20-5 11-5 9-5 1-6 2-5 2-5-5-5 9-5-6z"/><path transform="translate(200.9 154.3)" d="M2651 849l5 6 5-9 5 4 5-1 5-2 5-1 5-10 5-10 5-20 5 19 5 3 5 5 5-31 5 4 5 3 5-5 5 5 5 2 5-1 6-2 5-12 5 11 5-7 5-8 5 5 5-9 5-4 5-9 5 3 5 5 5-7 5-5 5-8 5 13 5-7 5-7 5-1 5-11 5 4 5-3 5-1 5-6 5 3 5 7 6-10 5-7 5-3 5-18 5 11 5 2 5 2 5-8 5-6 5-9 5-1 5 3 5-19 5-1 5-2 5-1 5-8 5 12 5 0 5-2 5-8 5 8 5-4 5-6 5-14 6-2 5-6 5-14 5-4 5-5 5-15 5 18 5 5 5-3 5-13 5 14-5-1-5 0-5 1-5 0-5 9-5-2-5 6-5 12-5 6-5-1-5 0-5 11-5 8-5-10-5 13-5 0-5 16-6 2-5-3-5-3-5 2-5 1-5 2-5 2-5 2-5 5-5 6-5-3-5 1-5 5-5 7-5 5-5-3-5 15-5-4-5 6-5 3-5 6-5-3-5-3-5 4-5 5-5 2-5 5-5 4-5 2-5 0-5 7-5 2-5-5-5 3-5 8-5 3-6 5-5 0-5-4-5 4-5-1-5 9-5 2-5 8-5-1-5-3-5 1-5 10-5 2-5 4-5-4-5-6-5-4-5 3-5 16-5 10-5 2-5 8-5 3-5-3-5 12-5 0z"/><path transform="translate(206.5 158.6)" d="M2651 863l5 0 5-12 5 3 5-3 5-8 5-2 5-10 5-16 5-3 5 4 6 5 5 5 5-5 5-2 5-9 5-1 5 3 5 1 5-8 5-2 5-9 5 1 5-4 5 4 5 0 5-5 5-3 5-8 5-3 5 5 5-2 5-7 5 0 5-2 5-4 5-5 5-2 5-6 5-3 5 3 5 3 5-6 5-4 5-5 5 4 5-15 6 3 5-5 5-7 5-5 5-1 5 3 5-6 5-5 5-2 5-2 5-2 5-1 5-2 5 3 5 3 5-2 5-16 5 0 5-13 5 9 5-7 5-12 5 1 5 1 5-7 5-11 5-7 5 3 5-9 5 0 5-1 5 0 5 1 5-3-5 6-5 5-5 7-5-2-5 8-5 2-5 1-5 12-5 0-5 4-5-3-5 17-5 1-5 6-5 6-5 3-5 2-5 9-5-1-5-3-5-1-5 4-5-1-5 7-5 3-5-3-5 2-5 7-5-3-5-10-5 7-5 7-5 11-5 9-5 6-5-5-5 5-5 2-5 5-5-10-5 8-5 8-5-2-5-10-5 0-5 17-5 7-5 2-5 2-5-10-5 6-5 5-5 1-5 13-5 0-5 1-5-1-5-4-5 7-5 10-5-5-5 2-5-3-5 5-5 2-5 6-5 12-5 0-5 10-5-14-6 9-5-1-5 7-5 0-5 14-5-3-5-3-5 1-5 1z"/><path transform="translate(212.0 162.9)" d="M2652 847l5-1 5-1 5 3 5 3 5-14 5 0 5-7 5 1 5-9 5 14 5-10 5 0 5-12 5-6 5-2 5-5 5 3 5-2 5 5 5-10 5-7 5 4 5 1 5-1 5 0 5-13 5-1 5-5 5-6 5 10 5-2 5-2 5-7 5-17 5 0 5 10 5 1 5-7 5-8 5 10 5-5 5-2 5-5 5 5 5-6 5-9 5-11 5-7 5-7 5 10 5 3 5-8 5-1 5 3 5-3 6-7 5 1 5-4 5 1 5 3 5 1 5-9 5-2 5-3 5-6 5-6 5-1 5-17 5 3 5-4 5 0 5-12 5-1 5-2 5-8 5 2 5-7 5-5 5-6 5-8-5 10-5 3-5 13-5 2-5 14-5 6-5 8-5 8-5 2-5-1-5-2-5-6-5 14-5 12-5 5-5-2-5-5-5 7-5 0-5 4-5 3-5 4-5-16-5 8-5 9-5 0-5 6-5-5-5 9-5 1-5-4-5 3-5 10-5 10-5-4-5-8-5 8-5 6-5 3-5 2-5 9-5 7-5-1-5-3-5-6-5 3-5 10-5 6-5-1-5-1-5 2-5 2-5-3-5 13-5 14-5-2-5 0-5 2-5 2-5 15-5 2-5-8-5-7-5-4-5 18-5-7-5 6-5 10-5-1-5 0-5 5-5 6-5 8-5-4-5 7-5-5-5 3-5 2-5-10z"/><path transform="translate(217.6 167.2)" d="M2653 837l5 10 5-3 5-2 5 5 5-7 5 4 5-8 5-6 5-5 5 0 5 1 5-10 5-6 4 7 5-18 5 4 5 7 5 8 5-2 5-15 5-2 5-2 5 0 5 2 5-14 5-13 5 3 5-2 5-2 5 1 5 1 5-6 5-10 5-4 5 7 5 3 5 1 5-7 5-9 5-2 5-3 5-6 5-8 5 8 5 4 5-10 5-10 5-3 5 4 5-1 5-9 5 5 5-7 5 1 5-9 5-9 5 17 5-4 5-3 5-4 5 0 5-7 5 5 5 2 5-5 5-12 5-14 5 6 5 1 5 2 5-2 5-8 5-9 5-5 5-14 5-2 5-13 5-3 5-10 5 18-5 1-5 11-5-4-5 12-5 4-5 2-5 10-5 6-5 13-5-14-5 13-5 3-5 2-5 1-5 7-5-6-5 6-5 6-5 3-5-3-5 3-5 9-5-9-5 5-5 0-5-9-5 7-4 13-5-9-5 13-5 4-5 5-5 1-5 3-5 3-5 3-5-10-5 8-5 4-5 2-5 13-5 7-5-5-5-2-5-2-5 9-5 7-5 9-5 3-5-8-5 0-5 2-5 4-5 0-5 9-5 12-5-11-5 12-4-3-5 7-5 3-5-4-5-1-5 13-5 4-5-1-5 3-5-2-5 1-5 8-5-5-5 2-5 5-5 1-5 6-5 7-5 1-5 10-5-11z"/><path transform="translate(223.2 171.5)" d="M2654 845l5 11 5-10 4-1 5-7 5-6 5-1 5-5 5-2 5 5 5-8 5-1 5 2 5-3 5 1 5-4 5-13 5 1 5 3 5-2 5-7 5 3 5-12 5 10 5-11 5-10 5 1 5-4 5-2 5 0 5 8 5-4 5-8 5-7 4-9 5 2 5 2 5 5 5-7 5-14 5-2 5-4 5-7 5 10 5-3 5-3 5-3 5-1 5-6 5-3 5-13 5 9 5-13 5-7 5 9 5 0 5-5 5 8 5-8 5-3 5 3 5-3 5-6 5-6 5 6 4-7 5-1 5-3 5-2 5-13 5 13 5-12 5-6 5-10 5-2 5-4 5-12 5 4 5-12 5 0 4 6-5 8-4-6-5 10-5 12-5-1-5 2-5 12-5 7-5 8-5 1-5 4-5-3-5-5-5 10-5-5-5 6-5 0-4 3-5 9-5 8-5-3-5 5-5 2-5-8-5 7-5 2-5 5-5 3-5-1-5 0-5 4-5 12-5 7-4-4-5-3-5 2-5-3-5 5-5 2-5 7-5 2-5 8-5 8-5 7-5 3-5-6-5 10-5-2-5 0-4-7-5 5-5 7-5 7-5-8-5 4-5 13-5-2-5 9-5 4-5-12-5 19-5-2-5-1-5 10-5-13-4 12-5-2-5-1-5 7-5 4-5-2-5 2-5 6-5 9-5-5-5 13-5 0-5 1-5-4z"/><path transform="translate(228.8 175.8)" d="M2655 847l5 4 5-1 5 0 5-13 4 5 5-9 5-6 5-2 5 2 5-4 5-7 5 1 5 1 5-11 5 13 5-10 5 1 5 2 5-20 5 13 4-4 5-9 5 2 5-13 5-4 5 8 5-7 5-7 5-5 5 7 5 0 5 2 5-10 5 6 5-3 5-7 4-8 5-8 5-2 5-7 5-2 5-5 5 3 5-2 5 3 5 4 5-7 5-12 5-4 5 0 5 0 5-2 4-5 5-3 5-6 5 8 5-2 5-5 5 3 5-8 5-9 5-3 5 0 5-6 5 5 5-11 5 6 5 3 4-5 5 0 5-8 5-7 5-12 5-2 5 1 5-12 5-10 5 6 5-8 4 22-5 0-5 5-5 3-5 1-4 1-5 8-5 9-5-8-5 9-5 0-5 4-5 1-5 3-5 13-5 3-4-14-5 9-5 8-5 12-5 0-5 2-5-4-5 2-5 2-5-4-4-1-5 10-5 4-5 2-5 8-5-1-5 3-5 6-5 2-5-3-4-4-5 6-5-1-5 9-5 0-5-2-5 7-5 0-5 20-5-3-4 4-5-8-5 1-5-11-5-4-5 11-5 11-5-2-5 13-5 7-5 5-4 8-5 5-5 7-5-3-5 6-5-9-5 6-5 5-5 5-5-11-4 7-5 6-5 8-5-4-5 1-5 1-5 3-5 4-5 0-5 3-4 6-5 12-5-2z"/><path transform="translate(234.4 180.0)" d="M2656 857l5 2 5-12 5-6 5-3 5 0 5-4 4-3 5-1 5-1 5 4 5-8 5-6 5-7 5 11 5-5 5-5 4-6 5 9 5-6 5 3 5-7 5-5 5-8 5-6 5-6 5-13 5 2 4-11 5-11 5 4 5 11 5-1 5 8 5-5 5 4 5-20 5-1 4-6 5 2 5 0 5-9 5 1 5-6 5 4 5 3 5-2 5-6 4-3 5 1 5-8 5-2 5-4 5-10 5 1 5 4 5-3 5-2 4 5 5-2 5 0 5-12 5-8 5-9 5 14 5-3 5-13 5-3 5-1 4-4 5-1 5-8 5 8 5-9 5-8 5-1 5-1 5-3 5-5 4 0 4 7-4 4-5 1-5 6-5 9-5 10-5-7-5-6-5 0-4 2-5-2-5 15-5 9-5 6-5 3-5-6-4-7-5-1-5 18-5 9-5 0-5-6-5-1-4 7-5 0-5-2-5 5-5 2-5 8-5 2-4 8-5-3-5 8-5-1-5 7-5 1-5-9-4 1-5 3-5 13-5 10-5-6-5-6-5 6-4 17-5 9-5 3-5-8-5 0-5-9-5-3-5 6-4 8-5 16-5 2-5 3-5 2-5-7-5 9-4 12-5-5-5 6-5-5-5 5-5 5-5-1-4 10-5 4-5-4-5 7-5 6-5 4-5-2-4-2-5-13-5 12-5-2-5 9-5 4-5 10z"/><path transform="translate(239.9 184.3)" d="M2658 858l5-10 5-4 4-9 5 2 5-12 5 13 5 2 5 2 5-4 4-6 5-7 5 4 5-4 5-10 5 1 5-5 4-5 5 5 5-6 5 5 5-12 5-9 5 7 4-2 5-3 5-2 5-16 5-8 5-6 5 3 4 9 5 0 5 8 5-4 5-8 5-17 5-6 5 6 4 6 5-10 5-13 5-3 5-1 5 9 5-1 4-7 5 1 5-8 5 3 5-8 5-2 5-8 4-2 5-5 5 2 5 0 5-7 5 1 5 6 4 0 5-9 5-18 5 1 5 6 5 7 5-3 4-7 5-8 5-16 5 3 5-2 5 0 5 6 5 7 4-10 5-9 5-6 5-1 5-4 3 11-4 9-5 5-5 6-5 2-5 10-4-7-5-13-5 6-5 1-5-3-4 24-5 5-5 0-5-12-5 9-5 7-4 5-5 3-5-10-5 5-5-6-4 2-5 6-5 14-5 4-5 1-4-11-5 17-5-4-5 0-5-5-5 16-4 13-5 2-5-13-5 1-5-1-4 9-5 7-5 9-5 4-5 6-4 0-5 5-5 3-5-4-5 3-5-3-4-2-5 7-5 3-5 16-5 4-4-2-5-14-5 4-5 12-5-4-4 7-5 10-5-8-5 8-5-4-5 0-4 5-5 13-5 3-5-5-5-1-4 2-5 5-5 2-5 3-5 8-4 0-5 1-5 5-5-5-5-15z"/><path transform="translate(245.5 188.6)" d="M2660 830l5 15 4 5 5-5 5-1 5 0 5-8 4-3 5-2 5-5 5-2 5 1 4 5 5-4 5-12 5-5 5 0 5 4 4-9 5 9 5-10 5-7 5 3 4-11 5-4 5 14 5 2 5-4 4-16 5-3 5-7 5 2 5 3 5-3 4 4 5-3 5-5 5 0 5-6 4-4 5-9 5-7 5-9 5 1 4-1 5 12 5-1 5-13 5-16 5 5 4 0 5 4 5-17 5 11 5-1 4-4 5-14 5-6 5-2 5 6 4-5 5 10 5-3 5-5 5-7 5-9 4 12 5 0 5-6 5-23 5 3 4-1 5-6 5 12 5 8 5-10 4-2 5-6 5-5 5-10 3 16-4 14-5 4-5 2-5-4-5-3-4 7-5-10-5 2-5 7-4 8-5 0-5 1-5-4-4 3-5 13-5 0-5 11-4-4-5-4-5-1-5 6-4 1-5 13-5 3-5 3-4 0-5-4-5 3-5 5-4 5-5-7-5 4-5 8-4 6-5-1-5-1-5 6-4 2-5 4-5 1-5-7-5 8-4-4-5 6-5 8-5-9-4 8-5 12-5-3-5-2-4 18-5 3-5 10-5-7-4 3-5 3-5 6-5 6-4-4-5-7-5 8-5-1-4 5-5 0-5-7-5 7-4 6-5 7-5-4-5-4-4 9-5-1-5 5-5 4-4 17-5 5-5-1-5-15-5-10z"/><path transform="translate(251.1 192.9)" d="M2662 831l5 10 4 15 5 1 5-5 5-18 4-3 5-6 5 2 5-9 4 3 5 5 5-7 5-6 5-7 4 7 5 0 5-5 5 1 4-8 5 7 5 4 5-6 4-6 5-3 5-3 5 7 4-10 5-3 5-18 5 2 4 3 5-12 5-8 5 9 4-9 5-5 5 4 5-8 4 7 5-1 5-5 5-1 4-6 5 1 5 1 5-6 4-8 5-4 5 7 5-5 5-6 4-2 5 4 5 0 5-3 4-3 5-13 5-1 5-6 4 1 5 4 5 4 5-11 4 0 5-13 5-3 5 4 4-1 5 0 5-8 5-7 4-2 5 10 5-7 5 3 4 3 5-2 5-3 5-15 3-3-5 13-5 11-4-2-5 2-5 6-4-7-5-7-5 3-4 6-5 2-5 11-5-6-4 0-5 11-5 4-4-3-5 3-5 9-4-1-5 3-5 11-4 1-5 5-5 5-5 3-4-10-5 6-5 5-4 7-5-5-5 2-4-3-5 9-5-4-5 7-4-4-5 11-5 6-4 6-5-2-5-4-4-1-5-9-5 0-4 12-5 3-5 2-5 6-4 5-5 1-5-1-4 13-5 11-5-3-4 9-5 1-5 3-4 3-5 4-5-1-5-4-4 0-5-2-5 16-4-2-5-8-5-8-4 1-5 11-5 5-4 9-5-3-5-7-5 16-4 3-5 10-5 2-4-8-5-3z"/><path transform="translate(256.7 197.2)" d="M2664 840l5 3 5 8 5-2 4-10 5-3 5-16 4 7 5 2 5-8 4-5 5-11 5-1 4 8 5 8 5 2 5-16 4 2 5 0 5 4 4 1 5-4 5-3 4-3 5-1 5-9 4 3 5-11 5-14 5 2 4-1 5-5 5-6 4-3 5-2 5-12 4 0 5 9 5 1 4 4 5 2 5-6 5-6 4-11 5 4 5-7 4 4 5-9 5 3 4-2 5 5 5-8 4-4 5-6 5 10 5-3 4-5 5-5 5-1 4-11 5-3 5 0 4-8 5-3 5 3 4-4 5-11 5 0 5 6 4-11 5-2 5-6 4-3 5 7 5 7 4-6 5-2 5 2 4-11 5-13 3-4-5 8-4 13-5 9-5 7-4-2-5-6-4 9-5-4-5-7-4 10-5 5-5-2-4 11-5 0-4-8-5 7-5 10-4 7-5 1-5 2-4-2-5 4-4 9-5 10-5-1-4-4-5 7-4 5-5 0-5-5-4 5-5 4-5-1-4 3-5 4-4-5-5 14-5 5-4-4-5 2-5 3-4-4-5-9-4 11-5 0-5 6-4 5-5 7-5-1-4 7-5 7-4 1-5-8-5 9-4 3-5 5-4 6-5 2-5 5-4 0-5-6-5-4-4 11-5 2-4 1-5-7-5-12-4 4-5 19-5 9-4-5-5 1-4 6-5 0-5 4-4 0-5 3-4-3-5-6z"/><path transform="translate(262.3 201.5)" d="M2667 826l5 6 5 3 4-3 5 0 4-4 5-1 5-5 4-1 5 5 5-9 4-19 5-4 4 12 5 6 5-1 4-1 5-11 4 4 5 6 5 0 4-5 5-2 5-7 4-4 5-3 4-9 5 8 5-2 4-6 5-7 5 1 4-7 5-5 4-6 5 0 5-11 4 9 5 4 4-3 5-2 5 4 4-5 5-14 5 5 4-4 5-3 4 1 5-4 5-5 4 5 5 0 5-5 4-7 5 4 4 1 5-10 5-9 4-4 5 2 5-2 4-1 5-7 4-10 5-8 5 9 4-1 5-10 4 2 5-5 5-11 4 8 5 4 5-9 4 6 5 1 4-6 5-9 5-13 4-8 3 17-5 4-4-1-5 1-5 8-4 1-5 10-4 5-5 2-4-10-5 2-4 7-5 4-4-4-5 8-4 2-5 2-5 5-4 8-5 5-4 8-5-2-4 2-5 10-4 4-5-12-4 11-5 7-4 8-5-7-5-4-4 8-5-3-4-6-5 14-4 6-5 4-4-6-5 6-4 0-5-3-4-4-5 4-4-2-5 7-5 13-4 8-5 3-4-5-5 3-4-2-5 0-4 3-5 4-4-3-5 8-4 6-5 2-5-7-4-6-5 20-4 5-5-24-4 21-5 4-4-11-5 16-4 6-5 10-4 3-5 4-5-2-4-12-5 9-4-4-5 3-4 2-5 1-4-4-5 9z"/><path transform="translate(267.8 205.8)" d="M2671 837l4-9 5 4 4-2 5-2 4-3 5 5 4-9 5 12 4 1 5-3 4-3 5-10 5-6 4-16 5 11 4-4 5-22 4 25 5-5 4-20 5 6 4 7 5-2 4-6 5-8 5 3 4-4 5-3 4 0 5 2 4-3 5 5 4-3 5-8 4-13 5-8 4 3 5-4 5 4 4 2 5 1 4-7 5 7 4-4 5-6 4-15 5 7 4 3 5-8 4 4 5 7 5-8 4-7 5-11 4 12 5-4 4-10 5-2 4 2 5-8 4-5 5-8 4-5 5-2 4-2 5-8 5 4 4-5 5-6 4-2 5 10 4-3 5-4 4-10 5-1 4-8 5-1 4 1 5-4 2 8-5 1-4-1-4 12-5 9-4 8-5-3-4-8-5-10-4 8-5 4-4 2-4 14-5 5-4 0-5 3-4 2-5 12-4-9-5 7-4-1-4 3-5 20-4 3-5-10-4 8-5 7-4 4-5-2-4-9-4 9-5 2-4 9-5-4-4 10-5-1-4 7-5-10-4 5-4 3-5 2-4-17-5 3-4 7-5 5-4 10-4 1-5 12-4-3-5-6-4 1-5 5-4-1-5 5-4 3-4 6-5 6-4-1-5-11-4 4-5 15-4 4-5 7-4 7-4-6-5-5-4 1-5 7-4 2-5 6-4 6-5-5-4 6-4-7-5 6-4-4-5-3-4 3-5 2-4 17z"/><path transform="translate(273.4 210.0)" d="M2674 846l5-17 4-2 5-3 4 3 5 4 4-6 4 7 5-6 4 5 5-6 4-6 5-2 4-7 5-1 4 5 4 6 5-7 4-7 5-4 4-15 5-4 4 11 4 1 5-6 4-6 5-3 4-5 5 1 4-6 5 0 4 6 4 2 5-11 4-1 5-10 4-5 5-7 4-3 5 17 4-3 4-3 5-4 4 9 5-6 4 0 5-9 4 4 5-9 4-2 4-9 5 9 4 2 5-4 4-7 5-8 4 10 5-3 4-21 4-2 5 1 4-7 5 8 4-12 5-1 4-3 5 0 4-5 4-14 5-2 4-4 5-8 4 10 5 8 4 3 5-8 4-9 4-12 5 1 4-1 2 7-5-3-4 8-4 13-5 9-4 2-4-3-5-9-4-9-4 12-5 11-4 3-4-1-5-3-4 1-4 10-5 6-4-1-4 0-5 3-4 6-4 4-5 9-4-3-4 18-5 6-4-2-4-6-5 5-4 1-4 9-5 0-4 12-4 4-5 0-4-1-4-8-5-3-4 5-4 9-5-7-4-12-4-4-5 8-4 7-4 6-5 3-4 13-4 9-5-10-4-4-4-2-5 10-4 3-4-3-5 2-4 9-5 4-4 9-4 4-5 1-4 3-4-11-5 8-4 2-4-13-5 5-4 5-4 15-5 2-4 10-4 2-5-8-4-9-4 11-5-7-4 9-4 0-5-1-4-1z"/><path transform="translate(279.0 214.3)" d="M2679 830l4 1 4 1 5 0 4-9 4 7 5-11 4 9 4 8 5-2 4-10 4-2 5-15 4-5 4-5 5 13 4-2 4-8 5 11 4-3 4-1 5-4 4-9 4-4 5-9 4-2 4 3 5-3 4-10 4 2 5 4 4 10 4-9 5-13 4-3 4-6 5-7 4-8 4 4 5 12 4 7 4-9 5-5 4 3 4 8 5 1 4 0 4-4 5-12 4 0 4-9 5-1 4-5 4 6 5 2 4-6 4-18 5 3 4-9 4-4 5-6 4-3 4 0 5 1 4-6 4-10 5-1 4 3 4 1 5-3 4-11 4-12 5 9 4 9 4 3 5-3 4-8 4-13 5-8 4 3 1 12-4-3-5 3-4 3-4 10-4 1-4-6-5-4-4 21-4 2-4-4-4-4-5-3-4-5-4 8-4 6-5 8-4 0-4-1-4 4-4-1-5 4-4 13-4 9-4 7-4 4-5 8-4-1-4-1-4 9-5 3-4 2-4 7-4 3-4-1-5-1-4-7-4-1-4 0-5 7-4 6-4-6-4-6-4 11-5 9-4 5-4-6-4 2-4 4-5-2-4 4-4-5-4 4-5 5-4-3-4 2-4 2-4 13-5 5-4-3-4 16-4 2-4-2-5 1-4-4-4-2-4 5-5 3-4 0-4 7-4 4-4-1-5 2-4 2-4 1-4-12-4 3-5 11-4 10-4 2z"/><path transform="translate(284.6 218.6)" d="M2683 842l5-2 4-10 4-11 4-3 4 12 5-1 4-2 4-2 4 1 4-5 5-6 4 0 4-3 4-5 5 2 4 3 4 0 4 2 4-2 5-16 4 3 4-5 4-13 4-2 5-2 4 3 4-5 4-4 5 5 4-4 4 2 4-4 4-2 5 6 4-5 4-9 4-11 4 6 5 6 4-6 4-7 4 0 5 1 4 7 4 1 4 1 4-4 5-6 4-2 4-3 4-9 4 0 5 2 4-8 4-4 4-7 5-9 4-13 4-4 4 1 4-4 5 1 4 0 4-8 4-6 5-9 4 6 4 3 4 4 4 4 5-2 4-21 4 4 4 6 4-1 5-10 4-3 4-3 4 3 0 12-4-10-4 7-4-8-4 5-4 14-4 9-4 7-4 5-4-10-4-11-4-6-4-12-5 11-4 3-4 16-4 7-4-7-4 0-4 1-4 2-4 4-4 9-4 9-4 18-4 18-5-4-4 0-4 5-4-2-4-8-4 13-4 3-4-2-4 1-4-3-4-4-4-12-5 12-4 6-4 7-4 0-4 7-4 2-4 4-4 3-4-3-4-1-4-1-4-4-4 11-5 5-4-2-4-2-4 0-4-3-4 11-4 4-4 3-4 0-4 14-4 5-4-6-4 12-5-4-4-5-4 0-4 0-4 11-4-1-4 3-4 3-4 1-4 3-4 4-4 0-4 3-5-3-4 7-4-11z"/><path transform="translate(290.2 222.9)" d="M2689 823l4 11 4-7 4 3 4-3 4 0 4-4 4-3 4-1 4-3 5-3 4 1 4-11 4 0 4 0 4 5 4 4 4-12 4 6 4-5 4-14 4 0 4-3 5-4 4-11 4 3 4 0 4 1 4 3 4-5 4-11 4 4 4 1 4 1 4 3 4-3 5-4 4-3 4-6 4 0 4-7 4-6 4-12 4 12 4 4 4 3 4-1 4 2 4-3 5-13 4 8 4 2 4-5 4 0 4 4 4-18 4-19 4-8 4-9 4-4 4-2 4-1 5 0 4 7 4-7 4-16 4-3 4-11 4 12 4 6 4 11 4 10 4-5 4-7 4-9 5-14 4-5 4 7 4-6 4 10-1 2-4 1-4-1-4 5-3 12-4 4-4 0-4 2-4-9-4-7-4-5-4 5-4 0-4 5-4 11-4 3-4-9-3 9-4 3-4 3-4 6-4 7-4 14-4 11-4 9-4 2-4 2-4 1-4-11-3-18-4 23-4 12-4 6-4-6-4 5-4 4-4-2-4 3-4-5-4 5-4-6-3-5-4-7-4 8-4 12-4 3-4-3-4 3-4 4-4 3-4 1-4-15-4 14-4 7-3 0-4-4-4 9-4 5-4-5-4-1-4 6-4 1-4 10-4 9-4 2-4 5-3 0-4-5-4 2-4 5-4 3-4-1-4-4-4 4-4 4-4 14-4 3-4-5-4-1-3-3z"/><path transform="translate(295.7 227.2)" d="M2695 828l4 3 4 1 4 5 4-3 4-14 4-5 3-3 4 4 4 1 4-3 4-5 4-2 4 5 4 0 4-5 4-2 4-9 4-10 3-1 4-6 4 0 4 5 4-4 4-9 4 4 4 0 4-7 4-14 4 15 4-1 3-3 4-4 4-3 4 2 4-2 4-12 4-9 4 8 4 5 4 6 4-5 4 5 4-3 3 1 4-3 4-5 4 6 4-6 4-13 4-22 4 18 4 11 4-1 4-2 4-2 3-9 4-11 4-14 4-8 4-5 4-3 4-3 4-9 4 9 4-3 4-11 4-5 4 0 3-5 4 5 4 7 4 9 4-2 4 0 4-4 4-12 4-6 4 2 4-1-2 18-4 1-3-1-4 0-4-7-4 9-3 4-4 6-4 2-4-4-3-6-4 8-4 1-4-7-3 6-4-1-4 3-4 7-3 15-4 3-4-3-3 12-4 10-4-1-4 13-3-5-4 2-4-2-4-6-3-1-4 10-4 10-4-2-3 1-4 7-4 2-4 6-3 2-4 5-4-4-3-7-4-6-4-3-4 1-3 8-4-2-4-2-4-1-3-3-4 10-4 7-4 3-3-7-4 10-4 7-4 1-3 3-4-2-4 1-3 4-4-3-4 4-4 4-3 8-4 5-4 5-4 8-3 4-4-4-4-1-4-2-3-11-4 11-4-1-4 2-3 5-4 4-4-1-4 0-3 4z"/><path transform="translate(301.3 231.5)" d="M2702 825l4-3 4 0 3 1 4-4 4-5 4-2 3 1 4-11 4 11 4 2 3 1 4 4 4-4 4-8 3-5 4-5 4-8 3-4 4-4 4 3 4-4 3-1 4 1 4-2 4-1 3-8 4-9 4 7 4-3 3-7 4-11 4 4 4 1 3 2 4 2 4-8 3-1 4 3 4 6 4 7 3 4 4-5 4-2 4-6 3-2 4-7 4-2 4 3 3-10 4-10 4 1 4 6 3 2 4-2 4 5 3-13 4 1 4-10 4-12 3 3 4-3 4-15 4-8 3-2 4 1 4-6 4 7 3-2 4-7 4 6 4 4 3-2 4-6 4-4 3-9 4 7 4 0 4 1 3-1-2 9-4-12-3 8-4-4-3 2-4 3-4-4-3 12-4 8-3 3-4 0-3-1-4-6-3-3-4-1-3 14-4 15-3 9-4 5-3 3-4-2-3 2-4 2-3 7-4 2-4-7-3-3-4 15-3 5-4 2-3 4-4-4-3-3-4 1-3 4-4 1-3 2-4 1-3-3-4 14-3-2-4-8-3-2-4 2-3 6-4 1-4-1-3 0-4 5-3 2-4-3-3 8-4-1-3 0-4 2-3 4-4 0-3-1-4 2-3 5-4 10-3 0-4-1-3-5-4 1-3 9-4 5-4 9-3 1-4-1-3-2-4 4-3-2-4-1-3-1-4 7-3 8-4 3-3 2-4-2z"/><path transform="translate(306.9 235.8)" d="M2711 825l3 2 4-2 3-3 4-8 3-8 4 1 3 2 4 2 3-4 4 2 3 1 4-1 3-10 4-4 3-9 4-1 3 5 4 1 4 0 3-10 4-5 3-2 4 1 3 0 4-4 3-2 4 0 3 1 4-8 3 3 4-2 3-5 4 0 3 1 4-1 3-6 4-2 4 2 3 8 4 2 3-14 4 3 3-1 4-2 3-2 4-3 3-1 4 3 3 4 4-4 3-2 4-5 3-15 4 2 3 8 4-2 3-7 4-2 4-2 3 2 4-4 3-5 4-8 3-15 4-14 3 1 4 2 3 7 4 1 3 0 4-3 3-8 4-12 3 4 4-3 3-3 4 5 3-8 4 12-4 10-4-8-3-4-3 20-3 2-4 7-3 0-3-8-4 3-3 1-3-3-3 7-4 1-3 6-3 2-3 4-4 13-3 2-3 3-4-4-3 4-3 4-3 8-4-1-3 2-3 12-3 3-4-3-3-16-3 0-4 7-3-3-3 6-3 3-4 3-3 4-3 7-3-4-4-3-3 0-3 5-4-4-3 0-3 1-3 7-4-2-3 0-3 2-3 2-4 8-3-1-3 1-4-3-3 3-3-4-3 4-4 0-3-6-3 9-3 10-4 0-3 3-3 1-4-7-3 4-3 2-3-3-4 9-3 9-3 3-3-1-4-9-3 4-3 3-3 0-4 6-3 6-3 3-4 2-3 1z"/><path transform="translate(312.5 240.1)" d="M2721 820l3-1 3-2 3-3 4-6 3-6 3 0 3-3 4-4 3 9 3 1 4-3 3-9 3-9 3 3 4-2 3-4 3 7 3-2 4-2 3 0 3-10 4-9 3 6 3 0 3-4 4 4 3-3 3 3 3-1 4 1 3-8 3-2 4-2 3 0 3 2 3-7 4-1 3 0 3 4 3-5 4 0 3 3 3 4 4-7 3-4 3-3 3-3 4-6 3 3 3-7 3 0 4 16 3 3 3-3 4-12 3-2 3 1 3-8 4-4 3-4 3 4 3-3 4-2 3-13 3-4 4-2 3-6 3-1 3-7 4 3 3-1 3-3 3 8 4 0 3-7 3-2 3-21 4 5 3 8-7 17-3 5-3 6-3 0-2 2-3-5-3-1-3 3-3-3-3-4-3 12-3 14-3-2-3-5-3-5-3 1-3 2-3 0-3 3-3 11-3 6-3 3-3 1-3 0-3-4-3 0-3 10-3-6-3 0-3-2-2-1-3 9-3 7-3-1-3 1-3 12-3 3-3-1-3-3-3-7-3-2-3 3-3 0-3 9-3 7-3 1-3-6-3-1-3 4-3 1-3-7-3-5-3 12-3 2-3-3-3 5-2 6-3 9-3-2-3-9-3 7-3 5-3 0-3 3-3-2-3-10-3 0-3 9-3 7-3 0-3 4-3 5-3 4-3 5-3-1-3-7-3-4-3 4-3 2-3 0z"/><path transform="translate(318.1 244.3)" d="M2733 802l3 0 3-2 3-4 3 4 3 7 3 1 3-5 2-4 3-5 3-4 3 0 3-7 3-9 3 0 3 10 3 2 3-3 3 0 3-5 3-7 3 9 3 2 3-9 3-6 3-5 3 3 3-2 3-12 3 5 3 7 3-1 3-4 3 1 3 6 2-2 3-6 3-9 3 0 3-3 3 2 3 7 3 3 3 1 3-3 3-12 3-1 3 0 3-6 3-9 3 1 3 2 3 0 3 6 3-10 3-1 3 5 3 0 3-1 3-3 3-6 2-11 3-3 3 0 3-3 3 0 3 4 3 6 3 1 3-13 3-12 3 4 3 3 3-3 3 0 3 6 3-2 3 0 3-6 3-5-10 26-3-3-3-3-2 2-3 3-2-5-3 7-2 5-3-1-2-7-3-1-3 1-2 7-3 6-2 6-3 0-2-3-3-4-3-1-2-3-3 1-2 6-3 7-2 1-3 5-2 0-3-3-3-2-2 1-3 2-2 6-3 1-2-1-3 7-3 8-2 5-3-3-2-3-3-2-2-7-3 3-2 2-3-3-3 7-2 10-3 5-2-2-3 0-2 0-3-3-3-4-2 0-3-4-2-5-3 10-2 2-3 1-2 6-3 3-3-3-2 3-3 5-2 0-3 0-2-3-3-3-3 9-2 4-3-7-2 2-3 7-2 1-3 1-2 0-3 4-3 3-2 7-3 6-2 0-3-3z"/><path transform="translate(323.6 248.6)" d="M2749 802l2 3 3 0 2-6 3-7 2-3 3-4 3 0 2-1 3-1 2-7 3-2 2 7 3-4 2-9 3 3 3 3 2 0 3 0 2-5 3-3 2 3 3-3 3-6 2-1 3-3 2-9 3 5 2 3 3 1 2 4 3 3 3 0 2 0 3 2 2-5 3-10 2-7 3 3 3-3 2-2 3 7 2 2 3 3 2 3 3-5 2-8 3-7 3 1 2-1 3-6 2-2 3-1 2 2 3 2 3 1 2-5 3-1 2-8 3-5 2-1 3 3 2 1 3 4 3 3 2 0 3-6 2-7 3-6 2-1 3 1 3 7 2 1 3-5 2-7 3 5 2-3 3-2 2 3 3 3-17 4-2 5-2 5-2 2-2 5-2 5-2 3-2-1-2-1-2 0-2-2-2-2-2-1-2-4-2-4-2 4-2 7-2 3-2 0-2 0-2 1-2-1-2 0-2-2-2-1-2 2-2 1-2 1-2 1-2 3-2 7-2 3-2 0-2 3-2 4-2 4-2-1-2-4-2-4-2 1-2 0-2-4-2-6-2 5-2 13-2 7-2 5-2 0-1-3-2 1-2-1-2-4-2-2-2 0-2 1-2 4-2-1-2-7-2-1-2 8-2 2-2 1-2 1-2 0-2 1-2 3-2 4-2-4-2 0-2 5-2 1-2 0-2 2-2 3-2-2-2 0-2 1-2 2-2 4-2-2z"/></g></g><g filter="url(#tx)"><g transform="scale(0.5)" fill="url(#gj)" stroke="#201000" stroke-opacity="0.16" stroke-width="1.1" stroke-linejoin="round"><path transform="translate(26.3 20.0)" d="M1050 1534l3 0 2 3 3 2 3-3 2-2 3 0 2 2 3-1 2-2 3-1 2 3 3 0 2-4 3-7 2-6 3 0 2 2 3-2 2-4 3-3 2-3 3-3 2-3 3 4 2 4 3-1 2-3 3-2 2-3 3-9 2-8 3-6 2-4 3 2 2 2 3 0 2-1 3 0 2-3 3-2 2-1 3-4 2-3 3-3 2-3 3-6 2-8 3 6 2 3 3 2 2 4 3 0 2-9 3-7 2 5 3 5 3 4 2 3 3-2 2-3 3-6 2-9 3 1 2 0 3-5 2-7 3-4 2-3 3-5 2-3 3 3 2-2 3-3 2-5 3-1 2 4 3 2 2-3 3 2 26-15-3 3-3 6-4 5-3 7-3 5-3 3-3-3-3 2-3 1-3 1-3 0-3 1-3 1-3-1-3-1-3 5-3 2-3-1-3 3-3-1-3 11-3 10-3 5-3-2-3-3-3 1-3-5-3-10-3 2-3 4-3 5-3 2-3 3-3 0-4 0-3-2-3 1-3 11-3 5-3 7-3 6-3 2-3 1-3-8-3 1-3 4-3 5-3 9-3 1-3-2-3 4-3 4-3 1-3-4-3 0-3 2-3 6-3 8-3 8-3 4-3 0-3-1-3 3-3-3-3 1-3 2-3 0-4 0-3 0-3 7-3 1-3 6-3 7-3-1-3-2-3 0-3 0-3 2-3 3z"/><path transform="translate(31.6 24.0)" d="M1030 1550l3-3 3-2 3 0 3 0 3 2 3 1 3-6 3-7 3-1 3-7 3 0 3 0 3 1 3-2 3-1 3 2 3-2 3 0 3 0 3-4 4-8 3-8 3-5 3-2 3-1 3 4 3-1 3-4 3-4 3 2 3 0 3-10 3-5 3-4 3-1 3 9 3-2 3-2 3-6 3-7 3-5 3-10 3-2 3 2 3 1 3-1 3-3 3-1 3-5 3-4 3-2 3 9 4 5 3-1 3 3 3 2 3-5 3-10 3-11 3 2 3-3 3 0 3-2 3-5 3 1 3 1 3-1 3-1 3 0 3-1 3-1 3-2 3 3 3-2 3-5 3-8 3-5 3-6 3-3 18 17-4-2-3-3-3-2-4-5-3 5-3 8-4 8-3 8-3 8-4 0-3 2-3-4-4 2-3 6-3-1-4 2-3-1-3-6-4 1-3 2-3 6-4-7-3 13-3 11-4-1-3-10-3-2-4 0-3 3-3-5-4-1-3 9-3-4-4 0-3 4-3 2-4 3-3 6-3-1-4 7-3 5-3 12-4 4-3 3-3 3-4 2-3 1-4-4-3-2-3 6-4 0-3 6-3 2-4 0-3 0-3 6-4 7-3 3-3 2-4 1-3 0-3 2-4-1-3 1-3 2-4 0-3 11-3 8-4 3-3-1-3-1-4 2-3 0-3-2-4 3-3 2-3 0-4 4-3 5z"/><path transform="translate(36.8 28.0)" d="M1018 1557l3-5 3-4 4 0 3-1 3-4 4 3 3-1 3-2 4 1 3 1 3-3 4-8 3-11 3 1 4-3 3-1 4 1 3-2 3 0 4-1 3-2 3-2 4-8 3-6 3 1 4-1 3-2 3-6 4 0 3-6 3 2 4 5 3-2 3-1 4-4 3-3 3-4 4-12 3-4 3-8 4 1 3-6 3-2 4-2 3-5 3 1 4 4 3-9 3 0 4 5 3-2 3 0 4 1 3 11 3 1 4-12 3-13 3 7 4-6 3-1 3-1 4 5 3 1 3-2 4 1 3-6 3-2 4 4 3-2 3 0 4-8 3-8 3-8 4-7 3-6 3 5 4 2 3 3 3 2 14-5-3 9-4 5-4 6-3 0-4-3-3-1-4-5-3 5-4 9-3 7-4 4-3 4-4 5-4 2-3 2-4-2-3-3-4 3-3-6-4 0-3-1-4 0-4 6-3 6-4 5-3 0-4 2-3-3-4-2-3 2-4-8-4 2-3 1-4 2-3 4-4 2-3 2-4 1-3 2-4 6-3 7-4 4-4 0-3 11-4 4-3 5-4 2-3 2-4-2-3 9-4 7-4 1-3-4-4-2-3 2-4-1-3 3-4 4-3 6-4-1-4 2-3-1-4 7-3 6-4 4-3 0-4-13-3 16-4-2-3 3-4 5-4-4-3-5-4 11-3 3-4-3-3 6-4 13-3 5z"/><path transform="translate(42.1 32.0)" d="M1009 1571l4-6 3-13 4-6 4 3 3-2 4-11 3 4 4 4 3-5 4-3 3 2 4-16 3 13 4 0 4-3 3-7 4-6 3 1 4-3 3 1 4-6 3-4 4-3 4 1 3-1 4 2 3 4 4-2 3-7 4-9 3 2 4-1 4-3 3-5 4-4 3-10 4-1 3-4 4-7 3-6 4-2 3-1 4-2 4-2 3-4 4-2 3-1 4-2 3 9 4-3 3 2 4 3 4-2 3 0 4-5 3-6 4-6 3 1 4 0 3 0 4 6 4-3 3 3 4 3 3-3 4-2 3-5 4-4 3-3 4-7 3-10 4-5 4 5 3 1 4 3 3 0 4-6 3-5 4-8 11-2-3 8-4 6-4 10-3 4-4 8-4 3-3 2-4-5-4-4-4 1-3 5-4 5-4-1-3 7-4 2-4 5-4 2-3 3-4-2-4-3-3 2-4-7-4 2-4 4-3 2-4 6-4 1-3 0-4-2-4 2-4-2-3 5-4 0-4-6-3-1-4 5-4 5-4-2-3 4-4 5-4 1-3 1-4 3-4 4-4 10-3 6-4 6-4 0-3 5-4 8-4 4-4-8-3-1-4 12-4-2-3 0-4 5-4 6-4 8-3-2-4 2-4 3-3-1-4 6-4 1-4 1-3 1-4-3-4-5-3 4-4 3-4 5-4 0-3 7-4 4-4 1-3-1-4 1-4 12z"/><path transform="translate(47.4 36.0)" d="M1003 1570l4-13 3-1 4 1 4-1 4-4 3-6 4 0 4-6 3-3 4-4 4 5 4 4 3-2 4-1 4-1 3-6 4 1 4-3 3-1 4 1 4-8 4-6 3-5 4 0 4 2 3-12 4 1 4 8 4-4 3-8 4-5 4 0 3-5 4-7 4-10 4-3 3-4 4-1 4-1 3-5 4-4 4 2 4-5 3-4 4 0 4 6 3 0 4-5 4 2 4-2 3 2 4 1 4-2 3-6 4-2 4-3 4-3 3 8 4-3 4 3 3 2 4-3 4-1 4-6 3-2 4-7 4 2 3-5 4-6 4-1 4 5 3 4 4-1 4-4 3-8 4-3 4-10 4-7 3-8 10 25-3-13-4 11-4 7-4 8-4 5-4 9-3 0-4-5-4-3-4-2-4-9-4 11-3 3-4 6-4 6-4 3-4 0-4 4-3 1-4-3-4 9-4-2-4-4-4 0-4 0-3 9-4 1-4 3-4-6-4 3-4-4-3 4-4-7-4 4-4-1-4-3-4 2-3 6-4 4-4 1-4 4-4 4-4 9-3 2-4 7-4 3-4-2-4 5-4 4-3 8-4 8-4-3-4-5-4 6-4 5-3 2-4 7-4 1-4 8-4-4-4-5-3 2-4 8-4 4-4 3-4-5-4-5-4-10-3 12-4 8-4-1-4 2-4-1-4 1-3-2-4 8-4 5-4-4-4 3z"/><path transform="translate(52.6 40.0)" d="M998 1552l4-3 4 4 4-5 3-8 4 2 4-1 4 1 4-1 4 0 3-8 4-11 4 9 4 5 4 5 4-3 3-3 4-9 4-2 4 5 4 4 4-8 3-1 4-7 4-2 4-5 4-6 4 6 3 2 4-8 4-8 4-4 4-4 4 1 3-3 4-7 4-2 4-9 4-4 4-4 4-1 3-4 4-6 4-2 4 3 4 1 4-4 3 7 4-4 4 4 4-2 4 5 4-3 3-1 4-9 4 0 4 0 4 4 4 2 3-8 4 2 4-1 4-4 4 0 4-3 3-6 4-6 4-3 4-11 4 9 4 3 3 2 4 5 4 0 4-9 4-5 4-8 3-7 4-11 4 13 9 18-4 0-4 1-3 4-4-2-4 0-4 9-4 2-4-6-4-6-4-1-4-1-4 5-4 2-4-5-4 4-4 6-4 8-4 3-3 6-4 2-4 1-4 1-4 4-4 4-4-5-4 7-4-1-4-2-4 3-4 1-4-5-4 3-4 0-3-3-4-4-4-3-4-9-4 5-4 5-4 8-4 10-4-7-4 10-4 22-4 12-4 2-4 1-4 0-4 0-3-9-4 2-4-10-4 8-4 7-4 7-4 11-4 4-4 0-4-4-4 7-4 5-4-4-4 3-4 2-4-8-3 3-4 3-4 3-4 1-4 4-4 0-4-6-4-2-4 1-4 3-4 9-4 5-4 1-4 1z"/><path transform="translate(57.9 44.0)" d="M994 1553l4-2 4-1 4-5 4-9 4-3 4-1 4 2 4 6 4 0 3-3 4-1 4-3 4-3 4-4 4 9 4-3 4-3 4 4 4-5 4-6 4 3 4 0 4-4 4-11 4-7 3-7 4-8 4 11 4-3 4 9 4 0 4 0 4 0 4-3 4-12 4-22 4-10 4 7 4-10 4-8 3-5 4-5 4 9 4 3 4 5 4 2 4 0 4-3 4 6 4-2 4-2 4 1 4 1 4-7 4 6 4-5 3-4 4-1 4 0 4-3 4-6 4-3 4-8 4-6 4-4 4 5 4-2 4-5 4 1 4 2 4 5 4 6 3-2 4-9 4 1 4 1 4-4 4-1 4 1 9 0-4 5-5 10-4 2-4-6-4 3-4 0-4-5-4-14-4-1-4-3-4-3-4 11-4 8-4 0-4 11-4-5-4-4-4 0-4 10-4 6-4 3-4 7-4 5-4 3-4-1-4 6-4 0-4-3-4 2-4 0-4 0-4 0-4 2-4-2-4-3-4 0-4 2-4-8-4-3-4 15-4-1-4 4-4 10-4 15-4 8-4 13-4 7-4-5-4-1-4-10-4-7-4-2-4 4-4 12-4 11-4 4-4-2-4 10-4 0-4-3-5 0-4 7-4 1-4-3-4 1-4 6-4 0-4 0-4-4-4 0-4 0-4-2-4-9-4 1-4 8-4 15-4 3-4-2-4-4z"/><path transform="translate(63.2 48.0)" d="M991 1544l4 4 4 3 4-4 4-15 4-8 4-1 4 9 4 2 4 1 4-1 4 4 4 0 4 0 4-6 4-1 4 3 4-1 4-7 4 1 4 2 4 0 4-10 4 2 4-4 4-11 4-12 4-4 4 3 4 6 4 10 4 1 4 5 4-7 4-13 5-7 4-15 4-10 4-4 4 0 4-15 4 3 4 8 4-2 4 0 4 3 4 2 4-2 4 0 4 0 4 1 4-3 4 3 4 0 4-6 4 1 4-3 4-5 4-6 4-4 4-5 4-10 4-1 4 4 4 5 4-11 4 0 4-8 4-11 4 3 4 3 4 2 4 14 4 5 4 0 4-3 4 5 4-2 4-10 4-5 8 11-4 7-4 5-4 2-4 1-4 3-4-9-4-8-5-11-4-12-4-3-4 3-4 14-4 15-4 11-4 5-4-2-4-5-4-3-4-4-5-1-4 10-4 3-4 6-4 6-4 6-4-4-4 4-4 1-4 4-4 2-4 1-5 1-4-3-4 4-4 3-4 1-4 6-4 5-4-5-4-4-4 0-4 6-4 7-5 11-4 17-4 9-4 6-4-3-4-5-4-7-4-5-4-2-4 1-4 13-4 8-4 3-5 3-4 0-4-3-4 0-4 5-4 1-4 4-4 1-4 0-4 0-4 0-4-7-5-8-4 1-4 11-4-3-4 0-4 8-4 0-4 3-4 1-4-1-4 5z"/><path transform="translate(68.4 52.0)" d="M988 1549l4-5 5 1 4-1 4-2 4-1 4-8 4 0 4 3 4-11 4-1 4 8 4 7 4 0 5 0 4 0 4-1 4-4 4-1 4-4 4-1 4 3 4 0 4-3 4-3 4-8 4-13 5-1 4 2 4 5 4 7 4 5 4 3 4-5 4-9 4-17 4-12 4-7 4-5 5-1 4 4 4 5 4-5 4-6 4-1 4-3 4-3 4 2 4-1 4-1 4-1 5-5 4-1 4-4 4 4 4-6 4-6 4-5 4-4 4-10 4 1 4 4 4 3 5 5 4 2 4-5 4-11 4-15 4-14 4-3 4 3 4 12 4 12 4 7 4 9 4-2 5-2 4-2 4-5 4-6 7-4-4 6-4 8-4 6-4-1-5 0-4-13-4-4-4-3-4-4-4-2-4 7-4 7-5 4-4 13-4 14-4 2-4-8-4 0-4-3-5 1-4 1-4 2-4 3-4 2-4 6-4 8-4 1-5 2-4 2-4-4-4-4-4 10-4 1-4-3-5 6-4 12-4 0-4 1-4 9-4 1-4 2-4 2-5 6-4 7-4 1-4 11-4 6-4-1-4-1-5 6-4-2-4-7-4 2-4 5-4 1-4 6-4-1-5-11-4 5-4 6-4-7-4 7-4-1-4-3-5-3-4-5-4 5-4 1-4 7-4 2-4 2-5-4-4 0-4-3-4-4-4 5-4 9-4 4-4-1z"/><path transform="translate(73.7 56.0)" d="M986 1545l4 1 5-4 4-9 4-5 4 4 4 3 4 0 4 4 4-2 5-1 4-8 4-1 4-5 4 5 4 3 4 3 5 1 4-7 4 7 4-5 4-6 4 11 4 1 5-6 4-1 4-4 4-3 4 7 4 2 4-6 4 1 5 1 4-6 4-10 4-1 4-8 4-6 4-2 5-2 4-1 4-9 4 0 4-1 4-12 4-6 4 3 5-1 4-10 4 5 4 3 4-1 4-2 4-2 5-8 4-5 4-3 4-3 4-2 4 0 4-1 4 3 5-1 4 8 4-2 4-13 4-14 4-4 4-6 5-8 4 2 4 4 4 3 4 4 4 14 4-1 4 2 5-7 4-8 4-6 7 4-4 5-5 10-4 4-4 3-4-6-4 0-4-5-5-2-4 8-4-2-4 3-4 4-4 3-5-1-4 3-4 13-4 2-4-4-5 1-4-2-4-3-4 4-4 11-4 3-5-1-4 5-4 5-4-2-4-1-4-1-5 1-4 1-4 1-4 1-4 1-5 7-4 1-4 2-4 12-4 6-4 8-5 4-4 5-4 2-4 7-4 7-4 3-5-1-4-2-4 8-4-3-4-7-5-1-4 9-4-2-4 5-4-2-4 2-5-1-4 2-4 1-4-5-4-11-4-5-5 0-4 9-4 7-4 12-4 3-5-7-4-5-4-9-4-8-4-8-4 15-5 10-4-2-4 0-4 11z"/><path transform="translate(78.9 59.9)" d="M985 1544l4-10 4-1 4 2 4-10 4-15 5 8 4 8 4 9 4 5 4 8 5-4 4-12 4-7 4-9 4 0 4 6 5 10 4 6 4-2 4-1 4 0 4-1 5 1 4-5 4 2 4-8 4 1 5 6 4 3 4-7 4 2 4 0 4-2 5-8 4-6 4-3 4-5 4-4 5-8 4-5 4-13 4-2 4-1 4-7 5-1 4 0 4-1 4-2 4-1 4 2 5 1 4 1 4-4 4-6 4 1 5-2 4-12 4-3 4 2 4 2 4-1 5 4 4-2 4-13 4-3 4 1 4-3 5-4 4-3 4 2 4-8 4 2 5 5 4 1 4 5 4-3 4-4 4-10 5-5 6 4-4 5-4 5-4 2-5 17-4 5-4-2-4 0-4-3-5-3-4-6-4 5-4-3-5-7-4 1-4 16-4 10-4 0-5-1-4-1-4 0-4-6-4 4-5 3-4 1-4 4-4 15-4 5-5-2-4 0-4 1-4-6-5 6-4-5-4 3-4-2-4 0-5 7-4 6-4 7-4 19-4 9-5 1-4 6-4 3-4 0-5 3-4 2-4 3-4 0-4 0-5-2-4-1-4 5-4 1-4 0-5 1-4-2-4 3-4 6-4 5-5-14-4 3-4-5-4-8-5 3-4 13-4 5-4 10-4 0-5-11-4-12-4-12-4-5-4 8-5 12-4 0-4 5-4 0-5 11z"/><path transform="translate(84.2 63.9)" d="M983 1547l4-10 5-1 4-5 4 0 4-11 5-9 4 5 4 13 4 11 4 11 5 0 4-9 4-6 4-13 4-3 5 8 4 6 4-4 4 14 4-4 5-6 4-4 4 3 4-2 5 0 4-1 4-5 4 2 4 2 5-1 4 0 4-3 4-2 4-3 5 0 4-3 4-5 4-2 4-8 5-20 4-7 4-6 4-7 5 0 4 2 4-3 4 5 4-6 5 6 4-1 4 0 4 2 4-5 5-14 4-4 4-2 4-3 5-4 4 6 4 0 4 1 4 2 5-1 4-10 4-16 4 0 4 6 5 3 4-4 4 6 4 3 4 2 5 0 4 2 4-4 4-17 5-3 4-5 4-5 6 3-4 9-4 6-4 4-5 11-4 5-4 0-4-4-5 0-4-3-4 2-4-7-5 1-4-2-4 1-4 10-5-1-4 3-4 7-4-1-4-4-5-1-4 2-4 4-4 5-5-2-4 4-4 7-4 5-5 5-4 0-4 4-4 4-5-2-4 0-4-5-4 4-5 6-4 6-4 5-4 8-5 16-4-1-4 6-4-2-4 6-5 9-4 0-4 1-4-1-5 3-4-3-4 0-4 2-5-1-4 2-4-1-4 4-5 6-4 2-4-1-4 3-5-4-4 3-4-2-4 1-4 3-5-3-4 3-4-3-4-5-5-11-4-10-4-1-4 10-5 6-4-9-4 12-4 3-5 3z"/><path transform="translate(89.5 67.9)" d="M982 1541l4-4 5-3 4-12 4 9 4-6 5-10 4 1 4 10 4 12 5 4 4 4 4-4 4 3 4-2 5-2 4 2 4-3 4 4 5-3 4 1 4-2 4-6 5-4 4 1 4-2 4 2 5-3 4 0 4 3 4-3 5 1 4 0 4-1 4-9 5-6 4 2 4-6 4 1 4-16 5-8 4-5 4-6 4-6 5-3 4 4 4 0 4 2 5-4 4-4 4 0 4-4 5-5 4-8 4-4 4 2 5-5 4-4 4-1 4 0 4 4 5 2 4-8 4-2 4 0 5-9 4-1 4 1 4 0 5 7 4-3 4 4 4-1 5 4 4 0 4-5 4-11 5-4 4-6 4-9 6 4-4 5-4 8-5 4-4 8-4-3-4 6-5-3-4 4-4 0-4-3-5-1-4-3-4 4-4 6-5 3-4 5-4-6-5 12-4-3-4-6-4-2-5 3-4 5-4-11-4 13-5 9-4 1-4 4-4 6-5 2-4 0-4 1-4-1-5 1-4 3-4 0-4 6-5 5-4 9-4 5-5 0-4 4-4 5-4 5-5 13-4 5-4 4-4 2-5-2-4 5-4 2-4-1-5 5-4-6-4 0-4 0-5-2-4-6-4 8-5 8-4 5-4 0-4-1-5 1-4-7-4-1-4-2-5 6-4 3-4-8-4-19-5 4-4-1-4 1-4 13-5 3-4-3-4 11-4 8z"/><path transform="translate(94.7 71.9)" d="M981 1555l5-9 4-11 4 3 4-3 5-13 4-1 4 1 4-4 5 19 4 8 4-3 4-6 5 2 4 1 4 8 4-2 5 1 4 0 4-5 4-8 5-8 4 6 4 2 5 0 4 0 4 6 4-5 5 2 4-3 4-5 4 2 5-2 4-4 4-5 4-13 5-5 4-4 4-5 4 1 5-6 4-9 4-5 5-5 4-1 4-3 4-1 5 1 4-1 4 0 4-2 5-6 4-4 4-1 4-9 5-13 4 11 4-5 4-3 5 2 4 6 4 3 4-11 5 6 4-6 4-3 5-6 4-4 4 3 4 1 5 3 4 0 4-3 4 2 5-6 4 3 4-7 4-5 5-8 4-5 6 6-4 3-5 0-4 5-4 8-5-1-4 5-4-2-4 2-5 5-4-3-4-1-4 3-5 7-4-4-4 1-5 12-4 1-4-6-4 7-5-1-4-5-4 3-5 6-4 0-4 1-4 4-5 11-4 4-4-1-4-2-5 3-4-2-4 1-5-1-4 3-4 8-4 0-5 5-4 8-4 0-5-1-4 2-4 8-4 16-5 12-4 4-4-5-5 9-4 1-4 3-4 1-5 4-4 3-4-3-4-10-5 4-4 6-4-8-5 1-4 5-4 8-4 1-5-7-4-10-4 7-5-2-4 3-4 5-4 3-5-9-4-4-4-2-4 2-5 5-4 3-4 5-5 5-4 4-4 9z"/><path transform="translate(100.0 75.9)" d="M981 1561l4-8 4-4 4-6 5-5 4-3 4-5 5-2 4 2 4 4 4 9 5-3 4-5 4-3 4 2 5-7 4 11 4 7 5-2 4-8 4-4 4-2 5 8 4-6 4-4 5 11 4 2 4-3 4-4 5-1 4-3 4-1 5-9 4 5 4-4 4-12 5-15 4-9 4-1 4 0 5 0 4-8 4-5 5 1 4-9 4-3 4 1 5-1 4 2 4-3 5 2 4 1 4-4 4-10 5-5 4-1 4 0 4-6 5-3 4 6 4 0 5-7 4 6 4-1 4-12 5-1 4 4 4-6 5-4 4 1 4 3 4-5 5-2 4 3 4-6 4 1 5-8 4-5 4 0 5-3 5 0-4 4-4 5-4 4-5 5-4-5-4 3-5 11-4 1-4-1-5-4-4 2-4-2-4 1-5 10-4 5-4 4-5 4-4-3-4-15-4 13-5 1-4-6-4 3-5 13-4 9-4 3-4 7-5 3-4-10-4 4-5-7-4 0-4-1-5 6-4 13-4 5-4 7-5-1-4 0-4-1-5-7-4 0-4 11-4 21-5 16-4 5-4 1-5-3-4 0-4 0-5 0-4 4-4-1-4 4-5 0-4-4-4-2-5 2-4-2-4 4-4 6-5-5-4-1-4-6-5-4-4 3-4 6-4 4-5 3-4-4-4-3-5-5-4 1-4 12-5 9-4 1-4 9-4 9-5 7z"/><path transform="translate(105.3 79.9)" d="M980 1571l4-7 5-8 4-9 4-1 5-10 4-12 4 0 4 4 5 3 4 4 4-3 5-4 4-6 4-3 4 5 5 5 4 1 4 5 5-5 4-5 4 2 4-2 5 2 4 4 4 0 5-4 4 2 4-5 5 0 4 0 4 0 4 3 5-1 4-5 4-16 5-21 4-11 4 0 4 7 5 2 4-1 4 2 5-8 4-5 4-12 4-7 5 1 4 0 4 7 5-4 4 10 4-3 5-7 4-3 4-9 4-13 5-3 4 6 4-1 5-13 4 15 4 4 4-5 5-4 4-5 4-10 5 0 4 1 4-2 5 4 4 1 4-1 4-10 5-4 4 5 4-4 5-5 4-5 4-4 6 5-5 5-4 8-4 3-4 2-5 6-4-4-4 11-5 3-4 1-4-11-5-11-4-5-4 2-4 13-5 8-4 1-4 9-5-1-4-3-4 0-5 0-4 4-4 0-4 9-5 16-4 5-4 3-5-3-4 0-4-5-5-7-4-3-4 8-4 15-5 2-4 8-4 2-5-1-4 2-4-4-5 1-4 5-4 9-5 8-4 10-4 7-4 7-5-6-4-2-4 1-5-16-4 9-4 3-5 1-4 1-4 3-4 11-5 2-4-4-4 0-5 4-4-2-4-7-5-11-4-3-4 6-4 17-5 7-4 3-4-3-5-15-4-1-4 2-5 0-4 15-4 12-4 2-5 7-4 5z"/><path transform="translate(110.5 83.9)" d="M980 1566l4-6 4-7 5-1 4-13 4-15 4 0 5-2 4 1 4 16 5 2 4-3 4-7 5-17 4-6 4 3 4 12 5 6 4 2 4-4 5 0 4 4 4-2 5-11 4-3 4-1 5-1 4-3 4-9 4 16 5-1 4 2 4 6 5-7 4-6 4-11 5-7 4-10 4-4 4-1 5 3 4-1 4 0 5-2 4-8 4-2 5-14 4-9 4 3 4 7 5 5 4 0 4 3 5-3 4-5 4-16 5-8 4-1 4-4 4 0 5 0 4 4 4 0 5-9 4 0 4-9 5-13 4-2 4 5 5 11 4 11 4 0 4-3 5-12 4 5 4-7 5-1 4-4 4-7 5-6 5 18-4-4-5 7-4 2-4 7-4 4-5 4-4 1-4-4-5-1-4-10-4-15-5-5-4 3-4 11-5 12-4 5-4 4-4-1-5 1-4 7-4 7-5 0-4 8-4 4-5 5-4 6-4-1-5 3-4 1-4-3-5-5-4-2-4 4-4 4-5 6-4-2-4 1-5 16-4-6-4 7-5 4-4 8-4 7-5 3-4-1-4-3-4 8-5 3-4 3-4-1-5-1-4-6-4 0-5-1-4 5-4 11-5 1-4 5-4 2-4 1-5-4-4-4-4 1-5-6-4 2-4 5-5 8-4 4-4 6-5 3-4-1-4-8-5-7-4 3-4 3-4 10-5 9-4 7-4 4z"/><path transform="translate(115.8 87.9)" d="M979 1565l5-4 4-7 4-9 5-10 4-3 4-3 5 7 4 8 4 1 4-3 5-6 4-3 4-9 5-5 4-2 4 6 5-1 4 5 4 4 5-2 4-2 4-5 4-1 5-11 4-5 4 1 5 0 4 6 4 1 5 1 4-3 4-3 5-8 4 3 4 1 5-3 4-7 4-8 4-4 5-7 4 6 4-16 5-1 4 2 4-6 5-4 4-4 4 3 5 4 4 3 4-1 4-3 5 1 4-6 4-4 5-5 4-8 4 0 5-7 4-7 4-1 5 1 4-4 4-5 4-12 5-11 4-2 4 5 5 14 4 10 4 2 5 4 4-1 4-5 5-4 4-7 4-2 5-7 4 5 5-3-4 4-4-1-5 1-4 9-4 7-5 4-4 0-4 1-5-9-4-6-4-8-4-6-5 0-4 7-4 12-5 5-4 9-4 1-5 6-4 11-4 2-5 2-4 5-4 8-5 0-4-4-4-1-5 8-4-1-4-10-4 6-5-3-4 1-4 3-5 6-4 12-4 4-5-3-4 2-4 9-5 9-4 3-4-4-5 1-4-9-4-5-5 5-4 17-4 10-4 2-5 2-4-6-4-7-5 8-4 3-4 4-5 7-4-2-4-2-5 4-4-3-4-1-5 2-4 4-4-2-5 0-4 3-4 13-4-1-5 2-4 8-4-6-5-10-4 7-4 8-5 3-4 8-4 4-5 1z"/><path transform="translate(121.1 91.9)" d="M979 1567l4-1 5-5 4-8 4-3 5-8 4-7 4 10 5 6 4-8 4-1 5 0 4-12 4-3 5-1 4 3 4-5 4-2 5 2 4 2 4-4 5 2 4 2 4-7 5-4 4-3 4-7 5 6 4 6 4-2 5-2 4-10 4-17 5-5 4 5 4 10 4-2 5 4 4-3 4-9 5-9 4-2 4 3 5-4 4-11 4-7 5-3 4 0 4 2 5-5 4 9 4 1 5-7 4 0 4 5 4-1 5-8 4-5 4-2 5-2 4-11 4-6 5-1 4-9 4-5 5-12 4-7 4 0 5 7 4 7 4 6 5 9 4-1 4 0 4-4 5-7 4-8 4-2 5 1 4-4 5 4-4-2-4-1-4 2-5 5-4 9-4 8-5 1-4-2-4-4-5-8-4-9-4 4-5-4-4-5-4 0-5 22-4 13-4 6-5 10-4 3-4 4-5 6-4-2-4 6-5-1-4-2-4 3-4 2-5-3-4 0-4-3-5 0-4 13-4 2-5 5-4 6-4 3-5 5-4 0-4 7-5 4-4 4-4-2-5-2-4-14-4-15-5 1-4 15-4 25-4 5-5 1-4-6-4 3-5 8-4 2-4 3-5 3-4 2-4 0-5 1-4-4-4 1-5 6-4 5-4 1-5 1-4-8-4 7-5 8-4-1-4 6-5 1-4 1-4-1-4 3-5 6-4 4-4 3-5-1z"/><path transform="translate(126.3 95.9)" d="M979 1566l4 2 5-4 4-4 4-6 5-3 4 1 4-1 5-1 4-5 4 1 4-9 5-7 4 8 4-1 5 0 4-6 4-6 5-1 4 4 4 0 5-1 4-2 4-2 5-4 4-2 4-8 5-2 4 5 4 0 5-6 4-25 4-15 5-1 4 15 4 14 4 2 5 2 4-4 4-4 5-7 4 0 4-5 5-3 4-6 4-5 5-2 4-12 4-1 5 3 4 0 4 3 5-1 4-3 4 1 5 1 4-6 4 3 4-7 5-3 4-4 4-10 5-6 4-13 4-21 5 0 4 5 4 3 5-4 4 9 4 9 5 3 4 2 4-1 5-7 4-10 4-5 5-2 4 1 4 3 6-2-5 3-4 3-4 4-5 4-4-5-4 9-5 6-4-1-4-8-5-11-4 3-4-1-5 0-4-3-4 2-5 9-4 14-4 14-5 11-4 2-4-1-5 4-4-11-4 4-4 9-5 4-4 1-4-4-5 5-4-3-4-1-5 4-4 5-4 9-5 5-4 7-4 0-5 6-4 3-4 2-5 2-4 6-4 4-5-11-4 3-4-16-5-12-4 6-4 16-5 1-4 16-4 1-4 7-5-8-4 12-4 6-5 2-4 5-4-1-5-2-4 2-4 4-5 9-4 8-4 1-5-2-4-1-4 4-5 5-4 4-4 2-5-3-4 2-4-2-5-1-4-1-4 2-5 6-4 1z"/><path transform="translate(131.6 99.9)" d="M979 1564l4-1 5-6 4-2 4 1 4 1 5 2 4-2 4 3 5-2 4-4 4-5 5-4 4 1 4 3 5-2 4-8 4-9 5-4 4-2 4 2 5 1 4-5 4-1 5-7 4-12 4 8 5-6 4-2 4-15 5-2 4-15 4-7 5 12 4 16 4-2 4 10 5-3 4-7 4-1 5-3 4-3 4-5 5-1 4-7 4-5 5-9 4-5 4-4 5 1 4 4 4-6 5 4 4-1 4-4 5-9 4-4 4 11 5-4 4 1 4-2 5-11 4-13 4-15 4-9 5-2 4 4 4 0 5 0 4-3 4 11 5 8 4 2 4-7 5-9 4 5 4-3 5-5 4-3 4-3 6 11-5 0-4-3-4 5-5 4-4 1-4 3-5 4-4-7-4 2-5-3-4 1-4 0-5-2-4-7-4 5-5 13-4 7-4 12-5 5-4 3-4-7-4 0-5-1-4 8-4 6-5 2-4 9-4 3-5 2-4 3-4-4-5 3-4 3-4 8-5 2-4 2-4 1-5 5-4 0-4 4-5 7-4-3-4 10-5-6-4 7-4-5-5-12-4-2-4 4-5 10-4 3-4 5-5 4-4 3-4 3-4 3-5 14-4 0-4-1-5 1-4 4-4 6-5 10-4 8-4-3-5 4-4-3-4 3-5-2-4 3-4 6-5 2-4-5-4-4-5-1-4 1-4-2-5 6-4 6z"/><path transform="translate(136.8 103.9)" d="M979 1566l4-7 4-6 5 3 4-1 4 1 5 4 4 4 4-2 5-6 4-3 4 2 5-3 4 4 4-5 5 4 4-9 4-10 5-5 4-5 4 0 5 1 4-1 4-13 5-4 4-3 4-2 5-5 4-5 4-3 5-10 4-4 4 2 4 12 5 5 4-7 4 6 5-10 4 3 4-6 5-5 4 1 4-6 5-1 4-2 4-2 5-8 4-3 4-3 5 4 4-2 4-3 5-3 4-8 4-3 5-6 4-7 4 0 5 0 4 8 4-4 5-5 4-12 4-7 5-13 4-5 4 7 4 2 5 0 4-1 4 3 5-2 4 7 4-4 5-3 4-1 4-4 5-4 4 2 4 1 6 11-5-5-4-13-4 9-5 1-4 0-4 4-5 7-4-6-4-3-5 5-4-5-4-1-5-5-4 7-4-5-5 21-4 17-4 2-5 6-4-1-4-6-4-4-5 2-4 7-4 8-5 2-4 6-4 7-5-1-4 3-4 11-5-1-4 0-4 0-5-7-4-5-4 11-5 1-4-3-4 5-5 3-4-1-4 11-5 10-4 2-4 5-5-10-4 4-4 0-5 0-4 5-4 5-5 4-4 4-4 1-4 3-5 7-4 9-4 4-5-2-4 8-4 5-5 8-4 3-4-2-5-6-4-2-4 3-5 3-4 3-4 4-5-9-4 4-4 1-5 0-4 1-4-3-5 4-4-8z"/><path transform="translate(142.1 107.9)" d="M979 1547l4 8 4-4 5 3 4-1 4 0 5-1 4-3 4 8 5-4 4-3 4-3 5-3 4 3 4 6 5 1 4-3 4-8 5-4 4-9 4 2 5-4 4-9 4-6 5-4 4-1 4-4 5-4 4-5 4-4 5-1 4 0 4-4 4 10 5-5 4-2 4-9 5-12 4 1 4-3 5-4 4 2 4-1 5-11 4 5 4 7 5 0 4 1 4 0 5-11 4-2 4 1 5-7 4-7 4-2 5-8 4-7 4-2 5 4 4 6 4 1 5-5 4-3 4-16 5-21 4 4 4-7 4 5 5 1 4 5 4-5 5 4 4 5 4-7 5-4 4 1 4-2 5-9 4 14 4 4 6 1-5-1-4-2-4-5-5 4-4 2-4 4-5 1-4-4-4 5-5 3-4-4-4 2-5-2-4 3-4 11-5 13-4 3-4 5-4 7-5 1-4-2-4-1-5-1-4 13-4 2-5 2-4-5-4 8-5 2-4 2-4 0-5-2-4 2-4 2-5-3-4 0-4 0-5-7-4 6-4 3-5 1-4 13-4 9-5 4-4 0-4 7-5-2-4 2-4 2-5 0-4 3-4 12-5-1-4 5-4 0-4 6-5 7-4 0-4 1-5 8-4 7-4 4-5 2-4 0-4-2-5-7-4-8-4-1-5 13-4 6-4 3-5 2-4-4-4 4-5-2-4-1-4-5-5 0-4 3z"/><path transform="translate(147.4 111.9)" d="M979 1548l4-3 4 0 5 5 4 2 4 1 5-3 4 3 4-1 5-4 4-5 4-14 5 1 4 8 4 7 5 2 4 0 4-2 5-3 4-8 4-7 5-2 4 1 4-8 5-6 4 0 4-5 5 1 4-12 4-3 5 0 4-2 4-2 4 2 5-7 4 1 4-5 5-8 4-14 4 0 5-4 4-6 4 7 5 0 4 1 4 2 5-2 4-1 4 1 5 0 4-2 4-1 5-9 4 5 4-2 5-2 4-13 4 1 5 2 4 1 4 0 5-8 4-5 4-3 5-13 4-11 4-3 5 2 4-2 4 5 4-4 5-4 4 3 4 0 5-4 4-2 4-4 5 4 4 3 4 0 6 7-5-3-4-6-4-1-5 4-4 7-4-3-5 5-4-5-4 4-5 4-4 8-4 0-5 2-4-1-4 5-5 8-4 7-4 6-4 6-5 4-4-5-4 2-5 5-4 2-4 7-5 1-4 4-4 2-5 2-4-1-4 0-5-2-4-3-4-3-5-5-4-6-4-1-5 0-4-2-4-3-5 11-4 10-4 10-5 6-4 12-4 2-5-1-4-1-4-2-5 1-4 11-4 13-5 2-4 2-4 6-4 0-5 10-4 3-4 4-5 2-4 5-4 2-5 4-4-7-4-10-5-15-4 1-4 10-5 14-4 12-4 5-5-2-4-12-4 9-5-4-4 0-4-7-5-2-4 2z"/><path transform="translate(152.6 115.9)" d="M979 1542l4-2 4 2 5 7 4 0 4 5 5-9 4 12 4 1 5-4 4-13 4-14 5-9 4-2 4 15 5 10 4 7 4-4 5-2 4-4 4-3 5-4 4-3 4-9 5 0 4-6 4-3 5-2 4-13 4-11 5-1 4 3 4 0 4 1 5-2 4-11 4-7 5-10 4-10 4-11 5 4 4 1 4 1 5 0 4 7 4 5 5 2 4 4 4 1 5 0 4 1 4-1 5-3 4-3 4-1 5-8 4-2 4-4 5-3 4 5 4-4 5-6 4-6 4-7 5-7 4-6 4 2 5-3 4 0 4-8 4-3 5-5 4 5 4-5 5 3 4-7 4-4 5 1 4 6 4 3 6-3-5 1-4-6-4-1-5-2-4 5-4 11-5 4-4 5-4 3-5 6-4 4-4 3-5 4-4-3-4 8-5 5-4 1-4 0-4 4-5 0-4-1-4 2-5 10-4 1-4 6-5 4-4 7-4 4-5-3-4-2-4 3-5 4-4-4-4-11-5-4-4-7-4-10-5-3-4 2-4 3-5 4-4 13-4 10-5 10-4 1-4 8-5 4-4-2-4 4-5 2-4-1-4 4-5 8-4 4-4 10-4 8-5 12-4 3-4 3-5 3-4 0-4-4-5-1-4 2-4-6-5 1-4 4-4 6-5 0-4 12-4 3-5 0-4-1-4 1-5-2-4-7-4-2-5-6-4-7z"/><path transform="translate(157.9 119.9)" d="M979 1536l4 7 4 6 5 2 4 7 4 2 5 0 4 0 4 0 5-3 4-12 4 1 5-7 4-4 4-1 5 7 4-3 4 1 5 4 4 1 4-3 5-4 4-3 4-12 5-8 4-10 4-4 5-8 4-4 4 2 5-2 4-5 4 3 4-5 5-7 4-2 4-10 5-10 4-13 4-4 5-2 4-3 4 4 5 9 4 8 4 3 5 11 4 5 4-5 5-3 4 3 4 2 5-4 4-7 4-4 5-6 4-1 4-10 5-2 4 1 4 1 5-5 4 1 4-2 5-4 4-9 4 3 5-4 4-3 4-4 4-6 5-2 4-6 4-4 5-11 4-5 4 2 5 1 4 6 4-1 6 0-5 4-4-10-4 1-5 0-4 4-4 10-5 8-4 4-4 5-5 8-4 3-4 1-5 3-4 12-4 2-5 2-4 0-4-1-4-1-5-4-4-5-4 5-5 10-4 9-4 4-5-1-4 16-4 6-5 3-4-4-4-3-5 8-4-4-4-10-5-8-4-5-4-5-5 2-4-5-4 4-5 4-4 5-4 5-5 11-4-8-4 9-5 3-4-3-4 5-5 0-4 4-4 6-5-3-4 2-4 21-4 13-5 14-4 2-4 3-5 5-4-4-4-9-5 2-4 10-4 1-5 8-4 1-4 4-5 0-4 4-4-1-5-1-4-2-4 4-5 1-4-3-4-4-5-7-4-6z"/><path transform="translate(163.2 123.9)" d="M979 1541l4 5 4 7 5 4 4 4 4-2 5-4 4 2 4 1 5 2 4-5 4 1 5-5 4-1 4-7 5-2 4-10 4-2 5 9 4 4 4-4 5-4 4-1 4-15 5-13 4-20 4-3 5 3 4-5 4-5 5 1 4-6 4 3 4-3 5-9 4 8 4-10 5-6 4-5 4-4 5-4 4 5 4-2 5 5 4 5 4 8 5 10 4 4 4-8 5 3 4 4 4-3 5-6 4-16 4 2 5-5 4-8 4-10 5-6 4 5 4 5 5 0 4 1 4 0 5-2 4-2 4-12 5-2 4-2 4-3 4-8 5-5 4-4 4-8 5-10 4-3 4-1 5-1 4 10 4-4 6 8-5-3-4-2-4-5-5 2-4 8-4 12-5 3-4-4-4 17-5 4-4-1-4 3-5-1-4 13-4 4-5 9-4-3-4-7-4-2-5-5-4-3-4 7-5 0-4 9-4 6-5 16-4 9-4 5-5-1-4 1-4 4-5 1-4-1-4-2-5-7-4-3-4-2-5 2-4 1-4-9-5 6-4 3-4 3-5 7-4 2-4-2-5-7-4 2-4-1-5 8-4 0-4-3-5 5-4 14-4 14-4 15-5 9-4 9-4 6-5-2-4-6-4-2-5-4-4 6-4 7-5 0-4 17-4 4-5-3-4 3-4-2-5-8-4 2-4 0-5-1-4 1-4-3-5 2-4 4z"/><path transform="translate(168.4 127.9)" d="M979 1558l4-4 4-2 5 4 4-2 4 1 5 0 4-2 4 8 5 2 4-2 4 2 5-4 4-17 4 1 5-8 4-5 4 4 5 1 4 6 4 2 5-6 4-9 4-8 5-16 4-13 4-15 5-5 4 4 4-1 5-8 4 1 4-2 4 7 5 2 4-1 4-7 5-4 4-3 4-5 5 8 4-1 4-1 5 1 4 4 4 6 5 2 4 1 4-1 5-4 4-1 4 1 5-5 4-9 4-15 5-6 4-10 4 0 5-7 4 3 4 5 5 2 4 7 4 3 5-8 4-4 4-14 5 2 4-3 4 0 4-4 5-17 4 4 4-3 5-12 4-8 4-2 5 5 4 2 4 3 6-5-5 5-4 0-4-3-5 6-4 1-4-2-5 5-4 1-4 12-5 7-4 3-4 7-5 4-4 3-4 1-5 12-4-6-4 2-4-3-5-1-4-1-4 13-5 4-4 9-4 0-5 2-4 8-4 9-5-1-4 3-4 4-5 2-4 0-4 0-5-1-4 5-4-2-5-7-4-9-4-5-5-5-4 14-4 2-5 3-4 9-4 0-5-1-4-1-4-9-5 0-4 0-4-3-5 8-4 13-4 15-4 21-5 15-4 6-4 3-5-8-4 4-4 2-5-8-4-7-4 8-5 3-4 15-4 2-5 3-4-9-4 7-5 2-4-1-4-5-5-7-4-2-4 7-5 6-4 5z"/><path transform="translate(173.7 131.9)" d="M979 1562l4-6 4-5 5-8 4 3 4 6 5 5 4 1 4-2 5-7 4 9 4-3 5-2 4-15 4-3 5-8 4 7 4 8 5-1 4-5 4 8 5-3 4-5 4-16 5-21 4-15 4-13 5-7 4 2 4 0 5 0 4 9 4 1 4 1 5 0 4-9 4-2 5-3 4-14 4 5 5 5 4 9 4 7 5 2 4-5 4 1 5 0 4 1 4-2 5-4 4-4 4 1 5-9 4-8 4-2 5 0 4-9 4-4 5-12 4 0 4 1 5 4 4-3 4 6 5-12 4-1 4-3 5-4 4-7 4-3 4-6 5-13 4 0 4-6 5 2 4-1 4-6 5 3 4 1 4-6 6 13-5-1-4-4-4-4-5-1-4 3-4 1-5 8-4 8-4 11-5 4-4 6-4 7-5 6-4-2-4 8-5 1-4-6-4 4-4-1-5 4-4 2-4 11-5 4-4 6-4-1-5 1-4 3-4-2-5 5-4 1-4 4-5 6-4 2-4 4-5 5-4 0-4-5-5-8-4-12-4-5-5 2-4 14-4 9-5 10-4 3-4-6-5-2-4-1-4-8-5-9-4-7-4 9-5 15-4 16-4 12-4 18-5 9-4-2-4 10-5 3-4 2-4 2-5-1-4-5-4-4-5 6-4 3-4 7-5 2-4-1-4-7-5 2-4 8-4-3-5-5-4-5-4 1-5 4-4 8z"/><path transform="translate(179.0 135.9)" d="M979 1556l4-8 4-4 5-1 4 5 4 5 5 3 4-7 4-3 5 7 4 1 4-2 5-7 4-3 4-5 5 4 4 4 4 1 5-2 4-1 4-4 5-10 4 2 4-9 5-18 4-12 4-16 5-14 4-9 4 6 5 9 4 8 4 1 4 2 5 6 4-3 4-10 5-9 4-14 4-1 5 4 4 12 4 8 5 5 4 1 4-6 5-3 4-3 4-6 5-4 4-1 4-4 5 1 4-3 4-1 5 1 4-5 4-4 5-12 4-2 4-4 5 1 4-4 4 7 5-2 4-8 4 2 5-6 4-7 4-5 4-5 5-10 4-8 4-9 5-1 4-3 4 1 5 4 4 5 4 0 6 10-5-6-4-4-4 1-5 0-4 7-4 4-5 7-4 4-4 5-5 6-4 9-4 4-5 6-4-1-4-2-5 8-4 7-4-2-4 2-5 3-4-3-4 8-5 5-4 0-4 4-5-2-4 5-4 0-5-3-4 1-4 0-5 5-4 10-4 5-5 2-4 1-4-2-5-13-4-9-4-2-5 4-4 12-4 15-5 6-4-1-4-8-5-6-4 11-4-4-5-2-4 1-4 10-5 11-4 12-4 9-4 7-5 2-4 3-4 4-5 4-4 9-4 10-5-4-4 0-4 0-5-10-4-5-4-4-5-3-4 5-4 6-5 12-4 7-4-4-5 0-4-11-4 1-5 3-4-4z"/><path transform="translate(184.2 139.9)" d="M979 1546l4 4 4-3 5-1 4 12 4-1 5 4 4-7 4-12 5-6 4-5 4 3 5 4 4 5 4 10 5 1 4-1 4 5 5-11 4-9 4-3 5-5 4-3 4-1 5-8 4-9 4-12 5-11 4-10 4-1 5 2 4 5 4-11 4 5 5 8 4 1 4-6 5-15 4-12 4-4 5 2 4 10 4 12 5 2 4-1 4-1 5-5 4-11 4-5 5 0 4-1 4 4 5-1 4-4 4 1 5-4 4 0 4-5 5-8 4 3 4-3 5-1 4 1 4-7 5-7 4 1 4 1 5-6 4-3 4-10 4-6 5-5 4-4 4-7 5-3 4-7 4-1 5-1 4 4 4 6 6 2-5-3-4 0-4-2-5-1-4 12-4 12-5 6-4-1-4 5-5 0-4 4-4 5-5 6-4 3-4 7-5 2-4-5-4 14-5-1-4-1-4-3-4 4-5 3-4-5-4 10-5 0-4 1-4 7-5 4-4-1-4-2-5 4-4 7-4-1-5 11-4 1-4-7-5-3-4-7-4 3-5 3-4 6-4 7-5-3-4 4-4-2-5 0-4 11-4-1-5 10-4 9-4 8-5-5-4 13-4 6-4 1-5-5-4 3-4 3-5 13-4 8-4 12-5 4-4 4-4-7-5-6-4-20-4-16-5-1-4-2-4 7-5 21-4 9-4-5-5 5-4-1-4-1-5-3-4 2z"/><path transform="translate(189.5 143.9)" d="M979 1553l4-2 4 4 5 0 4 2 4-6 5 5 4-9 4-21 5-7 4 2 4 1 5 17 4 19 4 6 5 7 4-3 4-5 5-12 4-8 4-13 5-3 4-3 4 5 5-1 4-6 4-13 5 5 4-7 4-10 5-10 4 1 4-11 4 0 5 2 4-4 4 4 5-8 4-6 4-3 5-3 4 7 4 3 5 7 4-1 4-11 5 2 4-8 4-4 5 2 4 2 4-5 5-7 4-1 4 0 5-10 4 5 4-2 5-5 4 3 4 1 5 1 4-14 4 5 5-2 4-6 4-3 4-7 5-5 4-4 4 0 5-5 4 1 4-6 5-11 4-13 4 1 5 2 4 0 4 3 6 4-5-3-4 7-4 1-5 3-4 11-4 9-5 1-4 4-4-4-5 5-4 1-4 0-5-2-4 2-4 4-5 2-4 3-4 8-5 2-4 7-4 1-5 2-4 0-4-4-4-1-5 1-4 6-4 18-5 6-4-6-4 3-5-1-4 5-4 8-5 2-4 2-4-6-5 5-4 0-4-1-5-4-4-6-4 3-5-1-4-9-4 13-5 14-4 8-4 9-5 4-4 17-4 1-4 6-5 4-4 0-4-2-5-5-4 9-4 6-5 7-4 11-4 5-5 8-4-1-4-2-5-4-4-6-4-11-5-19-4-5-4 4-5 7-4 15-4 9-5-2-4 1-4-3-5-9-4 9z"/><path transform="translate(194.7 147.9)" d="M979 1554l4-9 5 9 4 3 4-1 4 3 5-10 4-15 4-6 5-5 4 5 4 19 5 12 4 5 4 4 5 2 4 2 4-9 5-5 4-10 4-8 5-5 4-10 4 5 5 2 4 0 4-3 5-7 4-1 4-17 5-4 4-9 4-8 4-14 5-13 4 9 4 2 5-4 4 6 4 4 5 1 4 0 4-4 5 6 4-3 4-1 5-9 4-5 4 1 5-3 4 6 4-6 5-18 4-6 4 0 5 0 4 4 4 0 5-2 4-1 4-7 5-1 4-8 4-4 4-1 5-5 4-2 4 2 5 1 4-1 4-5 5 3 4-4 4-1 5-8 4-12 4-3 5-1 4-6 4 2 6 7-5 3-4 6-4 7-5 5-4-4-4 8-5 1-4-2-4-3-5 2-4 10-4 1-5 0-4-4-4 1-5 7-4 3-4 5-5 9-4 6-4 0-5-4-4-2-4-7-5-1-4 7-4 11-4 7-5 10-4 2-4 4-5-8-4 20-4 7-5-3-4-3-4 1-5 1-4 4-4 0-5 2-4-9-4-1-5-3-4-5-4 5-5 13-4 14-4 9-5 10-4 3-4 7-4 0-5 7-4-4-4-6-5 2-4 3-4 10-5 14-4 3-4 4-5 10-4-7-4-1-5-3-4-1-4-3-5-6-4-7-4-4-5 3-4 7-4 11-5 3-4-5-4 1-4 2-5-11z"/><path transform="translate(200.0 151.9)" d="M979 1547l4 11 5-1 4-2 4 5 5-3 4-11 4-7 5-2 4 3 4 7 4 6 5 3 4 1 4 3 5 1 4 7 4-10 5-3 4-3 4-15 5-10 4-2 4-3 5 6 4 5 4-8 5 0 4-7 4-3 5-9 4-10 4-13 5-14 4-4 4 4 4 3 5 1 4 9 4-1 5-1 4-4 4 0 5-2 4 3 4 3 5-7 4-20 4 8 5-4 4-2 4-10 5-7 4-10 4-7 5 1 4 7 4 2 5 3 4 0 4-5 4-9 5-6 4-3 4-7 5-1 4 4 4 0 5-1 4-10 4-1 5 2 4 2 4-1 5-8 4 4 4-5 5-7 4-6 4-3 5 7-4-2-4 9-5 8-4-3-4 8-5 0-4-1-4 2-4 1-5-3-4 4-4 5-5 10-4 4-4 7-5 0-4 6-4 4-5 3-4 9-4-4-5-5-4-9-4-2-5 1-4 10-4 9-4 0-5 11-4 5-4 1-5 9-4 6-4-9-5 5-4 6-4 4-5 1-4-4-4 7-5 0-4 1-4 1-5 1-4-7-4 1-5 5-4 9-4 3-4 10-5 4-4 4-4 5-5 2-4 1-4-1-5-3-4-2-4 0-5 15-4 12-4 7-5 0-4-1-4 0-5-3-4 4-4 0-4-4-5-14-4 2-4 4-5 8-4 9-4-1-5-4-4-3-4 3-5-6z"/><path transform="translate(205.3 155.9)" d="M979 1549l4 6 5-2 4 2 4 5 5 0 4-9 4-8 5-4 4-2 4 14 5 4 4 0 4-3 5 2 4 0 4 1 4 0 5-7 4-12 4-15 5 0 4 2 4 4 5 0 4-1 4-2 5-4 4-5 4-3 5-11 4-3 4-9 5-4 4-2 4 7 4 0 5-2 4-1 4 0 5-7 4 4 4-1 5-4 4-6 4-5 5 9 4-6 4-9 5-1 4-5 4-11 5 0 4-9 4-10 5-1 4 3 4 8 4 5 5 4 4-8 4-4 5-4 4-5 4-1 5-7 4-4 4-9 5-6 4-4 4 3 5-1 4-2 4 1 5 1 4-9 4 3 4-7 5-10 4 2 5 6-4 2-4 6-5-4-4-7-4 17-5 2-4-8-4 13-5 4-4 6-4-3-5 10-4 7-4 1-4 1-5 5-4 10-4 4-5 2-4-1-4-2-5-5-4 0-4-1-5 8-4 14-4 1-5 4-4 0-4 1-4 5-5 10-4-1-4 8-5 2-4-2-4 2-5 5-4 1-4 3-5-1-4-1-4-1-5 6-4-3-4-3-4-2-5 9-4 12-4 3-5 4-4-3-4 4-5 7-4-2-4-5-5 3-4 2-4 5-5-2-4 11-4 7-4 1-5 7-4 5-4-3-5-2-4 3-4 0-5 1-4-10-4 3-5-4-4 3-4 6-5-5-4-2-4-3-4-4z"/><path transform="translate(210.5 159.9)" d="M979 1540l5 4 4 3 4 2 5 6 4-6 4-4 4 4 5-3 4 10 4-1 5 0 4-3 4 2 5 3 4-5 4-7 5 0 4-8 4-10 5 1 4-4 4-3 4-3 5 6 4 1 4-7 5-4 4 3 4-4 5-3 4-12 4-9 5 2 4 3 4 3 4-6 5 1 4 1 4 1 5-3 4-1 4-5 5-1 4 2 4-3 5-7 4 0 4-9 5-6 4-1 4 0 4-4 5-1 4-14 4-8 5 1 4 1 4 4 5 2 4 1 4-2 5-4 4-10 4-5 5-1 4-1 4-7 4-9 5 2 4-6 4-4 5-13 4 8 4-2 5-16 4 7 4 3 5-6 4-2 5 12-4-2-5-4-4 3-4 8-5 11-4 1-4 3-5 3-4 6-4 0-4 10-5 9-4-2-4 3-5-2-4-8-4 5-5 4-4 1-4-2-4 2-5 6-4 8-4 3-5 6-4 9-4 2-5-2-4 0-4 7-5-1-4 5-4 3-4 6-5 1-4 4-4 0-5 2-4 6-4 1-5 1-4 3-4 2-5-9-4 1-4-6-4 9-5 5-4 11-4 7-5 1-4-2-4 2-5 1-4-4-4 6-4-6-5 0-4 8-4 3-5 2-4 13-4 12-5 3-4 0-4-2-5-11-4 3-4 12-4-3-5-1-4-12-4 5-5 5-4 3-4-6-5-3-4 2-4 0z"/><path transform="translate(215.8 163.9)" d="M980 1551l4-1 4-2 4 3 5 6 4-3 4-5 5-5 4 13 4 0 5 4 4-13 4-2 4 10 5 2 4 0 4-3 5-12 4-13 4-2 5-3 4-7 4-1 5 7 4-7 4 5 4-1 5-3 4 2 4-1 5-6 4-12 4-4 5-10 4 6 4-1 5 10 4-3 4-3 4-1 5-1 4-6 4-2 5 0 4-4 4-1 5-6 4-3 4-4 4 0 5-7 4 1 4 2 5-3 4-8 4-6 5-4 4-8 4-6 5-2 4 2 4 0 4-4 5-5 4 7 4 2 5-3 4 2 4-9 5-10 4 0 4-6 5-3 4-3 4-1 4-10 5-8 4-4 4 4 5 2 5 9-5 2-4 2-4 8-5 7-4 9-4-1-5-9-4 3-4 5-4 5-5 4-4 8-4 1-5 0-4-5-4-4-4-5-5-5-4-7-4 15-5 8-4 8-4 16-5 3-4-4-4 7-4 2-5-1-4 8-4 6-5 2-4 5-4 4-5 0-4-4-4-1-4 5-5 10-4 1-4-12-5 14-4-1-4-3-4-7-5 0-4-15-4 12-5 10-4 6-4 19-5 5-4 4-4-5-4 4-5-6-4 2-4 9-5 4-4 3-4 4-5 6-4-4-4 7-4 8-5 4-4-2-4-1-5 0-4-2-4 3-4 0-5-6-4-2-4 11-5-5-4-8-4 0-5 2-4 7z"/><path transform="translate(221.1 167.9)" d="M980 1556l4-6 4-3 5 0 4 8 4 5 5-10 4 2 4 5 5 0 4-2 4 1 4 0 5 2 4 1 4-3 5-9 4-7 4 4 5-6 4-4 4-2 4-5 5-9 4-2 4 6 5-3 4 4 4-4 4-4 5-20 4-6 4-10 5-12 4 15 4 0 5 7 4 3 4 1 4-13 5 11 4-1 4-9 5-6 4 1 4 4 5 0 4-4 4-5 4-2 5-6 4-8 4 1 5-2 4-7 4 4 4-2 5-16 4-9 4-7 5-16 4 7 4 5 5 6 4 3 4 5 4 0 5-1 4-8 4-3 5-6 4-5 4-3 5 9 4 1 4-8 4-8 5-8 4-2 4-1 5 12-4-2-4-2-5 7-4 14-4 5-5-5-4-9-4-8-4 12-5 7-4 2-4 4-5 10-4 6-4-3-4-7-5-9-4 1-4 1-5 5-4 8-4 7-4 10-5-3-4 1-4 6-5 5-4 7-4 4-4 5-5 5-4-3-4-6-5-1-4 1-4 8-4 7-5 6-4-2-4-3-5 5-4 8-4-9-4 0-5-8-4-14-4-6-5 16-4 22-4 7-4 2-5 9-4 0-4 2-5-1-4 3-4 8-4 10-5 4-4 5-4 5-5 0-4 5-4-4-4 4-5 2-4-5-4 7-5 2-4 1-4-1-4 3-5-5-4-3-4-7-5 0-4-3-4 0-4 10z"/><path transform="translate(226.3 171.9)" d="M980 1555l5-10 4 0 4 3 4 0 5 7 4 4 4 4 5-3 4 1 4-1 4-2 5-6 4 5 4-3 5-4 4 4 4-5 4 0 5-5 4-5 4-3 5-11 4-8 4-3 4 1 5-2 4 0 4-9 5-2 4-7 4-22 4-16 5 6 4 14 4 8 5 0 4 9 4-8 4-5 5 3 4 2 4-6 5-7 4-8 4-1 4 2 5 5 4 4 4-6 5-5 4-4 4-7 4-5 5-6 4 0 4 2 5-9 4-8 4-7 4-5 5-2 4-1 4 10 5 6 4 3 4-6 4-9 5-4 4-3 4-6 5-13 4 8 4 9 4 5 5-5 4-14 4-6 5 1 4 2 4 7-4 1-4 4-4 4-5 6-4 0-4-4-4-5-5-4-4-3-4 3-4 8-5 4-4 6-4 12-5 5-4-3-4-1-4-3-5 0-4 0-4 2-4 8-5 8-4-2-4 1-5 1-4 4-4 6-4 7-5 7-4 5-4-4-4-5-5 8-4 4-4-2-4 3-5 3-4 2-4 3-5-4-4 8-4-4-4 2-5-9-4-11-4-12-4 9-5 11-4 26-4 10-5-3-4 5-4 5-4-2-5 6-4 7-4 9-4 4-5 5-4 3-4-3-4 4-5 2-4 0-4-3-5 7-4 3-4-2-4 7-5 3-4-6-4 1-4 5-5-3-4-3-4 3-4 5-5 3z"/><path transform="translate(231.6 175.9)" d="M981 1568l4-3 5-5 4-2 4 2 4 3 5-5 4-1 4 6 4-3 5-7 4 2 4-3 4-7 5 4 4 0 4-3 5-4 4 3 4-3 4-4 5-4 4-10 4-6 4-6 5 1 4-5 4-5 4 3 5-10 4-26 4-10 5-10 4 12 4 11 4 9 5-2 4 4 4-7 4 3 5-3 4-2 4-3 5-3 4 2 4-4 4-8 5 5 4 4 4-5 4-7 5-7 4-6 4-4 4-1 5 0 4 2 4-9 5-8 4-2 4 1 4-1 5 3 4 1 4 3 4-5 5-12 4-6 4-4 5-7 4-3 4 2 4 4 5 5 4 5 4-1 4-6 5-4 4-4 4-1 5 8-5 3-4 4-4 2-4 0-5 3-4 1-4-13-4-1-5-2-4 7-4 4-4 5-5 11-4 3-4 9-4 2-5 0-4-2-4 0-4-1-5 3-4 10-4 4-4-8-5-8-4 1-4 7-4 10-5 12-4 4-4 1-4 2-5-3-4 3-4-10-4 7-5 6-4 1-4-7-4-5-5 6-4 11-4 3-4-2-5-8-4-6-4-6-4 8-5 13-4 15-4 14-4 4-5 0-4 5-4 1-4 5-4 4-5 8-4 3-4 7-4 1-5-1-4 1-4 2-4-1-5 1-4-3-4 11-4-3-5-7-4 5-4-4-4 11-5 4-4-2-4 6-4-1-5 0-4 2z"/><path transform="translate(236.8 179.8)" d="M982 1565l4-1 4-1 5 1 4-6 4 2 4-3 5-12 4 5 4-6 4 7 5 3 4-10 4 2 4-1 4 1 5-2 4-1 4 1 4-1 5-7 4-3 4-8 4-4 5-4 4-2 4-4 4-1 5-3 4-15 4-15 4-13 5-8 4 6 4 6 4 8 5 2 4-3 4-11 4-6 5 5 4 7 4 0 4-7 5-7 4 11 4-4 4 3 5-2 4-1 4-4 4-12 5-10 4-7 4-1 4 8 5 8 4-4 4-10 4-3 5 1 4 0 4 3 4 0 5-3 4-9 4-3 4-10 5-6 4-4 4-7 4 2 5 1 4 13 4-1 4-2 5-1 4-2 4-4 4-2 5 6-5-1-4 0-4 4-4-2-4 0-5-2-4 7-4-2-4-1-5 9-4 2-4 1-4 9-4 1-5 8-4 4-4-1-4-3-5 8-4 8-4 4-4 1-4 6-5-9-4-12-4 3-4 11-5 6-4 7-4 9-4-4-4 3-5-1-4 2-4 2-4-4-5-11-4-6-4-17-4 12-4-1-5 15-4 8-4-1-4-7-5 2-4 5-4 8-4 7-4 8-5 9-4 8-4-3-4 3-5 8-4 5-4 8-4 10-5 2-4 2-4-4-4 5-4-6-5-5-4 4-4 0-4 8-5 2-4 0-4 0-4 3-4-2-5 0-4 0-4 4-4 1-5 5-4 6-4-1z"/><path transform="translate(242.1 183.8)" d="M983 1562l4 1 4-6 4-6 5-1 4-3 4-1 4 0 5 3 4-4 4 0 4 1 4-3 5-8 4 0 4-3 4 4 5 6 4-5 4 4 4-2 4-2 5-10 4-8 4-5 4-8 5-2 4 3 4-9 4-9 4-8 5-7 4-8 4-5 4-1 5 6 4 2 4-9 4-15 4 1 5-12 4 18 4 6 4 11 5 3 4-2 4-2 4 1 4-2 5 3 4-9 4-7 4-6 5-10 4-4 4 12 4 9 5-6 4-1 4-4 4-8 4-7 5 2 4 1 4-4 4-8 5-1 4-9 4 0 4-3 4-9 5 1 4 2 4-7 4 3 5 0 4 1 4-3 4-1 4 1 4 2-4 2-4 0-4 1-4 3-5-7-4-2-4 5-4-6-4 11-4 14-5 2-4 3-4-5-4 7-4 2-5-1-4 11-4 1-4-3-4 12-5 12-4 5-4 5-4-3-4-6-5 5-4 2-4 2-4 8-4 6-5-1-4 3-4-4-4-3-4-13-4 0-5-4-4-9-4-7-4 3-4 9-5-1-4 4-4-8-4 3-4 12-5 10-4 0-4 8-4 6-4 5-5 11-4 8-4 0-4-4-4 19-5 7-4 5-4 1-4-2-4 4-4-3-5-3-4-7-4 4-4 3-4 0-5 3-4 1-4-4-4 3-4 3-5 4-4 0-4 8-4 5-4-8-5 8-4-1z"/><path transform="translate(247.4 187.8)" d="M984 1554l4 1 4-7 5 7 4-5 4-7 4-1 4-3 5-4 4-3 4 4 4-1 4-3 5 0 4-3 4-4 4 7 4 3 4 3 5-4 4 2 4-1 4-5 4-7 5-19 4 5 4-1 4-8 4-10 5-5 4-7 4-8 4 0 4-10 5-12 4-3 4 8 4-4 4 1 4-9 5-3 4 7 4 9 4 4 4 0 5 13 4 3 4 5 4-4 4 1 5-6 4-8 4-2 4-2 4-5 5 6 4 3 4-5 4-5 4-12 5-11 4 2 4 0 4-12 4 1 4-2 5-7 4 5 4-3 4-2 4-14 5-11 4 6 4-5 4 2 4 7 5-3 4-1 4 0 4-2 4-1-4 0-4-9-5 5-4-2-4-1-4 10-4 1-4 6-4 8-5 11-4 1-4-4-4-1-4-7-4-4-5 11-4 8-4 9-4 3-4 14-4 11-4 8-5 4-4 0-4 0-4-4-4 4-4 1-5 13-4-2-4 1-4 5-4-2-4-5-4 0-5-3-4-8-4-11-4-5-4-4-4-6-5-2-4-11-4 17-4 4-4 11-4 6-4 6-5 3-4 4-4 7-4 3-4-1-4 6-5 6-4 10-4 1-4 17-4 7-4-1-4-7-5-4-4 4-4 1-4-21-4 21-4-1-4-6-5 0-4 5-4 3-4 5-4 9-4 5-5 6-4 6-4 0-4 2-4-11z"/><path transform="translate(252.6 191.8)" d="M986 1549l4 11 4-1 4-1 4-6 4-6 4-5 5-9 4-5 4-3 4-5 4 0 4 7 5 0 4-21 4 21 4-1 4-4 4 4 4 7 5 1 4-7 4-17 4-1 4-9 4-7 5-6 4 1 4-3 4-7 4-4 4-3 4-6 5-6 4-11 4-4 4-17 4 12 4 1 5 6 4 4 4 6 4 10 4 8 4 3 4 0 5 6 4 1 4-5 4-1 4 2 4-12 4-2 5-4 4 4 4 0 4 0 4-3 4-9 5-11 4-14 4-3 4-9 4-8 4-11 4 5 5 6 4 1 4 4 4-1 4-10 4-9 5-6 4 0 4-10 4 0 4 2 4-5 4 10 5 0 3-2-4-2-4-2-4 7-4 1-5-1-4 6-4 4-4 2-4 9-4 4-4-3-4 4-4-2-4-4-5-4-4 7-4 11-4 5-4 7-4 14-4 7-4-4-4 17-5 0-4 8-4-1-4-9-4 2-4 8-4 6-4-6-4 10-4 4-5 6-4 1-4-7-4-5-4-8-4-3-4-8-4-9-4-7-5 2-4 3-4 4-4 6-4 6-4 10-4 4-4 0-4 2-4 1-5-1-4-5-4 10-4 14-4 10-4 8-4 5-4 0-4 1-4-3-5 6-4 6-4 0-4 2-4-5-4-8-4-1-4 8-4 10-5 14-4 6-4 1-4-6-4-2-4 0-4-10-4 7z"/><path transform="translate(257.9 195.8)" d="M987 1546l5-7 4 10 4 1 4 2 4 6 4-2 4-6 4-13 4-10 5-9 4 1 4 9 4 4 4-2 4 0 4-6 4-6 4 3 4-1 5 1 4-5 4-8 4-11 4-14 4-10 4 6 4 0 4-1 4-1 5 0 4-5 4-10 4-5 4-7 4-3 4-3 4-3 4 8 5 8 4 8 4 3 4 8 4 5 4 7 4-1 4-6 4-4 4-10 5 6 4-6 4-7 4-3 4 9 4 1 4-8 4 0 4-16 5 4 4-7 4-15 4-7 4-5 4-11 4-7 4 4 4 4 4 2 5-3 4 2 4-4 4-8 4-3 4-4 4-6 4 1 4-1 4-7 5 2 4 3 3-14-4 1-4 3-5 12-4 9-4 8-4 0-4 2-4-1-4 3-4-1-4 6-4 6-4-1-4-1-4-4-4 5-4 4-4 7-4 5-4 8-4 4-4-6-4 19-4 4-5 11-4-8-4-10-4 10-4 1-4 3-4 7-4 15-4 6-4 7-4 1-4-11-4 0-4-6-4-2-4-7-4-1-4 1-4-5-4 6-4 7-4 9-4 6-5 4-4 0-4 0-4 0-4 4-4-4-4-8-4 0-4 2-4 15-4 9-4-1-4 10-4 4-4-1-4 5-4 0-4 8-4 3-4-3-4-6-4 4-4 4-5 10-4 4-4 3-4 11-4-1-4 2-4-11-4-4-4 2z"/><path transform="translate(263.2 199.8)" d="M990 1554l4-2 4 5 4 10 4-2 4 1 4-11 4-3 4-3 4-11 4-4 4-4 4 7 4 2 4-3 5-8 4 0 4-5 4 1 4-4 4-10 4 1 4-9 4-15 4-2 4 0 4 9 4 3 4-4 4 0 4 0 4 0 4-4 4-6 4-8 4-8 4-5 4 4 5-1 4 1 4 8 4 1 4 6 4 0 4 11 4 0 4-8 4-6 4-15 4-7 4-3 4-1 4-10 4 10 4 8 4-10 4-5 4-19 4 6 4-4 5-7 4-6 4-6 4-5 4-4 4 3 4 1 4 1 4-6 4-5 4 0 4-3 4 1 4-2 4 0 4-8 4-9 4-12 4-3 4-1 3 0-4 8-4 10-4 4-4 14-4 6-4-2-4-10-4-3-4 11-4 7-4 5-4 2-4-17-4 8-4-2-4 5-4-1-4 10-4 7-4 1-4 2-4 11-4 11-4 4-4 7-4-1-4-18-3 8-4 1-4-1-4 16-4 19-4 12-4 1-4 5-4-1-4-7-4-5-4 0-4-7-4-13-4 9-4 7-4 5-4 11-4 6-4 6-4 4-4 0-4 0-4-4-4 0-4 1-4 1-4-3-4 5-4 5-4 3-4-1-4 3-4-3-3 0-4 7-4 8-4 2-4 3-4 4-4-1-4 3-4 9-4 8-4 5-4 12-4 1-4 4-4-1-4-4-4-8-4 7z"/><path transform="translate(268.4 203.8)" d="M993 1573l4-7 4 7 4 4 4 1 4-4 4 0 4-13 4-5 3-8 4-9 4-3 4 1 4-4 4-3 4-1 4-9 4-7 4 1 4 2 4-3 4 1 4-3 4-4 4-6 4 3 4-1 4-1 4 1 4 3 4 0 4 0 4-4 4-5 4-7 4-11 4-4 4-8 4-9 4 13 4 7 4 0 4 5 3 7 4 1 4-5 4-1 4-12 4-19 4-16 4 2 4-1 4-9 4 19 4 0 4-6 4-5 4-11 4-11 4-1 4-2 4-7 4-9 4 0 4-4 4 1 4-8 4 17 4-2 4-4 4-8 4-10 4 2 4 10 4 2 4-6 4-14 3-4 4-9 4-9 2 18-4 9-4 9-4 2-3 4-4-5-4-10-4 8-4 10-4 6-4 7-4 11-3-4-4-6-4-2-4 5-4 5-4 4-4-8-4-10-3-1-4 3-4 23-4 8-4 5-4 13-4 3-4-1-4-3-3 6-4 3-4 12-4 12-4 4-4 1-4-4-4 7-3-4-4 0-4-5-4-3-4 1-4 4-4 3-4 6-3 8-4 4-4 1-4-1-4 3-4 3-4 1-4 5-4 4-3 1-4 2-4-4-4 3-4 0-4-3-4-4-4-8-3 2-4-8-4 7-4 6-4 13-4 5-4 11-4 8-3 3-4 10-4 6-4 7-4 8-4 3-4-6-4 0-4-1-3 1z"/><path transform="translate(273.7 207.8)" d="M996 1581l4-1 4 2 4 0 4 5 4-3 4-8 4-6 3-7 4-10 4-2 4-9 4-11 4-5 4-13 4-6 3-7 4 9 4-3 4 8 4 4 4 3 4 0 4-3 3 5 4-3 4 0 4-4 4-5 4-2 4-3 4-2 3 0 4-1 4-4 4-8 4-5 4-4 4-4 4-1 4 3 3 5 4 0 4 4 4-7 4 4 4-1 4-4 4-12 3-12 4-3 4-6 4 3 4 1 4-3 4-13 4-4 3-9 4-23 4-3 4 1 4 10 4 8 4-4 4-5 4-5 3 2 4 6 4 4 4-11 4-6 4-7 4-10 4-8 3 10 4 5 4-4 4-2 4-9 4-8 1 15-4 10-4 4-4-1-3-1-4 0-4 3-4 6-4 10-3 4-4 3-4-3-4-2-3-3-4 12-4 7-4 4-3-2-4-3-4-8-4-4-3 12-4 11-4 6-4 5-4 0-3 6-4 5-4-2-4 11-3 6-4 7-4 3-4 14-3 4-4-8-4-2-4 3-3-2-4-10-4-4-4 1-4-1-3 11-4 9-4-1-4 4-3 2-4-2-4 1-4 8-3 5-4 3-4 5-4 5-4 0-3 2-4-3-4 2-4 0-3 1-4-5-4-8-4-4-3 3-4 7-4 8-4 6-3 7-4 7-4 2-4-6-4 2-3 17-4 9-4 9-4 5-3 4-4-3-4-10z"/><path transform="translate(279.0 211.8)" d="M1001 1576l4 10 3 3 4-3 4-6 4-9 3-8 4-18 4-2 4 6 3-2 4-7 4-7 4-6 4-8 3-6 4-4 4 4 4 8 3 5 4-1 4 1 4-3 3 3 4-2 4 0 4-4 4-6 3-2 4-5 4-9 4-1 3 2 4-2 4-4 4 1 3-8 4-11 4 0 4-1 3 4 4 10 4 3 4-4 4 3 3 7 4-4 4-14 4-3 3-7 4-6 4-11 4 3 3-5 4-6 4 0 4-5 3-6 4-12 4-12 4 5 4 7 3 4 4 1 4-3 4-8 3-12 4 3 4 2 4 3 3-3 4-4 4-9 4-7 4-3 3 1 4 0 4 2 4-4 3-11 0 23-4 8-3 0-4 0-4 7-3 6-4 0-3 3-4 3-4 2-3-1-4 2-4 5-3 4-4 2-3 0-4-1-4 0-3-4-4-4-4-2-3 2-4 14-3 9-4 2-4 6-3-3-4-4-4 12-3 11-4 3-3 6-4 10-4-2-3 2-4-5-3 5-4 3-4-5-3-3-4 0-4-4-3-3-4 2-3 1-4 8-4 7-3-5-4 8-4 8-3 7-4 7-3 4-4 0-4 7-3 3-4 1-4-1-3 4-4-2-3-5-4-2-4-4-3 5-4-1-3-10-4 8-4 7-3 11-4 5-4-3-3 2-4-7-3-7-4 7-4 14-3 15-4 9-4 6-3 0z"/><path transform="translate(284.2 215.8)" d="M1007 1585l3 0 4-5 3-10 4-15 4-14 3-6 4 6 4 7 3-2 4 3 3-4 4-12 4-7 3-8 4 10 3 1 4-5 4 4 3 2 4 5 4 3 3-5 4 1 3 0 4-4 4-7 3 0 4-4 4-7 3-7 4-8 3-8 4 6 4-8 3-8 4-1 4-1 3 2 4 4 3 1 4 2 4 5 3-3 4-5 4 5 3-2 4 3 3-11 4-6 4-2 3-12 4-12 3 4 4 3 4-6 3-1 4-10 4-13 3-3 4 2 3 4 4 4 4 0 3 2 4-1 4-1 3-5 4-4 3-3 4 2 4-3 3-3 4-3 4 0 3-6 4-6 3-1 4 0 4-8-3 23-3 1-3 2-4 7-3 2-4 1-3 0-4 5-3 0-3 3-4 3-3 1-4 2-3 1-4-3-3 1-4-4-3-4-3-1-4 0-3 2-4 11-3 10-4 5-3 4-3-4-4 2-3 5-4 9-3 10-4 6-3-4-3 1-4 13-3 0-4-5-3-9-4 2-3 5-3-4-4 4-3-1-4-8-3-5-4-5-3 7-3 9-4 7-3 9-4 6-3 5-4 12-3 9-3 3-4-1-3-2-4 8-3 0-4 0-3 1-3 2-4-2-3-3-4-7-3 4-4 4-3 1-4 2-3-2-3-2-4 3-3-6-4 9-3 2-4-10-3-9-3 3-4 8-3 17-4 5z"/><path transform="translate(289.5 219.8)" d="M1014 1560l3-5 4-17 3-8 4-3 3 9 4 10 3-2 4-8 3 5 3-3 4 3 3 1 4-2 3-1 4-4 3-4 3 7 4 3 3 2 4-2 3 0 4-1 3 0 3-8 4 3 3 0 4-3 3-8 4-13 3-5 3-6 4-9 3-7 4-9 3-7 4 5 3 5 3 8 4 1 3-3 4 3 3-4 4-3 3 9 3 5 4 0 3-12 4-2 3 4 4-6 3-10 3-9 4-5 3-2 4 4 3-4 4-5 3-10 3-11 4-1 3-1 4 1 3 4 4 4 3-1 4 3 3-1 3-2 4-1 3-2 4-4 3 0 4-5 3 0 3 0 4-3 3-7 4-2 3-1-5 20-3-1-3 2-3 2-4-1-3 3-3 1-3 2-3 4-4 2-3-1-3-7-3 7-3 3-3 1-4-6-3-5-3 4-3 1-3 1-3 0-4 5-3 9-3 10-3 2-3 2-3 4-4 3-3 10-3 6-3-1-3 3-3 1-4 2-3 0-3-1-3-3-3 4-3 0-4 1-3 1-3-6-3-7-3-7-3-12-4 11-3 10-3 9-3 3-3 8-3 10-4 8-3 10-3 5-3 0-3 7-3 6-4 5-3-1-3 0-3-2-3 3-3-4-4-15-3-9-3 12-3 3-3 0-3-4-4-3-3 5-3-1-3-1-3 6-3 5-4 0-3-1-3-2-3 1-3-1z"/><path transform="translate(294.7 223.8)" d="M1024 1542l4 2 3-2 3 3 3 0 3 1 3-6 4-6 3 1 3 2 3-5 3 3 3 3 4 1 3-4 3-12 3 10 3 15 3 3 4-3 3 2 3 0 3 1 3-5 3-6 4-7 3 1 3-5 3-11 3-7 3-10 4-9 3-3 3-9 3-10 3-10 4 11 3 7 3 7 3 6 3-1 3-1 4 0 3-4 3 3 3 1 3 1 3-3 4-1 3-3 3 1 3-6 3-9 3-4 4-4 3-2 3-2 3-10 3-8 3-6 4 0 3-1 3 0 3-5 3 5 3 7 4-2 3-3 3-7 3 8 3 0 3-2 4-3 3-2 3-1 3-4 3 1 3-2 4-2 3 1-11 20-3 0-3-3-2-3-3-3-3 3-3 8-2 4-3 2-3 0-3-6-2-4-3 7-3 0-3 1-2-1-3 4-3 3-3 4-3 4-2 4-3 1-3-7-3 0-2 4-3 8-3 9-3 4-2 0-3 2-3 8-3 2-2-4-3-6-3-2-3 3-2 1-3 3-3 1-3 3-3 0-2 0-3-1-3-6-3-2-2 3-3 0-3 1-3 4-2 0-3 3-3 3-3 7-2 11-3 8-3 4-3 7-2 3-3 0-3 3-3 7-3 6-2 3-3 4-3-5-3-5-2-1-3 1-3-1-3-13-2 1-3 3-3 2-3 1-2-7-3 0-3 2-3 1-2 1-3 2z"/><path transform="translate(300.0 227.8)" d="M1041 1540l2-3 3-1 3-1 3-2 2 1 3 6 3-1 3-2 2-2 3-2 3 13 3 2 2-1 3 0 3 6 3 4 2-4 3-3 3-6 3-7 3-3 2 1 3-4 3-7 3-4 2-8 3-11 3-6 3-4 2-3 3 0 3-4 3-1 2 0 3-3 3 2 3 6 2 2 3-1 3 0 3-3 2-1 3-3 3-1 3-2 3 1 2 6 3 4 3-1 3-8 2-3 3 0 3-4 3-9 2-8 3-4 3 0 3 7 2-1 3-4 3-4 3-4 2-3 3-4 3 1 3-1 3 0 2-7 3 4 3 6 3 0 2-2 3-4 3-7 3-3 2 2 3 3 3 4 3-1-33 20-2-3-2-1-2 2-2 3-1 0-2 0-2 1-2 3-2 3-1 3-2 1-2 0-2 0-2 0-1 1-2 0-2 0-2-2-1-1-2 2-2 8-2 9-2 6-1 2-2 0-2-1-2 0-2 0-1-1-2-1-2-2-2 2-2 1-1 0-2 1-2 0-2-2-1-4-2-3-2 3-2 6-2 1-1-1-2-1-2-1-2 4-2 6-1 5-2 2-2 1-2 0-2 0-1 0-2 1-2 0-2-3-1-5-2-5-2 2-2 7-2 4-1 4-2 3-2 3-2 1-2-1-1 1-2 5-2 5-2-1-2 2-1 8-2 6-2 2-2 1-1-2-2-1-2 2-2 1z"/></g></g><g filter="url(#tx)"><g transform="scale(0.5)" fill="url(#gl)" stroke="#201000" stroke-opacity="0.16" stroke-width="1.1" stroke-linejoin="round"><path transform="translate(36.7 28.1)" d="M2739 1550l3-17 3-7 3-19 2 0 3 24 3 1 3-1 2-6 3-6 3 14 3-5 2-12 3 9 3-3 3-2 3 6 2-2 3 6 3 4 3-7 2-12 3-13 3 11 3-1 3-14 2 13 3 0 3 2 3-13 2 6 3 6 3 3 3 1 2-7 3-17 3 3 3 7 3 2 2-21 3-8 3 16 3 4 2-1 3-9 3-11 3 10 3 8 2-2 3-19 3-11 3 13 2 5 3-4 3-3 3-8 2-1 3-7 3 15 3 6 3-9 2-10 3 3 3 5 3-12 2-9 3-4 3 0 3 6 3-8 2-1 3-1 3-13 3 10 2-4 3-15 3 4 3-6 2 9 3 14 24-3-3-14-3-3-3 1-4 0-3 8-3-17-3-17-4 18-3 8-3 2-3 8-4-6-3 23-3 0-3 5-4-2-3 5-3 11-3-14-4 13-3 13-3 0-3 9-4-8-3-21-3 19-3 6-4-2-3 4-3-3-3 5-4-2-3-7-3-10-3 17-4 2-3 7-3 0-3-3-4 13-3 9-3 0-3 1-4 1-3 10-3-13-3 10-4 10-3 0-3 2-3-18-4 2-3 19-3-7-3-1-4 7-3 6-3-17-3 2-4 3-3 2-3 5-3 0-4-22-3 17-3 4-3 7-4-2-3 1-3 1-3-2-4 13-3 1-3-2-3 8-4 11-3-4-3-7-3-3z"/><path transform="translate(41.9 32.2)" d="M2720 1548l4 3 3 7 3 4 3-10 4-9 3 2 3-1 3-13 4 2 3-1 3-1 3 2 4-7 3-4 3-17 3 22 4 0 3-5 3-2 3-3 4-2 3 17 3-6 3-7 4 1 3 7 3-18 3-3 4 19 3-3 3 0 3-10 4-10 3 14 3-11 3-1 4-1 3 0 3-8 3-13 4 2 3 1 3-8 3-2 4-17 3 10 3 7 3 2 4-5 3 3 3-4 3 2 4-6 3-19 3 21 3 8 4-9 3 1 3-13 3-14 4 14 3-11 3-5 3 3 4-6 3 0 3-23 3 6 4-8 3-2 3-7 3-19 4 17 3 17 3-8 3 0 4 0 3 2 3 14 17-17-4 9-3 11-4-6-3-5-4 10-3 4-4-10-3 3-4-25-3-12-4 2-4 30-3 25-4 4-3 9-4-23-3 7-4 1-3 6-4 3-3 1-4-3-4 13-3 6-4-4-3 3-4-9-3 21-4-1-3-4-4 2-3-4-4-2-4-14-3-2-4 37-3-5-4 10-3 3-4-1-3-7-4 17-3 13-4 6-4-6-3 6-4-3-3 3-4-3-3-1-4 10-3-5-4 4-3-4-4-13-4-7-3 12-4 9-3-16-4 22-3 2-4-12-3 2-4-4-3 11-4 11-4-4-3-12-4 9-3-32-4 40-3 17-4-5-3-9-4 17-3-8-4-3-3 0-4-1z"/><path transform="translate(47.1 36.2)" d="M2709 1549l3 1 4 0 3 4 4 7 3-17 4 9 4 5 3-17 4-40 3 32 4-9 3 12 4 4 3-11 4-10 3 3 4-2 4 13 3-3 4-22 3 16 4-8 3-13 4 7 3 13 4 4 3-4 4 5 4-10 3 1 4 3 3-3 4 3 3-6 4 6 3-6 4-13 3-17 4 8 3 0 4-3 4-10 3 5 4-37 3 2 4 14 3 2 4 4 3-2 4 4 3 1 4-21 4 10 3-4 4 4 3-6 4-13 3 3 4-1 3-2 4-6 3-2 4-7 4 23 3-9 4-4 3-25 4-30 3-2 4 13 3 24 4-3 3 10 4-4 4-9 3 4 4 6 3-10 4-10 13 3-4-7-3 2-4-9-4 13-4 7-3 5-4 3-4 0-4 2-3-10-4 9-4 2-4 17-3 2-4 4-4 13-4-17-3-2-4 7-4 13-4-1-3-4-4 6-4 0-4-19-3 12-4 26-4 2-4 3-3-11-4-38-4 22-4 26-3-3-4 0-4 10-4-12-3 4-4 13-4 2-4-3-3-5-4-16-4 29-4 16-3-7-4-12-4-3-4 21-3 5-4-14-4 13-4-3-3-6-4 5-4-26-4 6-3 26-4 10-4-11-4-13-3 16-4-17-4 30-4 8-4-10-3 5-4-5-4-5-4 13-3 15-4-5-4 9-4-14-3-4-4-13-4 17-4 5-3-6z"/><path transform="translate(52.4 40.2)" d="M2700 1543l4 6 4-5 4-17 3 13 4 5 4 13 4-9 3 5 4-15 4-13 4 5 4 5 3-4 4 9 4-7 4-31 3 17 4-15 4 12 4 11 3-9 4-27 4-5 4 25 3-5 4 6 4 3 4-13 3 14 4-4 4-21 4 2 3 12 4 7 4-16 4-29 3 16 4 5 4 3 4-2 3-13 4-4 4 13 4-11 3 0 4 4 4-27 4-22 3 39 4 10 4-3 4-2 3-26 4-12 4 19 4 1 3-7 4 5 4 0 4-13 3-7 4 2 4 17 4-13 3-4 4-1 4-18 4-2 3-9 4 10 4-2 4 0 3-2 4-6 4-7 4-12 3 8 4-2 4 7 11 9-3-10-4 0-4-13-4 21-4 2-4-27-4 40-4-2-4 5-4-8-4 10-3-7-4 1-4 13-4 2-4 7-4 2-4 8-4-10-4 12-4-2-4 13-4-17-3-10-4 18-4 6-4-7-4-39-4 49-4 12-4-2-4 9-4-4-4 2-3 6-4-3-4-6-4-4-4 12-4 7-4 4-4 9-4-2-4-11-4 15-3 6-4-6-4 7-4-25-4 15-4 1-4 14-4 5-4-7-4-3-4-2-3-2-4-13-4 24-4-1-4-8-4 9-4 13-4 8-4-11-4-6-4 15-4-1-3 9-4 6-4-12-4 7-4-16-4 3-4 14-4-2-4-36-4 32-4-5z"/><path transform="translate(57.6 44.2)" d="M2694 1536l4 6 4-32 4 35 4 2 4-14 4-2 4 15 4-7 3 13 4-7 4-9 4 1 4-15 4 6 4 11 4-8 4-13 4-9 4 9 3 0 4-24 4 13 4 2 4 2 4 3 4 7 4-4 4-15 4 0 4-16 3 25 4-7 4 6 4-6 4-14 4 10 4 2 4-9 4-3 4-8 4-12 4 4 3 6 4 3 4-6 4-2 4 4 4-9 4 2 4-12 4-48 4 39 4 7 3-7 4-18 4 10 4 18 4-14 4 2 4-11 4 9 4-8 4-2 4-7 3-2 4-13 4-1 4 7 4-9 4 7 4-5 4 2 4-40 4 27 4-2 3-20 4 12 4 0 4 10 10-1-4-12-4-3-4 4-4-26-4 30-4 2-4 16-4 17-4-2-4-10-4-4-4 5-4 4-4-2-4 5-4 4-4 9-4 0-4-11-4 2-4 22-4 0-4-7-5 12-4 13-4-9-4 3-4-1-4-5-4 18-4 4-4 0-4 6-4-6-4-8-4 7-4 1-4-6-4 16-4 3-4 4-4 8-4-6-4 11-4-7-4 2-4-3-4 16-4 5-4-18-4-3-4 2-4 18-5 0-4-10-4-3-4-6-4 9-4-2-4-2-4 38-4-2-4 0-4-10-4-3-4-13-4 11-4 7-4 21-4-8-4 8-4-5-4-16-4 5-4-5-4 6-4-7-4-5-4-11z"/><path transform="translate(62.8 48.2)" d="M2689 1514l4 10 4 5 4 7 5-6 4 5 4-5 4 17 4 4 4-8 4 9 4-22 4-7 4-11 4 13 4 3 4 10 4 0 4 2 4-38 4 2 4 2 4-9 4 6 4 3 4 10 4 0 4-18 4-2 4 3 4 18 4-5 4-16 5 3 4-2 4 7 4-10 4 5 4-7 4-4 4-4 4-15 4 5 4-1 4-7 4 8 4 6 4-6 4 0 4-4 4-18 4 5 4 1 4-3 4 9 4-13 4-12 4 7 4 0 4-22 4-2 4 12 4-1 5-9 4-4 4-5 4 2 4-4 4-5 4 4 4 10 4 2 4-17 4-16 4-2 4-30 4 26 4-4 4 3 4 12 9-3-4 4-4 3-4-9-4 5-5 1-4 9-4-25-4 3-4 30-4 9-4 1-4-11-5 16-4 3-4-13-4-1-4 23-4-1-4 7-4-23-5 13-4-12-4 25-4 3-4 6-4-1-4-1-5-2-4 13-4-1-4 9-4 15-4-1-4-20-4 3-5 16-4 1-4-2-4 13-4-19-4 19-4-1-4 3-5 12-4-14-4 12-4 1-4-10-4-3-4 6-5 11-4-14-4 21-4-10-4 11-4 10-4-13-4-16-5 14-4-1-4 8-4 10-4 4-4-6-4 5-5 0-4 6-4-7-4-1-4 10-4-3-4 3-4-8-5 5-4-6-4-12-4 16-4-8-4-9z"/><path transform="translate(68.1 52.3)" d="M2686 1521l4 9 4 8 4-15 4 11 4 6 4-5 4 8 5-3 4 3 4-10 4 1 4 7 4-6 4 1 5-6 4 7 4-5 4-10 4-7 4 1 4-15 4 16 5 13 4-10 4-11 4 10 4-21 4 14 4-11 4-6 5 3 4 10 4-1 4-12 4 14 4-12 4-3 5 2 4-20 4 19 4-13 4 3 4-2 4-16 4-3 5 20 4 1 4-14 4-9 4 0 4-12 4 1 4 1 5 2 4-7 4-2 4-26 4 12 4-13 4 24 5-8 4 1 4-23 4 1 4 13 4-3 4-16 4 11 5-1 4-8 4-31 4-3 4 25 4-9 4 0 5-5 4 8 4-3 4-4 8-4-4-3-4-1-4 10-5 2-4-3-4-6-4 6-4 4-5 12-4-5-4-2-4 6-4 8-5 13-4-13-4 1-4 16-5 13-4-1-4 0-4 9-4 6-5-1-4 1-4-4-4 8-4 11-5-2-4-9-4-3-4 2-4 8-5 15-4 4-4 2-4 8-5-3-4 6-4-18-4 31-4 7-5-22-4 15-4-16-4 15-4-1-5-15-4 12-4 11-4-20-4 5-5 20-4-13-4 19-4-8-4 3-5-2-4 6-4 5-4 2-5-1-4-2-4 9-4 0-4 3-5 5-4-6-4 8-4 1-4 4-5-12-4 7-4 3-4-1-4-1-5-10-4-10-4 2-4 8z"/><path transform="translate(73.3 56.3)" d="M2682 1535l5-8 4-2 4 10 4 10 5 1 4 1 4-3 4-7 4 12 5-4 4-1 4-7 4 5 4-5 5-3 4 0 4-9 4 2 4 1 5-2 4-5 4-5 4 1 4-2 5 7 4-18 4 12 4-20 5-4 4 19 4-10 4-13 4 15 5 1 4-15 4 16 4-15 4 22 5-7 4-31 4 18 4-5 4 2 5-8 4-2 4-4 4-15 5-7 4-3 4 4 4 8 4 2 5-11 4-8 4 4 4-1 4 1 5-6 4-9 4 0 4 1 4-13 5-15 4-2 4 14 4-14 4-7 5-7 4 2 4 5 4-12 5-4 4-6 4 6 4 3 4-2 5-10 4 1 4 3 8 5-5 17-4-7-4-27-4-1-5 22-4-11-4 3-4 21-5-3-4-37-4 44-5 14-4 3-4-3-4-8-5 20-4 12-4 6-4 2-5-8-4 14-4-2-5-5-4 21-4-1-4-8-5 1-4-16-4 29-4 1-5-14-4 2-4 16-5 7-4-5-4 1-4 4-5 8-4 8-4-6-4 8-5 3-4 3-4-20-5 16-4 11-4 1-4-7-5 1-4-8-4-2-4 10-5 12-4-9-4 4-5 10-4-6-4 12-4 3-5-6-4 5-4 3-4 7-5-4-4 15-4-6-5-3-4-4-4 13-4-12-5 5-4 0-4-9-4 10-5 10-4-3-4 9-5-15-4 6z"/><path transform="translate(78.6 60.3)" d="M2680 1553l4-6 5 15 4-9 4 3 4-9 5-11 4 9 4 0 4-5 5 12 4-12 4 3 5 3 4 6 4-14 4 3 5-6 4-3 4-6 4 6 5-3 4-12 4 6 5-9 4-5 4 9 4-12 5-9 4 2 4 7 4-1 5 8 4-2 4-11 4-16 5 20 4-2 4-4 5-7 4 5 4-7 4-8 5-5 4-1 4 6 4-8 5-16 4-2 4 14 5-1 4-29 4 16 4-1 5 8 4 1 4-21 4 5 5 2 4-14 4 8 5-2 4-6 4-12 4-20 5 8 4 3 4-3 4-14 5-44 4 37 4 3 5-21 4-3 4 11 4-22 5 1 4 27 4 7 4-17 8 8-5-12-4 3-4-16-5 24-4-3-4 6-5 0-4 2-4 9-5-11-4 28-4-1-4-1-5 11-4-11-4 12-5 13-4 3-4 3-5 9-4 1-4-8-5 1-4 12-4 11-5-11-4 18-4-8-5-13-4 26-4-23-5-21-4 32-4 18-5-13-4 10-4-3-5 10-4 7-4 3-5 4-4-3-4 3-4-1-5 17-4 2-4-5-5-5-4 3-4 11-5-7-4-1-4-9-5-6-4 22-4-9-5 15-4-1-4-9-5 19-4-11-4 5-5 18-4-6-4 7-5 0-4-1-4-28-5 30-4 10-4 1-5-9-4-20-4 35-5-1-4-16-4-2-4 0-5 6z"/><path transform="translate(83.8 64.3)" d="M2678 1553l4-6 5 0 4 2 4 16 5 1 4-35 4 21 5 8 4-1 4-9 5-31 4 28 4 1 4 0 5-6 4 5 4-17 5-6 4 11 4-19 5 9 4 1 4-14 5 8 4-21 4 5 5 9 4 1 4 7 5-11 4-3 4 5 5 6 4-3 4-17 5 1 4-3 4 3 5-4 4-3 4-6 5-11 4 4 4-11 4 13 5-18 4-31 4 21 5 22 4-26 4 14 5 7 4-18 4 11 5-11 4-12 4 0 5 7 4-1 4-9 5-3 4-2 4-14 5-12 4 11 4-10 5 0 4 1 4-28 5 12 4-10 4-2 5 1 4-7 4 3 5-24 4 16 4-3 4 12 7 6-4 4-4 2-5-37-4 9-4 17-5 4-4 11-5 7-4 4-4-4-5-4-4 13-4 12-5 4-4-5-4-5-5 21-4 0-5 2-4 2-4-4-5 9-4 2-4 1-5 5-4 9-4 5-5-1-4-1-5-3-4 7-4-7-5 1-4-1-4 19-5-2-4 3-4 0-5 15-4 5-5-22-4 22-4 0-5-4-4 3-4-1-5 21-4-2-4-24-5 16-4 15-5 2-4-3-4-15-5 18-4-8-4 10-5 11-4 1-4-3-5-2-4-9-5 26-4-1-4-4-5 5-4-3-4 16-5-7-4-9-4 7-5 1-4 2-5 4-4-4-4-6-5-9-4 7-4-4z"/><path transform="translate(89.0 68.3)" d="M2676 1544l5 4 4-6 4 8 5 7 4 3 5-4 4-2 4 0 5-8 4 9 4 7 5-16 4 3 4-5 5 4 4 1 5-26 4 9 4 2 5 3 4-1 4-11 5-10 4 8 4-18 5 15 4 4 5-3 4-15 4-16 5 24 4 2 4-20 5 0 4-3 4 4 5 0 4-22 5 23 4-6 4-15 5 0 4-2 4 1 5-19 4 1 4-1 5 7 4-7 5 4 4 0 4 1 5-5 4-9 4-5 5-1 4-1 4-10 5 4 4-1 5-2 4-1 4-21 5 6 4 5 4-5 5-11 4-14 4 4 5 4 4-4 5-7 4-11 4-3 5-17 4-10 4 37 5-2 4-4 7-13-5 10-4-12-5 7-4 8-4 18-5-12-4 10-5 4-4-3-4 5-5 14-4 5-5-15-4-3-4 33-5 12-4 6-5-29-4 18-4 1-5 5-4 0-4 13-5-7-4 12-5-6-4 2-4 11-5-9-4 10-5-3-4 4-4-6-5 5-4 13-5-10-4 14-4 5-5-9-4 20-5-4-4 7-4-4-5 8-4-4-5-2-4 11-4 3-5-5-4 10-5-15-4-10-4 11-5 8-4-1-5 8-4 12-4 6-5 5-4 3-5 5-4 1-4-9-5-4-4 1-5-7-4 16-4-9-5 21-4-6-5-3-4 1-4 25-5-14-4-23-5 1-4-5-4 7-5-1z"/><path transform="translate(94.3 72.4)" d="M2675 1544l4 1 5-7 4 6 5-2 4 23 4 14 5-25 4-1 5 3 4 6 4-21 5 9 4-15 5 6 4-1 4 4 5 10 4-1 5-6 4-2 4-6 5-5 4-13 5-8 4 1 4-8 5-10 4 10 5 15 4-10 4 4 5-3 4-11 5 2 4 4 4-8 5 4 4-6 5 3 4-20 4 9 5-5 4-14 5 11 4-14 4-5 5 6 4-3 4 3 5-11 4 9 5-11 4-2 4 6 5-12 4 8 5-14 4 1 4-5 5-2 4-18 5 29 4-6 4-12 5-32 4 2 5 15 4-5 4-14 5-5 4 3 5-4 4-10 4 13 5-19 4-7 5-8 4 13 4-11 7 7-5-1-4 8-5 1-4-3-4 8-5 14-4 3-5 14-4-1-5 11-4-19-4 22-5 0-4-7-5-6-4 20-5 19-4-6-4-5-5 4-4-1-5-2-4 6-4 9-5-6-4-3-5 20-4-2-5 9-4 7-4 5-5-5-4 0-5 10-4-1-5-1-4 9-4 1-5 8-4-5-5 9-4-4-5-5-4-4-4-3-5 23-4 8-5-4-4-10-4 9-5-19-4 13-5-26-4 31-5-7-4 30-4-5-5-4-4 10-5 2-4 3-5 6-4-9-4-9-5-7-4 28-5-18-4 17-4-1-5 8-4 5-5-4-4 16-5-7-4-10-4 3-5-15-4-25-5 32z"/><path transform="translate(99.5 76.4)" d="M2674 1551l4-32 5 25 4 15 5-2 4 10 5 6 4-16 4 4 5-4 4-9 5 1 4-17 5 18 4-28 4 8 5 9 4 8 5-6 4-3 4-2 5-10 4 4 5 5 4-30 5 8 4-32 4 26 5-12 4 19 5-10 4 11 5 3 4-8 4-23 5 3 4 4 5 5 4 4 5-8 4 4 4-7 5-1 4-10 5 1 4 1 4-10 5 0 4 5 5-5 4-7 5-9 4 3 4-21 5 3 4 6 5-8 4-7 5 3 4 0 4-4 5 5 4 6 5-19 4-20 4 6 5 7 4 0 5-22 4 19 5-11 4 1 4-14 5-3 4-13 5-9 4 3 5-1 4-8 4 1 6 1-4-2-4 14-5 0-4 2-5 13-4 2-5 15-4 6-5-14-4 25-4-2-5 3-4 0-5 9-4 2-5-26-4-8-5 23-4 6-4 9-5 13-4-18-5 15-4-18-5 13-4 5-5-1-4 13-4 5-5 17-4 0-5-14-4 6-5-1-4 8-4 3-5 11-4-1-5 2-4 27-5-12-4 10-5 2-4-8-4 11-5-31-4 16-5 10-4-3-5 0-4-9-5-4-4 17-4 6-5-11-4 17-5 5-4-10-5-13-4 21-5-8-4 10-4 0-5-9-4 26-5-15-4 14-5-2-4-12-5 6-4 6-4 26-5-8-4 1-5-13-4-23-5 2-4 10-5 14z"/><path transform="translate(104.7 80.4)" d="M2673 1556l5-13 4-11 5-2 4 23 4 13 5-1 4 8 5-26 4-6 5-6 4 12 5 2 4-13 4 15 5-27 4 9 5 0 4-10 5 8 4-21 5 13 4 10 4-4 5-18 4 12 5-7 4-17 5 5 4 8 5 0 4 4 4-11 5-16 4 31 5-11 4 8 5-2 4-10 5 12 4-27 4-2 5 1 4-10 5-4 4-8 5 1 4-6 4 15 5-1 4-16 5-6 4-13 5 1 4-5 5-12 4 17 4-15 5 19 4-14 5-9 4-6 5-23 4 8 5 27 4-3 4-9 5 0 4-3 5 2 4-25 5 14 4-6 5-15 4-2 4-13 5-2 4 0 5-14 4 2 6 9-5-5-4 24-5-16-4 14-5 3-4 2-5-8-4 23-4 8-5 13-4-11-5 20-4 5-5 0-4-2-5 9-4-12-5-7-4 4-4 8-5 13-4-2-5 17-4-1-5-22-4 14-5 2-4-3-4 13-5 8-4-3-5 3-4-8-5 14-4 5-5-13-4 27-5-5-4 2-4 11-5 6-4 12-5-14-4-13-5 14-4-6-5 1-4 14-5-2-4 15-4-23-5-6-4 17-5 1-4-2-5 8-4-21-5 16-4 6-5 5-4 2-4-1-5-6-4 24-5-11-4 16-5-23-4 18-5-19-4 23-5 6-4 6-4-5-5 6-4-13-5-12-4 10-5 14-4 3z"/><path transform="translate(110.0 84.4)" d="M2673 1568l4-3 5-14 4-10 4 13 5 12 4-6 5 5 4-6 5-6 4-22 5 19 4-18 5 22 4-15 4 10 5-24 4 6 5 1 4-1 5-6 4-6 5-16 4 21 4-8 5 2 4 0 5-18 4 6 5 23 4-14 5 1 4-14 5-1 4 6 4-13 5 13 4 14 5-12 4-7 5-11 4-1 5 4 4-27 5 13 4-5 4-14 5 8 4-3 5 3 4-8 5-13 4 3 5-2 4-14 5 22 4 1 4-16 5 1 4-13 5-8 4-4 5 7 4 12 5-9 4 2 5 1 4-5 4-21 5 12 4-14 5-7 4-24 5 8 4-1 5-4 4-14 4 16 5-23 4 4 6 5-5 14-4-2-5-4-4 18-5 1-4-6-5 0-4 10-4 4-5 26-4 5-5-11-4 7-5 16-4-4-5-5-4 2-5-10-4-19-5 45-4-14-4 6-5-3-4 19-5 3-4-17-5 9-4 5-5 9-4 1-5 5-4 4-5-16-4 15-4 16-5 1-4 0-5 10-4-19-5-4-4 14-5 14-4-5-5-10-4 4-4 24-5-6-4-5-5-5-4 10-5-15-4 11-5 0-4 10-5 0-4 15-5-7-4-1-4-1-5 6-4 14-5 10-4-13-5 2-4 7-5 1-4-13-5-3-4 22-4 17-5-6-4-25-5 13-4-2-5-18-4 21-5 7-4 2-5 0z"/><path transform="translate(115.2 88.4)" d="M2672 1563l5 0 4-2 5-7 4-21 4 18 5 3 4-14 5 25 4 6 5-17 4-22 5 3 4 13 5-1 4-7 5-2 4 13 4-10 5-14 4-6 5 1 4 1 5 7 4-15 5 0 4-10 5 1 4-12 4 15 5-10 4 5 5 6 4 5 5-24 4-4 5 10 4 5 5-14 4-14 5 4 4 19 4-10 5 0 4-1 5-15 4-16 5 16 4-3 5-6 4-1 5-9 4-4 4-10 5 18 4-3 5-20 4 3 5-6 4 14 5-45 4 19 5 10 4-1 5 4 4 4 4-15 5-8 4 11 5-5 4-25 5-5 4-9 5 0 4 5 5-1 4-18 4 4 5 2 4-14 6 9-5 21-4-16-5 1-4 6-5 11-4 16-5 4-4-3-5-11-4 26-4 1-5 7-4 13-5 1-4-11-5 18-4-1-5-11-4-1-5-4-4 24-5 4-4-29-4 6-5 22-4 1-5-1-4 0-5-6-4 15-5 11-4-9-5-9-4 14-5 18-4-13-4 25-5 4-4-14-5-17-4 11-5 11-4-2-5-1-4 2-5 11-4-10-5 1-4 5-5 5-4 1-4-4-5 12-4-2-5 7-4 4-5-11-4 6-5-9-4 24-5 18-4 2-5-4-4-3-4 5-5-6-4 6-5-14-4 14-5 0-4 13-5-16-4 5-5 10-4 7-5-1-4 3-4 12-5-12z"/><path transform="translate(120.4 92.5)" d="M2672 1573l4 12 5-12 4-3 5 1 4-7 5-10 4-5 5 16 4-13 4 1 5-15 4 14 5-6 4 6 5-5 4 3 5 5 4-3 5-18 4-24 5 9 4-6 4 11 5-4 4-7 5 2 4-12 5 4 4-1 5-4 4-6 5-1 4 10 5-11 4-2 4 2 5 2 4-12 5-11 4 17 5 14 4-4 5-24 4 13 5-19 4-13 5 8 4 9 5-11 4-15 4 6 5 0 4 1 5-1 4-22 5-6 4 29 5-4 4-23 5 3 4 2 5 10 4 1 4-18 5 11 4-1 5-13 4-6 5-1 4-27 5 11 4 4 5-4 4-16 5-12 4-6 4-1 5 16 4-21 6 10-5 16-4-12-5 14-4 15-5-8-4 0-5 20-4 4-5 2-4 11-4 7-5-27-4 11-5 10-4 19-5-18-4-2-5 24-4 5-5-16-4 0-5 3-4 1-5-16-4 12-4 14-5 6-4-8-5 2-4 21-5-1-4 2-5-16-4 2-5 28-4-21-5 10-4 10-5-6-4-8-4 13-5-2-4 13-5 4-4-4-5 1-4-20-5 15-4 2-5 11-4 5-5-35-4 50-5-12-4-6-4 14-5-2-4 13-5 0-4-19-5 20-4 14-5 2-4-14-5 12-4-5-5-10-4 7-5 12-4-2-4-4-5 10-4 7-5 2-4-1-5-8-4 13-5 1-4-2z"/><path transform="translate(125.7 96.5)" d="M2672 1569l4 2 5-1 4-13 4 8 5 1 4-2 5-7 4-10 5 4 4 2 5-12 4-7 5 10 4 5 5-12 4 14 4-2 5-14 4-20 5 19 4 0 5-13 4 2 5-14 4 6 5 12 4-50 5 35 4-5 5-11 4-2 4-15 5 20 4-1 5 4 4-4 5-13 4 2 5-12 4 7 5 7 4-11 5-10 4 21 5-27 4-2 4 15 5-2 4 1 5-21 4-2 5 8 4-6 5-14 4-11 5 15 4 0 5-4 4 0 5 17 4-6 4-23 5 1 4 18 5-19 4-9 5-12 4 28 5-7 4-11 5-3 4-4 5-19 4-1 5 9 4-16 4-14 5 12 4-16 6 31-5 1-4-1-5 8-4-3-5 0-4 14-5 5-4-2-5-5-4 1-5 17-4 7-4-15-5 22-4-19-5 1-4 6-5 20-4-15-5 5-4 2-5 11-4 11-5-6-4 12-5 1-4-7-4 11-5-4-4-22-5 35-4 8-5 9-4 8-5-11-4 5-5 8-4-10-5-9-4 9-5-3-4-27-5-1-4 12-4 9-5 12-4 0-5 4-4-8-5 8-4 3-5 1-4 13-5 6-4-12-5 18-4-1-5-27-4 28-4-3-5-10-4 27-5-19-4 9-5-1-4-27-5 21-4-2-5 31-4-25-5 39-4-12-5 8-4-4-4 7-5-20-4 25-5-8-4 0z"/><path transform="translate(130.9 100.5)" d="M2671 1568l5 0 4 9 5-26 4 20 5-7 4 4 5-8 4 13 5-40 4 25 5-30 4 1 4-20 5 26 4 1 5-9 4 19 5-27 4 10 5 3 4-28 5 27 4 1 5-18 4 12 5-6 4-13 5 0 4-4 4-8 5 8 4-3 5-1 4-12 5-9 4-12 5 1 4 27 5 3 4-8 5 8 4 10 5-7 4-5 4 10 5-8 4-9 5-8 4-35 5 22 4 4 5-10 4 7 5-2 4-12 5 6 4-11 5-11 4-2 5-5 4 15 4-19 5-7 4 0 5 18 4-22 5 15 4-7 5-16 4-2 5 5 4 2 5-5 4-14 5 0 4 3 4-8 5 1 4-1 6 4-5 11-4 4-5-1-4-4-5-5-4 3-5 11-4 7-5-2-4 18-5-19-4 5-4 6-5 3-4-9-5 13-4 2-5-3-4 4-5 13-4-23-5 4-4 28-5-4-4 3-5-19-4 36-5 4-4-44-4 32-5 11-4-3-5 22-4 26-5 0-4 1-5-23-4 23-5-7-4-32-5 12-4-11-5 8-4-3-5 4-4-19-4-14-5 43-4 20-5 4-4-22-5 24-4 8-5 2-4-17-5 12-4-13-5-9-4 8-5 22-4-9-4 9-5-43-4 38-5 6-4 0-5-11-4 21-5 11-4-2-5 14-4 6-5-5-4 11-5-25-4 15-5-16-4 4-4-17z"/><path transform="translate(136.2 104.5)" d="M2671 1545l5 17 4-4 5 16 4-15 5 25 4-11 5 5 4-6 5-14 4 2 4-11 5-21 4 11 5 0 4-5 5-39 4 43 5-9 4 9 5-22 4-8 5 10 4 13 5-13 4 18 5-3 4-7 4-25 5 23 4-4 5-21 4-42 5 13 4 19 5-4 4 3 5-7 4 10 5-12 4 33 5 6 4-23 4 24 5-2 4 0 5-26 4-22 5 3 4-11 5-32 4 44 5-4 4-36 5 19 4-2 5 3 4-28 5-4 4 24 4-14 5-4 4 3 5-2 4-13 5 9 4-3 5-6 4-5 5 19 4-18 5 2 4-7 5-11 4-3 5 6 4 3 4 1 5-4 4-11 6-1-5 16-4 1-5 5-4 9-5-5-4-3-5 13-4-6-5 1-4-3-5 13-4-15-4-1-5 12-4 8-5-10-4 16-5-20-4 10-5 20-4-9-5 16-4 4-5-2-4-6-5-4-4-2-5 15-4 10-4 6-5 3-4-4-5 46-4 4-5 10-4-6-5 15-4-7-5 2-4-19-5-33-4 9-5 4-4-5-5 5-4 5-4-4-5 7-4 17-5-18-4-7-5 13-4 23-5 2-4-9-5 3-4 2-5-5-4-3-5 16-4-23-5 29-4 3-4 1-5-13-4-4-5 29-4-5-5 4-4 12-5 3-4-20-5 20-4 1-5 6-4-8-5-4-4 16-5-23z"/><path transform="translate(141.4 108.5)" d="M2671 1559l5 23 4-16 5 5 4 7 5-6 4-1 5-20 4 20 4-3 5-12 4-4 5 5 4-29 5 4 4 13 5 0 4-4 5-29 4 23 5-16 4 3 5 6 4-3 5-3 4 10 4-3 5-22 4-13 5 6 4 18 5-17 4-7 5 4 4-4 5-6 4 6 5-5 4-9 5 34 4 18 5-2 4 7 4-15 5 6 4-10 5-4 4-46 5 4 4-3 5-6 4-10 5-15 4 2 5 5 4 5 5 2 4-4 5-16 4 10 4-21 5-10 4 20 5-16 4 10 5-8 4-12 5 1 4 15 5-13 4 3 5-1 4 6 5-13 4 3 5 5 4-9 4-5 5-1 4-16 6 21-5-8-4 23-5-3-4-1-5-24-4 22-5-2-4 3-5-17-4 31-5 13-4-9-4-4-5-5-4 9-5 10-4-9-5 4-4 1-5 10-4-15-5 9-4 12-5-1-4 7-5-7-4 4-5-1-4 0-4 16-5 24-4 13-5 21-4 1-5 16-4-1-5 0-4 3-5-19-4-12-5-3-4-6-5-20-4 14-5 10-4 2-5 2-4-11-4 12-5 13-4-7-5 5-4 9-5 4-4-11-5 6-4-24-5-9-4 45-5 9-4-10-5 13-4 2-5 3-4 1-4-11-5 6-4-13-5 5-4 25-5 8-4 5-5-35-4 18-5-1-4 1-5 15-4 2-5-15z"/><path transform="translate(146.6 112.6)" d="M2671 1568l5 15 4-2 5-15 4-1 5 1 4-18 4 35 5-5 4-8 5-24 4-6 5 14 4-7 5 11 4-1 5-2 4-3 5-13 4 10 5-9 4-45 5 9 4 24 4-6 5 11 4-4 5-9 4-5 5 7 4-13 5-12 4 12 5-3 4-2 5-10 4-14 5 21 4 6 5 2 4 12 4 19 5-2 4-1 5 1 4-16 5 0 4-22 5-13 4-24 5-16 4 0 5 1 4-3 5 6 4-6 5 0 4-12 5-9 4 15 4-10 5-1 4-4 5 9 4-10 5-9 4 5 5 5 4 8 5-12 4-31 5 16 4-2 5 1 4-22 5 24 4 1 4 3 5-22 4 7 6 12-5-4-4 10-5 10-4-5-5-13-4 13-5-3-4 7-5-1-4 7-5-15-4 0-4 10-5 3-4 4-5 7-4-17-5 8-4 1-5 10-4 6-5-21-4 5-5-12-4-16-5 35-4 15-5 8-4-12-5 15-4 26-4 18-5 17-4 1-5 7-4-17-5 23-4-11-5 3-4-15-5-22-4 29-5-11-4-23-5 26-4-11-5-2-4-9-4-11-5 33-4 5-5-19-4 12-5 24-4-11-5 10-4-7-5-4-4 6-5 15-4 3-5 4-4-1-5-1-4 9-4-11-5 5-4-12-5 15-4 23-5-4-4 3-5 7-4-1-5-2-4 15-5 0-4-7-5-7z"/><path transform="translate(151.9 116.6)" d="M2671 1576l5 7 4 7 5 0 4-15 5 2 4 1 4-7 5-2 4 3 5-23 4-15 5 12 4-5 5 11 4-9 5 1 4 1 5-4 4-3 5-15 4-6 5 4 4 7 4-9 5 10 4-23 5-12 4 18 5-5 4-33 5 11 4 9 5 2 4 11 5-26 4 23 5 11 4-29 5 22 4 16 4-4 5 11 4-23 5 17 4-7 5-1 4-17 5-18 4-25 5-16 4 13 5-8 4-16 5-35 4 16 5 12 4-5 5 21 4-5 4-11 5-1 4-7 5 16 4-7 5-4 4-3 5-10 4 0 5 15 4-7 5 1 4-7 5 3 4-12 5 13 4 4 4-9 5-11 4 4 6 13-5 1-4 1-5 10-4-16-5 20-4-6-5 4-4-4-5 7-4-12-5 4-4 5-4-1-5-8-4 5-5 1-4 6-5 8-4 5-5 2-4-14-5-7-4-17-5 36-4-10-5-10-4 0-5 24-4 14-5-2-4 15-4 6-5 22-4 7-5 16-4 16-5-20-4-9-5 6-4-1-5-17-4 8-5-6-4-8-5 10-4 14-5-5-4-17-4 2-5 20-4-6-5 2-4 4-5-3-4-6-5 3-4 12-5-6-4 19-5-2-4-16-5 35-4-6-5-15-4 25-4 2-5 1-4 1-5 14-4 8-5-10-4 16-5-10-4-4-5 6-4-3-5-5-4 16-5-14z"/><path transform="translate(157.1 120.6)" d="M2671 1571l5 14 4-16 5 5 4 3 5-6 4 4 4 10 5-16 4 10 5-8 4-14 5-1 4-1 5-2 4-25 5 15 4 6 5-35 4 16 5 3 4-20 5 6 4-12 4-3 5 6 4 3 5-4 4-2 5 6 4-20 5-1 4 16 5 5 4-14 5-10 4 8 5 6 4-8 5 17 4 1 4-5 5 8 4 21 5-17 4-16 5-7 4-21 5-7 4-15 5 2 4-14 5-24 4 0 5 11 4 9 5-35 4 16 5 8 4 13 4-2 5-5 4-8 5-6 4-1 5-4 4 8 5 1 4-5 5-5 4 12 5-7 4 5 5-5 4 6 5-20 4 16 4-10 5 0 4-1 6-3-5-7-4-8-5 7-4 8-5 7-4 18-5-15-4 7-5 0-4 0-5-3-4 4-4 1-5 10-4 1-5-4-4-13-5-4-4 22-5 5-4 1-5-13-4-2-5-4-4-20-5 31-4-9-5 0-4 20-5-3-4 12-4 27-5 11-4 13-5 7-4-2-5-4-4 7-5 1-4-18-5 15-4-22-5-4-4 19-5 2-4 7-5 9-4-22-4-2-5-1-4 18-5 15-4-14-5 8-4 6-5-5-4 10-5 6-4 1-5 1-4 9-5-9-4 15-5-13-4 12-4 8-5-10-4 16-5 3-4-7-5 6-4-10-5 12-4-2-5-20-4 12-5-2-4 23-5 3z"/><path transform="translate(162.3 124.6)" d="M2671 1585l5-4 4-23 5 3 4-13 5 20 4 2 4-12 5 10 4-6 5 7 4-3 5-16 4 10 5-8 4-11 5 12 4-15 5 10 4-10 5-1 4-1 5-6 4-10 4 5 5-6 4-8 5 14 4-15 5-18 4 2 5 1 4 23 5-10 4-7 5-1 4-19 5 3 4 22 5-15 4 18 4-1 5-7 4 4 5 2 4-7 5-13 4-11 5-27 4-12 5 3 4-19 5-1 4 10 5-32 4 20 5 5 4 2 4 12 5-1 4-5 5-22 4 4 5 13 4 4 5-1 4-10 5-1 4-4 5 3 4 0 5 0 4-7 5 16 4-19 5-7 4-8 4-7 5 8 4 8 6-18-5 6-4 23-5-31-4 33-5 6-4 7-5 13-4-5-5-22-4 10-5 8-4-7-4 12-5 1-4 0-5-14-4 10-5 12-4-8-5 5-4 6-5-13-4-17-5-27-4 8-5 19-4 5-5 7-4 4-5-32-4 19-4 28-5 29-4 6-5-6-4 21-5 4-4 7-5-4-4-15-5 15-4 2-5-16-4 16-5 5-4-6-5-1-4 1-4 3-5 10-4-10-5 5-4 2-5 16-4 2-5-18-4 14-5 10-4-6-5 12-4 5-5 11-4-3-5-14-4-24-4 40-5 5-4-4-5 12-4 15-5-9-4 6-5 10-4-10-5-14-4-8-5-1-4 19-5-2z"/><path transform="translate(167.6 128.6)" d="M2671 1576l5 1 4-19 5 1 4 8 5 14 4 10 4-10 5-5 4 8 5-15 4-12 5 4 4-5 5-40 4 24 5 14 4 3 5-10 4-6 5-12 4 7 5-11 4-14 4 19 5-3 4-16 5-2 4-5 5 11 4-11 5-3 4-1 5 2 4 5 5-4 4-17 5 16 4-1 5-16 4 15 4 4 5-7 4-4 5-21 4 7 5-7 4-28 5-28 4-20 5 32 4-4 5-7 4-5 5-18 4-9 5 27 4 17 4 14 5-7 4-4 5 7 4-12 5-10 4 14 5 0 4-1 5-12 4 7 5-8 4-10 5 22 4 5 5-13 4-7 5-6 4-33 4 31 5-22 4-7 6 7-5 16-4-10-5 17-4 11-5 0-4-10-5 15-4-11-5 9-4-17-5 24-4 4-4-4-5 11-4 0-5-3-4 6-5 1-4 7-5-11-4-9-5-18-4 13-5-25-4-2-5 26-4 6-5-8-4-12-5 11-4 21-4-3-5 30-4 2-5 11-4 15-5 4-4 0-5 0-4 2-5-3-4-16-5 20-4 1-5-1-4 1-5 1-4 7-4-12-5 18-4-18-5 0-4-19-5 48-4-1-5-9-4-11-5 37-4-8-5 11-4 11-5-1-4 0-5 12-4-4-4 10-5 2-4-5-5 11-4 2-5 3-4 4-5-10-4-2-5 4-4 5-5 4-4-6-5-3z"/><path transform="translate(172.8 132.7)" d="M2671 1581l5 2 4 7 5-5 4-5 5-4 4 2 4 11 5-5 4-2 5-3 4-11 5 6 4-3 5-10 4 4 5-12 4 0 5 2 4-11 5-12 4 8 5-37 4 11 4 10 5 0 4-48 5 19 4 1 5 17 4-18 5 12 4-7 5-1 4-1 5 1 4 0 5-20 4 15 5 3 4-2 4 0 5 0 4-4 5-15 4-11 5-1 4-31 5 3 4-21 5-11 4 13 5 8 4-6 5-26 4 1 5 25 4-13 4 18 5 10 4 10 5-7 4-1 5-6 4 4 5-1 4-11 5 4 4-4 5-24 4 17 5-8 4 10 5-15 4 10 5 0 4-11 4-17 5 10 4-16 6 13-5 4-4 10-5 12-4 6-5-18-4 0-5 19-4 15-5-9-4-26-5 8-4 12-4 6-5 2-4 11-5-2-4-1-5-17-4 11-5-20-4 17-5-12-4-3-5-4-4-8-5 0-4 13-5 6-4-1-5 1-4 26-4 14-5 0-4 1-5 14-4 7-5 0-4-24-5 24-4 7-5 1-4-2-5 3-4 18-5 12-4 0-5-9-4 13-4-10-5 4-4-3-5-32-4 49-5 1-4 4-5-5-4-24-5 25-4-12-5 13-4 17-5-15-4-6-5 33-4-9-4 10-5 4-4 7-5 1-4 9-5-2-4 3-5-8-4-15-5 13-4 1-5 2-4-7-5 3z"/><path transform="translate(178.0 136.7)" d="M2671 1573l5-3 4 7 5-2 4-1 5-13 4 15 4 8 5-3 4 3 5-9 4-1 5-8 4-4 5-10 4 10 5-34 4 7 5 14 4-17 5-13 4 12 5-24 4 23 4 5 5-4 4-1 5-49 4 32 5 3 4-4 5 10 4-13 5 9 4 0 5-12 4-18 5-3 4 2 5-1 4-7 4-24 5 24 4 1 5-7 4-15 5-1 4 0 5-14 4-25 5-2 4 2 5-7 4-13 5 0 4 8 5 4 4 3 5 12 4-17 4 20 5-11 4 17 5 1 4 3 5-12 4-1 5-7 4-12 5-7 4 25 5 9 4-15 5-19 4 1 5 18 4-7 4-12 5-10 4-4 6 5-5 9-4-5-5 27-4 0-5-6-4 9-5-16-4 13-5 5-4 1-5 2-4-11-4 11-5 17-4-6-5 5-4-10-5-1-4 3-5-10-4-11-5 12-4-1-5-21-4 13-5-13-4 24-5 2-4-1-5 5-4 5-4 24-5 3-4 12-5 7-4-12-5 13-4-7-5 7-4 5-5 9-4 3-5-29-4 37-5 7-4-5-5-18-4 26-4-7-5-4-4 5-5-15-4 27-5 4-4-14-5-1-4 1-5-11-4 17-5 11-4 9-5-2-4-6-5 12-4 18-4-7-5-1-4 4-5 12-4-3-5 16-4-12-5 9-4-16-5 1-4-1-5 9-4-3-5 15z"/><path transform="translate(183.3 140.7)" d="M2671 1584l5-14 4 2 5-9 4 1 5-1 4 16 4-8 5 11 4-16 5 3 4-12 5-4 4 1 5 7 4-18 5-11 4 6 5 1 4-9 5-11 4-17 5 11 4-1 4 1 5 14 4-4 5-26 4 14 5-5 4 4 5 7 4-26 5 18 4 5 5-7 4-37 5 30 4-4 5-9 4-5 4-6 5 7 4-13 5 11 4-7 5-12 4-3 5-24 4-5 5-5 4 1 5-2 4-24 5 13 4-13 5 21 4 1 5-12 4 12 4 9 5-3 4 1 5 10 4-5 5 6 4-17 5-11 4 11 5-2 4-1 5-5 4-13 5 16 4-9 5 6 4 0 4-27 5 5 4-9 6 24-5 7-4 11-5-9-4 0-5-1-4-13-5 38-4-14-5 10-4 6-5-5-4 8-4 0-5-1-4-1-5-22-4 2-5 15-4 2-5-2-4-3-5-22-4 8-5 12-4-24-5 8-4 13-5 9-4 6-4-10-5 12-4 12-5-6-4 6-5-11-4 26-5-3-4 13-5-1-4 8-5 16-4-8-5 8-4 6-5 4-4-11-5 13-4 0-4-19-5 23-4-14-5 8-4-9-5 21-4-13-5 22-4-4-5-2-4 0-5-9-4 27-5-31-4-6-5 23-4 10-4 10-5 5-4 8-5-8-4 19-5-2-4-2-5 16-4-22-5-27-4 22-5 2-4 12-5 11z"/><path transform="translate(188.5 144.7)" d="M2671 1585l5-11 4-12 5-2 4-22 5 27 4 22 4-16 5 3 4 1 5-19 4 8 5-8 4-5 5-10 4-10 5-23 4 6 5 31 4-27 5 9 4 0 5 2 4 4 4-22 5 13 4-21 5 9 4-8 5 14 4-23 5 19 4 0 5-13 4 11 5-4 4-6 5-8 4 8 5-16 4-8 4 1 5-12 4 2 5-26 4 11 5-6 4 6 5-12 4-12 5 10 4-6 5-8 4-14 5-8 4 24 5-12 4-8 5 23 4 2 4 2 5-2 4-14 5-3 4 22 5 2 4 0 5 0 4-8 5 5 4-6 5-10 4 14 5-38 4 13 5 1 4 0 4 9 5-11 4-7 6-23-5 12-4 15-5-18-4 34-5 10-4-21-5 18-4 5-5 6-4 6-5-5-4-14-4 14-5-1-4-12-5 8-4 13-5-8-4-10-5 12-4-4-5 1-4-13-5 2-4 8-5-5-4 20-5-26-4 22-4 7-5 1-4 4-5 21-4 4-5-3-4-19-5 26-4 7-5 0-4-10-5-2-4 10-5-20-4 13-5 19-4 1-4 3-5-5-4-2-5 21-4-12-5-19-4 11-5 10-4 3-5 13-4 3-5-8-4 4-5-1-4 17-5-29-4 22-4 10-5-5-4 13-5 11-4 6-5 4-4-16-5-1-4-9-5 12-4 7-5-25-4 30-5 0-4 18-5-6z"/><path transform="translate(193.8 148.7)" d="M2671 1581l5 7 4-19 5 1 4-31 5 25 4-7 5-12 4 10 4 0 5 16 4-3 5-7 4-11 5-13 4 5 5-10 4-22 5 29 4-17 5 1 4-4 5 8 4-3 5-13 4-3 4-10 5-11 4 19 5 13 4-22 5 3 4 4 5-3 4-1 5-19 4-13 5 21 4-10 5 1 4 10 5 0 4-7 4-26 5 19 4 3 5-4 4-21 5-4 4-1 5-7 4-22 5 26 4-20 5 5 4-8 5-2 4 13 5-1 4 4 4-11 5 9 4 8 5-13 4-7 5 11 4 1 5-13 4 13 5 6 4-7 5-6 4-5 5-18 4 22 5-11 4-34 4 18 5-15 4-12 6 29-5 1-4 3-5 10-4 13-5 2-4-13-5 18-4 6-5-1-4-4-5-16-4 14-4-12-5 0-4 9-5 0-4 4-5 12-4-4-5 2-4-8-5-7-4 26-5-5-4-11-5 4-4 1-5 10-4-1-4-4-5 3-4-16-5 6-4 44-5 8-4 0-5 12-4-11-5-9-4 17-5-4-4 7-5-20-4 12-5 14-4-8-4-8-5 6-4-3-5 22-4 9-5-10-4 5-5-10-4-22-5 18-4-1-5 10-4 0-5 6-4 9-5 9-4 2-4-7-5 7-4 15-5-7-4 4-5 4-4 6-5-4-4 13-5-4-4-15-5 8-4 5-5 10-4 0-4-2z"/><path transform="translate(199.0 152.8)" d="M2671 1575l5 2 4 0 5-10 4-5 5-8 4 15 5 4 4-13 5 4 4-5 4-5 5-3 4 6 5-14 4-8 5 7 4-1 5-10 4-9 5-6 4 0 5-10 4 1 5-18 4 22 4 10 5-5 4 10 5-8 4-23 5 3 4-6 5 8 4 8 5-14 4-12 5 20 4-7 5 4 4-17 5 9 4 11 4-12 5 1 4-9 5-43 4-7 5 16 4-3 5 4 4 1 5-10 4-1 5-3 4 10 5 5 4-26 5 7 4 8 4-2 5 4 4-12 5-4 4 0 5-9 4 0 5 12 4-14 5 16 4 4 5 2 4-6 5-19 4 14 5-3 4-13 4-9 5-3 4-1 6 0-5-4-4 13-5 12-4-6-5-3-4 14-5-5-4 12-5-5-4 8-5 6-4 0-4-15-5-4-4 0-5 29-4 2-5-9-4-1-5-1-4-12-5 4-4 27-5 3-4 3-5-23-4 10-4 8-5-14-4 12-5-19-4-3-5 36-4 6-5 19-4 0-5-1-4 3-5 15-4-11-5-1-4 1-5 12-4 3-4-5-5-11-4-16-5 13-4 16-5 10-4-8-5-17-4-7-5 30-4 12-5-12-4 5-5 7-4-4-4 13-5 7-4-12-5-2-4 10-5-13-4 6-5 12-4 2-5 7-4 8-5 10-4 1-5 1-4-2-5-12-4 11-4-12-5 6-4 16z"/><path transform="translate(204.2 156.8)" d="M2671 1583l5-17 4-5 5 11 4-11 5 13 4 2 5-2 4-1 5-10 4-7 5-8 4-2 4-12 5-6 4 14 5-11 4 2 5 13 4-8 5-13 4 5 5-8 4-5 5 12 4-12 5-30 4 7 4 17 5 8 4-10 5-16 4-13 5 17 4 10 5 5 4-3 5-11 4-2 5 2 4 11 5-15 4-4 5 1 4 0 4-19 5-6 4-36 5 3 4 19 5-12 4 14 5-8 4-10 5 24 4-3 5-4 4-27 5-3 4 11 4 1 5 1 4 9 5-2 4-29 5 0 4 4 5 15 4 1 5-6 4-8 5 5 4-13 5 5 4-14 5 4 4 5 4-12 5-13 4 4 6 4-5-5-4 20-5 2-4-15-5-3-4 16-5 21-4-21-5 17-4 5-4-15-5 10-4-15-5 23-4-4-5-8-4-8-5 2-4 20-5-1-4 1-5 6-4 24-5 1-4-1-4-13-5-5-4 21-5-6-4-2-5 3-4-9-5 12-4 26-5-12-4-18-5 21-4-1-5 3-4 13-4-2-5 2-4-6-5 14-4-4-5 2-4-5-5 11-4 5-5 3-4 8-5-5-4-6-5 8-4-2-4-1-5 10-4 20-5 0-4-9-5-2-4-6-5 3-4 7-5 10-4-12-5 1-4 13-5 1-4 6-4 21-5-2-4-20-5 2-4 4-5-19-4 22-5-2-4 12z"/><path transform="translate(209.5 160.8)" d="M2672 1577l4-13 4 3 5-23 4 19 5-4 4-2 5 20 4 2 5-21 4-6 5-1 4-12 5-2 4 12 5-10 4-7 4-3 5 7 4 1 5 9 4 0 5-20 4-9 5 0 4 2 5-8 4 7 5 4 4-7 5-4 4-5 4-11 5 5 4-2 5 5 4-15 5 6 4-2 5 3 4-14 5-3 4 1 5-21 4 18 5 12 4-26 4-12 5 9 4-3 5 3 4 5 5-21 4 5 5 14 4 0 5-1 4-24 5-5 4-2 5 2 4-21 4-2 5 8 4 8 5 4 4-23 5 15 4-10 5 15 4-5 5-17 4 21 5-21 4-16 5 3 4 15 4-2 5-20 4 6 6-7-5 10-4-15-5-13-4 36-5 3-4 5-5 5-4 1-5-3-4 0-4 3-5 13-4 12-5-18-4 6-5 14-4 0-5 2-4 2-5 1-4-13-5 20-4-5-4-15-5 12-4 9-5 11-4-3-5 14-4-1-5 2-4-15-5 5-4 9-5-22-4 25-5 9-4-13-4 17-5 7-4-7-5 10-4 7-5-5-4 5-5-6-4 10-5 1-4-13-5-10-4 12-4 11-5 6-4 5-5 4-4-2-5 1-4 6-5 1-4 10-5 1-4-19-5-1-4 12-5 16-4 0-4-1-5-23-4 31-5 0-4 5-5-10-4 2-5 1-4 16-5-5-4-1-5-13-4 17z"/><path transform="translate(214.7 164.8)" d="M2672 1568l4-17 5 13 4 1 5 5 4-16 5-1 4-2 4 10 5-5 4 0 5-31 4 23 5 1 4 0 5-16 4-12 5 2 4 19 5-1 4-11 4-1 5-6 4-1 5 2 4-4 5-5 4-5 5-11 4-13 5 10 4 13 5 0 4-11 5 6 4-4 4 4 5-7 4-10 5 7 4-7 5-17 4 13 5-9 4-25 5 22 4-9 5-5 4 15 4-2 5 1 4-14 5 3 4-11 5-9 4-12 5 15 4 6 5-21 4 13 5-1 4-2 5-2 4 0 4-14 5-6 4 18 5-12 4-12 5-4 4 0 5 3 4-1 5-5 4-4 5-4 4-36 4 13 5 16 4-11 6-14-5 15-4 1-5 11-4 12-5 11-4 3-5-1-4-2-5 10-4 2-4-1-5 19-4-1-5-4-4 4-5 6-4-2-5-13-4 9-5 4-4 10-4 1-5-17-4 21-5-10-4 4-5 4-4-8-5 6-4-3-5-10-4 19-5-6-4 18-4-7-5 0-4 4-5 14-4 5-5-26-4 27-5 13-4-18-5 2-4 18-5-5-4 4-4 9-5-4-4-1-5 2-4 1-5 7-4 5-5-5-4-13-5 4-4 20-4 4-5 3-4-13-5 19-4-3-5-2-4-8-5 35-4-4-5-4-4-1-5-4-4 4-4-13-5 4-4 12-5 11-4-8-5 20-4 6-5-2z"/><path transform="translate(219.9 168.8)" d="M2672 1581l5 3 4-7 4-19 5 7 4-11 5-12 4-4 5 14 4-5 5 4 4 1 5 4 4 4 5-35 4 8 4 2 5 3 4-19 5 14 4-4 5-4 4-20 5-4 4 13 5 5 4-5 4-7 5-1 4-1 5 0 4 4 5-9 4-4 5 5 4-18 5-2 4 18 5-13 4-27 4 27 5-6 4-14 5-3 4-1 5 7 4-17 5 5 4-19 5 10 4 3 5-6 4 8 4-3 5-5 4 10 5-21 4 17 5-1 4-9 5-5 4-8 5 13 4 1 5-5 4-4 4 3 5 1 4-19 5 1 4-2 5-10 4 2 5 1 4-3 5-11 4-12 4-11 5-1 4-14 6 29-5-14-4 8-5 6-4 26-5-11-4 0-5 16-4-29-4 25-5-2-4 13-5 1-4 5-5 0-4-4-5 0-4-2-5 14-4 18-4-10-5-17-4 25-5 4-4 4-5-2-4 5-5-4-4-5-5 11-4-12-4-9-5 18-4-9-5 0-4 6-5 11-4 28-5-5-4 3-5-7-4 9-4-2-5 11-4-15-5 6-4-2-5-8-4 12-5 6-4-20-5 31-4-16-4 27-5 5-4-9-5-7-4-4-5 1-4 26-5-3-4-5-5 1-4-35-4 37-5 8-4 2-5 5-4 0-5-19-4 21-5 0-4-3-5 5-4-7-4 19-5-26-4 37-5 14-4-6z"/><path transform="translate(225.2 172.9)" d="M2673 1582l4 7 4-14 5-38 4 26 5-19 4 8 5-6 4 3 5 0 4-21 5 19 4 0 4-5 5-2 4-8 5-37 4 35 5 0 4 4 5 3 4-26 5-1 4 4 4 7 5 9 4-4 5-28 4 16 5-31 4 21 5-7 4-12 5 8 4 2 4-6 5 15 4-10 5 1 4-9 5 7 4-3 5 5 4-28 5-10 4-7 4 0 5 10 4-19 5 9 4 12 5-11 4 5 5 4 4-5 5 2 4-4 4-4 5-25 4 18 5 9 4-17 5-14 4 1 5 0 4 4 4 0 5-5 4-1 5-13 4 2 5-24 4 29 5-17 4 1 5 11 4-27 4-6 5-8 4 14 6-7-5 6-4-1-5 12-4-8-5 0-4 20-5 6-4 9-4-9-5-7-4 7-5 26-4 11-5-2-4-17-5-1-4 1-4 12-5 9-4 7-5 1-4 1-5-20-4 14-5 7-4 8-4-46-5 31-4 17-5-5-4-1-5-11-4 1-5-1-4 2-4 17-5 17-4-8-5-7-4 12-5 0-4-1-5 7-4-1-4-20-5 12-4 24-5-12-4 6-5-5-4 28-5 11-4-21-5 14-4 10-4-15-5-1-4 2-5 18-4-2-5 8-4-14-5 1-4 18-4-1-5-8-4-26-5 24-4 4-5-5-4-20-5 34-4-3-4 0-5 16-4-11-5 21-4 0-5-20z"/><path transform="translate(230.4 176.9)" d="M2673 1550l5 20 4 0 4-21 5 11 4-16 5 0 4 3 5-34 4 21 5 5 4-4 4-25 5 27 4 7 5 1 4-18 5-1 4 15 5-9 4 2 4-18 5-1 4 0 5 15 4-10 5-14 4 21 5-11 4-28 4 5 5-5 4 11 5-24 4-11 5 19 4 1 5-7 4 1 5 0 4-12 4 7 5 9 4-18 5-17 4-2 5 1 4-1 5 11 4 1 4 5 5-16 4-32 5 46 4-8 5-7 4-13 5 19 4-1 4 0 5-8 4-9 5-12 4-1 5 1 4 17 5 2 4-11 4-26 5-7 4 7 5 9 4-9 5-6 4-20 5 0 4 8 4-12 5 1 4-6 5 0-5-6-4 15-4 18-5 4-4-6-5 14-4 9-5 11-4-12-4-10-5 5-4 4-5 6-4 22-5-7-4 15-4-4-5-1-4-4-5 3-4 10-5-1-4 3-4-1-5-5-4 4-5-2-4 8-5 5-4-3-4-17-5 2-4 6-5 1-4 0-5 3-4 3-4 2-5-11-4 39-5-8-4 1-5 2-4 14-4 0-5 4-4 3-5-4-4-8-5-10-4 27-4-14-5 34-4-9-5-4-4 13-5-6-4 2-4 13-5 12-4-7-5-26-4 7-4 14-5-5-4-11-5 6-4-9-5 10-4 13-4 2-5-19-4 17-5 3-4 6-5 0-4 23-4 3-5-3z"/><path transform="translate(235.7 180.9)" d="M2674 1570l4 3 5-3 4-23 5 1 4-7 4-3 5-17 4 19 5-2 4-13 5-10 4 9 4-6 5 11 4 5 5-14 4-7 5 26 4 8 4-13 5-13 4-2 5 6 4-12 5 3 4 9 4-34 5 14 4-27 5 10 4 8 5 4 4-3 4-4 5 1 4-15 5-2 4 0 5 8 4-39 4 11 5-3 4-2 5-4 4 0 4 0 5-7 4-2 5 17 4 3 5-5 4-8 4 3 5-5 4 6 5 0 4-3 5 1 4-10 4-3 5 4 4 1 5 4 4-15 5 8 4-22 4-7 5-4 4-5 5 11 4 11 5-10 4-10 4-14 5 7 4-5 5-18 4-15 5 6 4 29-5-4-4-2-4-1-5 16-4 4-5-16-4 18-4-12-5 7-4 19-5-3-4 9-4 8-5 5-4 1-5-14-4 19-4 12-5-6-4 9-5 4-4-11-4-2-5 10-4 4-5 0-4-11-4 3-5 0-4-3-5-4-4 7-4-11-5 2-4-11-5 23-4 0-4 16-5-1-4 5-5 14-4 0-4 7-5-7-4 1-5 10-4-4-4-18-5 12-4 26-5-28-4-4-4 11-5 13-4 1-5 17-4 0-4-8-5 19-4-10-5-18-4 18-4 6-5-23-4 13-5 9-4-18-4 2-5 18-4-5-5 7-4-10-5 10-4 8-4 10-5 4-4 3-5-9-4 24z"/><path transform="translate(240.9 184.9)" d="M2675 1575l4-24 5 10 4-4 4-3 5-11 4-8 5-10 4 11 4-7 5 4 4-17 5-3 4 18 4-8 5-13 4 22 5-6 4-17 4 17 5 10 4-19 5 8 4 0 4-17 5-1 4-13 5-11 4 4 5 29 4-27 4-12 5 18 4 4 5-10 4-1 4 7 5-7 4 0 5-14 4-5 4 1 5-16 4 0 5-23 4 11 4-2 5 11 4-7 5 4 4 3 4 0 5-3 4 11 5 0 4-4 4-9 5 1 4 11 5-4 4-8 4 5 5-12 4-19 5 14 4-1 4-5 5-8 4-9 5 3 4-19 4-7 5 12 4-18 5 16 4-4 4-16 5 1 4 2 5 4 4 7-5-6-4 6-5-6-4 14-4-1-5 13-4 16-4-6-5-7-4 2-4 6-5-5-4 18-5 3-4-18-4 27-5 1-4 9-4-13-5 4-4 11-5 4-4-8-4-1-5 1-4 1-4-6-5 18-4-3-5-4-4 0-4-7-5-6-4 0-4 8-5-4-4-9-4 12-5 14-4 12-5 6-4-9-4 20-5 0-4 6-4-1-5 9-4-7-5 5-4 3-4 9-5-12-4 2-4 5-5 8-4-7-5 14-4 3-4-4-5 7-4-1-4 9-5-5-4-24-4-7-5 24-4 6-5-3-4 1-4-7-5 8-4 0-4 9-5 5-4 16-5-6-4-6-4 18-5-23z"/><path transform="translate(246.1 188.9)" d="M2676 1547l4 24 5-19 4 6 5 6 4-16 4-5 5-9 4 0 4-7 5 6 4-1 5 3 4-6 4-24 5 7 4 24 4 5 5-9 4 2 4-7 5 3 4-3 5-14 4 7 4-8 5-5 4-2 4 12 5-9 4-3 5-4 4 7 4-9 5 0 4-6 4 0 5-20 4 9 5-6 4-12 4-13 5-13 4 9 4 4 5-7 4 0 5 5 4 7 4 0 5 5 4 2 4-17 5 5 4 0 4-2 5 1 4 8 5-4 4-11 4-4 5 13 4-8 4-2 5-27 4 18 5-3 4-18 4 5 5-6 4-2 4 7 5 6 4-16 5-13 4 1 4-14 5 6 4-6 4 6 4 22-4-37-5 29-4-5-4-6-5 26-4 6-4 3-5-4-4 5-4-20-5-3-4 12-4 24-5-2-4 3-4-5-5 10-4-4-4 13-5 8-4-5-4 0-5-8-4 6-4 10-5-8-4 4-4 4-5-14-4 3-4-8-5 11-4-5-4 5-5-4-4 13-4 8-5-4-4 23-4 12-5-20-4 20-4 4-5 11-4-15-4 3-5 11-4-21-4 11-5-2-4 4-4 2-5-1-4 15-4 10-5 11-4-3-4-15-5 0-4-1-4-4-5-6-4 18-4-2-5 4-4-7-4 18-4-5-5 8-4-13-4 13-5 5-4-2-4 8-5 2-4 4-4 2-5 5-4 12z"/><path transform="translate(251.4 193.0)" d="M2678 1582l4-12 4-5 5-1 4-5 4-1 5-9 4 2 4-5 5-13 4 13 4-8 5 5 4-18 4 7 5-3 4 1 4-17 5 5 4 5 4 0 5 0 4 15 4 3 5-11 4-10 4-14 5 0 4-2 4-4 5 2 4-10 4 20 5-10 4-4 4 16 5-12 4-4 4-20 5 21 4-13 4-22 5 4 4-8 4-13 5 3 4-5 4 5 5-11 4 8 4-2 5 13 4-4 4-4 5 8 4-10 4-6 5 8 4 0 4 5 5-8 4-12 4 3 5-10 4 6 4-4 5 2 4-23 4-13 5 3 4 20 4-5 5 5 4-3 4-7 5-25 4 5 4 5 4-29 5 37 3-3-4 4-4 4-5-6-4 15-4-27-5 25-4 6-4 2-4-1-5-7-4 3-4 9-5 12-4 10-4-3-4-1-5 5-4-3-4-4-5 20-4-3-4 11-4-12-5 1-4 8-4 8-4-15-5-8-4-9-4 22-5 10-4-6-4-9-4-8-5 25-4 4-4 7-5-6-4 5-4 16-4-26-5 27-4-1-4-4-5 1-4-10-4 18-4-8-5 4-4 2-4 13-5-13-4 12-4 1-4 14-5 5-4 6-4-27-5 22-4-11-4 10-4-27-5 19-4 1-4 3-5 17-4 3-4-6-4 4-5 1-4 7-4-10-5 3-4 1-4 6-4-9-5 21-4 1-4 8z"/><path transform="translate(256.6 197.0)" d="M2680 1575l4-8 4-1 4-21 5 10 4-7 4-1 5-3 4 10 4-6 4-2 5-4 4 6 4-3 5-16 4-3 4-2 4-19 5 27 4-10 4 11 4-21 5 26 4-6 4-5 5-13 4-2 4-12 4 14 5-14 4-1 4-5 5 9 4-19 4 10 4-1 5 4 4 1 4-27 5 27 4-17 4-5 4 6 5-7 4-4 4-25 5 8 4 9 4 7 4-11 5-22 4 9 4 9 5 14 4-7 4-9 4-1 5 12 4-11 4 3 5-20 4 4 4 3 4-5 5 1 4 3 4-10 5-12 4-9 4-2 4 7 5 0 4-2 4-5 4-26 5 28 4-15 4 5 5-4 4-4 3 17-4-14-5 14-4-12-4-5-4-3-5 22-4-6-4 12-4 14-4 6-5-10-4 3-4 19-4-5-5 5-4 3-4 4-4 1-4 7-5-7-4-2-4-7-4 10-5-6-4 1-4 1-4 7-4 10-5 0-4-8-4 21-4-22-5 9-4 6-4 4-4 0-4 10-5-1-4 3-4 8-4-9-5 15-4 8-4-12-4 1-4 6-5-1-4 3-4 0-4 9-5-12-4 8-4 6-4 11-4-14-5 7-4 6-4-10-4 4-5-20-4 29-4 0-4-20-5 21-4 6-4 12-4-4-4-6-5-10-4 17-4 8-4 8-5-9-4 2-4 5-4-8-4 8-5-12-4-3z"/><path transform="translate(261.8 201.0)" d="M2682 1547l4 2 4 13 5-8 4 7 4-5 4-2 4 9 5-8 4-8 4-17 4 11 5 5 4 5 4-13 4-6 4-21 5 20 4 0 4-29 4 20 5-3 4 10 4-7 4-6 4 13 5-11 4-6 4-7 4 11 5-9 4 0 4-3 4 1 4-6 5-1 4 12 4-7 4-16 5 9 4-8 4-3 4 1 5-10 4 1 4-4 4-7 4-9 5 22 4-21 4 8 4 0 5-10 4-7 4-1 4-1 4 7 5-11 4 7 4 2 4 7 5-7 4-1 4-4 4-3 4-5 5 6 4-19 4-4 4 10 5-5 4-14 4-13 4 6 4-21 5 3 4 5 4 11 4-13 5 13 2-17-4-16-4 15-5 21-4-16-4 3-4-10-4 37-4 7-5-10-4 5-4 7-4 19-4-5-4 4-4 2-5 6-4-7-4 18-4-4-4 9-4-37-4 2-5 27-4-16-4 7-4-1-4 18-4 5-4-12-5-5-4 3-4-9-4 11-4 14-4 16-5-5-4 1-4-6-4 13-4-16-4 23-4-1-5-3-4-12-4 7-4 14-4-20-4 9-4 11-5-7-4 22-4-13-4 22-4-1-4 14-4-13-5 2-4-21-4 21-4 0-4-3-4 8-5 8-4-9-4-5-4 9-4 15-4-2-4 3-5-7-4-7-4-4-4 25-4 11-4 3-4 0-5-1-4-3-4 6z"/><path transform="translate(267.1 205.0)" d="M2685 1578l4-6 4 2 4 1 4 0 5-3 4-11 4-25 4 4 4 7 4 7 5-3 4 2 4-15 4-9 4 5 4 9 4-8 5-8 4 3 4 0 4-21 4 21 4-2 4 13 5-14 4 1 4-22 4 14 4-22 4 6 4-11 5-9 4 20 4-14 4-6 4 11 4 3 5 1 4-23 4 16 4-13 4 6 4-1 4 5 5-16 4-14 4-11 4 9 4-3 4 5 4 12 5-5 4-18 4 1 4-7 4 16 4-26 4-3 5 38 4-10 4 4 4-18 4 8 4-6 5-2 4-5 4 5 4-19 4-7 4-4 4 9 5-6 4-38 4 10 4-3 4 16 4-21 4-15 5 16 1 14-4-10-4 18-4 8-4 9-4-13-4 3-4 24-4-3-4-3-4 4-4 1-5-2-4 16-4 10-4 1-4-2-4 20-4-3-4-5-4-5-4 8-4-9-4 12-4-12-4-2-4-13-4 2-4 8-4 11-5 14-4-5-4 15-4-15-4 10-4 2-4-15-4 5-4-22-4-4-4 25-4 20-4-10-4-19-4 16-4 13-4 14-4 7-5 4-4-6-4 4-4 1-4-6-4 11-4-1-4-1-4 0-4 8-4-13-4 15-4 3-4-1-4-31-4 22-4 17-4 0-4 0-5 5-4 14-4-15-4 10-4 16-4-9-4 16-4-7-4 8-4 1-4-5-4-6-4 12z"/><path transform="translate(272.3 209.0)" d="M2689 1579l4-12 4 6 4 5 4-1 4-8 4 7 4-16 4 9 4-16 4-10 4 15 4-14 4-4 4-1 4 0 4-17 4-21 5 31 4 0 4-3 4-15 4 14 4-9 4 1 4 0 4 2 4-12 4 6 4-1 4-4 4 6 4-4 4-7 4-13 4-14 5-16 4 19 4 10 4-20 4-25 4 4 4 22 4-4 4 14 4-2 4-9 4 14 4-15 4 6 4-15 4-11 4-8 4-2 5 13 4 3 4 11 4-12 4 9 4-8 4 5 4 5 4 3 4-20 4 2 4 0 4-10 4-17 4 3 4-2 4-4 4 3 5 3 4-23 4-4 4 14 4-10 4-8 4-18 4 10 1 14-4 7-4-7-4 7-4 10-4-19-4 7-4 28-4-14-4 4-4 8-4 1-4 4-4 8-4-12-4-5-4 31-3 3-4-9-4 22-4-11-4 1-4-10-4 13-4-12-4-13-4 14-4 5-4 1-4 14-4-9-4 2-4 12-3-6-4 14-4 2-4-6-4 4-4-20-4-1-4 2-4 19-4-10-4 4-4 11-4-5-4 20-4-9-4-4-3 7-4 16-4 8-4 3-4 4-4-3-4-2-4-7-4-7-4 15-4 7-4 2-4 3-4-1-4 6-4 5-3-5-4-3-4 6-4-4-4 13-4 4-4 12-4 20-4-3-4-21-4 17-4-5-4 7-4 1-4 1z"/><path transform="translate(277.5 213.1)" d="M2693 1589l4-1 4-1 4-7 4 5 4-17 4 21 4 3 4-20 4-11 4-5 3-13 4 4 4-6 4 3 4 6 4-6 4-6 4 1 4-3 4-2 4-7 4-15 4 8 4 7 4 2 4 2 3-4 4-3 4-8 4-16 4-7 4 4 4 9 4-19 4 4 4-11 4-4 4 11 4-20 4-2 4 2 4 19 4-4 3 6 4-2 4-14 4 6 4-12 4-2 4 9 4-14 4-1 4-5 4-14 4 13 4 12 4-13 4 11 4-1 3 10 4-22 4 9 4-2 4-32 4 5 4 12 4-8 4-4 4 0 4-9 4-4 4 14 4-28 4-7 4 19 3-10 4-7 4 7 4-7 0 21-4 9-4 2-4-1-4 3-3 1-4 3-4 7-4 1-3-9-4 5-4 3-4 4-4-11-3 5-4 7-4-9-4 17-4 7-3-6-4 16-4-8-4-7-4 11-3-10-4 0-4 11-4 3-3-10-4 11-4-11-4-6-4 11-3 9-4 6-4 0-4-9-4 12-3-1-4 4-4-8-4 23-4 11-3-1-4-12-4-3-4-8-3 3-4 15-4 3-4-12-4 15-3 11-4-5-4-18-4 9-4 15-3 5-4-13-4 23-4-7-3 7-4 10-4-18-4 2-4 16-3 8-4-5-4-1-4-7-4 18-3 14-4 6-4-9-4 0-4-12-3 11-4 17-4-17-4 12z"/><path transform="translate(282.8 217.1)" d="M2699 1580l4-12 4 17 3-17 4-10 4 11 4 0 4 9 3-5 4-14 4-18 4 6 4 1 3 5 4-7 4-17 4-2 3 18 4-10 4-7 4 8 4-24 3 13 4-4 4-15 4-9 4 17 3 5 4-11 4-15 4 12 4-3 3-14 4-4 4 8 4 3 3 12 4 1 4-11 4-23 4 9 3-5 4 1 4-12 4 9 4 0 3-6 4-9 4-11 4 6 3 12 4-11 4 10 4-4 4-10 3-1 4 10 4-11 4 7 4 9 3-17 4 6 4-7 4-17 4 9 3-7 4-5 4 11 4-3 3-4 4-5 4 9 4-1 4-7 3-3 4-1 4-3 4 2 4-3 3-9-2 14-4 3-3 7-4-3-4-1-3-8-4 4-3-3-4 11-4 1-3 5-4 8-3-12-4-4-3-1-4 12-4-2-3 20-4 9-3-15-4 2-4 9-3 3-4-6-3-3-4-2-4-1-3 8-4 6-3 5-4-10-4 6-3 6-4 8-3-6-4 2-3 0-4 0-4 3-3 11-4-19-3 23-4 8-4 1-3-15-4 8-3 0-4-6-4-4-3-1-4 13-3-1-4 11-4 15-3-2-4 1-3-10-4 3-3 11-4 10-4 1-3-14-4-14-3 27-4-12-4 9-3 6-4 1-3 5-4 6-4-1-3 6-4-16-3 10-4-19-4 10-3 19-4-9-3 20-4 6z"/><path transform="translate(288.0 221.1)" d="M2707 1579l3-6 4-20 4 9 3-19 4-10 3 19 4-10 4 16 3-6 4 1 3-6 4-5 4-1 3-5 4-10 3 12 4-26 4 13 3 14 4-1 3-10 4-10 3-4 4 10 4-1 3 2 4-15 3-10 4 0 4-13 3 1 4 4 3 7 4-1 4-8 3 16 4-2 3-7 4-24 4 19 3-11 4-2 3-1 4 0 3-2 4 6 4-8 3-6 4-6 3 10 4-5 4-6 3-8 4 1 3 2 4 3 4 6 3-2 4-10 3-2 4 15 4-8 3-21 4 2 3-12 4 1 3 5 4 11 4-7 3-6 4 0 3-12 4 4 4-5 3 8 4 1 3 3 4-7 4-3-6 4-3-16-4-6-3 7-3 4-4-16-3 35-3-4-4 12-3-29-3 13-3 23-4 8-3-10-3 12-4 5-3-5-3-4-4-1-3 12-3-8-4-7-3 13-3-17-4 22-3-8-3-8-4-3-3 23-3 7-4 1-3 2-3-7-3 1-4-7-3 13-3 3-4-32-3 22-3 18-4 7-3-11-3 11-4 11-3-15-3-8-4 11-3-2-3 6-4 3-3 18-3 1-4-21-3-6-3-9-3 14-4 6-3 18-3-2-4 5-3 1-3 14-4-11-3-1-3-9-4 10-3-6-3 2-4 11-3 4-3 5-4 6-3 2-3-2-4-9-3 12-3 15-3 3-4-1-3-6z"/><path transform="translate(293.3 225.1)" d="M2718 1563l3 6 3 1 4-3 3-15 3-12 4 10 3 1 3-2 4-6 3-4 3-5 3-11 4-2 3 6 3-9 4 8 3 1 3 11 4-14 3-1 3-4 4 2 3-18 3-7 4-14 3 10 3 5 4 21 3-1 3-18 4-2 3-7 3 2 3-11 4 8 3 15 3-11 4-10 3 10 3-7 4-17 3-23 3 33 4-4 3-12 3 6 4 0 3 6 3-2 4-1 3-7 3-23 4 3 3 8 3 8 3-22 4 17 3-13 3 7 4 8 3-12 3 2 4 4 3 5 3-5 4-12 3 9 3-8 4-23 3-12 3 29 4-13 3 5 3-36 4 16 3-4 3-6 3 5 4 16-12 2-3 0-3 4-2 15-3 4-3-8-3 7-3 11-3-13-3 5-3 12-3 2-2-1-3-27-3 17-3 1-3-24-3 13-3 20-3-23-3 19-3 15-2-4-3 2-3-8-3-5-3 9-3-5-3-6-3 10-3 12-2 1-3 7-3 8-3-5-3-6-3 6-3 3-3 5-3-8-2-2-3-1-3 0-3 13-3-19-3-11-3-7-3 10-3 11-3 5-2 13-3 3-3 8-3 12-3 2-3-1-3 7-3-21-3-9-2-7-3 18-3 10-3 0-3 3-3 10-3-3-3-3-3 10-3 0-2-2-3 8-3 7-3 5-3-4-3 4-3 16-3-3-3-8-2-4-3 2z"/><path transform="translate(298.5 229.1)" d="M2734 1551l3-2 3 5 3 7 3 3 3-15 3-4 3 3 3-5 2-7 3-8 3 2 3 0 3-10 3 3 3 3 3-10 3-3 3 0 2-10 3-18 3 8 3 8 3 21 3-7 3 2 3-3 3-12 2-8 3-3 3-13 3-5 3-11 3-9 3 6 3 11 3 19 2-13 3 0 3 1 3 2 3 8 3-5 3-2 3-7 3 6 3 5 2-8 3-7 3-1 3-12 3-9 3 5 3 6 3-10 3 5 2 8 3-2 3 4 3-15 3-19 3 24 3-21 3-13 3 24 3-1 2-17 3 27 3 1 3-2 3-12 3-5 3 13 3-11 3-7 2 9 3-5 3-14 3-4 3-1-35 27-2 0-2 2-2 2-1 5-2 6-2 0-2-9-2-5-2 18-2 12-2-7-1-20-2-8-2 15-2 6-2 0-2 4-2 10-2 9-1 0-2-6-2-5-2 3-2 2-2-8-2 0-2 12-1 5-2-5-2 0-2 6-2-4-2-7-2-10-2 13-1 10-2-6-2-1-2 2-2-4-2-7-2 0-2 9-1 1-2-2-2 0-2 4-2 9-2 0-2-5-2 4-1 0-2-2-2 9-2 6-2-2-2-1-2 7-2-2-1-8-2 3-2 8-2-4-2-2-2 8-2 10-2 0-1-5-2 1-2 2-2-4-2-7-2-4-2 4-2-1-1 9-2 17-2 3-2-1z"/></g></g>
<path d="M64.7 93.2L64.7 119.9L202.0 252.0L376.0 169.0M64.7 119.9L61.1 121.6M110.0 163.5L106.4 165.2M155.3 207.1L151.7 208.8M223.6 241.7L226.5 244.5M287.3 211.3L290.1 214.1M351.6 180.6L354.5 183.4M64.7 117.1L61.5 114.0M64.7 112.3L61.5 109.2M64.7 106.7L61.5 103.6M64.7 101.1L61.5 98.0M64.7 95.5L61.5 92.4" fill="none" stroke="#262626" stroke-width="1.8" stroke-linejoin="miter"/>
<path d="M469.2 99.0L469.2 146.5L625.6 246.6L812.7 162.5M483.8 155.9L480.2 157.5M515.5 176.1L511.9 177.8M547.7 196.8L544.1 198.4M579.3 216.9L575.6 218.6M608.5 235.6L604.8 237.3M641.6 239.4L645.0 241.6M679.5 222.4L682.8 224.5M722.0 203.3L725.4 205.4M759.8 186.3L763.2 188.4M797.9 169.2L801.2 171.3M469.2 137.0L465.4 134.6M469.2 118.5L465.4 116.0M469.2 100.4L465.4 98.0" fill="none" stroke="#262626" stroke-width="1.8" stroke-linejoin="miter"/>
<path d="M922.0 97.2L922.0 127.2L1058.0 255.0L1233.0 173.6M928.5 133.3L924.8 135.0M971.4 173.6L967.8 175.3M1014.8 214.4L1011.1 216.1M1078.8 245.3L1081.8 248.0M1146.4 213.9L1149.3 216.6M1209.5 184.5L1212.4 187.3M922.0 122.9L918.7 119.8M922.0 119.3L918.7 116.2M922.0 114.5L918.7 111.4M922.0 110.1L918.7 107.0M922.0 105.7L918.7 102.6M922.0 101.7L918.7 98.6M922.0 97.7L918.7 94.6" fill="none" stroke="#262626" stroke-width="1.8" stroke-linejoin="miter"/>
<path d="M1324.0 93.9L1324.0 144.3L1477.5 245.4L1664.6 161.6M1338.6 153.9L1334.9 155.5M1369.8 174.5L1366.2 176.1M1401.8 195.5L1398.1 197.2M1434.2 216.9L1430.6 218.5M1462.7 235.6L1459.0 237.3M1495.6 237.3L1498.9 239.5M1533.9 220.1L1537.3 222.3M1572.4 202.9L1575.7 205.1M1613.6 184.4L1617.0 186.6M1651.4 167.5L1654.8 169.7M1324.0 132.2L1320.2 129.7M1324.0 119.1L1320.2 116.6M1324.0 104.5L1320.2 102.0" fill="none" stroke="#262626" stroke-width="1.8" stroke-linejoin="miter"/>
<path d="M71.9 420.7L71.9 455.0L213.0 587.6L372.0 459.4M98.3 479.8L95.2 482.3M133.0 512.5L129.9 515.0M167.6 544.9L164.5 547.4M202.7 577.9L199.6 580.4M232.1 572.2L235.0 574.9M270.2 541.5L273.1 544.2M307.5 511.4L310.4 514.2M344.2 481.8L347.1 484.5M71.9 440.9L68.6 437.9M71.9 428.9L68.6 425.9" fill="none" stroke="#262626" stroke-width="1.8" stroke-linejoin="miter"/>
<path d="M476.5 404.8L476.5 465.8L643.3 593.9L843.0 487.3M485.6 472.8L482.1 474.7M537.1 512.3L533.6 514.2M590.6 553.4L587.1 555.3M663.5 583.1L666.7 585.5M717.2 554.5L720.4 556.9M771.3 525.6L774.5 528.0M825.4 496.7L828.5 499.1M476.5 455.4L472.9 452.7M476.5 434.7L472.9 431.9M476.5 413.3L472.9 410.6" fill="none" stroke="#262626" stroke-width="1.8" stroke-linejoin="miter"/>
<path d="M928.1 422.0L928.1 453.5L1073.8 589.7L1227.4 464.6M955.0 478.7L951.9 481.2M991.3 512.6L988.2 515.1M1026.9 545.8L1023.8 548.4M1062.9 579.5L1059.8 582.0M1084.9 580.7L1087.8 583.4M1123.4 549.3L1126.3 552.0M1161.9 518.0L1164.8 520.7M1200.4 486.6L1203.4 489.3M928.1 440.6L924.8 437.5M928.1 429.6L924.8 426.5" fill="none" stroke="#262626" stroke-width="1.8" stroke-linejoin="miter"/>
<path d="M1325.0 400.5L1325.0 460.0L1492.4 588.6L1692.2 481.4M1335.2 467.8L1331.7 469.7M1388.2 508.5L1384.6 510.4M1440.0 548.3L1436.5 550.2M1511.7 578.2L1514.9 580.7M1566.2 549.0L1569.3 551.5M1620.2 520.0L1623.4 522.4M1674.5 490.9L1677.7 493.3M1325.0 455.8L1321.4 453.1M1325.0 441.6L1321.4 438.8M1325.0 427.3L1321.4 424.5M1325.0 413.6L1321.4 410.8" fill="none" stroke="#262626" stroke-width="1.8" stroke-linejoin="miter"/>
<path d="M86.7 777.3L86.7 818.9L221.2 946.5L375.9 822.5M108.0 839.1L104.9 841.6M142.7 872.0L139.6 874.5M176.4 904.0L173.3 906.5M211.3 937.1L208.2 939.6M248.3 924.8L251.2 927.5M285.9 894.7L288.8 897.4M323.0 864.9L325.9 867.6M360.2 835.1L363.1 837.8M86.7 808.5L83.4 805.4M86.7 787.7L83.4 784.6" fill="none" stroke="#262626" stroke-width="1.8" stroke-linejoin="miter"/>
<path d="M476.1 765.8L476.1 823.7L634.0 943.6L823.8 844.2M492.6 836.2L489.1 838.1M538.9 871.4L535.3 873.2M583.8 905.5L580.3 907.3M629.7 940.3L626.1 942.2M668.0 925.8L671.2 928.2M721.0 898.0L724.2 900.4M773.7 870.4L776.9 872.8M826.3 842.9L829.5 845.3M476.1 814.1L472.5 811.4M476.1 794.2L472.5 791.4M476.1 773.8L472.5 771.1" fill="none" stroke="#262626" stroke-width="1.8" stroke-linejoin="miter"/>
<path d="M921.4 781.7L921.4 818.9L1065.3 952.6L1219.6 827.9M945.5 841.3L942.4 843.8M982.1 875.3L979.0 877.8M1018.6 909.2L1015.5 911.7M1054.2 942.3L1051.1 944.8M1085.6 936.2L1088.5 938.9M1124.4 904.8L1127.3 907.6M1162.9 873.7L1165.9 876.4M1202.7 841.6L1205.6 844.3M921.4 815.2L918.1 812.1M921.4 800.3L918.1 797.2M921.4 785.4L918.1 782.4" fill="none" stroke="#262626" stroke-width="1.8" stroke-linejoin="miter"/>
<path d="M1323.3 766.8L1323.3 824.6L1480.4 945.2L1669.3 845.8M1339.7 837.2L1336.1 839.0M1385.2 872.1L1381.7 874.0M1430.1 906.6L1426.5 908.4M1476.2 942.0L1472.7 943.8M1515.0 927.0L1518.2 929.4M1568.0 899.1L1571.1 901.6M1618.7 872.4L1621.9 874.9M1671.6 844.6L1674.7 847.0M1323.3 819.4L1319.7 816.7M1323.3 794.5L1319.7 791.8M1323.3 768.5L1319.7 765.8" fill="none" stroke="#262626" stroke-width="1.8" stroke-linejoin="miter"/>
<text transform="translate(34.5 44.8) scale(1.1 1)" font-size="34.5">(a)</text>
<rect x="347.0" y="44.0" width="22.0" height="48.0" fill="url(#jetv)" stroke="#000" stroke-width="1.6"/>
<text x="420.1" y="32.3" font-size="22.2" text-anchor="end" fill="#000">Depth (mm)</text>
<text x="373.2" y="56.3" font-size="19.3" text-anchor="start" fill="#000">60</text>
<text x="373.2" y="77.3" font-size="19.3" text-anchor="start" fill="#000">45</text>
<text x="373.2" y="98.2" font-size="19.3" text-anchor="start" fill="#000">30</text>
<text x="56.0" y="143.9" font-size="13.5" text-anchor="middle" fill="#4d4d4d">0</text>
<text x="97.0" y="186.9" font-size="13.5" text-anchor="middle" fill="#4d4d4d">50</text>
<text x="137.0" y="228.9" font-size="13.5" text-anchor="middle" fill="#4d4d4d">100</text>
<text x="237.0" y="263.9" font-size="13.5" text-anchor="middle" fill="#4d4d4d">50</text>
<text x="305.0" y="233.9" font-size="13.5" text-anchor="middle" fill="#4d4d4d">100</text>
<text x="367.5" y="203.9" font-size="13.5" text-anchor="middle" fill="#4d4d4d">150</text>
<text x="57.0" y="86.8" font-size="15.5" text-anchor="end" fill="#000">55</text>
<text x="57.0" y="100.7" font-size="15.5" text-anchor="end" fill="#000">50</text>
<text x="57.0" y="113.9" font-size="15.5" text-anchor="end" fill="#000">45</text>
<text x="57.0" y="127.5" font-size="15.5" text-anchor="end" fill="#000">40</text>
<text x="29.2" y="101.0" font-size="16" text-anchor="middle" fill="#000" transform="rotate(-90 29.2 101)">Z (mm)</text>
<text x="97.0" y="220.8" font-size="16.5" text-anchor="middle" fill="#000" transform="rotate(40 97 220.775)">X (mm)</text>
<text x="325.5" y="250.3" font-size="16.5" text-anchor="middle" fill="#000" transform="rotate(-30 325.5 250.275)">Y (mm)</text>
<text transform="translate(431.0 44.8) scale(1.1 1)" font-size="34.5">(b)</text>
<rect x="799.0" y="44.0" width="22.5" height="48.0" fill="url(#jetv)" stroke="#000" stroke-width="1.6"/>
<text x="865.1" y="32.3" font-size="22.2" text-anchor="end" fill="#000">Error (mm)</text>
<text x="825.7" y="56.3" font-size="19.3" text-anchor="start" fill="#000">0.5</text>
<text x="825.7" y="77.3" font-size="19.3" text-anchor="start" fill="#000">0</text>
<text x="825.7" y="98.2" font-size="19.3" text-anchor="start" fill="#000">-0.5</text>
<text x="467.7" y="176.0" font-size="14.6" text-anchor="middle" fill="#4d4d4d">20</text>
<text x="499.4" y="196.3" font-size="14.6" text-anchor="middle" fill="#4d4d4d">40</text>
<text x="531.6" y="216.9" font-size="14.6" text-anchor="middle" fill="#4d4d4d">60</text>
<text x="563.0" y="237.3" font-size="14.6" text-anchor="middle" fill="#4d4d4d">80</text>
<text x="591.0" y="257.9" font-size="14.6" text-anchor="middle" fill="#4d4d4d">100</text>
<text x="655.5" y="260.6" font-size="14.6" text-anchor="middle" fill="#4d4d4d">60</text>
<text x="693.6" y="244.1" font-size="14.6" text-anchor="middle" fill="#4d4d4d">80</text>
<text x="737.0" y="226.9" font-size="14.6" text-anchor="middle" fill="#4d4d4d">100</text>
<text x="774.5" y="209.3" font-size="14.6" text-anchor="middle" fill="#4d4d4d">120</text>
<text x="812.7" y="192.5" font-size="14.6" text-anchor="middle" fill="#4d4d4d">140</text>
<text x="459.4" y="101.1" font-size="14.5" text-anchor="end" fill="#505050">0.5</text>
<text x="459.4" y="119.2" font-size="14.5" text-anchor="end" fill="#505050">0</text>
<text x="459.4" y="137.8" font-size="14.5" text-anchor="end" fill="#505050">-0.5</text>
<text x="430.2" y="116.4" font-size="16.4" text-anchor="middle" fill="#000" transform="rotate(-90 430.24 116.4)">Error (mm)</text>
<text x="505.8" y="224.4" font-size="16.5" text-anchor="middle" fill="#000" transform="rotate(38 505.8 224.375)">X (mm)</text>
<text x="760.0" y="235.6" font-size="16.5" text-anchor="middle" fill="#000" transform="rotate(-27 760 235.575)">Y (mm)</text>
<text x="533.0" y="286.2" font-size="25.8" text-anchor="start" fill="#000">RMS = 189.85μm</text>
<text transform="translate(887.5 44.8) scale(1.1 1)" font-size="34.5">(c)</text>
<rect x="1205.5" y="44.0" width="22.5" height="48.0" fill="url(#jetv)" stroke="#000" stroke-width="1.6"/>
<text x="1276.8" y="32.3" font-size="22.2" text-anchor="end" fill="#000">Depth (mm)</text>
<text x="1232.2" y="56.3" font-size="19.3" text-anchor="start" fill="#000">60</text>
<text x="1232.2" y="77.3" font-size="19.3" text-anchor="start" fill="#000">45</text>
<text x="1232.2" y="98.2" font-size="19.3" text-anchor="start" fill="#000">30</text>
<text x="912.0" y="147.5" font-size="13.5" text-anchor="middle" fill="#4d4d4d">0</text>
<text x="953.0" y="189.9" font-size="13.5" text-anchor="middle" fill="#4d4d4d">50</text>
<text x="993.7" y="233.5" font-size="13.5" text-anchor="middle" fill="#4d4d4d">100</text>
<text x="1093.0" y="266.9" font-size="13.5" text-anchor="middle" fill="#4d4d4d">50</text>
<text x="1161.0" y="236.4" font-size="13.5" text-anchor="middle" fill="#4d4d4d">100</text>
<text x="1224.0" y="206.9" font-size="13.5" text-anchor="middle" fill="#4d4d4d">150</text>
<text x="912.2" y="82.4" font-size="15.5" text-anchor="end" fill="#000">55</text>
<text x="912.2" y="94.8" font-size="15.5" text-anchor="end" fill="#000">50</text>
<text x="912.2" y="107.9" font-size="15.5" text-anchor="end" fill="#000">45</text>
<text x="912.2" y="120.7" font-size="15.5" text-anchor="end" fill="#000">40</text>
<text x="912.2" y="134.7" font-size="15.5" text-anchor="end" fill="#000">35</text>
<text x="885.6" y="107.0" font-size="16" text-anchor="middle" fill="#000" transform="rotate(-90 885.6 107)">Z (mm)</text>
<text x="952.6" y="219.8" font-size="16.5" text-anchor="middle" fill="#000" transform="rotate(40 952.6 219.775)">X (mm)</text>
<text x="1161.0" y="257.5" font-size="16.5" text-anchor="middle" fill="#000" transform="rotate(-30 1161 257.475)">Y (mm)</text>
<text transform="translate(1284.5 44.8) scale(1.1 1)" font-size="34.5">(d)</text>
<rect x="1635.0" y="44.0" width="22.0" height="48.0" fill="url(#jetv)" stroke="#000" stroke-width="1.6"/>
<text x="1702.2" y="32.3" font-size="22.2" text-anchor="end" fill="#000">Error (mm)</text>
<text x="1661.2" y="56.3" font-size="19.3" text-anchor="start" fill="#000">0.1</text>
<text x="1661.2" y="77.3" font-size="19.3" text-anchor="start" fill="#000">0</text>
<text x="1661.2" y="98.2" font-size="19.3" text-anchor="start" fill="#000">-0.1</text>
<text x="1322.0" y="174.3" font-size="14.6" text-anchor="middle" fill="#4d4d4d">20</text>
<text x="1353.0" y="195.3" font-size="14.6" text-anchor="middle" fill="#4d4d4d">40</text>
<text x="1385.0" y="216.3" font-size="14.6" text-anchor="middle" fill="#4d4d4d">60</text>
<text x="1417.7" y="237.3" font-size="14.6" text-anchor="middle" fill="#4d4d4d">80</text>
<text x="1444.6" y="258.3" font-size="14.6" text-anchor="middle" fill="#4d4d4d">100</text>
<text x="1510.0" y="259.7" font-size="14.6" text-anchor="middle" fill="#4d4d4d">60</text>
<text x="1548.0" y="241.8" font-size="14.6" text-anchor="middle" fill="#4d4d4d">80</text>
<text x="1586.8" y="225.3" font-size="14.6" text-anchor="middle" fill="#4d4d4d">100</text>
<text x="1628.7" y="208.3" font-size="14.6" text-anchor="middle" fill="#4d4d4d">120</text>
<text x="1666.0" y="190.3" font-size="14.6" text-anchor="middle" fill="#4d4d4d">140</text>
<text x="1313.0" y="107.2" font-size="15" text-anchor="end" fill="#505050">0.1</text>
<text x="1313.0" y="120.6" font-size="15" text-anchor="end" fill="#505050">0</text>
<text x="1313.0" y="134.7" font-size="15" text-anchor="end" fill="#505050">-0.1</text>
<text x="1282.4" y="114.0" font-size="16.4" text-anchor="middle" fill="#000" transform="rotate(-90 1282.44 114)">Error (mm)</text>
<text x="1361.0" y="227.3" font-size="16.5" text-anchor="middle" fill="#000" transform="rotate(38 1361 227.275)">X (mm)</text>
<text x="1598.8" y="242.3" font-size="16.5" text-anchor="middle" fill="#000" transform="rotate(-27 1598.8 242.275)">Y (mm)</text>
<text x="1379.8" y="287.0" font-size="25.8" text-anchor="start" fill="#000">RMS = 50.27μm</text>
<text transform="translate(33.5 325.3) scale(1.1 1)" font-size="34.5">(e)</text>
<rect x="347.0" y="326.0" width="22.0" height="48.0" fill="url(#jetv)" stroke="#000" stroke-width="1.6"/>
<text x="420.1" y="314.3" font-size="22.2" text-anchor="end" fill="#000">Depth (mm)</text>
<text x="373.2" y="337.2" font-size="18.2" text-anchor="start" fill="#000">60</text>
<text x="373.2" y="358.3" font-size="18.2" text-anchor="start" fill="#000">50</text>
<text x="373.2" y="379.2" font-size="18.2" text-anchor="start" fill="#000">40</text>
<text x="73.4" y="503.6" font-size="16" text-anchor="middle" fill="#4d4d4d">110</text>
<text x="108.3" y="536.1" font-size="16" text-anchor="middle" fill="#4d4d4d">120</text>
<text x="143.2" y="568.2" font-size="16" text-anchor="middle" fill="#4d4d4d">130</text>
<text x="178.1" y="601.4" font-size="16" text-anchor="middle" fill="#4d4d4d">140</text>
<text x="253.2" y="594.4" font-size="16" text-anchor="middle" fill="#4d4d4d">30</text>
<text x="291.6" y="564.1" font-size="16" text-anchor="middle" fill="#4d4d4d">40</text>
<text x="328.3" y="533.3" font-size="16" text-anchor="middle" fill="#4d4d4d">50</text>
<text x="365.0" y="503.6" font-size="16" text-anchor="middle" fill="#4d4d4d">60</text>
<text x="63.0" y="428.3" font-size="15.5" text-anchor="end" fill="#000">60</text>
<text x="63.0" y="448.6" font-size="15.5" text-anchor="end" fill="#000">55</text>
<text x="36.8" y="433.0" font-size="16" text-anchor="middle" fill="#000" transform="rotate(-90 36.8 433)">Z (mm)</text>
<text x="96.0" y="566.8" font-size="17.5" text-anchor="middle" fill="#000" transform="rotate(45 96 566.825)">X (mm)</text>
<text x="324.8" y="566.8" font-size="17.5" text-anchor="middle" fill="#000" transform="rotate(-40 324.8 566.825)">Y (mm)</text>
<text transform="translate(436.5 325.3) scale(1.1 1)" font-size="34.5">(f)</text>
<rect x="799.0" y="326.0" width="22.5" height="48.0" fill="url(#jetv)" stroke="#000" stroke-width="1.6"/>
<text x="865.1" y="314.3" font-size="22.2" text-anchor="end" fill="#000">Error (mm)</text>
<text x="825.7" y="337.2" font-size="18.2" text-anchor="start" fill="#000">0.5</text>
<text x="825.7" y="358.3" font-size="18.2" text-anchor="start" fill="#000">0</text>
<text x="825.7" y="379.2" font-size="18.2" text-anchor="start" fill="#000">-0.5</text>
<text x="462.4" y="498.3" font-size="15.8" text-anchor="middle" fill="#4d4d4d">110</text>
<text x="514.8" y="536.7" font-size="15.8" text-anchor="middle" fill="#4d4d4d">120</text>
<text x="569.0" y="576.9" font-size="15.8" text-anchor="middle" fill="#4d4d4d">130</text>
<text x="680.7" y="606.6" font-size="15.8" text-anchor="middle" fill="#4d4d4d">30</text>
<text x="734.8" y="578.7" font-size="15.8" text-anchor="middle" fill="#4d4d4d">40</text>
<text x="789.0" y="550.0" font-size="15.8" text-anchor="middle" fill="#4d4d4d">50</text>
<text x="843.0" y="521.0" font-size="15.8" text-anchor="middle" fill="#4d4d4d">60</text>
<text x="466.3" y="416.3" font-size="16" text-anchor="end" fill="#505050">0.5</text>
<text x="466.3" y="437.3" font-size="16" text-anchor="end" fill="#505050">0</text>
<text x="466.3" y="459.3" font-size="16" text-anchor="end" fill="#505050">-0.5</text>
<text x="434.9" y="426.0" font-size="16.4" text-anchor="middle" fill="#000" transform="rotate(-90 434.94 426)">Error (mm)</text>
<text x="504.3" y="563.2" font-size="17" text-anchor="middle" fill="#000" transform="rotate(40 504.3 563.15)">X (mm)</text>
<text x="761.0" y="598.0" font-size="17" text-anchor="middle" fill="#000" transform="rotate(-28 761 597.95)">Y (mm)</text>
<text x="532.0" y="635.2" font-size="25.8" text-anchor="start" fill="#000">RMS = 213.66μm</text>
<text transform="translate(886.5 325.3) scale(1.1 1)" font-size="34.5">(g)</text>
<rect x="1205.5" y="326.0" width="22.5" height="48.0" fill="url(#jetv)" stroke="#000" stroke-width="1.6"/>
<text x="1276.8" y="314.3" font-size="22.2" text-anchor="end" fill="#000">Depth (mm)</text>
<text x="1232.2" y="337.2" font-size="18.2" text-anchor="start" fill="#000">60</text>
<text x="1232.2" y="358.3" font-size="18.2" text-anchor="start" fill="#000">50</text>
<text x="1232.2" y="379.2" font-size="18.2" text-anchor="start" fill="#000">40</text>
<text x="929.9" y="502.6" font-size="16" text-anchor="middle" fill="#4d4d4d">110</text>
<text x="966.5" y="536.1" font-size="16" text-anchor="middle" fill="#4d4d4d">120</text>
<text x="1001.5" y="570.0" font-size="16" text-anchor="middle" fill="#4d4d4d">130</text>
<text x="1038.0" y="603.2" font-size="16" text-anchor="middle" fill="#4d4d4d">140</text>
<text x="1106.2" y="603.2" font-size="16" text-anchor="middle" fill="#4d4d4d">30</text>
<text x="1144.7" y="571.8" font-size="16" text-anchor="middle" fill="#4d4d4d">40</text>
<text x="1183.0" y="540.3" font-size="16" text-anchor="middle" fill="#4d4d4d">50</text>
<text x="1221.5" y="508.8" font-size="16" text-anchor="middle" fill="#4d4d4d">60</text>
<text x="917.6" y="428.3" font-size="15.5" text-anchor="end" fill="#000">60</text>
<text x="917.6" y="449.3" font-size="15.5" text-anchor="end" fill="#000">55</text>
<text x="890.7" y="435.0" font-size="16" text-anchor="middle" fill="#000" transform="rotate(-90 890.7 435)">Z (mm)</text>
<text x="952.6" y="566.8" font-size="17.5" text-anchor="middle" fill="#000" transform="rotate(45 952.6 566.825)">X (mm)</text>
<text x="1179.6" y="575.5" font-size="17.5" text-anchor="middle" fill="#000" transform="rotate(-40 1179.6 575.525)">Y (mm)</text>
<text transform="translate(1283.5 325.3) scale(1.1 1)" font-size="34.5">(h)</text>
<rect x="1635.0" y="326.0" width="22.0" height="48.0" fill="url(#jetv)" stroke="#000" stroke-width="1.6"/>
<text x="1702.2" y="314.3" font-size="22.2" text-anchor="end" fill="#000">Error (mm)</text>
<text x="1661.2" y="337.2" font-size="18.2" text-anchor="start" fill="#000">0.1</text>
<text x="1661.2" y="358.3" font-size="18.2" text-anchor="start" fill="#000">0</text>
<text x="1661.2" y="379.2" font-size="18.2" text-anchor="start" fill="#000">-0.2</text>
<text x="1311.4" y="494.1" font-size="15.8" text-anchor="middle" fill="#4d4d4d">110</text>
<text x="1365.6" y="533.2" font-size="15.8" text-anchor="middle" fill="#4d4d4d">120</text>
<text x="1418.0" y="572.3" font-size="15.8" text-anchor="middle" fill="#4d4d4d">130</text>
<text x="1529.7" y="603.1" font-size="15.8" text-anchor="middle" fill="#4d4d4d">30</text>
<text x="1583.9" y="573.4" font-size="15.8" text-anchor="middle" fill="#4d4d4d">40</text>
<text x="1638.0" y="544.4" font-size="15.8" text-anchor="middle" fill="#4d4d4d">50</text>
<text x="1692.2" y="515.1" font-size="15.8" text-anchor="middle" fill="#4d4d4d">60</text>
<text x="1315.0" y="415.2" font-size="15" text-anchor="end" fill="#505050">0.1</text>
<text x="1315.0" y="429.2" font-size="15" text-anchor="end" fill="#505050">0</text>
<text x="1315.0" y="443.8" font-size="15" text-anchor="end" fill="#505050">-0.1</text>
<text x="1315.0" y="457.8" font-size="15" text-anchor="end" fill="#505050">-0.2</text>
<text x="1283.1" y="428.7" font-size="16.4" text-anchor="middle" fill="#000" transform="rotate(-90 1283.14 428.7)">Error (mm)</text>
<text x="1360.3" y="561.5" font-size="17" text-anchor="middle" fill="#000" transform="rotate(40 1360.3 561.45)">X (mm)</text>
<text x="1601.5" y="586.0" font-size="17" text-anchor="middle" fill="#000" transform="rotate(-28 1601.5 585.95)">Y (mm)</text>
<text x="1379.3" y="635.2" font-size="25.8" text-anchor="start" fill="#000">RMS = 48.53μm</text>
<text transform="translate(40.1 671.0) scale(1.1 1)" font-size="34.5">(i)</text>
<rect x="347.0" y="672.0" width="22.0" height="47.5" fill="url(#jetv)" stroke="#000" stroke-width="1.6"/>
<text x="420.1" y="658.8" font-size="22.2" text-anchor="end" fill="#000">Depth (mm)</text>
<text x="373.2" y="683.5" font-size="18.2" text-anchor="start" fill="#000">60</text>
<text x="373.2" y="704.4" font-size="18.2" text-anchor="start" fill="#000">50</text>
<text x="373.2" y="725.0" font-size="18.2" text-anchor="start" fill="#000">40</text>
<text x="82.4" y="863.6" font-size="15.6" text-anchor="middle" fill="#4d4d4d">110</text>
<text x="118.5" y="895.0" font-size="15.6" text-anchor="middle" fill="#4d4d4d">120</text>
<text x="151.8" y="927.5" font-size="15.6" text-anchor="middle" fill="#4d4d4d">130</text>
<text x="187.2" y="960.0" font-size="15.6" text-anchor="middle" fill="#4d4d4d">140</text>
<text x="271.0" y="949.2" font-size="15.6" text-anchor="middle" fill="#4d4d4d">130</text>
<text x="309.0" y="919.6" font-size="15.6" text-anchor="middle" fill="#4d4d4d">140</text>
<text x="345.1" y="888.5" font-size="15.6" text-anchor="middle" fill="#4d4d4d">150</text>
<text x="382.4" y="858.8" font-size="15.6" text-anchor="middle" fill="#4d4d4d">160</text>
<text x="77.7" y="793.8" font-size="15.5" text-anchor="end" fill="#000">50</text>
<text x="77.7" y="814.7" font-size="15.5" text-anchor="end" fill="#000">40</text>
<text x="48.2" y="799.0" font-size="16" text-anchor="middle" fill="#000" transform="rotate(-90 48.2 799)">Z (mm)</text>
<text x="95.8" y="917.1" font-size="17.5" text-anchor="middle" fill="#000" transform="rotate(45 95.8 917.125)">X (mm)</text>
<text x="323.5" y="931.6" font-size="17.5" text-anchor="middle" fill="#000" transform="rotate(-40 323.5 931.625)">Y (mm)</text>
<text transform="translate(437.4 671.0) scale(1.1 1)" font-size="34.5">(j)</text>
<rect x="799.0" y="672.0" width="22.5" height="47.5" fill="url(#jetv)" stroke="#000" stroke-width="1.6"/>
<text x="865.1" y="658.8" font-size="22.2" text-anchor="end" fill="#000">Error (mm)</text>
<text x="825.7" y="683.5" font-size="18.2" text-anchor="start" fill="#000">0.5</text>
<text x="825.7" y="704.4" font-size="18.2" text-anchor="start" fill="#000">0</text>
<text x="825.7" y="725.0" font-size="18.2" text-anchor="start" fill="#000">-0.5</text>
<text x="471.4" y="859.9" font-size="15.5" text-anchor="middle" fill="#4d4d4d">110</text>
<text x="517.7" y="895.0" font-size="15.5" text-anchor="middle" fill="#4d4d4d">120</text>
<text x="562.5" y="929.3" font-size="15.5" text-anchor="middle" fill="#4d4d4d">130</text>
<text x="608.8" y="963.6" font-size="15.5" text-anchor="middle" fill="#4d4d4d">140</text>
<text x="686.5" y="952.8" font-size="15.5" text-anchor="middle" fill="#4d4d4d">130</text>
<text x="738.9" y="923.9" font-size="15.5" text-anchor="middle" fill="#4d4d4d">140</text>
<text x="791.3" y="895.7" font-size="15.5" text-anchor="middle" fill="#4d4d4d">150</text>
<text x="843.7" y="867.9" font-size="15.5" text-anchor="middle" fill="#4d4d4d">160</text>
<text x="467.1" y="776.0" font-size="16" text-anchor="end" fill="#505050">0.5</text>
<text x="467.1" y="796.3" font-size="16" text-anchor="end" fill="#505050">0</text>
<text x="467.1" y="816.1" font-size="16" text-anchor="end" fill="#505050">-0.5</text>
<text x="433.7" y="790.0" font-size="16.4" text-anchor="middle" fill="#000" transform="rotate(-90 433.74 790)">Error (mm)</text>
<text x="505.8" y="922.5" font-size="17" text-anchor="middle" fill="#000" transform="rotate(40 505.8 922.45)">X (mm)</text>
<text x="759.8" y="940.5" font-size="17" text-anchor="middle" fill="#000" transform="rotate(-28 759.8 940.45)">Y (mm)</text>
<text x="532.7" y="997.2" font-size="25.8" text-anchor="start" fill="#000">RMS = 207.79μm</text>
<text transform="translate(887.4 671.0) scale(1.1 1)" font-size="34.5">(k)</text>
<rect x="1205.5" y="672.0" width="22.5" height="47.5" fill="url(#jetv)" stroke="#000" stroke-width="1.6"/>
<text x="1276.8" y="658.8" font-size="22.2" text-anchor="end" fill="#000">Depth (mm)</text>
<text x="1232.2" y="683.5" font-size="18.2" text-anchor="start" fill="#000">60</text>
<text x="1232.2" y="704.4" font-size="18.2" text-anchor="start" fill="#000">50</text>
<text x="1232.2" y="725.0" font-size="18.2" text-anchor="start" fill="#000">40</text>
<text x="921.4" y="864.2" font-size="15.6" text-anchor="middle" fill="#4d4d4d">110</text>
<text x="957.6" y="898.6" font-size="15.6" text-anchor="middle" fill="#4d4d4d">120</text>
<text x="993.7" y="932.9" font-size="15.6" text-anchor="middle" fill="#4d4d4d">130</text>
<text x="1029.9" y="965.4" font-size="15.6" text-anchor="middle" fill="#4d4d4d">140</text>
<text x="1109.4" y="961.8" font-size="15.6" text-anchor="middle" fill="#4d4d4d">130</text>
<text x="1147.3" y="929.3" font-size="15.6" text-anchor="middle" fill="#4d4d4d">140</text>
<text x="1185.3" y="897.5" font-size="15.6" text-anchor="middle" fill="#4d4d4d">150</text>
<text x="1225.0" y="865.3" font-size="15.6" text-anchor="middle" fill="#4d4d4d">160</text>
<text x="912.4" y="780.4" font-size="15.5" text-anchor="end" fill="#000">55</text>
<text x="912.4" y="799.2" font-size="15.5" text-anchor="end" fill="#000">50</text>
<text x="912.4" y="819.1" font-size="15.5" text-anchor="end" fill="#000">45</text>
<text x="882.9" y="791.8" font-size="16" text-anchor="middle" fill="#000" transform="rotate(-90 882.9 791.8)">Z (mm)</text>
<text x="953.2" y="935.2" font-size="17.5" text-anchor="middle" fill="#000" transform="rotate(45 953.2 935.225)">X (mm)</text>
<text x="1190.7" y="929.8" font-size="17.5" text-anchor="middle" fill="#000" transform="rotate(-40 1190.7 929.825)">Y (mm)</text>
<text transform="translate(1289.3 671.0) scale(1.1 1)" font-size="34.5">(l)</text>
<rect x="1635.0" y="672.0" width="22.0" height="47.5" fill="url(#jetv)" stroke="#000" stroke-width="1.6"/>
<text x="1702.2" y="658.8" font-size="22.2" text-anchor="end" fill="#000">Error (mm)</text>
<text x="1661.2" y="683.5" font-size="18.2" text-anchor="start" fill="#000">0.2</text>
<text x="1661.2" y="704.4" font-size="18.2" text-anchor="start" fill="#000">0</text>
<text x="1661.2" y="725.0" font-size="18.2" text-anchor="start" fill="#000">-0.2</text>
<text x="1318.0" y="861.2" font-size="15.5" text-anchor="middle" fill="#4d4d4d">110</text>
<text x="1363.8" y="895.9" font-size="15.5" text-anchor="middle" fill="#4d4d4d">120</text>
<text x="1408.2" y="930.9" font-size="15.5" text-anchor="middle" fill="#4d4d4d">130</text>
<text x="1455.2" y="965.2" font-size="15.5" text-anchor="middle" fill="#4d4d4d">140</text>
<text x="1532.8" y="952.6" font-size="15.5" text-anchor="middle" fill="#4d4d4d">130</text>
<text x="1585.2" y="923.7" font-size="15.5" text-anchor="middle" fill="#4d4d4d">140</text>
<text x="1635.7" y="896.6" font-size="15.5" text-anchor="middle" fill="#4d4d4d">150</text>
<text x="1688.0" y="867.7" font-size="15.5" text-anchor="middle" fill="#4d4d4d">160</text>
<text x="1314.3" y="770.8" font-size="16" text-anchor="end" fill="#505050">0.2</text>
<text x="1314.3" y="795.5" font-size="16" text-anchor="end" fill="#505050">0</text>
<text x="1314.3" y="820.5" font-size="16" text-anchor="end" fill="#505050">-0.2</text>
<text x="1282.7" y="788.0" font-size="16.4" text-anchor="middle" fill="#000" transform="rotate(-90 1282.74 788)">Error (mm)</text>
<text x="1359.5" y="931.2" font-size="17" text-anchor="middle" fill="#000" transform="rotate(40 1359.5 931.25)">X (mm)</text>
<text x="1597.8" y="947.5" font-size="17" text-anchor="middle" fill="#000" transform="rotate(-28 1597.8 947.45)">Y (mm)</text>
<text x="1379.1" y="996.9" font-size="25.8" text-anchor="start" fill="#000">RMS = 52.46μm</text>
</svg></body></html>
